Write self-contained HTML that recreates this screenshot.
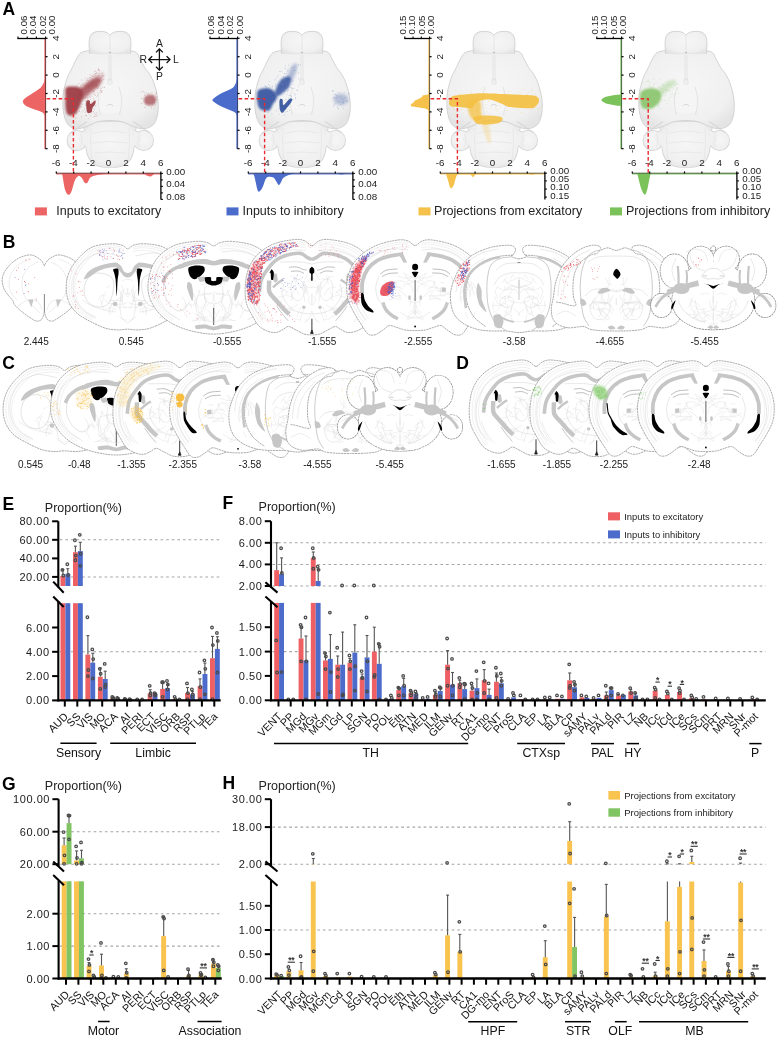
<!DOCTYPE html>
<html><head><meta charset="utf-8"><title>Figure</title>
<style>html,body{margin:0;padding:0;background:#fff;}svg{display:block;}</style>
</head><body>
<svg width="778" height="1038" viewBox="0 0 778 1038" font-family="'Liberation Sans', Arial, Helvetica, sans-serif">
<defs><filter id="blur0p5" x="-20%" y="-20%" width="140%" height="140%"><feGaussianBlur stdDeviation="0.5"/></filter><filter id="blur0p6" x="-20%" y="-20%" width="140%" height="140%"><feGaussianBlur stdDeviation="0.6"/></filter><filter id="blur0p7" x="-20%" y="-20%" width="140%" height="140%"><feGaussianBlur stdDeviation="0.7"/></filter><filter id="blur0p8" x="-20%" y="-20%" width="140%" height="140%"><feGaussianBlur stdDeviation="0.8"/></filter><filter id="blur1p0" x="-20%" y="-20%" width="140%" height="140%"><feGaussianBlur stdDeviation="1.0"/></filter><filter id="blur1p2" x="-20%" y="-20%" width="140%" height="140%"><feGaussianBlur stdDeviation="1.2"/></filter><filter id="blur1p3" x="-20%" y="-20%" width="140%" height="140%"><feGaussianBlur stdDeviation="1.3"/></filter><filter id="blur1p5" x="-20%" y="-20%" width="140%" height="140%"><feGaussianBlur stdDeviation="1.5"/></filter><filter id="blur1p6" x="-20%" y="-20%" width="140%" height="140%"><feGaussianBlur stdDeviation="1.6"/></filter><filter id="blur2p0" x="-20%" y="-20%" width="140%" height="140%"><feGaussianBlur stdDeviation="2.0"/></filter></defs>
<defs><radialGradient id="bg0" cx="0.5" cy="0.45" r="0.62"><stop offset="0" stop-color="#f6f6f6"/><stop offset="0.75" stop-color="#f0f0f0"/><stop offset="1" stop-color="#e4e4e4"/></radialGradient></defs>
<g transform="translate(0 0)">
<g fill="none" stroke="#d3d3d3" stroke-width="1.6"><ellipse cx="77" cy="140.5" rx="9.6" ry="9.8"/><ellipse cx="143.6" cy="140.5" rx="9.6" ry="9.8"/><ellipse cx="110" cy="138.5" rx="31" ry="13"/><path d="M88 123 C80.2 124.8 85.8 129.7 85.5 134 C85.2 138.3 85.8 144.8 86.5 149 C87.2 153.2 88.1 156.7 90 159.5 C91.9 162.3 94.7 164.6 98 165.8 C101.3 167.1 106 167 110 167 C114 167 118.7 167.1 122 165.8 C125.3 164.6 128.1 162.3 130 159.5 C131.9 156.7 132.8 153.2 133.5 149 C134.2 144.8 134.8 138.3 134.5 134 C134.2 129.7 139.8 124.8 132 123 C124.2 121.2 95.8 121.2 88 123Z"/></g>
<g fill="url(#bg0)" stroke="none"><ellipse cx="77" cy="140.5" rx="9.6" ry="9.8"/><ellipse cx="143.6" cy="140.5" rx="9.6" ry="9.8"/><ellipse cx="110" cy="138.5" rx="31" ry="13"/><path d="M88 123 C80.2 124.8 85.8 129.7 85.5 134 C85.2 138.3 85.8 144.8 86.5 149 C87.2 153.2 88.1 156.7 90 159.5 C91.9 162.3 94.7 164.6 98 165.8 C101.3 167.1 106 167 110 167 C114 167 118.7 167.1 122 165.8 C125.3 164.6 128.1 162.3 130 159.5 C131.9 156.7 132.8 153.2 133.5 149 C134.2 144.8 134.8 138.3 134.5 134 C134.2 129.7 139.8 124.8 132 123 C124.2 121.2 95.8 121.2 88 123Z"/></g>
<path d="M80 134 Q84 140 80 147 M140 134 Q136 140 140 147 M93 133 Q110 129 127 133 M92 143 Q110 140 128 143 M94 153 Q110 151 126 153 M91 128 Q89.5 145 92 160 M129 128 Q130.5 145 128 160" fill="none" stroke="#e4e4e4" stroke-width="0.7"/>
<path d="M84 51.5 C78.5 52.9 78.9 55.4 77 58 C75.1 60.6 73.8 64.6 72.4 67.4 C71 70.2 69.6 72.6 68.5 75 C67.4 77.4 66.8 78.8 66 81.6 C65.2 84.4 64 88.9 63.5 92 C63 95.1 62.8 97 62.8 100 C62.8 103 62.9 106.9 63.2 109.9 C63.5 112.9 64.1 115.7 64.8 118 C65.5 120.3 66.4 122.4 67.6 124 C68.8 125.6 70.3 127 72 127.8 C73.7 128.6 75.5 129 78 128.8 C80.5 128.6 83.8 127.6 87 126.5 C90.2 125.4 93.2 123 97 122 C100.8 121 105.7 120.5 110 120.5 C114.3 120.5 119.2 121 123 122 C126.8 123 129.8 125.4 133 126.5 C136.2 127.6 139.3 128.6 142 128.8 C144.7 129 147 128.3 149 127.5 C151 126.7 152.7 125.6 154 124 C155.3 122.4 156.1 120.3 156.8 118 C157.5 115.7 158 112.9 158.2 109.9 C158.4 106.9 158.3 103 158 100 C157.7 97 157.2 94.8 156.5 92 C155.8 89.2 155.2 86 154 83 C152.8 80 151.1 76.6 149.5 74 C147.9 71.4 146.1 69.9 144.5 67.4 C142.9 64.9 141.8 61.6 140 59 C138.2 56.4 139 53.1 134 51.5 C129 49.9 118.3 49.5 110 49.5 C101.7 49.5 89.5 50.1 84 51.5Z" fill="url(#bg0)" stroke="#d0d0d0" stroke-width="0.9"/>
<path d="M87 121.5 Q79 127 70.5 133 M133 121.5 Q141 127 149.5 132.5" fill="none" stroke="#c9c9c9" stroke-width="0.7"/>
<path d="M98 110 Q97 95 104 90 Q110 86 116 90 Q123 95 122 110 Q110 117 98 110Z" fill="#f5f5f5" stroke="none"/>
<path d="M101 87 Q96 100 100.5 115 M119 87 Q124 100 119.5 115" fill="none" stroke="#dedede" stroke-width="0.8"/>
<path d="M107 106 Q110 102.5 113 106" fill="none" stroke="#bdbdbd" stroke-width="0.6"/>
<path d="M109 55 L109 82 M111 55 L111 82 M108 79 h4 v5 h-4z" fill="none" stroke="#dadada" stroke-width="0.6"/>
<path d="M89.6 54 C89.2 48 88.8 43 89.4 39 C90.2 33.5 94 31.3 99.6 31.3 C105 31.3 108.2 32.6 110 35.2 C111.8 32.6 115 31.3 120.4 31.3 C126 31.3 129.8 33.5 130.6 39 C131.2 43 130.8 48 130.4 54Z" fill="url(#bg0)" stroke="none"/>
<path d="M89.6 54 C89.2 48 88.8 43 89.4 39 C90.2 33.5 94 31.3 99.6 31.3 C105 31.3 108.2 32.6 110 35.2 C111.8 32.6 115 31.3 120.4 31.3 C126 31.3 129.8 33.5 130.6 39 C131.2 43 130.8 48 130.4 54" fill="none" stroke="#d0d0d0" stroke-width="0.9"/>
<path d="M90 52 Q100 55.5 110 53 Q120 55.5 130 52" fill="none" stroke="#e3e3e3" stroke-width="0.8"/>
<path d="M110 36 V50" stroke="#dedede" stroke-width="0.7"/>
<circle cx="110" cy="52.5" r="0.9" fill="#b8b8b8"/>
</g>
<g transform="translate(0 0)">
<path d="M65.8 88 C66.7 86.4 69.1 86.7 71 86.5 C72.9 86.3 75.2 86.3 77 86.8 C78.8 87.3 80.9 88.1 82 89.5 C83.1 90.9 83.7 92.8 83.5 95 C83.3 97.2 81.9 100.5 81 103 C80.1 105.5 79.1 108.1 78 110 C76.9 111.9 76.2 113.7 74.5 114.5 C72.8 115.3 69.5 115.9 68 114.8 C66.5 113.7 66 111.1 65.6 108 C65.2 104.9 65.4 99.3 65.4 96 C65.4 92.7 64.9 89.6 65.8 88Z" fill="#a0434a" opacity="0.97" filter="url(#blur0p8)"/>
<path d="M76 97 C75.3 95.3 78.2 91.3 80 89 C81.8 86.7 84.7 84.8 87 83 C89.3 81.2 91.8 79.5 94 78.5 C96.2 77.5 98.7 76.6 100 77 C101.3 77.4 102.3 79.3 102 81 C101.7 82.7 99.8 85 98 87 C96.2 89 93.3 91 91 93 C88.7 95 86.5 98.3 84 99 C81.5 99.7 76.7 98.7 76 97Z" fill="#a0434a" opacity="0.62" filter="url(#blur1p6)"/>
<path d="M80 92 C80.3 90.3 83.8 87 86 85 C88.2 83 90.8 81 93 80 C95.2 79 98.2 78.2 99 79 C99.8 79.8 99.3 83.2 98 85 C96.7 86.8 93.3 88.3 91 90 C88.7 91.7 85.8 94.7 84 95 C82.2 95.3 79.7 93.7 80 92Z" fill="#a0434a" opacity="0.45" filter="url(#blur1p2)"/>
<path d="M84 86 C84.3 84.3 89.3 80.2 92 78 C94.7 75.8 98 73.3 100 73 C102 72.7 104.3 74.5 104 76 C103.7 77.5 100.3 80 98 82 C95.7 84 92.3 87.3 90 88 C87.7 88.7 83.7 87.7 84 86Z" fill="#a0434a" opacity="0.3" filter="url(#blur2p0)"/>
<path d="M86.5 101 C87 99.9 88.8 100 89.5 100.5 C90.2 101 89.8 103.8 90.5 104 C91.2 104.2 92.7 102.1 93.5 101.5 C94.3 100.9 95.2 100.1 95.5 100.5 C95.8 100.9 95.7 102.8 95.2 104 C94.7 105.2 93.1 106.7 92.5 108 C91.9 109.3 92.4 111.2 91.6 112 C90.8 112.8 88.4 113.6 87.5 112.8 C86.6 112 86.5 109 86.3 107 C86.1 105 86 102.1 86.5 101Z" fill="#a0434a" opacity="0.95" filter="url(#blur0p5)"/>
<path d="M145 97 C146 95.8 148.3 94.6 150 94.5 C151.7 94.4 154 95.4 155 96.5 C156 97.6 156.3 99.6 156 101 C155.7 102.4 154.5 104.3 153 105 C151.5 105.7 148.5 105.6 147 105 C145.5 104.4 144.3 102.8 144 101.5 C143.7 100.2 144 98.2 145 97Z" fill="#a0434a" opacity="0.7" filter="url(#blur1p2)"/>
<path d="M78.6 95.2h0.8v0.8h-0.8zM83.3 98.2h0.8v0.8h-0.8zM70.5 109.9h0.8v0.8h-0.8zM100.1 91.8h0.8v0.8h-0.8zM93.0 75.5h0.8v0.8h-0.8zM92.9 111.4h0.8v0.8h-0.8zM88.8 105.1h0.8v0.8h-0.8zM94.2 71.2h0.8v0.8h-0.8zM101.2 91.6h0.8v0.8h-0.8zM95.9 111.9h0.8v0.8h-0.8zM95.7 114.1h0.8v0.8h-0.8zM84.2 108.0h0.8v0.8h-0.8zM86.0 114.8h0.8v0.8h-0.8zM101.6 72.9h0.8v0.8h-0.8zM92.6 83.1h0.8v0.8h-0.8zM88.3 87.3h0.8v0.8h-0.8zM82.6 97.3h0.8v0.8h-0.8zM91.0 113.2h0.8v0.8h-0.8zM94.6 114.4h0.8v0.8h-0.8zM94.2 76.2h0.8v0.8h-0.8zM95.7 78.6h0.8v0.8h-0.8zM73.2 108.0h0.8v0.8h-0.8zM80.6 106.4h0.8v0.8h-0.8zM95.9 84.5h0.8v0.8h-0.8zM88.2 117.9h0.8v0.8h-0.8zM77.1 88.4h0.8v0.8h-0.8zM92.0 75.8h0.8v0.8h-0.8zM71.5 111.4h0.8v0.8h-0.8zM81.3 115.9h0.8v0.8h-0.8zM102.3 86.9h0.8v0.8h-0.8zM86.6 94.0h0.8v0.8h-0.8zM93.2 97.8h0.8v0.8h-0.8zM90.1 99.0h0.8v0.8h-0.8zM85.5 104.0h0.8v0.8h-0.8zM78.6 83.1h0.8v0.8h-0.8zM84.9 97.0h0.8v0.8h-0.8zM70.7 98.8h0.8v0.8h-0.8zM92.6 91.3h0.8v0.8h-0.8zM94.5 85.6h0.8v0.8h-0.8zM95.5 104.9h0.8v0.8h-0.8zM94.3 116.2h0.8v0.8h-0.8zM79.0 90.8h0.8v0.8h-0.8zM91.3 84.0h0.8v0.8h-0.8zM83.1 83.6h0.8v0.8h-0.8zM83.3 97.8h0.8v0.8h-0.8zM80.8 86.9h0.8v0.8h-0.8zM97.8 69.3h0.8v0.8h-0.8zM90.5 104.8h0.8v0.8h-0.8zM98.9 79.9h0.8v0.8h-0.8zM76.7 89.8h0.8v0.8h-0.8zM95.1 73.1h0.8v0.8h-0.8zM81.6 84.7h0.8v0.8h-0.8zM100.0 89.9h0.8v0.8h-0.8zM100.8 76.5h0.8v0.8h-0.8zM82.1 100.5h0.8v0.8h-0.8zM101.9 90.6h0.8v0.8h-0.8zM89.1 77.5h0.8v0.8h-0.8zM99.0 85.3h0.8v0.8h-0.8zM98.6 81.6h0.8v0.8h-0.8zM82.5 88.8h0.8v0.8h-0.8zM85.1 88.5h0.8v0.8h-0.8zM103.1 75.8h0.8v0.8h-0.8zM70.2 115.2h0.8v0.8h-0.8zM85.6 115.5h0.8v0.8h-0.8zM103.4 79.1h0.8v0.8h-0.8zM93.9 94.0h0.8v0.8h-0.8zM80.4 85.1h0.8v0.8h-0.8zM91.2 82.4h0.8v0.8h-0.8zM99.2 70.3h0.8v0.8h-0.8zM70.5 105.3h0.8v0.8h-0.8zM93.9 94.2h0.8v0.8h-0.8zM84.9 115.0h0.8v0.8h-0.8zM92.0 85.1h0.8v0.8h-0.8zM79.1 111.1h0.8v0.8h-0.8zM87.2 107.1h0.8v0.8h-0.8zM89.2 108.8h0.8v0.8h-0.8zM76.2 107.6h0.8v0.8h-0.8zM92.6 111.1h0.8v0.8h-0.8zM79.7 94.4h0.8v0.8h-0.8zM85.2 91.6h0.8v0.8h-0.8zM98.0 68.1h0.8v0.8h-0.8zM73.1 93.1h0.8v0.8h-0.8zM81.4 83.7h0.8v0.8h-0.8zM82.6 100.3h0.8v0.8h-0.8zM91.1 86.0h0.8v0.8h-0.8zM76.9 84.4h0.8v0.8h-0.8zM74.5 95.8h0.8v0.8h-0.8zM95.8 87.0h0.8v0.8h-0.8zM83.4 98.2h0.8v0.8h-0.8zM98.2 87.0h0.8v0.8h-0.8zM85.5 86.6h0.8v0.8h-0.8zM87.9 103.1h0.8v0.8h-0.8zM85.1 102.7h0.8v0.8h-0.8zM86.6 80.3h0.8v0.8h-0.8zM89.3 102.8h0.8v0.8h-0.8zM72.6 89.2h0.8v0.8h-0.8zM85.3 112.0h0.8v0.8h-0.8zM103.7 86.7h0.8v0.8h-0.8zM79.4 91.2h0.8v0.8h-0.8zM74.4 108.7h0.8v0.8h-0.8zM93.8 112.4h0.8v0.8h-0.8zM96.4 96.2h0.8v0.8h-0.8zM73.7 97.4h0.8v0.8h-0.8zM97.9 70.2h0.8v0.8h-0.8zM101.7 77.0h0.8v0.8h-0.8zM70.8 110.1h0.8v0.8h-0.8zM74.4 110.2h0.8v0.8h-0.8zM94.2 109.8h0.8v0.8h-0.8zM98.8 69.8h0.8v0.8h-0.8zM97.6 93.6h0.8v0.8h-0.8zM95.7 73.3h0.8v0.8h-0.8zM97.0 114.7h0.8v0.8h-0.8zM90.3 109.4h0.8v0.8h-0.8zM79.0 98.8h0.8v0.8h-0.8zM97.1 87.7h0.8v0.8h-0.8zM83.2 87.8h0.8v0.8h-0.8zM82.6 88.9h0.8v0.8h-0.8zM73.0 93.0h0.8v0.8h-0.8zM96.9 76.0h0.8v0.8h-0.8zM94.9 105.8h0.8v0.8h-0.8zM94.3 93.9h0.8v0.8h-0.8zM87.4 100.1h0.8v0.8h-0.8zM102.3 75.5h0.8v0.8h-0.8zM73.5 105.4h0.8v0.8h-0.8zM85.9 103.9h0.8v0.8h-0.8zM77.2 97.3h0.8v0.8h-0.8zM81.3 79.6h0.8v0.8h-0.8zM94.9 115.7h0.8v0.8h-0.8zM80.7 103.3h0.8v0.8h-0.8zM84.9 110.7h0.8v0.8h-0.8zM91.0 81.4h0.8v0.8h-0.8zM87.3 87.1h0.8v0.8h-0.8zM76.2 86.0h0.8v0.8h-0.8zM81.6 106.7h0.8v0.8h-0.8zM75.2 117.6h0.8v0.8h-0.8zM87.3 98.0h0.8v0.8h-0.8zM86.8 109.7h0.8v0.8h-0.8zM87.3 104.0h0.8v0.8h-0.8zM100.8 88.0h0.8v0.8h-0.8zM96.4 116.0h0.8v0.8h-0.8zM86.8 79.5h0.8v0.8h-0.8zM78.5 103.9h0.8v0.8h-0.8zM94.3 115.9h0.8v0.8h-0.8zM100.7 80.1h0.8v0.8h-0.8zM76.7 103.2h0.8v0.8h-0.8zM79.2 111.3h0.8v0.8h-0.8zM81.3 89.2h0.8v0.8h-0.8zM96.2 72.3h0.8v0.8h-0.8zM73.3 109.7h0.8v0.8h-0.8zM80.5 85.8h0.8v0.8h-0.8zM90.9 101.8h0.8v0.8h-0.8zM85.7 92.3h0.8v0.8h-0.8zM77.6 97.3h0.8v0.8h-0.8zM89.6 74.0h0.8v0.8h-0.8zM79.9 101.3h0.8v0.8h-0.8zM74.1 112.4h0.8v0.8h-0.8zM102.7 72.8h0.8v0.8h-0.8zM103.9 86.7h0.8v0.8h-0.8zM80.6 101.8h0.8v0.8h-0.8zM93.5 108.3h0.8v0.8h-0.8zM79.6 105.7h0.8v0.8h-0.8zM87.8 85.6h0.8v0.8h-0.8zM90.4 77.1h0.8v0.8h-0.8zM93.2 99.5h0.8v0.8h-0.8zM76.4 112.5h0.8v0.8h-0.8zM93.6 74.2h0.8v0.8h-0.8zM103.5 75.1h0.8v0.8h-0.8zM81.9 104.0h0.8v0.8h-0.8zM91.5 95.7h0.8v0.8h-0.8zM93.3 90.9h0.8v0.8h-0.8zM72.5 103.8h0.8v0.8h-0.8zM97.2 95.2h0.8v0.8h-0.8zM96.6 86.0h0.8v0.8h-0.8zM79.6 87.2h0.8v0.8h-0.8zM88.2 80.4h0.8v0.8h-0.8zM97.7 85.7h0.8v0.8h-0.8zM82.0 88.2h0.8v0.8h-0.8zM89.5 106.6h0.8v0.8h-0.8zM82.7 110.3h0.8v0.8h-0.8zM85.0 105.2h0.8v0.8h-0.8zM91.3 75.3h0.8v0.8h-0.8zM84.3 77.7h0.8v0.8h-0.8zM89.0 96.4h0.8v0.8h-0.8zM98.1 69.5h0.8v0.8h-0.8zM104.2 87.2h0.8v0.8h-0.8zM89.9 97.2h0.8v0.8h-0.8zM92.8 116.8h0.8v0.8h-0.8zM94.7 83.0h0.8v0.8h-0.8zM101.0 92.2h0.8v0.8h-0.8zM91.6 104.3h0.8v0.8h-0.8zM70.1 106.5h0.8v0.8h-0.8zM93.8 92.6h0.8v0.8h-0.8zM88.9 91.0h0.8v0.8h-0.8zM77.0 94.5h0.8v0.8h-0.8zM71.3 93.0h0.8v0.8h-0.8zM93.3 90.2h0.8v0.8h-0.8zM90.4 116.0h0.8v0.8h-0.8zM102.1 74.8h0.8v0.8h-0.8zM89.4 114.5h0.8v0.8h-0.8zM81.6 111.5h0.8v0.8h-0.8zM95.0 74.7h0.8v0.8h-0.8zM96.6 85.2h0.8v0.8h-0.8zM101.0 89.9h0.8v0.8h-0.8zM97.2 92.3h0.8v0.8h-0.8zM75.8 92.9h0.8v0.8h-0.8zM95.2 94.9h0.8v0.8h-0.8zM85.2 100.5h0.8v0.8h-0.8zM81.0 91.2h0.8v0.8h-0.8zM97.3 88.1h0.8v0.8h-0.8zM76.5 113.0h0.8v0.8h-0.8zM95.9 86.3h0.8v0.8h-0.8zM83.4 94.5h0.8v0.8h-0.8zM91.5 79.2h0.8v0.8h-0.8zM98.2 75.2h0.8v0.8h-0.8zM86.6 77.8h0.8v0.8h-0.8zM76.1 92.5h0.8v0.8h-0.8zM86.1 88.4h0.8v0.8h-0.8zM95.3 70.6h0.8v0.8h-0.8zM84.5 87.8h0.8v0.8h-0.8zM71.0 116.3h0.8v0.8h-0.8z" fill="#a0434a" opacity="0.35"/>
<path d="M143.7 91.9h0.8v0.8h-0.8zM148.1 93.3h0.8v0.8h-0.8zM150.6 96.9h0.8v0.8h-0.8zM142.1 91.0h0.8v0.8h-0.8zM152.4 95.5h0.8v0.8h-0.8zM153.4 99.3h0.8v0.8h-0.8zM155.9 96.0h0.8v0.8h-0.8zM144.2 95.3h0.8v0.8h-0.8zM153.8 102.6h0.8v0.8h-0.8zM145.9 91.9h0.8v0.8h-0.8zM140.5 91.8h0.8v0.8h-0.8zM142.9 90.7h0.8v0.8h-0.8zM140.9 103.1h0.8v0.8h-0.8zM155.3 94.0h0.8v0.8h-0.8zM156.6 99.5h0.8v0.8h-0.8zM153.7 108.3h0.8v0.8h-0.8zM145.2 102.1h0.8v0.8h-0.8zM156.1 91.8h0.8v0.8h-0.8zM145.0 107.0h0.8v0.8h-0.8zM141.9 97.8h0.8v0.8h-0.8zM145.7 103.6h0.8v0.8h-0.8zM155.8 93.5h0.8v0.8h-0.8zM152.6 104.7h0.8v0.8h-0.8zM154.2 101.1h0.8v0.8h-0.8zM155.7 97.3h0.8v0.8h-0.8zM147.1 94.6h0.8v0.8h-0.8zM153.3 99.6h0.8v0.8h-0.8zM144.6 93.4h0.8v0.8h-0.8zM152.3 102.1h0.8v0.8h-0.8zM152.1 97.7h0.8v0.8h-0.8zM148.3 93.1h0.8v0.8h-0.8zM147.9 105.2h0.8v0.8h-0.8zM151.5 91.9h0.8v0.8h-0.8zM144.0 106.9h0.8v0.8h-0.8zM150.9 107.6h0.8v0.8h-0.8zM154.8 99.0h0.8v0.8h-0.8zM155.2 104.7h0.8v0.8h-0.8zM145.7 97.4h0.8v0.8h-0.8zM141.2 98.0h0.8v0.8h-0.8zM156.2 92.1h0.8v0.8h-0.8z" fill="#a0434a" opacity="0.35"/>
</g>
<g transform="translate(0 0)">
<path d="M45.4 76 C45 80 44 84 40.4 88.1 C37 90.5 34 92.5 30 95 C27 96.8 24 98.5 22.8 100.8 C22.6 103 24 104.8 26.5 106.2 C30 108 35 109.5 39.9 111.2 C42.5 112.2 44.5 113.5 45 116 L45 121 L45.4 121Z" fill="#ec6464"/>
<path d="M62 173.4 C63 177 63.6 184 65 189.5 C66 193 67.5 195 69 194.8 C71 194.3 72 190 73.4 185 C74.5 180.5 75.6 177.5 78.3 175.9 C80.5 175.6 82 178 83.4 180.7 C84.5 183 85.5 183.6 86.6 183.3 C88.5 182.5 89 179 90.2 177.6 C92 176.2 94 175.6 97.4 175 C101 174.4 104 174 110 173.6 L143 173.6 C145.5 174.5 147 176.4 149.8 176.6 C152 176.5 153 174.5 154.5 173.4Z" fill="#ec6464"/>
<line x1="44.8" y1="38.5" x2="44.8" y2="149" stroke="#ec6464" stroke-width="0.9"/>
<line x1="45.6" y1="38.5" x2="45.6" y2="149" stroke="#5a1e20" stroke-width="0.85"/>
<line x1="45.4" y1="38.3" x2="47.6" y2="38.3" stroke="#000" stroke-width="1.2"/>
<text transform="translate(58.9 38.3) rotate(-90)" text-anchor="middle" font-size="9.8" fill="#222">4</text>
<line x1="45.4" y1="56.7" x2="47.6" y2="56.7" stroke="#000" stroke-width="1.2"/>
<text transform="translate(58.9 56.7) rotate(-90)" text-anchor="middle" font-size="9.8" fill="#222">2</text>
<line x1="45.4" y1="75.1" x2="47.6" y2="75.1" stroke="#000" stroke-width="1.2"/>
<text transform="translate(58.9 75.1) rotate(-90)" text-anchor="middle" font-size="9.8" fill="#222">0</text>
<line x1="45.4" y1="93.5" x2="47.6" y2="93.5" stroke="#000" stroke-width="1.2"/>
<text transform="translate(58.9 93.5) rotate(-90)" text-anchor="middle" font-size="9.8" fill="#222">-2</text>
<line x1="45.4" y1="111.9" x2="47.6" y2="111.9" stroke="#000" stroke-width="1.2"/>
<text transform="translate(58.9 111.9) rotate(-90)" text-anchor="middle" font-size="9.8" fill="#222">-4</text>
<line x1="45.4" y1="130.3" x2="47.6" y2="130.3" stroke="#000" stroke-width="1.2"/>
<text transform="translate(58.9 130.3) rotate(-90)" text-anchor="middle" font-size="9.8" fill="#222">-6</text>
<line x1="45.4" y1="148.7" x2="47.6" y2="148.7" stroke="#000" stroke-width="1.2"/>
<text transform="translate(58.9 148.7) rotate(-90)" text-anchor="middle" font-size="9.8" fill="#222">-8</text>
<line x1="17.4" y1="38.5" x2="46" y2="38.5" stroke="#000" stroke-width="1.3"/>
<line x1="18" y1="36.5" x2="18" y2="38.5" stroke="#000" stroke-width="1.1"/>
<text transform="translate(26.8 34.4) rotate(-90)" font-size="9.7" fill="#222">0.06</text>
<line x1="27.2" y1="36.5" x2="27.2" y2="38.5" stroke="#000" stroke-width="1.1"/>
<text transform="translate(36.2 34.4) rotate(-90)" font-size="9.7" fill="#222">0.04</text>
<line x1="36.4" y1="36.5" x2="36.4" y2="38.5" stroke="#000" stroke-width="1.1"/>
<text transform="translate(45.6 34.4) rotate(-90)" font-size="9.7" fill="#222">0.02</text>
<line x1="45.6" y1="36.5" x2="45.6" y2="38.5" stroke="#000" stroke-width="1.1"/>
<text transform="translate(54.9 34.4) rotate(-90)" font-size="9.7" fill="#222">0.00</text>
<line x1="56.2" y1="174.0" x2="161" y2="174.0" stroke="#ec6464" stroke-width="0.9"/>
<line x1="56.2" y1="173.2" x2="161" y2="173.2" stroke="#5a1e20" stroke-width="0.85"/>
<line x1="56.3" y1="171.4" x2="56.3" y2="173.4" stroke="#000" stroke-width="1.2"/>
<text x="56" y="165.7" text-anchor="middle" font-size="9.8" fill="#222">-6</text>
<line x1="73.7" y1="171.4" x2="73.7" y2="173.4" stroke="#000" stroke-width="1.2"/>
<text x="73.4" y="165.7" text-anchor="middle" font-size="9.8" fill="#222">-4</text>
<line x1="91.1" y1="171.4" x2="91.1" y2="173.4" stroke="#000" stroke-width="1.2"/>
<text x="90.8" y="165.7" text-anchor="middle" font-size="9.8" fill="#222">-2</text>
<line x1="108.5" y1="171.4" x2="108.5" y2="173.4" stroke="#000" stroke-width="1.2"/>
<text x="108.5" y="165.7" text-anchor="middle" font-size="9.8" fill="#222">0</text>
<line x1="125.9" y1="171.4" x2="125.9" y2="173.4" stroke="#000" stroke-width="1.2"/>
<text x="125.9" y="165.7" text-anchor="middle" font-size="9.8" fill="#222">2</text>
<line x1="143.3" y1="171.4" x2="143.3" y2="173.4" stroke="#000" stroke-width="1.2"/>
<text x="143.3" y="165.7" text-anchor="middle" font-size="9.8" fill="#222">4</text>
<line x1="160.8" y1="171.4" x2="160.8" y2="173.4" stroke="#000" stroke-width="1.2"/>
<text x="160.8" y="165.7" text-anchor="middle" font-size="9.8" fill="#222">6</text>
<line x1="160.9" y1="173" x2="160.9" y2="199.4" stroke="#000" stroke-width="1.3"/>
<line x1="160.9" y1="173.4" x2="162.9" y2="173.4" stroke="#000" stroke-width="1.1"/>
<line x1="160.9" y1="179.9" x2="162.9" y2="179.9" stroke="#000" stroke-width="1.1"/>
<line x1="160.9" y1="186.4" x2="162.9" y2="186.4" stroke="#000" stroke-width="1.1"/>
<line x1="160.9" y1="192.9" x2="162.9" y2="192.9" stroke="#000" stroke-width="1.1"/>
<line x1="160.9" y1="199.4" x2="162.9" y2="199.4" stroke="#000" stroke-width="1.1"/>
<text x="166.2" y="174.6" font-size="9.8" fill="#222">0.00</text>
<text x="166.2" y="186.9" font-size="9.8" fill="#222">0.04</text>
<text x="166.2" y="199.5" font-size="9.8" fill="#222">0.08</text>
<path d="M46.6 98.7 H73.4 V173" fill="none" stroke="#ea2a2f" stroke-width="1.4" stroke-dasharray="3.6 2.4"/>
</g>
<rect x="34.9" y="207.4" width="12" height="8" fill="#ec6464"/>
<text x="56.3" y="214.8" font-size="12.5" fill="#222" textLength="104.9" lengthAdjust="spacingAndGlyphs">Inputs to excitatory</text>
<defs><radialGradient id="bg1" cx="0.5" cy="0.45" r="0.62"><stop offset="0" stop-color="#f6f6f6"/><stop offset="0.75" stop-color="#f0f0f0"/><stop offset="1" stop-color="#e4e4e4"/></radialGradient></defs>
<g transform="translate(192 0)">
<g fill="none" stroke="#d3d3d3" stroke-width="1.6"><ellipse cx="77" cy="140.5" rx="9.6" ry="9.8"/><ellipse cx="143.6" cy="140.5" rx="9.6" ry="9.8"/><ellipse cx="110" cy="138.5" rx="31" ry="13"/><path d="M88 123 C80.2 124.8 85.8 129.7 85.5 134 C85.2 138.3 85.8 144.8 86.5 149 C87.2 153.2 88.1 156.7 90 159.5 C91.9 162.3 94.7 164.6 98 165.8 C101.3 167.1 106 167 110 167 C114 167 118.7 167.1 122 165.8 C125.3 164.6 128.1 162.3 130 159.5 C131.9 156.7 132.8 153.2 133.5 149 C134.2 144.8 134.8 138.3 134.5 134 C134.2 129.7 139.8 124.8 132 123 C124.2 121.2 95.8 121.2 88 123Z"/></g>
<g fill="url(#bg1)" stroke="none"><ellipse cx="77" cy="140.5" rx="9.6" ry="9.8"/><ellipse cx="143.6" cy="140.5" rx="9.6" ry="9.8"/><ellipse cx="110" cy="138.5" rx="31" ry="13"/><path d="M88 123 C80.2 124.8 85.8 129.7 85.5 134 C85.2 138.3 85.8 144.8 86.5 149 C87.2 153.2 88.1 156.7 90 159.5 C91.9 162.3 94.7 164.6 98 165.8 C101.3 167.1 106 167 110 167 C114 167 118.7 167.1 122 165.8 C125.3 164.6 128.1 162.3 130 159.5 C131.9 156.7 132.8 153.2 133.5 149 C134.2 144.8 134.8 138.3 134.5 134 C134.2 129.7 139.8 124.8 132 123 C124.2 121.2 95.8 121.2 88 123Z"/></g>
<path d="M80 134 Q84 140 80 147 M140 134 Q136 140 140 147 M93 133 Q110 129 127 133 M92 143 Q110 140 128 143 M94 153 Q110 151 126 153 M91 128 Q89.5 145 92 160 M129 128 Q130.5 145 128 160" fill="none" stroke="#e4e4e4" stroke-width="0.7"/>
<path d="M84 51.5 C78.5 52.9 78.9 55.4 77 58 C75.1 60.6 73.8 64.6 72.4 67.4 C71 70.2 69.6 72.6 68.5 75 C67.4 77.4 66.8 78.8 66 81.6 C65.2 84.4 64 88.9 63.5 92 C63 95.1 62.8 97 62.8 100 C62.8 103 62.9 106.9 63.2 109.9 C63.5 112.9 64.1 115.7 64.8 118 C65.5 120.3 66.4 122.4 67.6 124 C68.8 125.6 70.3 127 72 127.8 C73.7 128.6 75.5 129 78 128.8 C80.5 128.6 83.8 127.6 87 126.5 C90.2 125.4 93.2 123 97 122 C100.8 121 105.7 120.5 110 120.5 C114.3 120.5 119.2 121 123 122 C126.8 123 129.8 125.4 133 126.5 C136.2 127.6 139.3 128.6 142 128.8 C144.7 129 147 128.3 149 127.5 C151 126.7 152.7 125.6 154 124 C155.3 122.4 156.1 120.3 156.8 118 C157.5 115.7 158 112.9 158.2 109.9 C158.4 106.9 158.3 103 158 100 C157.7 97 157.2 94.8 156.5 92 C155.8 89.2 155.2 86 154 83 C152.8 80 151.1 76.6 149.5 74 C147.9 71.4 146.1 69.9 144.5 67.4 C142.9 64.9 141.8 61.6 140 59 C138.2 56.4 139 53.1 134 51.5 C129 49.9 118.3 49.5 110 49.5 C101.7 49.5 89.5 50.1 84 51.5Z" fill="url(#bg1)" stroke="#d0d0d0" stroke-width="0.9"/>
<path d="M87 121.5 Q79 127 70.5 133 M133 121.5 Q141 127 149.5 132.5" fill="none" stroke="#c9c9c9" stroke-width="0.7"/>
<path d="M98 110 Q97 95 104 90 Q110 86 116 90 Q123 95 122 110 Q110 117 98 110Z" fill="#f5f5f5" stroke="none"/>
<path d="M101 87 Q96 100 100.5 115 M119 87 Q124 100 119.5 115" fill="none" stroke="#dedede" stroke-width="0.8"/>
<path d="M107 106 Q110 102.5 113 106" fill="none" stroke="#bdbdbd" stroke-width="0.6"/>
<path d="M109 55 L109 82 M111 55 L111 82 M108 79 h4 v5 h-4z" fill="none" stroke="#dadada" stroke-width="0.6"/>
<path d="M89.6 54 C89.2 48 88.8 43 89.4 39 C90.2 33.5 94 31.3 99.6 31.3 C105 31.3 108.2 32.6 110 35.2 C111.8 32.6 115 31.3 120.4 31.3 C126 31.3 129.8 33.5 130.6 39 C131.2 43 130.8 48 130.4 54Z" fill="url(#bg1)" stroke="none"/>
<path d="M89.6 54 C89.2 48 88.8 43 89.4 39 C90.2 33.5 94 31.3 99.6 31.3 C105 31.3 108.2 32.6 110 35.2 C111.8 32.6 115 31.3 120.4 31.3 C126 31.3 129.8 33.5 130.6 39 C131.2 43 130.8 48 130.4 54" fill="none" stroke="#d0d0d0" stroke-width="0.9"/>
<path d="M90 52 Q100 55.5 110 53 Q120 55.5 130 52" fill="none" stroke="#e3e3e3" stroke-width="0.8"/>
<path d="M110 36 V50" stroke="#dedede" stroke-width="0.7"/>
<circle cx="110" cy="52.5" r="0.9" fill="#b8b8b8"/>
</g>
<g transform="translate(192 0)">
<path d="M65.7 91 C66.7 89.4 69.1 88.9 71 88.5 C72.9 88.1 75.3 87.8 77.3 88.4 C79.3 89 81.7 90.5 83 92 C84.3 93.5 85.3 95.4 85 97.4 C84.7 99.4 82.3 101.8 81 104 C79.7 106.2 79.1 109.3 77.3 110.3 C75.5 111.3 71.8 110.7 70 110 C68.2 109.3 67.2 108.4 66.4 106.4 C65.6 104.4 65.1 100.6 65 98 C64.9 95.4 64.7 92.6 65.7 91Z" fill="#34539f" opacity="0.92" filter="url(#blur1p0)"/>
<path d="M83 93 C83 91 84.7 86.5 86 84 C87.3 81.5 89.2 79.2 91 78 C92.8 76.8 95.7 76.2 97 76.5 C98.3 76.8 99 78.2 99 80 C99 81.8 98.2 85 97 87 C95.8 89 93.8 90.5 92 92 C90.2 93.5 87.5 95.8 86 96 C84.5 96.2 83 95 83 93Z" fill="#34539f" opacity="0.85" filter="url(#blur1p2)"/>
<path d="M95 78 C95.2 75.3 98.3 68.3 100 66 C101.7 63.7 104.3 63 105 64 C105.7 65 105 69 104 72 C103 75 100.5 81 99 82 C97.5 83 94.8 80.7 95 78Z" fill="#34539f" opacity="0.35" filter="url(#blur1p5)"/>
<path d="M87.6 100 C88 98.2 89.8 98.7 90.5 99.5 C91.2 100.3 90.3 105.1 91.5 105 C92.7 104.9 96 99.9 97.5 99 C99 98.1 100.3 98.7 100.4 99.5 C100.5 100.3 99.2 102.2 98 104 C96.8 105.8 94.2 108.5 93 110 C91.8 111.5 91.3 112.8 90.5 112.8 C89.7 112.8 88.5 112.1 88 110 C87.5 107.9 87.2 101.8 87.6 100Z" fill="#34539f" opacity="0.92" filter="url(#blur0p6)"/>
<path d="M142 97 C142.8 95.4 145.8 93.8 148 93.6 C150.2 93.4 153.7 94.6 155 96 C156.3 97.4 156.5 100.5 155.7 102 C154.9 103.5 152.1 104.8 150 105 C147.9 105.2 144.3 104.3 143 103 C141.7 101.7 141.2 98.6 142 97Z" fill="#34539f" opacity="0.3" filter="url(#blur1p5)"/>
<path d="M91.7 85.2h0.8v0.8h-0.8zM92.0 73.1h0.8v0.8h-0.8zM94.8 70.7h0.8v0.8h-0.8zM89.8 79.7h0.8v0.8h-0.8zM79.5 113.5h0.8v0.8h-0.8zM107.9 64.4h0.8v0.8h-0.8zM102.7 94.6h0.8v0.8h-0.8zM84.5 77.3h0.8v0.8h-0.8zM95.6 86.7h0.8v0.8h-0.8zM96.1 97.7h0.8v0.8h-0.8zM75.1 103.5h0.8v0.8h-0.8zM105.8 78.4h0.8v0.8h-0.8zM83.9 110.5h0.8v0.8h-0.8zM81.9 91.6h0.8v0.8h-0.8zM92.2 107.6h0.8v0.8h-0.8zM88.9 106.2h0.8v0.8h-0.8zM95.0 90.8h0.8v0.8h-0.8zM102.5 70.1h0.8v0.8h-0.8zM91.6 82.2h0.8v0.8h-0.8zM92.8 68.1h0.8v0.8h-0.8zM99.5 67.2h0.8v0.8h-0.8zM76.3 105.6h0.8v0.8h-0.8zM106.0 85.4h0.8v0.8h-0.8zM85.7 75.3h0.8v0.8h-0.8zM80.4 95.3h0.8v0.8h-0.8zM87.3 70.9h0.8v0.8h-0.8zM94.7 106.3h0.8v0.8h-0.8zM99.5 87.9h0.8v0.8h-0.8zM83.2 85.5h0.8v0.8h-0.8zM70.2 100.5h0.8v0.8h-0.8zM82.6 79.2h0.8v0.8h-0.8zM73.0 86.2h0.8v0.8h-0.8zM92.1 83.1h0.8v0.8h-0.8zM103.0 98.4h0.8v0.8h-0.8zM79.2 90.4h0.8v0.8h-0.8zM104.6 90.1h0.8v0.8h-0.8zM92.9 65.4h0.8v0.8h-0.8zM88.6 86.9h0.8v0.8h-0.8zM85.2 84.7h0.8v0.8h-0.8zM92.2 91.1h0.8v0.8h-0.8zM88.6 71.0h0.8v0.8h-0.8zM86.8 114.3h0.8v0.8h-0.8zM70.1 90.9h0.8v0.8h-0.8zM74.1 86.5h0.8v0.8h-0.8zM87.4 85.6h0.8v0.8h-0.8zM89.0 86.1h0.8v0.8h-0.8zM96.5 84.9h0.8v0.8h-0.8zM94.7 111.1h0.8v0.8h-0.8zM93.5 99.1h0.8v0.8h-0.8zM94.4 93.8h0.8v0.8h-0.8zM101.5 87.9h0.8v0.8h-0.8zM86.5 108.4h0.8v0.8h-0.8zM97.3 110.0h0.8v0.8h-0.8zM71.8 111.3h0.8v0.8h-0.8zM95.5 69.6h0.8v0.8h-0.8zM92.6 111.7h0.8v0.8h-0.8zM77.3 80.9h0.8v0.8h-0.8zM87.6 102.2h0.8v0.8h-0.8zM96.4 90.2h0.8v0.8h-0.8zM86.1 97.9h0.8v0.8h-0.8zM91.1 76.4h0.8v0.8h-0.8zM83.8 95.9h0.8v0.8h-0.8zM93.8 73.3h0.8v0.8h-0.8zM93.2 109.2h0.8v0.8h-0.8zM103.1 97.2h0.8v0.8h-0.8zM72.7 84.9h0.8v0.8h-0.8zM79.7 86.7h0.8v0.8h-0.8zM98.9 96.0h0.8v0.8h-0.8zM80.7 99.5h0.8v0.8h-0.8zM89.2 89.4h0.8v0.8h-0.8zM80.0 85.8h0.8v0.8h-0.8zM83.0 101.2h0.8v0.8h-0.8zM88.3 86.1h0.8v0.8h-0.8zM88.1 87.9h0.8v0.8h-0.8zM96.2 100.9h0.8v0.8h-0.8zM100.4 83.9h0.8v0.8h-0.8zM72.5 107.8h0.8v0.8h-0.8zM82.5 79.4h0.8v0.8h-0.8zM98.1 95.0h0.8v0.8h-0.8zM78.4 102.2h0.8v0.8h-0.8zM106.1 72.4h0.8v0.8h-0.8zM91.7 85.7h0.8v0.8h-0.8zM102.2 93.0h0.8v0.8h-0.8zM89.9 105.7h0.8v0.8h-0.8zM96.3 64.7h0.8v0.8h-0.8zM91.5 108.4h0.8v0.8h-0.8zM85.1 94.5h0.8v0.8h-0.8zM93.0 108.7h0.8v0.8h-0.8zM105.0 89.6h0.8v0.8h-0.8zM83.3 83.5h0.8v0.8h-0.8zM92.0 80.8h0.8v0.8h-0.8zM75.5 108.7h0.8v0.8h-0.8zM96.8 94.9h0.8v0.8h-0.8zM76.7 106.5h0.8v0.8h-0.8zM101.2 80.5h0.8v0.8h-0.8zM91.2 86.8h0.8v0.8h-0.8zM77.4 85.4h0.8v0.8h-0.8zM75.8 112.3h0.8v0.8h-0.8zM77.1 96.2h0.8v0.8h-0.8zM91.7 114.6h0.8v0.8h-0.8zM100.2 81.5h0.8v0.8h-0.8zM106.1 64.7h0.8v0.8h-0.8zM76.7 96.4h0.8v0.8h-0.8zM106.0 64.3h0.8v0.8h-0.8zM92.7 85.2h0.8v0.8h-0.8zM76.2 83.9h0.8v0.8h-0.8zM98.6 87.3h0.8v0.8h-0.8zM76.6 109.5h0.8v0.8h-0.8zM92.1 84.7h0.8v0.8h-0.8zM89.5 110.1h0.8v0.8h-0.8z" fill="#34539f" opacity="0.35"/>
<path d="M146.7 91.9h0.8v0.8h-0.8zM156.3 92.4h0.8v0.8h-0.8zM141.8 104.4h0.8v0.8h-0.8zM145.3 95.8h0.8v0.8h-0.8zM151.0 107.8h0.8v0.8h-0.8zM145.9 108.1h0.8v0.8h-0.8zM150.5 102.2h0.8v0.8h-0.8zM142.7 103.5h0.8v0.8h-0.8zM151.8 91.9h0.8v0.8h-0.8zM150.8 99.5h0.8v0.8h-0.8zM149.8 98.0h0.8v0.8h-0.8zM143.7 97.1h0.8v0.8h-0.8zM156.5 93.8h0.8v0.8h-0.8zM154.7 100.6h0.8v0.8h-0.8zM141.3 106.2h0.8v0.8h-0.8zM145.8 108.4h0.8v0.8h-0.8zM152.4 97.2h0.8v0.8h-0.8zM142.9 94.1h0.8v0.8h-0.8zM144.9 106.4h0.8v0.8h-0.8zM144.2 94.9h0.8v0.8h-0.8zM150.4 101.7h0.8v0.8h-0.8zM147.1 101.0h0.8v0.8h-0.8zM140.5 90.1h0.8v0.8h-0.8zM140.5 91.1h0.8v0.8h-0.8zM142.1 97.7h0.8v0.8h-0.8zM151.2 102.5h0.8v0.8h-0.8zM155.3 101.0h0.8v0.8h-0.8zM140.9 97.5h0.8v0.8h-0.8zM147.8 96.7h0.8v0.8h-0.8zM148.3 104.2h0.8v0.8h-0.8z" fill="#34539f" opacity="0.35"/>
</g>
<g transform="translate(192 0)">
<path d="M45.4 76 C45 80 44 84 41.5 87.3 C38 89.8 34.5 91.2 30.3 92.8 C26 95 22.5 97.5 20.2 100 C21 101.6 23 103 26.5 105 C31 107.3 36 109.5 40.7 111.2 C43 112.2 44.5 113.3 45 116 L45 121 L45.4 121Z" fill="#4c6ccb"/>
<path d="M61.4 173.4 C62.5 176 63.2 180 64.3 185 C65 189 65.8 191.5 66.8 191.8 C68.5 191.5 70.5 188.5 72 183.6 C73 180 73.8 178 75.5 177 C77.5 176.5 80 176.6 81.5 177.6 C83.5 179.5 85.5 184 86.8 185.3 C88.3 184.5 89.2 181.5 90.4 179 C91.8 177 93.5 176 97.4 174.7 C100 174 103 173.7 108 173.6 L145 173.6 C147 174.5 150 175 154 173.5Z" fill="#4c6ccb"/>
<line x1="44.8" y1="38.5" x2="44.8" y2="149" stroke="#4c6ccb" stroke-width="0.9"/>
<line x1="45.6" y1="38.5" x2="45.6" y2="149" stroke="#1c2656" stroke-width="0.85"/>
<line x1="45.4" y1="38.3" x2="47.6" y2="38.3" stroke="#000" stroke-width="1.2"/>
<text transform="translate(58.9 38.3) rotate(-90)" text-anchor="middle" font-size="9.8" fill="#222">4</text>
<line x1="45.4" y1="56.7" x2="47.6" y2="56.7" stroke="#000" stroke-width="1.2"/>
<text transform="translate(58.9 56.7) rotate(-90)" text-anchor="middle" font-size="9.8" fill="#222">2</text>
<line x1="45.4" y1="75.1" x2="47.6" y2="75.1" stroke="#000" stroke-width="1.2"/>
<text transform="translate(58.9 75.1) rotate(-90)" text-anchor="middle" font-size="9.8" fill="#222">0</text>
<line x1="45.4" y1="93.5" x2="47.6" y2="93.5" stroke="#000" stroke-width="1.2"/>
<text transform="translate(58.9 93.5) rotate(-90)" text-anchor="middle" font-size="9.8" fill="#222">-2</text>
<line x1="45.4" y1="111.9" x2="47.6" y2="111.9" stroke="#000" stroke-width="1.2"/>
<text transform="translate(58.9 111.9) rotate(-90)" text-anchor="middle" font-size="9.8" fill="#222">-4</text>
<line x1="45.4" y1="130.3" x2="47.6" y2="130.3" stroke="#000" stroke-width="1.2"/>
<text transform="translate(58.9 130.3) rotate(-90)" text-anchor="middle" font-size="9.8" fill="#222">-6</text>
<line x1="45.4" y1="148.7" x2="47.6" y2="148.7" stroke="#000" stroke-width="1.2"/>
<text transform="translate(58.9 148.7) rotate(-90)" text-anchor="middle" font-size="9.8" fill="#222">-8</text>
<line x1="17.4" y1="38.5" x2="46" y2="38.5" stroke="#000" stroke-width="1.3"/>
<line x1="18" y1="36.5" x2="18" y2="38.5" stroke="#000" stroke-width="1.1"/>
<text transform="translate(22.1 34.4) rotate(-90)" font-size="9.7" fill="#222">0.06</text>
<line x1="27.2" y1="36.5" x2="27.2" y2="38.5" stroke="#000" stroke-width="1.1"/>
<text transform="translate(31.6 34.4) rotate(-90)" font-size="9.7" fill="#222">0.04</text>
<line x1="36.4" y1="36.5" x2="36.4" y2="38.5" stroke="#000" stroke-width="1.1"/>
<text transform="translate(41.4 34.4) rotate(-90)" font-size="9.7" fill="#222">0.02</text>
<line x1="45.6" y1="36.5" x2="45.6" y2="38.5" stroke="#000" stroke-width="1.1"/>
<text transform="translate(50.7 34.4) rotate(-90)" font-size="9.7" fill="#222">0.00</text>
<line x1="56.2" y1="174.0" x2="161" y2="174.0" stroke="#4c6ccb" stroke-width="0.9"/>
<line x1="56.2" y1="173.2" x2="161" y2="173.2" stroke="#1c2656" stroke-width="0.85"/>
<line x1="56.3" y1="171.4" x2="56.3" y2="173.4" stroke="#000" stroke-width="1.2"/>
<text x="56" y="165.7" text-anchor="middle" font-size="9.8" fill="#222">-6</text>
<line x1="73.7" y1="171.4" x2="73.7" y2="173.4" stroke="#000" stroke-width="1.2"/>
<text x="73.4" y="165.7" text-anchor="middle" font-size="9.8" fill="#222">-4</text>
<line x1="91.1" y1="171.4" x2="91.1" y2="173.4" stroke="#000" stroke-width="1.2"/>
<text x="90.8" y="165.7" text-anchor="middle" font-size="9.8" fill="#222">-2</text>
<line x1="108.5" y1="171.4" x2="108.5" y2="173.4" stroke="#000" stroke-width="1.2"/>
<text x="108.5" y="165.7" text-anchor="middle" font-size="9.8" fill="#222">0</text>
<line x1="125.9" y1="171.4" x2="125.9" y2="173.4" stroke="#000" stroke-width="1.2"/>
<text x="125.9" y="165.7" text-anchor="middle" font-size="9.8" fill="#222">2</text>
<line x1="143.3" y1="171.4" x2="143.3" y2="173.4" stroke="#000" stroke-width="1.2"/>
<text x="143.3" y="165.7" text-anchor="middle" font-size="9.8" fill="#222">4</text>
<line x1="160.8" y1="171.4" x2="160.8" y2="173.4" stroke="#000" stroke-width="1.2"/>
<text x="160.8" y="165.7" text-anchor="middle" font-size="9.8" fill="#222">6</text>
<line x1="160.9" y1="173" x2="160.9" y2="199.4" stroke="#000" stroke-width="1.3"/>
<line x1="160.9" y1="173.4" x2="162.9" y2="173.4" stroke="#000" stroke-width="1.1"/>
<line x1="160.9" y1="179.9" x2="162.9" y2="179.9" stroke="#000" stroke-width="1.1"/>
<line x1="160.9" y1="186.4" x2="162.9" y2="186.4" stroke="#000" stroke-width="1.1"/>
<line x1="160.9" y1="192.9" x2="162.9" y2="192.9" stroke="#000" stroke-width="1.1"/>
<line x1="160.9" y1="199.4" x2="162.9" y2="199.4" stroke="#000" stroke-width="1.1"/>
<text x="166.2" y="174.6" font-size="9.8" fill="#222">0.00</text>
<text x="166.2" y="186.9" font-size="9.8" fill="#222">0.04</text>
<text x="166.2" y="199.5" font-size="9.8" fill="#222">0.08</text>
<path d="M46.6 98.7 H72.6 V173" fill="none" stroke="#ea2a2f" stroke-width="1.4" stroke-dasharray="3.6 2.4"/>
</g>
<rect x="226.5" y="207.4" width="12" height="8" fill="#4c6ccb"/>
<text x="242.5" y="214.8" font-size="12.5" fill="#222" textLength="101.2" lengthAdjust="spacingAndGlyphs">Inputs to inhibitory</text>
<defs><radialGradient id="bg2" cx="0.5" cy="0.45" r="0.62"><stop offset="0" stop-color="#f6f6f6"/><stop offset="0.75" stop-color="#f0f0f0"/><stop offset="1" stop-color="#e4e4e4"/></radialGradient></defs>
<g transform="translate(384 0)">
<g fill="none" stroke="#d3d3d3" stroke-width="1.6"><ellipse cx="77" cy="140.5" rx="9.6" ry="9.8"/><ellipse cx="143.6" cy="140.5" rx="9.6" ry="9.8"/><ellipse cx="110" cy="138.5" rx="31" ry="13"/><path d="M88 123 C80.2 124.8 85.8 129.7 85.5 134 C85.2 138.3 85.8 144.8 86.5 149 C87.2 153.2 88.1 156.7 90 159.5 C91.9 162.3 94.7 164.6 98 165.8 C101.3 167.1 106 167 110 167 C114 167 118.7 167.1 122 165.8 C125.3 164.6 128.1 162.3 130 159.5 C131.9 156.7 132.8 153.2 133.5 149 C134.2 144.8 134.8 138.3 134.5 134 C134.2 129.7 139.8 124.8 132 123 C124.2 121.2 95.8 121.2 88 123Z"/></g>
<g fill="url(#bg2)" stroke="none"><ellipse cx="77" cy="140.5" rx="9.6" ry="9.8"/><ellipse cx="143.6" cy="140.5" rx="9.6" ry="9.8"/><ellipse cx="110" cy="138.5" rx="31" ry="13"/><path d="M88 123 C80.2 124.8 85.8 129.7 85.5 134 C85.2 138.3 85.8 144.8 86.5 149 C87.2 153.2 88.1 156.7 90 159.5 C91.9 162.3 94.7 164.6 98 165.8 C101.3 167.1 106 167 110 167 C114 167 118.7 167.1 122 165.8 C125.3 164.6 128.1 162.3 130 159.5 C131.9 156.7 132.8 153.2 133.5 149 C134.2 144.8 134.8 138.3 134.5 134 C134.2 129.7 139.8 124.8 132 123 C124.2 121.2 95.8 121.2 88 123Z"/></g>
<path d="M80 134 Q84 140 80 147 M140 134 Q136 140 140 147 M93 133 Q110 129 127 133 M92 143 Q110 140 128 143 M94 153 Q110 151 126 153 M91 128 Q89.5 145 92 160 M129 128 Q130.5 145 128 160" fill="none" stroke="#e4e4e4" stroke-width="0.7"/>
<path d="M84 51.5 C78.5 52.9 78.9 55.4 77 58 C75.1 60.6 73.8 64.6 72.4 67.4 C71 70.2 69.6 72.6 68.5 75 C67.4 77.4 66.8 78.8 66 81.6 C65.2 84.4 64 88.9 63.5 92 C63 95.1 62.8 97 62.8 100 C62.8 103 62.9 106.9 63.2 109.9 C63.5 112.9 64.1 115.7 64.8 118 C65.5 120.3 66.4 122.4 67.6 124 C68.8 125.6 70.3 127 72 127.8 C73.7 128.6 75.5 129 78 128.8 C80.5 128.6 83.8 127.6 87 126.5 C90.2 125.4 93.2 123 97 122 C100.8 121 105.7 120.5 110 120.5 C114.3 120.5 119.2 121 123 122 C126.8 123 129.8 125.4 133 126.5 C136.2 127.6 139.3 128.6 142 128.8 C144.7 129 147 128.3 149 127.5 C151 126.7 152.7 125.6 154 124 C155.3 122.4 156.1 120.3 156.8 118 C157.5 115.7 158 112.9 158.2 109.9 C158.4 106.9 158.3 103 158 100 C157.7 97 157.2 94.8 156.5 92 C155.8 89.2 155.2 86 154 83 C152.8 80 151.1 76.6 149.5 74 C147.9 71.4 146.1 69.9 144.5 67.4 C142.9 64.9 141.8 61.6 140 59 C138.2 56.4 139 53.1 134 51.5 C129 49.9 118.3 49.5 110 49.5 C101.7 49.5 89.5 50.1 84 51.5Z" fill="url(#bg2)" stroke="#d0d0d0" stroke-width="0.9"/>
<path d="M87 121.5 Q79 127 70.5 133 M133 121.5 Q141 127 149.5 132.5" fill="none" stroke="#c9c9c9" stroke-width="0.7"/>
<path d="M98 110 Q97 95 104 90 Q110 86 116 90 Q123 95 122 110 Q110 117 98 110Z" fill="#f5f5f5" stroke="none"/>
<path d="M101 87 Q96 100 100.5 115 M119 87 Q124 100 119.5 115" fill="none" stroke="#dedede" stroke-width="0.8"/>
<path d="M107 106 Q110 102.5 113 106" fill="none" stroke="#bdbdbd" stroke-width="0.6"/>
<path d="M109 55 L109 82 M111 55 L111 82 M108 79 h4 v5 h-4z" fill="none" stroke="#dadada" stroke-width="0.6"/>
<path d="M89.6 54 C89.2 48 88.8 43 89.4 39 C90.2 33.5 94 31.3 99.6 31.3 C105 31.3 108.2 32.6 110 35.2 C111.8 32.6 115 31.3 120.4 31.3 C126 31.3 129.8 33.5 130.6 39 C131.2 43 130.8 48 130.4 54Z" fill="url(#bg2)" stroke="none"/>
<path d="M89.6 54 C89.2 48 88.8 43 89.4 39 C90.2 33.5 94 31.3 99.6 31.3 C105 31.3 108.2 32.6 110 35.2 C111.8 32.6 115 31.3 120.4 31.3 C126 31.3 129.8 33.5 130.6 39 C131.2 43 130.8 48 130.4 54" fill="none" stroke="#d0d0d0" stroke-width="0.9"/>
<path d="M90 52 Q100 55.5 110 53 Q120 55.5 130 52" fill="none" stroke="#e3e3e3" stroke-width="0.8"/>
<path d="M110 36 V50" stroke="#dedede" stroke-width="0.7"/>
<circle cx="110" cy="52.5" r="0.9" fill="#b8b8b8"/>
</g>
<g transform="translate(384 0)">
<path d="M65.2 100.5 C65.6 98.8 66.2 97.2 68.7 96.2 C71.2 95.2 76 95 80 94.5 C84 94 88.5 93.6 92.8 93.4 C97.1 93.2 101.5 93.4 106 93.5 C110.5 93.6 114.4 93.9 119.6 94.1 C124.8 94.3 131.6 94.4 137 94.8 C142.4 95.2 149.2 95.1 152.2 96.2 C155.2 97.3 155 99.6 155 101.2 C155 102.8 153.2 104.8 152 106 C150.8 107.2 150.3 107.9 148 108.2 C145.7 108.5 141.1 108.1 138 108 C134.9 107.9 131.8 107.7 129.5 107.5 C127.2 107.3 126.2 107.5 123.9 106.8 C121.7 106 119.1 104.2 116 103 C112.9 101.8 108.7 99.9 105.5 99.5 C102.3 99.1 99.3 99.9 97 100.5 C94.7 101.1 92.9 102 91.4 103.3 C89.9 104.5 89.1 107.2 88 108 C86.9 108.8 86.6 108.1 85 108 C83.4 107.9 81.7 107.8 78.6 107.5 C75.5 107.2 68.8 107.3 66.6 106.1 C64.4 104.9 64.8 102.2 65.2 100.5Z" fill="#f5c040" opacity="0.9" filter="url(#blur0p7)"/>
<path d="M84 104 C85 101.3 89.8 100.2 92 100 C94.2 99.8 96.2 101 97 103 C97.8 105 96.8 109.5 97 112 C97.2 114.5 98.8 116.5 98 118 C97.2 119.5 94 121.3 92 121 C90 120.7 87.3 118.8 86 116 C84.7 113.2 83 106.7 84 104Z" fill="#f5c040" opacity="0.75" filter="url(#blur0p8)"/>
<path d="M90 117 C91.6 116.1 96.3 115.7 100 115.5 C103.7 115.3 108.9 115.6 112 116 C115.1 116.4 117.8 116.9 118.5 118 C119.2 119.1 118.2 121.4 116 122.5 C113.8 123.6 108.7 124.2 105 124.5 C101.3 124.8 96.4 124.6 94 124 C91.6 123.4 91.2 122.2 90.5 121 C89.8 119.8 88.4 117.9 90 117Z" fill="#f5c040" opacity="0.85" filter="url(#blur0p7)"/>
<path d="M98 123 C98.2 120 102.5 120 104 123 C105.5 126 107.2 138 107 141 C106.8 144 104.5 144 103 141 C101.5 138 97.8 126 98 123Z" fill="#f5c040" opacity="0.25" filter="url(#blur1p2)"/>
<path d="M111.5 109.0h0.8v0.8h-0.8zM151.4 95.5h0.8v0.8h-0.8zM133.7 106.3h0.8v0.8h-0.8zM124.2 90.9h0.8v0.8h-0.8zM66.5 98.0h0.8v0.8h-0.8zM131.9 94.6h0.8v0.8h-0.8zM109.6 96.3h0.8v0.8h-0.8zM69.7 109.1h0.8v0.8h-0.8zM143.7 91.9h0.8v0.8h-0.8zM128.2 102.5h0.8v0.8h-0.8zM150.9 93.5h0.8v0.8h-0.8zM113.1 110.9h0.8v0.8h-0.8zM122.1 96.0h0.8v0.8h-0.8zM71.4 112.4h0.8v0.8h-0.8zM76.9 109.1h0.8v0.8h-0.8zM138.0 111.9h0.8v0.8h-0.8zM65.6 97.7h0.8v0.8h-0.8zM68.7 107.6h0.8v0.8h-0.8zM96.3 112.9h0.8v0.8h-0.8zM98.1 108.1h0.8v0.8h-0.8zM143.0 94.2h0.8v0.8h-0.8zM111.9 97.4h0.8v0.8h-0.8zM88.3 108.4h0.8v0.8h-0.8zM81.5 103.7h0.8v0.8h-0.8zM114.6 102.4h0.8v0.8h-0.8zM75.8 105.1h0.8v0.8h-0.8zM147.4 96.3h0.8v0.8h-0.8zM94.2 111.6h0.8v0.8h-0.8zM116.6 95.1h0.8v0.8h-0.8zM64.9 107.6h0.8v0.8h-0.8zM95.7 100.1h0.8v0.8h-0.8zM88.8 104.5h0.8v0.8h-0.8zM130.3 96.1h0.8v0.8h-0.8zM70.8 113.7h0.8v0.8h-0.8zM146.8 88.5h0.8v0.8h-0.8zM115.3 105.8h0.8v0.8h-0.8zM100.7 107.0h0.8v0.8h-0.8zM151.3 103.3h0.8v0.8h-0.8zM99.6 93.1h0.8v0.8h-0.8zM86.9 91.9h0.8v0.8h-0.8zM74.0 93.5h0.8v0.8h-0.8zM140.6 102.0h0.8v0.8h-0.8zM137.2 111.9h0.8v0.8h-0.8zM137.8 89.3h0.8v0.8h-0.8zM148.3 90.4h0.8v0.8h-0.8zM134.2 109.8h0.8v0.8h-0.8zM123.8 98.5h0.8v0.8h-0.8zM70.8 90.2h0.8v0.8h-0.8zM121.9 94.3h0.8v0.8h-0.8zM112.4 94.9h0.8v0.8h-0.8zM78.9 95.7h0.8v0.8h-0.8zM130.0 100.7h0.8v0.8h-0.8zM99.7 100.6h0.8v0.8h-0.8zM114.4 101.4h0.8v0.8h-0.8zM132.4 94.0h0.8v0.8h-0.8zM93.0 92.9h0.8v0.8h-0.8zM97.1 88.7h0.8v0.8h-0.8zM131.7 102.8h0.8v0.8h-0.8zM102.5 111.2h0.8v0.8h-0.8zM93.9 103.0h0.8v0.8h-0.8zM148.6 102.5h0.8v0.8h-0.8zM119.8 97.6h0.8v0.8h-0.8zM154.8 107.6h0.8v0.8h-0.8zM91.6 97.2h0.8v0.8h-0.8zM117.8 101.5h0.8v0.8h-0.8zM111.6 93.0h0.8v0.8h-0.8zM116.4 106.3h0.8v0.8h-0.8zM133.6 99.7h0.8v0.8h-0.8zM104.5 101.1h0.8v0.8h-0.8zM112.8 100.3h0.8v0.8h-0.8zM65.1 94.8h0.8v0.8h-0.8zM153.9 109.5h0.8v0.8h-0.8zM106.5 107.6h0.8v0.8h-0.8zM83.2 94.9h0.8v0.8h-0.8zM111.1 106.2h0.8v0.8h-0.8zM66.5 100.3h0.8v0.8h-0.8zM146.5 103.9h0.8v0.8h-0.8zM154.4 90.6h0.8v0.8h-0.8zM146.7 109.8h0.8v0.8h-0.8zM66.4 102.0h0.8v0.8h-0.8zM133.1 93.8h0.8v0.8h-0.8zM123.1 110.1h0.8v0.8h-0.8zM136.2 99.1h0.8v0.8h-0.8zM69.3 102.0h0.8v0.8h-0.8zM81.1 102.0h0.8v0.8h-0.8zM88.5 97.0h0.8v0.8h-0.8zM113.5 109.3h0.8v0.8h-0.8zM152.8 98.5h0.8v0.8h-0.8zM64.7 107.5h0.8v0.8h-0.8zM94.9 107.7h0.8v0.8h-0.8zM139.6 88.9h0.8v0.8h-0.8zM130.5 95.4h0.8v0.8h-0.8zM93.3 96.7h0.8v0.8h-0.8zM113.0 94.3h0.8v0.8h-0.8zM109.0 95.4h0.8v0.8h-0.8zM75.3 94.5h0.8v0.8h-0.8zM126.0 96.1h0.8v0.8h-0.8zM82.2 97.5h0.8v0.8h-0.8zM135.6 91.9h0.8v0.8h-0.8zM90.7 99.3h0.8v0.8h-0.8zM112.1 98.1h0.8v0.8h-0.8zM111.6 107.8h0.8v0.8h-0.8zM78.0 102.5h0.8v0.8h-0.8zM79.0 101.9h0.8v0.8h-0.8zM92.9 108.9h0.8v0.8h-0.8zM101.1 104.0h0.8v0.8h-0.8zM79.3 106.5h0.8v0.8h-0.8zM134.8 99.1h0.8v0.8h-0.8zM93.3 107.7h0.8v0.8h-0.8zM132.3 108.8h0.8v0.8h-0.8zM90.3 94.3h0.8v0.8h-0.8zM86.8 93.0h0.8v0.8h-0.8zM64.6 91.2h0.8v0.8h-0.8zM108.8 99.2h0.8v0.8h-0.8zM145.0 97.8h0.8v0.8h-0.8zM79.5 112.2h0.8v0.8h-0.8zM70.6 96.8h0.8v0.8h-0.8zM133.5 96.4h0.8v0.8h-0.8zM151.7 107.3h0.8v0.8h-0.8zM92.1 110.4h0.8v0.8h-0.8z" fill="#f5c040" opacity="0.4"/>
</g>
<g transform="translate(384 0)">
<path d="M45.4 94.3 L38.5 95.4 L38.2 96.8 L35.7 98.5 L31 100.4 L29.8 102.3 L27 104.2 L26.8 106.3 L35 107.4 L41.4 108.4 L44.4 110 L45 113 L44.6 116 L44.6 132 L45.4 132Z" fill="#f6c14b"/>
<path d="M61.8 173.4 C62.6 175 63.3 178 64.5 182 C65.5 186 66 188.3 67 188.3 C68.5 188 69.5 186 70.5 183 C71.2 180 72 176.5 73.5 174.3 L86.2 174.2 C87.5 175 88.3 177 89.1 177 C90 177 90.6 175 91.3 174.2 L145 174 C147 175 149 175 152 173.6Z" fill="#f6c14b"/>
<line x1="44.8" y1="38.5" x2="44.8" y2="149" stroke="#f6c14b" stroke-width="0.9"/>
<line x1="45.6" y1="38.5" x2="45.6" y2="149" stroke="#4a4020" stroke-width="0.85"/>
<line x1="45.4" y1="38.3" x2="47.6" y2="38.3" stroke="#000" stroke-width="1.2"/>
<text transform="translate(58.9 38.3) rotate(-90)" text-anchor="middle" font-size="9.8" fill="#222">4</text>
<line x1="45.4" y1="56.7" x2="47.6" y2="56.7" stroke="#000" stroke-width="1.2"/>
<text transform="translate(58.9 56.7) rotate(-90)" text-anchor="middle" font-size="9.8" fill="#222">2</text>
<line x1="45.4" y1="75.1" x2="47.6" y2="75.1" stroke="#000" stroke-width="1.2"/>
<text transform="translate(58.9 75.1) rotate(-90)" text-anchor="middle" font-size="9.8" fill="#222">0</text>
<line x1="45.4" y1="93.5" x2="47.6" y2="93.5" stroke="#000" stroke-width="1.2"/>
<text transform="translate(58.9 93.5) rotate(-90)" text-anchor="middle" font-size="9.8" fill="#222">-2</text>
<line x1="45.4" y1="111.9" x2="47.6" y2="111.9" stroke="#000" stroke-width="1.2"/>
<text transform="translate(58.9 111.9) rotate(-90)" text-anchor="middle" font-size="9.8" fill="#222">-4</text>
<line x1="45.4" y1="130.3" x2="47.6" y2="130.3" stroke="#000" stroke-width="1.2"/>
<text transform="translate(58.9 130.3) rotate(-90)" text-anchor="middle" font-size="9.8" fill="#222">-6</text>
<line x1="45.4" y1="148.7" x2="47.6" y2="148.7" stroke="#000" stroke-width="1.2"/>
<text transform="translate(58.9 148.7) rotate(-90)" text-anchor="middle" font-size="9.8" fill="#222">-8</text>
<line x1="20.2" y1="38.5" x2="46" y2="38.5" stroke="#000" stroke-width="1.3"/>
<line x1="20.8" y1="36.5" x2="20.8" y2="38.5" stroke="#000" stroke-width="1.1"/>
<text transform="translate(21.8 34.4) rotate(-90)" font-size="9.7" fill="#222">0.15</text>
<line x1="29" y1="36.5" x2="29" y2="38.5" stroke="#000" stroke-width="1.1"/>
<text transform="translate(30.8 34.4) rotate(-90)" font-size="9.7" fill="#222">0.10</text>
<line x1="37.3" y1="36.5" x2="37.3" y2="38.5" stroke="#000" stroke-width="1.1"/>
<text transform="translate(40.5 34.4) rotate(-90)" font-size="9.7" fill="#222">0.05</text>
<line x1="45.6" y1="36.5" x2="45.6" y2="38.5" stroke="#000" stroke-width="1.1"/>
<text transform="translate(50.2 34.4) rotate(-90)" font-size="9.7" fill="#222">0.00</text>
<line x1="56.2" y1="174.0" x2="161" y2="174.0" stroke="#f6c14b" stroke-width="0.9"/>
<line x1="56.2" y1="173.2" x2="161" y2="173.2" stroke="#4a4020" stroke-width="0.85"/>
<line x1="56.3" y1="171.4" x2="56.3" y2="173.4" stroke="#000" stroke-width="1.2"/>
<text x="56" y="165.7" text-anchor="middle" font-size="9.8" fill="#222">-6</text>
<line x1="73.7" y1="171.4" x2="73.7" y2="173.4" stroke="#000" stroke-width="1.2"/>
<text x="73.4" y="165.7" text-anchor="middle" font-size="9.8" fill="#222">-4</text>
<line x1="91.1" y1="171.4" x2="91.1" y2="173.4" stroke="#000" stroke-width="1.2"/>
<text x="90.8" y="165.7" text-anchor="middle" font-size="9.8" fill="#222">-2</text>
<line x1="108.5" y1="171.4" x2="108.5" y2="173.4" stroke="#000" stroke-width="1.2"/>
<text x="108.5" y="165.7" text-anchor="middle" font-size="9.8" fill="#222">0</text>
<line x1="125.9" y1="171.4" x2="125.9" y2="173.4" stroke="#000" stroke-width="1.2"/>
<text x="125.9" y="165.7" text-anchor="middle" font-size="9.8" fill="#222">2</text>
<line x1="143.3" y1="171.4" x2="143.3" y2="173.4" stroke="#000" stroke-width="1.2"/>
<text x="143.3" y="165.7" text-anchor="middle" font-size="9.8" fill="#222">4</text>
<line x1="160.8" y1="171.4" x2="160.8" y2="173.4" stroke="#000" stroke-width="1.2"/>
<text x="160.8" y="165.7" text-anchor="middle" font-size="9.8" fill="#222">6</text>
<line x1="160.9" y1="173" x2="160.9" y2="199.4" stroke="#000" stroke-width="1.3"/>
<line x1="160.9" y1="173.2" x2="162.9" y2="173.2" stroke="#000" stroke-width="1.1"/>
<line x1="160.9" y1="180.9" x2="162.9" y2="180.9" stroke="#000" stroke-width="1.1"/>
<line x1="160.9" y1="189.1" x2="162.9" y2="189.1" stroke="#000" stroke-width="1.1"/>
<line x1="160.9" y1="197.1" x2="162.9" y2="197.1" stroke="#000" stroke-width="1.1"/>
<text x="166.2" y="173.8" font-size="9.8" fill="#222">0.00</text>
<text x="166.2" y="181.9" font-size="9.8" fill="#222">0.05</text>
<text x="166.2" y="190.2" font-size="9.8" fill="#222">0.10</text>
<text x="166.2" y="198.6" font-size="9.8" fill="#222">0.15</text>
<path d="M46.6 98.7 H73.4 V173" fill="none" stroke="#ea2a2f" stroke-width="1.4" stroke-dasharray="3.6 2.4"/>
</g>
<rect x="418.5" y="207.4" width="12" height="8" fill="#f6c14b"/>
<text x="434" y="214.8" font-size="12.5" fill="#222" textLength="148.2" lengthAdjust="spacingAndGlyphs">Projections from excitatory</text>
<defs><radialGradient id="bg3" cx="0.5" cy="0.45" r="0.62"><stop offset="0" stop-color="#f6f6f6"/><stop offset="0.75" stop-color="#f0f0f0"/><stop offset="1" stop-color="#e4e4e4"/></radialGradient></defs>
<g transform="translate(576 0)">
<g fill="none" stroke="#d3d3d3" stroke-width="1.6"><ellipse cx="77" cy="140.5" rx="9.6" ry="9.8"/><ellipse cx="143.6" cy="140.5" rx="9.6" ry="9.8"/><ellipse cx="110" cy="138.5" rx="31" ry="13"/><path d="M88 123 C80.2 124.8 85.8 129.7 85.5 134 C85.2 138.3 85.8 144.8 86.5 149 C87.2 153.2 88.1 156.7 90 159.5 C91.9 162.3 94.7 164.6 98 165.8 C101.3 167.1 106 167 110 167 C114 167 118.7 167.1 122 165.8 C125.3 164.6 128.1 162.3 130 159.5 C131.9 156.7 132.8 153.2 133.5 149 C134.2 144.8 134.8 138.3 134.5 134 C134.2 129.7 139.8 124.8 132 123 C124.2 121.2 95.8 121.2 88 123Z"/></g>
<g fill="url(#bg3)" stroke="none"><ellipse cx="77" cy="140.5" rx="9.6" ry="9.8"/><ellipse cx="143.6" cy="140.5" rx="9.6" ry="9.8"/><ellipse cx="110" cy="138.5" rx="31" ry="13"/><path d="M88 123 C80.2 124.8 85.8 129.7 85.5 134 C85.2 138.3 85.8 144.8 86.5 149 C87.2 153.2 88.1 156.7 90 159.5 C91.9 162.3 94.7 164.6 98 165.8 C101.3 167.1 106 167 110 167 C114 167 118.7 167.1 122 165.8 C125.3 164.6 128.1 162.3 130 159.5 C131.9 156.7 132.8 153.2 133.5 149 C134.2 144.8 134.8 138.3 134.5 134 C134.2 129.7 139.8 124.8 132 123 C124.2 121.2 95.8 121.2 88 123Z"/></g>
<path d="M80 134 Q84 140 80 147 M140 134 Q136 140 140 147 M93 133 Q110 129 127 133 M92 143 Q110 140 128 143 M94 153 Q110 151 126 153 M91 128 Q89.5 145 92 160 M129 128 Q130.5 145 128 160" fill="none" stroke="#e4e4e4" stroke-width="0.7"/>
<path d="M84 51.5 C78.5 52.9 78.9 55.4 77 58 C75.1 60.6 73.8 64.6 72.4 67.4 C71 70.2 69.6 72.6 68.5 75 C67.4 77.4 66.8 78.8 66 81.6 C65.2 84.4 64 88.9 63.5 92 C63 95.1 62.8 97 62.8 100 C62.8 103 62.9 106.9 63.2 109.9 C63.5 112.9 64.1 115.7 64.8 118 C65.5 120.3 66.4 122.4 67.6 124 C68.8 125.6 70.3 127 72 127.8 C73.7 128.6 75.5 129 78 128.8 C80.5 128.6 83.8 127.6 87 126.5 C90.2 125.4 93.2 123 97 122 C100.8 121 105.7 120.5 110 120.5 C114.3 120.5 119.2 121 123 122 C126.8 123 129.8 125.4 133 126.5 C136.2 127.6 139.3 128.6 142 128.8 C144.7 129 147 128.3 149 127.5 C151 126.7 152.7 125.6 154 124 C155.3 122.4 156.1 120.3 156.8 118 C157.5 115.7 158 112.9 158.2 109.9 C158.4 106.9 158.3 103 158 100 C157.7 97 157.2 94.8 156.5 92 C155.8 89.2 155.2 86 154 83 C152.8 80 151.1 76.6 149.5 74 C147.9 71.4 146.1 69.9 144.5 67.4 C142.9 64.9 141.8 61.6 140 59 C138.2 56.4 139 53.1 134 51.5 C129 49.9 118.3 49.5 110 49.5 C101.7 49.5 89.5 50.1 84 51.5Z" fill="url(#bg3)" stroke="#d0d0d0" stroke-width="0.9"/>
<path d="M87 121.5 Q79 127 70.5 133 M133 121.5 Q141 127 149.5 132.5" fill="none" stroke="#c9c9c9" stroke-width="0.7"/>
<path d="M98 110 Q97 95 104 90 Q110 86 116 90 Q123 95 122 110 Q110 117 98 110Z" fill="#f5f5f5" stroke="none"/>
<path d="M101 87 Q96 100 100.5 115 M119 87 Q124 100 119.5 115" fill="none" stroke="#dedede" stroke-width="0.8"/>
<path d="M107 106 Q110 102.5 113 106" fill="none" stroke="#bdbdbd" stroke-width="0.6"/>
<path d="M109 55 L109 82 M111 55 L111 82 M108 79 h4 v5 h-4z" fill="none" stroke="#dadada" stroke-width="0.6"/>
<path d="M89.6 54 C89.2 48 88.8 43 89.4 39 C90.2 33.5 94 31.3 99.6 31.3 C105 31.3 108.2 32.6 110 35.2 C111.8 32.6 115 31.3 120.4 31.3 C126 31.3 129.8 33.5 130.6 39 C131.2 43 130.8 48 130.4 54Z" fill="url(#bg3)" stroke="none"/>
<path d="M89.6 54 C89.2 48 88.8 43 89.4 39 C90.2 33.5 94 31.3 99.6 31.3 C105 31.3 108.2 32.6 110 35.2 C111.8 32.6 115 31.3 120.4 31.3 C126 31.3 129.8 33.5 130.6 39 C131.2 43 130.8 48 130.4 54" fill="none" stroke="#d0d0d0" stroke-width="0.9"/>
<path d="M90 52 Q100 55.5 110 53 Q120 55.5 130 52" fill="none" stroke="#e3e3e3" stroke-width="0.8"/>
<path d="M110 36 V50" stroke="#dedede" stroke-width="0.7"/>
<circle cx="110" cy="52.5" r="0.9" fill="#b8b8b8"/>
</g>
<g transform="translate(576 0)">
<path d="M64.5 93 C65.4 90.7 67.8 89.7 70 89 C72.2 88.3 75.7 88.1 78 88.6 C80.3 89.1 82.8 90.4 84 92 C85.2 93.6 85.3 96 85 98 C84.7 100 83.7 102.2 82 104 C80.3 105.8 77.3 107.8 75 108.5 C72.7 109.2 69.8 109.4 68 108.5 C66.2 107.6 65.1 105.6 64.5 103 C63.9 100.4 63.6 95.3 64.5 93Z" fill="#7cc05b" opacity="0.8" filter="url(#blur1p0)"/>
<path d="M80 92 C80.5 90 85.2 86 88 84 C90.8 82 95 80.2 97 80 C99 79.8 100.8 81.3 100 83 C99.2 84.7 94.5 87.8 92 90 C89.5 92.2 87 95.7 85 96 C83 96.3 79.5 94 80 92Z" fill="#7cc05b" opacity="0.3" filter="url(#blur1p5)"/>
<path d="M71.8 98.8h0.8v0.8h-0.8zM67.7 101.8h0.8v0.8h-0.8zM70.1 100.0h0.8v0.8h-0.8zM81.7 105.4h0.8v0.8h-0.8zM84.7 108.6h0.8v0.8h-0.8zM93.6 91.1h0.8v0.8h-0.8zM76.2 108.4h0.8v0.8h-0.8zM67.4 101.9h0.8v0.8h-0.8zM97.7 81.4h0.8v0.8h-0.8zM77.1 86.4h0.8v0.8h-0.8zM85.7 88.5h0.8v0.8h-0.8zM76.6 106.4h0.8v0.8h-0.8zM90.6 103.2h0.8v0.8h-0.8zM98.4 85.1h0.8v0.8h-0.8zM67.7 92.8h0.8v0.8h-0.8zM70.2 80.9h0.8v0.8h-0.8zM83.2 98.8h0.8v0.8h-0.8zM94.6 94.1h0.8v0.8h-0.8zM73.7 97.5h0.8v0.8h-0.8zM74.4 97.9h0.8v0.8h-0.8zM89.9 89.3h0.8v0.8h-0.8zM95.8 89.7h0.8v0.8h-0.8zM82.8 104.3h0.8v0.8h-0.8zM74.0 82.3h0.8v0.8h-0.8zM87.0 90.8h0.8v0.8h-0.8zM99.0 84.5h0.8v0.8h-0.8zM82.0 86.6h0.8v0.8h-0.8zM81.9 102.0h0.8v0.8h-0.8zM85.6 95.6h0.8v0.8h-0.8zM80.4 89.5h0.8v0.8h-0.8zM72.8 86.3h0.8v0.8h-0.8zM75.8 87.4h0.8v0.8h-0.8zM74.5 94.5h0.8v0.8h-0.8zM91.7 90.3h0.8v0.8h-0.8zM74.7 89.0h0.8v0.8h-0.8zM94.4 86.8h0.8v0.8h-0.8zM92.9 89.5h0.8v0.8h-0.8zM64.8 91.7h0.8v0.8h-0.8zM66.7 102.7h0.8v0.8h-0.8zM97.8 94.0h0.8v0.8h-0.8zM100.0 83.2h0.8v0.8h-0.8zM81.8 82.0h0.8v0.8h-0.8zM65.9 104.0h0.8v0.8h-0.8zM66.1 107.8h0.8v0.8h-0.8zM86.3 99.8h0.8v0.8h-0.8zM66.0 106.8h0.8v0.8h-0.8zM95.8 79.5h0.8v0.8h-0.8zM71.3 80.8h0.8v0.8h-0.8zM84.2 78.7h0.8v0.8h-0.8zM95.9 92.9h0.8v0.8h-0.8zM92.2 84.7h0.8v0.8h-0.8zM90.2 91.4h0.8v0.8h-0.8zM89.9 90.0h0.8v0.8h-0.8zM97.3 87.6h0.8v0.8h-0.8zM71.6 81.2h0.8v0.8h-0.8zM75.3 105.6h0.8v0.8h-0.8zM73.3 97.1h0.8v0.8h-0.8zM74.0 86.4h0.8v0.8h-0.8zM93.9 96.7h0.8v0.8h-0.8zM101.8 84.1h0.8v0.8h-0.8zM86.6 92.2h0.8v0.8h-0.8zM77.6 101.8h0.8v0.8h-0.8zM91.6 81.3h0.8v0.8h-0.8zM65.9 81.9h0.8v0.8h-0.8zM73.1 84.0h0.8v0.8h-0.8zM76.3 99.1h0.8v0.8h-0.8zM93.9 84.1h0.8v0.8h-0.8zM77.2 84.1h0.8v0.8h-0.8zM101.6 84.2h0.8v0.8h-0.8zM89.3 95.3h0.8v0.8h-0.8zM101.3 88.4h0.8v0.8h-0.8zM73.1 103.8h0.8v0.8h-0.8zM102.1 93.3h0.8v0.8h-0.8zM77.3 78.9h0.8v0.8h-0.8zM81.8 107.5h0.8v0.8h-0.8zM78.3 91.3h0.8v0.8h-0.8zM86.6 84.1h0.8v0.8h-0.8zM68.3 93.6h0.8v0.8h-0.8zM76.1 102.7h0.8v0.8h-0.8zM97.3 95.8h0.8v0.8h-0.8zM78.4 82.7h0.8v0.8h-0.8zM92.1 99.3h0.8v0.8h-0.8zM72.5 80.8h0.8v0.8h-0.8zM68.6 104.2h0.8v0.8h-0.8zM99.4 93.6h0.8v0.8h-0.8zM88.4 100.1h0.8v0.8h-0.8zM70.3 93.7h0.8v0.8h-0.8zM81.9 105.6h0.8v0.8h-0.8zM70.6 104.8h0.8v0.8h-0.8zM69.7 96.8h0.8v0.8h-0.8z" fill="#7cc05b" opacity="0.35"/>
</g>
<g transform="translate(576 0)">
<path d="M45.4 94.5 C40 94.8 34 95.5 30 96.8 C27.5 97.8 25.4 99 25.4 100.1 C25.4 101.2 27.5 102.4 30 103.4 C34 104.6 40 105.5 45.4 106Z" fill="#7bc25b"/>
<path d="M61.2 173.4 C62 176 63 181 64.5 186.5 C66 191 67.5 194.5 69 194.7 C70.5 194 71.5 189 72.6 183 C73.6 178 74.2 175 74.6 173.4Z" fill="#7bc25b"/>
<line x1="44.8" y1="38.5" x2="44.8" y2="149" stroke="#7bc25b" stroke-width="0.9"/>
<line x1="45.6" y1="38.5" x2="45.6" y2="149" stroke="#2c4a20" stroke-width="0.85"/>
<line x1="45.4" y1="38.3" x2="47.6" y2="38.3" stroke="#000" stroke-width="1.2"/>
<text transform="translate(58.9 38.3) rotate(-90)" text-anchor="middle" font-size="9.8" fill="#222">4</text>
<line x1="45.4" y1="56.7" x2="47.6" y2="56.7" stroke="#000" stroke-width="1.2"/>
<text transform="translate(58.9 56.7) rotate(-90)" text-anchor="middle" font-size="9.8" fill="#222">2</text>
<line x1="45.4" y1="75.1" x2="47.6" y2="75.1" stroke="#000" stroke-width="1.2"/>
<text transform="translate(58.9 75.1) rotate(-90)" text-anchor="middle" font-size="9.8" fill="#222">0</text>
<line x1="45.4" y1="93.5" x2="47.6" y2="93.5" stroke="#000" stroke-width="1.2"/>
<text transform="translate(58.9 93.5) rotate(-90)" text-anchor="middle" font-size="9.8" fill="#222">-2</text>
<line x1="45.4" y1="111.9" x2="47.6" y2="111.9" stroke="#000" stroke-width="1.2"/>
<text transform="translate(58.9 111.9) rotate(-90)" text-anchor="middle" font-size="9.8" fill="#222">-4</text>
<line x1="45.4" y1="130.3" x2="47.6" y2="130.3" stroke="#000" stroke-width="1.2"/>
<text transform="translate(58.9 130.3) rotate(-90)" text-anchor="middle" font-size="9.8" fill="#222">-6</text>
<line x1="45.4" y1="148.7" x2="47.6" y2="148.7" stroke="#000" stroke-width="1.2"/>
<text transform="translate(58.9 148.7) rotate(-90)" text-anchor="middle" font-size="9.8" fill="#222">-8</text>
<line x1="20.2" y1="38.5" x2="46" y2="38.5" stroke="#000" stroke-width="1.3"/>
<line x1="20.8" y1="36.5" x2="20.8" y2="38.5" stroke="#000" stroke-width="1.1"/>
<text transform="translate(21.6 34.4) rotate(-90)" font-size="9.7" fill="#222">0.15</text>
<line x1="29" y1="36.5" x2="29" y2="38.5" stroke="#000" stroke-width="1.1"/>
<text transform="translate(31.1 34.4) rotate(-90)" font-size="9.7" fill="#222">0.10</text>
<line x1="37.3" y1="36.5" x2="37.3" y2="38.5" stroke="#000" stroke-width="1.1"/>
<text transform="translate(40.9 34.4) rotate(-90)" font-size="9.7" fill="#222">0.05</text>
<line x1="45.6" y1="36.5" x2="45.6" y2="38.5" stroke="#000" stroke-width="1.1"/>
<text transform="translate(50.2 34.4) rotate(-90)" font-size="9.7" fill="#222">0.00</text>
<line x1="56.2" y1="174.0" x2="161" y2="174.0" stroke="#7bc25b" stroke-width="0.9"/>
<line x1="56.2" y1="173.2" x2="161" y2="173.2" stroke="#2c4a20" stroke-width="0.85"/>
<line x1="56.3" y1="171.4" x2="56.3" y2="173.4" stroke="#000" stroke-width="1.2"/>
<text x="56" y="165.7" text-anchor="middle" font-size="9.8" fill="#222">-6</text>
<line x1="73.7" y1="171.4" x2="73.7" y2="173.4" stroke="#000" stroke-width="1.2"/>
<text x="73.4" y="165.7" text-anchor="middle" font-size="9.8" fill="#222">-4</text>
<line x1="91.1" y1="171.4" x2="91.1" y2="173.4" stroke="#000" stroke-width="1.2"/>
<text x="90.8" y="165.7" text-anchor="middle" font-size="9.8" fill="#222">-2</text>
<line x1="108.5" y1="171.4" x2="108.5" y2="173.4" stroke="#000" stroke-width="1.2"/>
<text x="108.5" y="165.7" text-anchor="middle" font-size="9.8" fill="#222">0</text>
<line x1="125.9" y1="171.4" x2="125.9" y2="173.4" stroke="#000" stroke-width="1.2"/>
<text x="125.9" y="165.7" text-anchor="middle" font-size="9.8" fill="#222">2</text>
<line x1="143.3" y1="171.4" x2="143.3" y2="173.4" stroke="#000" stroke-width="1.2"/>
<text x="143.3" y="165.7" text-anchor="middle" font-size="9.8" fill="#222">4</text>
<line x1="160.8" y1="171.4" x2="160.8" y2="173.4" stroke="#000" stroke-width="1.2"/>
<text x="160.8" y="165.7" text-anchor="middle" font-size="9.8" fill="#222">6</text>
<line x1="160.9" y1="173" x2="160.9" y2="199.4" stroke="#000" stroke-width="1.3"/>
<line x1="160.9" y1="173.2" x2="162.9" y2="173.2" stroke="#000" stroke-width="1.1"/>
<line x1="160.9" y1="180.9" x2="162.9" y2="180.9" stroke="#000" stroke-width="1.1"/>
<line x1="160.9" y1="189.1" x2="162.9" y2="189.1" stroke="#000" stroke-width="1.1"/>
<line x1="160.9" y1="197.1" x2="162.9" y2="197.1" stroke="#000" stroke-width="1.1"/>
<text x="166.2" y="173.8" font-size="9.8" fill="#222">0.00</text>
<text x="166.2" y="181.9" font-size="9.8" fill="#222">0.05</text>
<text x="166.2" y="190.2" font-size="9.8" fill="#222">0.10</text>
<text x="166.2" y="198.6" font-size="9.8" fill="#222">0.15</text>
<path d="M46.6 98.7 H72.2 V173" fill="none" stroke="#ea2a2f" stroke-width="1.4" stroke-dasharray="3.6 2.4"/>
</g>
<rect x="610" y="207.4" width="12" height="8" fill="#7bc25b"/>
<text x="626" y="214.8" font-size="12.5" fill="#222" textLength="144.3" lengthAdjust="spacingAndGlyphs">Projections from inhibitory</text>
<g stroke="#111" stroke-width="1.3" fill="none">
<path d="M148.8 59.6 H170 M159.4 49 V70.2"/>
<path d="M152.2 56.2 L148.8 59.6 L152.2 63"/>
<path d="M166.6 56.2 L170 59.6 L166.6 63"/>
<path d="M156 52.4 L159.4 49 L162.8 52.4"/>
<path d="M156 66.8 L159.4 70.2 L162.8 66.8"/>
</g>
<text x="159.4" y="47" font-size="10.4" text-anchor="middle" fill="#222">A</text>
<text x="143.3" y="63.4" font-size="10.4" text-anchor="middle" fill="#222">R</text>
<text x="176" y="63.4" font-size="10.4" text-anchor="middle" fill="#222">L</text>
<text x="159.4" y="80.2" font-size="10.4" text-anchor="middle" fill="#222">P</text>
<defs><g id="t2555n"><path d="M415.1 245.5 C412.7 245.5 410.9 241.9 408 241 C405.1 240.1 403.1 239.3 398 240 C392.9 240.7 383.5 242.5 377.4 245 C371.3 247.5 365.5 251.1 361.2 254.8 C356.9 258.5 353.7 262.6 351.3 267.4 C348.9 272.2 347.4 278.2 346.9 283.6 C346.4 289 346.9 295 348.2 300 C349.5 305 352.4 309.5 354.5 313.5 C356.6 317.5 358.8 320.6 361 324 C363.2 327.4 365.5 332 367.8 333.8 C370.1 335.6 372.5 335.4 375 334.8 C377.5 334.2 380.6 331.6 383 330 C385.4 328.4 387.1 325.9 389.4 325.5 C391.7 325.1 394.4 326.8 397 327.5 C399.6 328.2 402 329.5 405 330 C408 330.5 411.7 330.6 415.1 330.6 C418.5 330.6 422.2 330.5 425.2 330 C428.2 329.5 430.6 328.2 433.2 327.5 C435.8 326.8 438.5 325.1 440.8 325.5 C443.1 325.9 444.8 328.4 447.2 330 C449.6 331.6 452.7 334.2 455.2 334.8 C457.7 335.4 460.1 335.6 462.4 333.8 C464.7 332 467 327.4 469.2 324 C471.4 320.6 473.6 317.5 475.7 313.5 C477.8 309.5 480.7 305 482 300 C483.3 295 483.8 289 483.3 283.6 C482.8 278.2 481.3 272.2 478.9 267.4 C476.5 262.6 473.4 258.5 469 254.8 C464.7 251.1 458.9 247.5 452.8 245 C446.7 242.5 437.3 240.7 432.2 240 C427.1 239.3 425.1 240.1 422.2 241 C419.4 241.9 417.5 245.5 415.1 245.5Z" fill="#fff" stroke="#8a8a8a" stroke-width="0.7" stroke-dasharray="2.2 0.6"/>
<path d="M408.3 243.2 C406.7 243 403.6 241.6 398.8 242.2 C393.9 242.9 385 244.7 379.1 247 C373.2 249.4 367.8 252.8 363.6 256.4 C359.5 259.9 356.4 263.8 354.2 268.4 C351.9 273 350.5 278.7 350 283.9 C349.5 289.1 350 294.8 351.2 299.6 C352.4 304.3 355.2 308.6 357.2 312.4 C359.3 316.3 362.4 320.8 363.4 322.5" fill="none" stroke="#e0e0e0" stroke-width="0.5"/><path d="M421.9 243.2 C423.5 243 426.6 241.6 431.4 242.2 C436.3 242.9 445.2 244.7 451.1 247 C457 249.4 462.4 252.8 466.6 256.4 C470.7 259.9 473.8 263.8 476 268.4 C478.3 273 479.7 278.7 480.2 283.9 C480.7 289.1 480.2 294.8 479 299.6 C477.8 304.3 475 308.6 473 312.4 C470.9 316.3 467.8 320.8 466.8 322.5" fill="none" stroke="#e0e0e0" stroke-width="0.5"/><path d="M408.6 245.2 C407.1 245 404.1 243.6 399.5 244.2 C394.8 244.9 386.2 246.6 380.6 248.8 C375 251.1 369.8 254.4 365.8 257.8 C361.8 261.2 358.9 264.9 356.7 269.3 C354.5 273.7 353.2 279.2 352.7 284.1 C352.2 289.1 352.7 294.6 353.9 299.1 C355 303.7 357.7 307.8 359.7 311.5 C361.6 315.2 364.6 319.5 365.6 321.1" fill="none" stroke="#e0e0e0" stroke-width="0.5"/><path d="M421.6 245.2 C423.1 245 426.1 243.6 430.7 244.2 C435.4 244.9 444 246.6 449.6 248.8 C455.2 251.1 460.4 254.4 464.4 257.8 C468.4 261.2 471.3 264.9 473.5 269.3 C475.7 273.7 477 279.2 477.5 284.1 C478 289.1 477.5 294.6 476.3 299.1 C475.2 303.7 472.5 307.8 470.5 311.5 C468.6 315.2 465.6 319.5 464.6 321.1" fill="none" stroke="#e0e0e0" stroke-width="0.5"/><path d="M409 247.9 C407.6 247.7 404.8 246.4 400.4 247 C396 247.6 388 249.2 382.7 251.3 C377.4 253.4 372.5 256.5 368.7 259.7 C365 262.9 362.3 266.4 360.2 270.6 C358.2 274.7 356.9 279.8 356.4 284.5 C356 289.2 356.5 294.3 357.6 298.6 C358.7 302.9 361.1 306.8 363 310.2 C364.8 313.6 367.6 317.7 368.6 319.2" fill="none" stroke="#e0e0e0" stroke-width="0.5"/><path d="M421.2 247.9 C422.6 247.7 425.4 246.4 429.8 247 C434.2 247.6 442.2 249.2 447.5 251.3 C452.8 253.4 457.7 256.5 461.5 259.7 C465.2 262.9 467.9 266.4 470 270.6 C472 274.7 473.3 279.8 473.8 284.5 C474.2 289.2 473.7 294.3 472.6 298.6 C471.5 302.9 469.1 306.8 467.2 310.2 C465.4 313.6 462.6 317.7 461.6 319.2" fill="none" stroke="#e0e0e0" stroke-width="0.5"/>
<path d="M414.0 304.3 L413.4 309.0 L408.7 312.8 M416.2 304.3 L416.8 309.0 L421.5 312.8 M404.7 274.4 L408.4 280.0 L413.1 281.3 M425.5 274.4 L421.8 280.0 L417.1 281.3 M407.0 320.4 L413.9 316.3 L415.1 312.5 M423.2 320.4 L416.3 316.3 L415.1 312.5 M390.6 282.8 L385.7 282.9 M439.6 282.8 L444.5 282.9 M396.4 281.6 L392.8 289.3 L385.4 293.3 M433.8 281.6 L437.4 289.3 L444.8 293.3 M390.7 295.1 L384.5 295.0 L379.9 292.0 M439.5 295.1 L445.7 295.0 L450.3 292.0 M407.2 297.5 L403.7 293.4 L398.3 290.0 M423.0 297.5 L426.5 293.4 L431.9 290.0 M398.3 295.8 L393.5 297.3 L389.0 300.2 M431.9 295.8 L436.7 297.3 L441.2 300.2 M414.7 281.3 L406.7 284.2 L403.8 287.4 M415.5 281.3 L423.5 284.2 L426.4 287.4 M412.3 275.7 L415.1 280.2 L415.1 280.7 M417.9 275.7 L415.1 280.2 L415.1 280.7 M403.4 272.7 L410.0 276.7 L414.0 277.4 M426.8 272.7 L420.2 276.7 L416.2 277.4 M406.6 283.2 L411.9 286.4 L413.0 292.2 M423.6 283.2 L418.3 286.4 L417.2 292.2 M413.3 298.2 L415.1 301.6 L415.1 304.0 M416.9 298.2 L415.1 301.6 L415.1 304.0 M400.4 299.6 L395.9 298.3 L389.5 299.4 M429.8 299.6 L434.3 298.3 L440.7 299.4 M401.8 295.9 L393.9 295.7 L385.0 295.9 M428.4 295.9 L436.3 295.7 L445.2 295.9 M413.9 312.6 L415.1 311.3 L415.1 314.4 M416.3 312.6 L415.1 311.3 L415.1 314.4 M408.3 296.0 L410.8 300.6 L410.0 305.7 M421.9 296.0 L419.4 300.6 L420.2 305.7 M409.7 300.6 L415.1 303.4 L415.1 308.9 M420.5 300.6 L415.1 303.4 L415.1 308.9 M406.5 319.6 L411.7 312.7 L415.1 310.0 M423.7 319.6 L418.5 312.7 L415.1 310.0 M384.9 290.9 L392.8 287.7 L401.6 286.9 M445.3 290.9 L437.4 287.7 L428.6 286.9 M400.7 299.9 L398.8 293.4 L392.7 287.2 M429.5 299.9 L431.4 293.4 L437.5 287.2 M378.6 296.5 L385.5 291.7 L393.5 290.9 M451.6 296.5 L444.7 291.7 L436.7 290.9 M394.8 282.6 L399.3 280.4 L404.8 281.8 M435.4 282.6 L430.9 280.4 L425.4 281.8 M411.2 278.3 L408.0 280.9 L402.7 285.4 M419.0 278.3 L422.2 280.9 L427.5 285.4 M395.5 280.8 L396.8 286.4 L402.7 289.5 M434.7 280.8 L433.4 286.4 L427.5 289.5 M397.0 275.8 L403.4 278.0 L411.3 277.8 M433.2 275.8 L426.8 278.0 L418.9 277.8 M412.4 314.0 L415.1 310.5 L415.1 309.0 M417.8 314.0 L415.1 310.5 L415.1 309.0 M390.1 294.7 L389.3 286.8 M440.1 294.7 L440.9 286.8" fill="none" stroke="#e1e1e1" stroke-width="0.5"/>
<path d="M408 250 C405.5 249.8 398.2 248.5 393 249 C387.8 249.5 381.8 250.7 377 253 C372.2 255.3 367.4 259 364 263 C360.6 267 358.1 272 356.5 277 C354.9 282 354.2 287.8 354.5 293 C354.8 298.2 356.1 303.5 358 308 C359.9 312.5 364.7 318 366 320" fill="none" stroke="#d9d9d9" stroke-width="0.6"/><path d="M422.2 250 C424.7 249.8 432 248.5 437.2 249 C442.4 249.5 448.4 250.7 453.2 253 C458 255.3 462.8 259 466.2 263 C469.6 267 472.1 272 473.7 277 C475.3 282 476 287.8 475.7 293 C475.5 298.2 474.1 303.5 472.2 308 C470.3 312.5 465.5 318 464.2 320" fill="none" stroke="#d9d9d9" stroke-width="0.6"/>
<path d="M362.2 293 C362.2 291.1 361.6 285.3 362.5 281.3 C363.4 277.3 365.4 272.3 367.8 268.9 C370.2 265.5 373.7 262.8 377.1 260.7 C380.5 258.6 384.8 257.4 388.4 256.4 C392 255.4 396.3 254.9 398.7 254.5 C401.1 254.1 402.3 254.1 403 254" fill="none" stroke="#c6c6c6" stroke-width="3.8"/><path d="M468 293 C468 291.1 468.6 285.3 467.7 281.3 C466.8 277.3 464.8 272.3 462.4 268.9 C460 265.5 456.5 262.8 453.1 260.7 C449.7 258.6 445.4 257.4 441.8 256.4 C438.2 255.4 433.9 254.9 431.5 254.5 C429.1 254.1 427.9 254.1 427.2 254" fill="none" stroke="#c6c6c6" stroke-width="3.8"/>
<polygon points="398,253 402.8,252.8 407,262.8 403.5,262.5" fill="#c6c6c6"/><polygon points="432.2,253 427.4,252.8 423.2,262.8 426.7,262.5" fill="#c6c6c6"/>
<path d="M382.8 302.5 C383.3 303.7 384.4 307.4 385.8 309.5 C387.2 311.6 389.5 313.6 391.5 315.2 C393.5 316.8 396.9 318.2 398 318.8" fill="none" stroke="#c6c6c6" stroke-width="3.4"/><path d="M447.4 302.5 C446.9 303.7 445.9 307.4 444.4 309.5 C443 311.6 440.7 313.6 438.7 315.2 C436.7 316.8 433.3 318.2 432.2 318.8" fill="none" stroke="#c6c6c6" stroke-width="3.4"/>
<polygon points="384.2,287.8 388.4,287.2 388.6,291.6 384.4,292" fill="#c6c6c6"/><polygon points="446,287.8 441.8,287.2 441.6,291.6 445.8,292" fill="#c6c6c6"/>
<path d="M380.2 274 C381.3 273.3 384.1 270.8 387 270 C389.9 269.2 395.8 269.2 397.6 269" fill="none" stroke="#bdbdbd" stroke-width="1.0"/><path d="M450 274 C448.9 273.3 446.1 270.8 443.2 270 C440.3 269.2 434.4 269.2 432.6 269" fill="none" stroke="#bdbdbd" stroke-width="1.0"/>
<path d="M382 276.5 C383.2 276 386.3 274.1 389 273.5 C391.7 272.9 396.5 273.1 398 273" fill="none" stroke="#bdbdbd" stroke-width="1.0"/><path d="M448.2 276.5 C447 276 443.9 274.1 441.2 273.5 C438.5 272.9 433.7 273.1 432.2 273" fill="none" stroke="#bdbdbd" stroke-width="1.0"/>
<path d="M379 276 C378.5 277.8 376 283.2 375.8 287 C375.6 290.8 376.5 295.8 378 299 C379.5 302.2 383.8 304.8 385 306" fill="none" stroke="#d9d9d9" stroke-width="0.6"/><path d="M451.2 276 C451.7 277.8 454.2 283.2 454.4 287 C454.6 290.8 453.7 295.8 452.2 299 C450.7 302.2 446.4 304.8 445.2 306" fill="none" stroke="#d9d9d9" stroke-width="0.6"/>
<path d="M469.1 293.6 C469.3 294.9 469.2 301.3 468.6 303.5 C468 305.7 465.9 308.6 464.4 309.8 C462.9 311 458.2 312.5 457.2 312.6 C456.2 312.7 456.6 311.5 457.2 310.6 C457.8 309.7 460.9 307.5 462 306 C463.1 304.5 465 301.2 465.6 299.5 C466.2 297.8 466.3 294.4 466.8 293.6 C467.3 292.8 468.9 292.3 469.1 293.6Z" fill="#000000" stroke="none" stroke-width="0"/>
<ellipse cx="415.1" cy="267" rx="3" ry="3.2" fill="#000"/>
<path d="M411.9 272 C412.3 271.6 417.9 271.6 418.3 272 C418.7 272.4 416.5 275.7 416.2 276.2 C415.9 276.7 415.3 277.4 415.1 277.4 C414.9 277.4 414.3 276.7 414 276.2 C413.7 275.7 411.5 272.4 411.9 272Z" fill="#000000" stroke="none" stroke-width="0"/>
<line x1="415.1" y1="280.2" x2="415.1" y2="300.8" stroke="#333" stroke-width="0.8"/>
<ellipse cx="409.5" cy="297.7" rx="1.3" ry="2.4" fill="#c6c6c6"/><ellipse cx="420.7" cy="297.7" rx="1.3" ry="2.4" fill="#c6c6c6"/>
<circle cx="415.1" cy="326.5" r="0.9" fill="#000"/>
<path d="M400 312 C401.3 312.8 405.5 316 408 317 C410.5 318 413.9 317.8 415.1 318" fill="none" stroke="#d9d9d9" stroke-width="0.5"/><path d="M430.2 312 C428.9 312.8 424.7 316 422.2 317 C419.7 318 416.3 317.8 415.1 318" fill="none" stroke="#d9d9d9" stroke-width="0.5"/></g></defs>
<g>
<g id="t_245"><path d="M44.3 265.4 C43.8 264.6 42.7 261.8 41.1 260.3 C39.5 258.8 35.9 256.5 33.9 255.7 C31.9 254.9 30.1 254.7 27.8 255.1 C25.5 255.5 21.1 256.8 18.5 258.2 C15.9 259.6 12.5 262.2 10.3 264.4 C8.1 266.6 5.3 270.1 4.1 272.6 C2.9 275.1 2.1 278.3 2.1 280.8 C2.1 283.3 3.2 286.9 4.1 289.1 C5 291.3 6.9 293.5 8.2 295.2 C9.5 296.9 11.7 298.8 12.6 300.2 C13.5 301.6 13.2 302.9 14.4 304.5 C15.6 306.1 18.4 308.9 20.6 310.7 C22.8 312.5 26.5 315.3 28.8 316.8 C31.1 318.3 34.2 320.5 36 321 C37.8 321.5 40 320.7 41.1 319.9 C42.2 319.1 42.9 317 43.4 315.8 C43.9 314.6 44.1 312.3 44.3 311.7 C44.5 311.1 44.3 311.1 44.5 311.7 C44.7 312.3 44.9 314.6 45.4 315.8 C45.9 317 46.6 319.1 47.7 319.9 C48.8 320.7 51 321.5 52.8 321 C54.6 320.5 57.7 318.3 60 316.8 C62.3 315.3 66 312.5 68.2 310.7 C70.4 308.9 73.2 306.1 74.4 304.5 C75.6 302.9 75.3 301.6 76.2 300.2 C77.1 298.8 79.3 296.9 80.6 295.2 C81.9 293.5 83.8 291.3 84.7 289.1 C85.6 286.9 86.7 283.3 86.7 280.8 C86.7 278.3 85.9 275.1 84.7 272.6 C83.5 270.1 80.7 266.6 78.5 264.4 C76.3 262.2 72.9 259.6 70.3 258.2 C67.7 256.8 63.3 255.5 61 255.1 C58.7 254.7 56.9 254.9 54.9 255.7 C52.9 256.5 49.3 258.8 47.7 260.3 C46.1 261.8 45 264.6 44.5 265.4 C44 266.2 44.8 266.2 44.3 265.4Z" fill="#fff" stroke="#8a8a8a" stroke-width="0.7" stroke-dasharray="2.2 0.6"/>
<path d="M30 259 C28 260 21.3 262.2 18 265 C14.7 267.8 11.3 271.8 10 276 C8.7 280.2 8.8 286 10 290 C11.2 294 15.8 298.3 17 300" fill="none" stroke="#d9d9d9" stroke-width="0.5"/><path d="M58.8 259 C60.8 260 67.5 262.2 70.8 265 C74.1 267.8 77.5 271.8 78.8 276 C80.1 280.2 80 286 78.8 290 C77.6 294 73 298.3 71.8 300" fill="none" stroke="#d9d9d9" stroke-width="0.5"/>
<path d="M38 262 C36.3 263 30.7 265 28 268 C25.3 271 22.7 275.5 22 280 C21.3 284.5 22.3 290.8 24 295 C25.7 299.2 29.3 302 32 305 C34.7 308 38.7 311.7 40 313" fill="none" stroke="#d9d9d9" stroke-width="0.5"/><path d="M50.8 262 C52.5 263 58.1 265 60.8 268 C63.5 271 66.1 275.5 66.8 280 C67.5 284.5 66.5 290.8 64.8 295 C63.1 299.2 59.5 302 56.8 305 C54.1 308 50.1 311.7 48.8 313" fill="none" stroke="#d9d9d9" stroke-width="0.5"/>
<path d="M18 306 C19.7 305 24.7 300.7 28 300 C31.3 299.3 35.7 300.3 38 302 C40.3 303.7 41.3 308.7 42 310" fill="none" stroke="#d9d9d9" stroke-width="0.5"/><path d="M70.8 306 C69.1 305 64.1 300.7 60.8 300 C57.5 299.3 53.1 300.3 50.8 302 C48.5 303.7 47.5 308.7 46.8 310" fill="none" stroke="#d9d9d9" stroke-width="0.5"/>
<polygon points="28.3,299.4 33.6,299.4 31.2,307.6" fill="#c6c6c6"/>
<polygon points="56,299.4 61.2,299.4 57.6,307.6" fill="#c6c6c6"/>
<line x1="44.4" y1="294" x2="44.4" y2="311.7" stroke="#666" stroke-width="0.8"/></g>
<g id="t_0545"><path d="M127.7 248.9 C125.8 248.9 124.9 246 122 245.2 C119.1 244.3 115.5 243.5 110.5 243.8 C105.5 244.1 97.3 244.8 92 247.2 C86.7 249.6 82.5 254 78.7 258 C75 262 71.6 266.6 69.5 271.4 C67.4 276.1 66.3 281.5 66.2 286.5 C66.1 291.5 66.9 297.1 68.7 301.5 C70.5 305.9 73.4 309.9 77 313.2 C80.6 316.5 85.7 319 90.4 321.5 C95.1 324 101 326.8 105.4 328.2 C109.9 329.6 113.4 329.7 117.1 329.9 C120.8 330.1 124.2 329.2 127.7 329.2 C131.2 329.2 134.6 330.1 138.3 329.9 C142 329.7 145.6 329.6 150 328.2 C154.4 326.8 160.3 324 165 321.5 C169.7 319 174.8 316.5 178.4 313.2 C182 309.9 184.9 305.9 186.7 301.5 C188.5 297.1 189.3 291.5 189.2 286.5 C189.1 281.5 188 276.1 185.9 271.4 C183.8 266.6 180.4 262 176.7 258 C172.9 254 168.7 249.6 163.4 247.2 C158.1 244.8 149.9 244.1 144.9 243.8 C139.9 243.5 136.3 244.3 133.4 245.2 C130.5 246 129.6 248.9 127.7 248.9Z" fill="#fff" stroke="#8a8a8a" stroke-width="0.7" stroke-dasharray="2.2 0.6"/>
<path d="M122.3 247.2 C120.4 247 116 245.6 111.3 245.9 C106.5 246.2 98.7 246.9 93.6 249.1 C88.5 251.4 84.5 255.6 80.9 259.4 C77.3 263.3 74.1 267.7 72.1 272.2 C70.1 276.8 69.1 281.9 69 286.7 C68.8 291.4 69.6 296.7 71.4 301 C73.1 305.2 75.8 309 79.3 312.2 C82.7 315.3 89.9 318.8 92.1 320.1" fill="none" stroke="#e0e0e0" stroke-width="0.5"/><path d="M133.1 247.2 C135 247 139.4 245.6 144.1 245.9 C148.9 246.2 156.7 246.9 161.8 249.1 C166.9 251.4 170.9 255.6 174.5 259.4 C178.1 263.3 181.3 267.7 183.3 272.2 C185.3 276.8 186.3 281.9 186.4 286.7 C186.6 291.4 185.8 296.7 184 301 C182.3 305.2 179.6 309 176.1 312.2 C172.7 315.3 165.5 318.8 163.3 320.1" fill="none" stroke="#e0e0e0" stroke-width="0.5"/><path d="M122.5 249 C120.7 248.8 116.5 247.4 112 247.7 C107.4 248 99.9 248.7 95 250.8 C90.2 253 86.3 257 82.9 260.7 C79.4 264.4 76.4 268.6 74.4 273 C72.5 277.3 71.5 282.2 71.4 286.8 C71.3 291.4 72.1 296.5 73.7 300.5 C75.4 304.6 78 308.2 81.3 311.2 C84.6 314.3 91.5 317.6 93.6 318.8" fill="none" stroke="#e0e0e0" stroke-width="0.5"/><path d="M132.9 249 C134.7 248.8 138.9 247.4 143.4 247.7 C148 248 155.5 248.7 160.4 250.8 C165.2 253 169.1 257 172.5 260.7 C176 264.4 179 268.6 181 273 C182.9 277.3 183.9 282.2 184 286.8 C184.1 291.4 183.3 296.5 181.7 300.5 C180 304.6 177.4 308.2 174.1 311.2 C170.8 314.3 163.9 317.6 161.8 318.8" fill="none" stroke="#e0e0e0" stroke-width="0.5"/><path d="M122.8 251.5 C121.1 251.3 117.2 250 112.9 250.3 C108.6 250.6 101.6 251.2 97 253.2 C92.4 255.2 88.8 259 85.6 262.5 C82.3 265.9 79.4 269.9 77.6 274 C75.9 278.1 74.9 282.7 74.8 287 C74.7 291.3 75.4 296.1 77 299.9 C78.5 303.7 81 307.1 84.1 310 C87.2 312.8 93.7 315.9 95.6 317.1" fill="none" stroke="#e0e0e0" stroke-width="0.5"/><path d="M132.6 251.5 C134.3 251.3 138.2 250 142.5 250.3 C146.8 250.6 153.8 251.2 158.4 253.2 C163 255.2 166.6 259 169.8 262.5 C173.1 265.9 176 269.9 177.8 274 C179.5 278.1 180.5 282.7 180.6 287 C180.7 291.3 180 296.1 178.4 299.9 C176.9 303.7 174.4 307.1 171.3 310 C168.2 312.8 161.7 315.9 159.8 317.1" fill="none" stroke="#e0e0e0" stroke-width="0.5"/>
<path d="M109.4 315.1 L109.8 309.9 L111.9 304.0 M146.0 315.1 L145.6 309.9 L143.5 304.0 M125.5 293.5 L127.7 293.9 L127.7 288.1 M129.9 293.5 L127.7 293.9 L127.7 288.1 M123.0 300.7 L114.3 300.3 L109.3 300.7 M132.4 300.7 L141.1 300.3 L146.1 300.7 M113.8 301.9 L109.6 306.8 L108.6 311.9 M141.6 301.9 L145.8 306.8 L146.8 311.9 M112.1 303.0 L120.0 304.9 L126.9 302.6 M143.3 303.0 L135.4 304.9 L128.5 302.6 M99.9 299.0 L102.2 304.2 M155.5 299.0 L153.2 304.2 M103.6 309.4 L101.7 304.2 L104.0 296.1 M151.8 309.4 L153.7 304.2 L151.4 296.1 M104.7 299.4 L108.5 303.0 L114.5 304.0 M150.7 299.4 L146.9 303.0 L140.9 304.0 M121.6 300.8 L120.4 292.0 L116.5 287.5 M133.8 300.8 L135.0 292.0 L138.9 287.5 M98.0 299.7 L102.7 294.9 L106.4 291.3 M157.4 299.7 L152.7 294.9 L149.0 291.3 M105.9 295.1 L100.6 296.0 M149.5 295.1 L154.8 296.0 M122.0 280.5 L127.7 279.3 L127.7 279.0 M133.4 280.5 L127.7 279.3 L127.7 279.0 M121.3 302.3 L122.8 295.6 L124.0 289.2 M134.1 302.3 L132.6 295.6 L131.4 289.2 M116.7 310.1 L110.3 307.1 L104.5 309.6 M138.7 310.1 L145.1 307.1 L150.9 309.6 M126.1 309.2 L122.1 301.9 L122.6 293.9 M129.3 309.2 L133.3 301.9 L132.8 293.9 M126.8 320.2 L122.5 319.2 L119.3 316.7 M128.6 320.2 L132.9 319.2 L136.1 316.7 M127.7 307.3 L122.0 307.2 L117.2 306.9 M127.7 307.3 L133.4 307.2 L138.2 306.9 M120.0 310.0 L116.6 304.7 L110.4 303.7 M135.4 310.0 L138.8 304.7 L145.0 303.7 M113.0 309.3 L111.5 313.6 M142.4 309.3 L143.9 313.6 M106.3 287.7 L109.9 285.8 M149.1 287.7 L145.5 285.8 M121.3 284.9 L123.9 291.7 L127.7 297.0 M134.1 284.9 L131.5 291.7 L127.7 297.0 M122.8 296.1 L115.4 301.0 L109.9 300.7 M132.6 296.1 L140.0 301.0 L145.5 300.7" fill="none" stroke="#e1e1e1" stroke-width="0.5"/>
<path d="M120 256 C116.7 255.5 105.8 252.3 100 253 C94.2 253.7 89 256.8 85 260 C81 263.2 78 267.5 76 272 C74 276.5 73 282.2 73 287 C73 291.8 74.2 297 76 301 C77.8 305 80.7 308.2 84 311 C87.3 313.8 94 316.8 96 318" fill="none" stroke="#d9d9d9" stroke-width="0.6"/><path d="M135.4 256 C138.7 255.5 149.6 252.3 155.4 253 C161.2 253.7 166.4 256.8 170.4 260 C174.4 263.2 177.4 267.5 179.4 272 C181.4 276.5 182.4 282.2 182.4 287 C182.4 291.8 181.2 297 179.4 301 C177.6 305 174.7 308.2 171.4 311 C168.1 313.8 161.4 316.8 159.4 318" fill="none" stroke="#d9d9d9" stroke-width="0.6"/>
<path d="M82 300 C83.7 301 88.3 304.3 92 306 C95.7 307.7 100 309 104 310 C108 311 114 311.7 116 312" fill="none" stroke="#d9d9d9" stroke-width="0.5"/><path d="M173.4 300 C171.7 301 167.1 304.3 163.4 306 C159.7 307.7 155.4 309 151.4 310 C147.4 311 141.4 311.7 139.4 312" fill="none" stroke="#d9d9d9" stroke-width="0.5"/>
<path d="M98 273 C94 273 90.3 275.2 88 278 C85.7 280.8 84 286 84 290 C84 294 85.7 299.2 88 302 C90.3 304.8 94.7 306.7 98 307 C101.3 307.3 105.5 306.5 108 304 C110.5 301.5 112.3 296.3 113 292 C113.7 287.7 114.5 281.2 112 278 C109.5 274.8 102 273 98 273Z" fill="none" stroke="#cfcfcf" stroke-width="0.6"/><path d="M157.4 273 C161.4 273 165.1 275.2 167.4 278 C169.7 280.8 171.4 286 171.4 290 C171.4 294 169.7 299.2 167.4 302 C165.1 304.8 160.7 306.7 157.4 307 C154.1 307.3 149.9 306.5 147.4 304 C144.9 301.5 143.1 296.3 142.4 292 C141.7 287.7 140.9 281.2 143.4 278 C145.9 274.8 153.4 273 157.4 273Z" fill="none" stroke="#cfcfcf" stroke-width="0.6"/>
<path d="M84 279 C83.8 278.3 86.4 273.6 88 272 C89.6 270.4 93.6 268.1 96 267 C98.4 265.9 103.3 264.6 106 264 C108.7 263.4 114 262.2 116 262.5 C118 262.8 119.9 264.8 121 266 C122.1 267.2 123.1 270.6 124 271.5 C124.9 272.4 126.7 273 127.7 273 C128.7 273 130.5 272.4 131.4 271.5 C132.3 270.6 133.3 267.2 134.4 266 C135.5 264.8 137.4 262.8 139.4 262.5 C141.4 262.2 146.7 263.4 149.4 264 C152.1 264.6 157 265.9 159.4 267 C161.8 268.1 165.8 270.4 167.4 272 C169 273.6 171.6 278.3 171.4 279 C171.2 279.7 167.8 278 166 277 C164.2 276 160.4 272.7 158 271.5 C155.6 270.3 150.5 268.5 148 268 C145.5 267.5 140.7 267 139 267.5 C137.3 268 136.1 270.8 135 272 C133.9 273.2 132 275.8 131 276.5 C130 277.2 128.6 277.5 127.7 277.5 C126.8 277.5 125.4 277.2 124.4 276.5 C123.4 275.8 121.5 273.2 120.4 272 C119.3 270.8 118.1 268 116.4 267.5 C114.7 267 109.9 267.5 107.4 268 C104.9 268.5 99.8 270.3 97.4 271.5 C95 272.7 91.2 276 89.4 277 C87.6 278 84.2 279.7 84 279Z" fill="#c6c6c6" stroke="none" stroke-width="0"/>
<path d="M113.2 269.5 C113.7 268.9 117.3 268.3 118 268.8 C118.7 269.3 118.7 271.5 118.6 273 C118.5 274.5 117.8 277.7 117.6 280 C117.4 282.3 117.2 287.9 117.1 290 C117 292.1 116.7 296.3 116.6 296 C116.5 295.7 116.2 290.3 116.1 288 C116 285.7 115.8 281 115.5 279 C115.2 277 114.5 274.3 114.2 273 C113.9 271.7 112.7 270.1 113.2 269.5Z" fill="#000000" stroke="none" stroke-width="0"/><path d="M142.2 269.5 C141.7 268.9 138.1 268.3 137.4 268.8 C136.7 269.3 136.7 271.5 136.8 273 C136.9 274.5 137.6 277.7 137.8 280 C138 282.3 138.2 287.9 138.3 290 C138.4 292.1 138.7 296.3 138.8 296 C138.9 295.7 139.2 290.3 139.3 288 C139.4 285.7 139.6 281 139.9 279 C140.2 277 140.9 274.3 141.2 273 C141.5 271.7 142.7 270.1 142.2 269.5Z" fill="#000000" stroke="none" stroke-width="0"/>
<circle cx="115.1" cy="304" r="2.3" fill="#c6c6c6"/><circle cx="140.3" cy="304" r="2.3" fill="#c6c6c6"/>
<path d="M122 290 C121.7 292.5 120 300.3 120 305 C120 309.7 120.7 315 122 318 C123.3 321 126.8 322.2 127.7 323" fill="none" stroke="#d9d9d9" stroke-width="0.5"/><path d="M133.4 290 C133.7 292.5 135.4 300.3 135.4 305 C135.4 309.7 134.7 315 133.4 318 C132.1 321 128.7 322.2 127.7 323" fill="none" stroke="#d9d9d9" stroke-width="0.5"/></g>
<g id="t_0555"><path d="M213.7 245.9 C211.5 245.9 210.1 243.2 207 242.5 C203.9 241.8 200.6 241 195.4 241.4 C190.2 241.8 181.3 242.9 175.6 245 C169.9 247.1 165.1 250.4 161.2 254 C157.3 257.6 154.4 261.8 152.2 266.6 C150 271.4 148.6 277.7 148.2 282.8 C147.8 287.9 147.9 292.4 149.5 297.2 C151.1 302 154.2 307.4 157.6 311.6 C161 315.8 165.4 319.4 170.2 322.4 C175 325.4 181 327.8 186.4 329.6 C191.8 331.4 198.1 332.4 202.6 333.2 C207.1 333.9 210 334.1 213.7 334.1 C217.4 334.1 220.2 333.9 224.8 333.2 C229.3 332.4 235.6 331.4 241 329.6 C246.4 327.8 252.4 325.4 257.2 322.4 C262 319.4 266.3 315.8 269.8 311.6 C273.2 307.4 276.3 302 277.9 297.2 C279.5 292.4 279.6 287.9 279.2 282.8 C278.8 277.7 277.4 271.4 275.2 266.6 C273 261.8 270.1 257.6 266.2 254 C262.3 250.4 257.5 247.1 251.8 245 C246.1 242.9 237.2 241.8 232 241.4 C226.8 241 223.4 241.8 220.4 242.5 C217.3 243.2 215.9 245.9 213.7 245.9Z" fill="#fff" stroke="#8a8a8a" stroke-width="0.7" stroke-dasharray="2.2 0.6"/>
<path d="M207.3 244.7 C205.5 244.6 201.2 243.3 196.2 243.7 C191.2 244.1 182.8 245.1 177.3 247.1 C171.9 249.1 167.3 252.3 163.6 255.7 C159.8 259.1 157 263.2 155 267.7 C152.9 272.3 151.6 278.3 151.1 283.2 C150.7 288.1 150.9 292.4 152.4 297 C153.9 301.6 156.8 306.7 160.1 310.7 C163.4 314.7 170.2 319.3 172.2 321" fill="none" stroke="#e0e0e0" stroke-width="0.5"/><path d="M220.1 244.7 C221.9 244.6 226.2 243.3 231.2 243.7 C236.2 244.1 244.6 245.1 250.1 247.1 C255.5 249.1 260.1 252.3 263.8 255.7 C267.6 259.1 270.4 263.2 272.4 267.7 C274.5 272.3 275.8 278.3 276.3 283.2 C276.7 288.1 276.5 292.4 275 297 C273.5 301.6 270.6 306.7 267.3 310.7 C264 314.7 257.2 319.3 255.2 321" fill="none" stroke="#e0e0e0" stroke-width="0.5"/><path d="M207.6 246.7 C205.8 246.5 201.7 245.3 197 245.7 C192.2 246.1 184.1 247.1 178.8 249 C173.6 250.9 169.2 253.9 165.7 257.2 C162.1 260.5 159.4 264.4 157.4 268.8 C155.4 273.2 154.2 278.9 153.8 283.6 C153.4 288.2 153.5 292.4 155 296.8 C156.4 301.1 159.2 306.1 162.4 309.9 C165.5 313.8 172 318.2 173.9 319.8" fill="none" stroke="#e0e0e0" stroke-width="0.5"/><path d="M219.8 246.7 C221.6 246.5 225.7 245.3 230.4 245.7 C235.2 246.1 243.3 247.1 248.6 249 C253.8 250.9 258.2 253.9 261.7 257.2 C265.3 260.5 268 264.4 270 268.8 C272 273.2 273.2 278.9 273.6 283.6 C274 288.2 273.9 292.4 272.4 296.8 C271 301.1 268.2 306.1 265 309.9 C261.9 313.8 255.4 318.2 253.5 319.8" fill="none" stroke="#e0e0e0" stroke-width="0.5"/><path d="M207.9 249.4 C206.3 249.3 202.5 248.1 198 248.5 C193.5 248.8 185.8 249.8 180.9 251.6 C176 253.4 171.9 256.2 168.5 259.3 C165.2 262.4 162.7 266 160.8 270.2 C158.9 274.3 157.8 279.7 157.4 284.1 C157 288.5 157.1 292.3 158.5 296.5 C159.8 300.6 162.5 305.2 165.5 308.9 C168.4 312.5 174.5 316.6 176.3 318.1" fill="none" stroke="#e0e0e0" stroke-width="0.5"/><path d="M219.5 249.4 C221.1 249.3 224.9 248.1 229.4 248.5 C233.9 248.8 241.6 249.8 246.5 251.6 C251.4 253.4 255.5 256.2 258.9 259.3 C262.2 262.4 264.7 266 266.6 270.2 C268.5 274.3 269.6 279.7 270 284.1 C270.4 288.5 270.3 292.3 268.9 296.5 C267.6 300.6 264.9 305.2 261.9 308.9 C259 312.5 252.9 316.6 251.1 318.1" fill="none" stroke="#e0e0e0" stroke-width="0.5"/>
<path d="M181.9 296.6 L184.4 300.2 L186.7 307.6 M245.5 296.6 L243.0 300.2 L240.7 307.6 M204.2 320.4 L197.4 320.1 L191.3 320.9 M223.2 320.4 L230.0 320.1 L236.1 320.9 M213.0 307.5 L213.7 306.5 L213.7 309.6 M214.4 307.5 L213.7 306.5 L213.7 309.6 M188.6 300.1 L190.2 303.9 L191.9 308.2 M238.8 300.1 L237.2 303.9 L235.5 308.2 M185.8 302.8 L184.9 311.3 M241.6 302.8 L242.5 311.3 M211.3 281.7 L202.4 282.5 M216.1 281.7 L225.0 282.5 M208.7 287.1 L205.0 281.8 M218.7 287.1 L222.4 281.8 M194.3 320.9 L199.8 317.8 L208.4 316.9 M233.1 320.9 L227.6 317.8 L219.0 316.9 M197.7 303.9 L198.7 311.4 L203.2 318.7 M229.7 303.9 L228.7 311.4 L224.2 318.7 M197.6 295.9 L204.9 294.0 L211.5 294.1 M229.8 295.9 L222.5 294.0 L215.9 294.1 M197.5 296.0 L194.3 301.7 L196.0 308.6 M229.9 296.0 L233.1 301.7 L231.4 308.6 M201.3 284.5 L206.2 283.8 L210.5 284.4 M226.1 284.5 L221.2 283.8 L216.9 284.4 M211.4 314.3 L213.7 311.2 L213.7 303.5 M216.0 314.3 L213.7 311.2 L213.7 303.5 M204.6 310.6 L206.0 306.4 L208.8 303.4 M222.8 310.6 L221.4 306.4 L218.6 303.4 M196.7 304.6 L195.8 299.9 L193.1 293.0 M230.7 304.6 L231.6 299.9 L234.3 293.0 M181.1 309.4 L184.4 312.0 L187.5 318.3 M246.3 309.4 L243.0 312.0 L239.9 318.3 M198.7 312.1 L203.6 316.0 L205.0 323.6 M228.7 312.1 L223.8 316.0 L222.4 323.6 M203.5 291.6 L205.1 297.6 L205.6 302.2 M223.9 291.6 L222.3 297.6 L221.8 302.2 M194.6 313.7 L202.5 317.7 L209.1 320.0 M232.8 313.7 L224.9 317.7 L218.3 320.0 M188.5 305.0 L192.7 305.2 L196.5 302.2 M238.9 305.0 L234.7 305.2 L230.9 302.2 M197.7 290.2 L203.8 296.3 L207.8 299.6 M229.7 290.2 L223.6 296.3 L219.6 299.6 M213.6 321.5 L210.4 314.1 L207.6 309.6 M213.8 321.5 L217.0 314.1 L219.8 309.6 M211.4 302.7 L213.7 300.0 L213.7 293.8 M216.0 302.7 L213.7 300.0 L213.7 293.8 M202.0 309.0 L202.4 314.1 L204.9 319.8 M225.4 309.0 L225.0 314.1 L222.5 319.8 M203.8 294.4 L212.5 292.9 L213.7 291.9 M223.6 294.4 L214.9 292.9 L213.7 291.9 M207.0 300.4 L203.9 306.2 L200.1 308.5 M220.4 300.4 L223.5 306.2 L227.3 308.5 M197.4 315.9 L201.9 310.5 L205.9 302.5 M230.0 315.9 L225.5 310.5 L221.5 302.5" fill="none" stroke="#e1e1e1" stroke-width="0.5"/>
<path d="M206 252 C203.3 251.8 195.7 250.3 190 251 C184.3 251.7 177 253.5 172 256 C167 258.5 162.8 261.7 160 266 C157.2 270.3 155.5 276.7 155 282 C154.5 287.3 155.2 293.2 157 298 C158.8 302.8 162.2 307.3 166 311 C169.8 314.7 177.7 318.5 180 320" fill="none" stroke="#d9d9d9" stroke-width="0.6"/><path d="M221.4 252 C224.1 251.8 231.7 250.3 237.4 251 C243.1 251.7 250.4 253.5 255.4 256 C260.4 258.5 264.6 261.7 267.4 266 C270.2 270.3 271.9 276.7 272.4 282 C272.9 287.3 272.2 293.2 270.4 298 C268.6 302.8 265.2 307.3 261.4 311 C257.6 314.7 249.7 318.5 247.4 320" fill="none" stroke="#d9d9d9" stroke-width="0.6"/>
<path d="M176 268 C174.3 269.7 168 274 166 278 C164 282 163.3 287.5 164 292 C164.7 296.5 167.3 301.8 170 305 C172.7 308.2 176.8 311.3 180 311 C183.2 310.7 187.5 304.3 189 303" fill="none" stroke="#cfcfcf" stroke-width="0.6"/><path d="M251.4 268 C253.1 269.7 259.4 274 261.4 278 C263.4 282 264.1 287.5 263.4 292 C262.7 296.5 260.1 301.8 257.4 305 C254.7 308.2 250.6 311.3 247.4 311 C244.2 310.7 239.9 304.3 238.4 303" fill="none" stroke="#cfcfcf" stroke-width="0.6"/>
<path d="M176 268 C176.3 267.2 181.3 263.6 184 262.5 C186.7 261.4 193.1 260 196 259.5 C198.9 259 203.6 258.8 206 259 C208.4 259.2 211.6 261 213.7 261 C215.8 261 219 259.2 221.4 259 C223.8 258.8 228.5 259 231.4 259.5 C234.3 260 240.7 261.4 243.4 262.5 C246.1 263.6 251.1 267.2 251.4 268 C251.7 268.8 248.1 268.9 246 268.5 C243.9 268.1 238.9 265.6 236 265 C233.1 264.4 227 263.9 224 264 C221 264.1 216.4 265.5 213.7 265.5 C211 265.5 206.4 264.1 203.4 264 C200.4 263.9 194.3 264.4 191.4 265 C188.5 265.6 183.5 268.1 181.4 268.5 C179.3 268.9 175.7 268.8 176 268Z" fill="#c6c6c6" stroke="none" stroke-width="0"/>
<path d="M162.5 282 C163.2 280.8 164.8 277.1 166.5 275 C168.2 272.9 170.6 271.1 173 269.5 C175.4 267.9 179.7 266.2 181 265.5" fill="none" stroke="#c6c6c6" stroke-width="3.4"/><path d="M264.9 282 C264.2 280.8 262.6 277.1 260.9 275 C259.1 272.9 256.8 271.1 254.4 269.5 C252 267.9 247.7 266.2 246.4 265.5" fill="none" stroke="#c6c6c6" stroke-width="3.4"/>
<path d="M188.5 268 C189.4 266.4 193.8 265.8 196 265.6 C198.2 265.4 202.2 265.7 203.5 266.5 C204.8 267.3 205 269.6 204.6 271 C204.2 272.4 202 274.8 200.5 276 C199 277.2 196.1 279.3 194.5 279.3 C192.9 279.3 190.9 277.7 190 276 C189.1 274.3 187.6 269.6 188.5 268Z" fill="#000000" stroke="none" stroke-width="0"/><path d="M238.9 268 C238 266.4 233.6 265.8 231.4 265.6 C229.1 265.4 225.2 265.7 223.9 266.5 C222.6 267.3 222.3 269.6 222.8 271 C223.2 272.4 225.4 274.8 226.9 276 C228.4 277.2 231.3 279.3 232.9 279.3 C234.5 279.3 236.5 277.7 237.4 276 C238.3 274.3 239.8 269.6 238.9 268Z" fill="#000000" stroke="none" stroke-width="0"/>
<path d="M204.5 277.5 C205 276.8 210 276.8 210.8 277.2 C211.6 277.6 210.9 280.1 211.2 280.6 C211.5 281.1 213.1 281.2 213.7 281.2 C214.3 281.2 215.9 281.1 216.2 280.6 C216.5 280.1 215.8 277.6 216.6 277.2 C217.4 276.8 222.3 276.8 222.8 277.5 C223.3 278.2 222.1 282.3 221 283.2 C219.9 284.1 215.4 285.6 213.7 285.6 C212 285.6 207.5 284.1 206.4 283.2 C205.3 282.3 204 278.2 204.5 277.5Z" fill="#000000" stroke="none" stroke-width="0"/>
<polygon points="197,277 204,276.5 205,281 200,282" fill="#c6c6c6"/><polygon points="230.4,277 223.4,276.5 222.4,281 227.4,282" fill="#c6c6c6"/>
<path d="M188 282 C188.6 281.6 190.8 282.4 191.5 284 C192.2 285.6 193.1 291.7 193.2 294 C193.3 296.3 193 300.7 192.5 301 C192 301.3 190.5 297.9 189.8 296 C189.1 294.1 187.2 288.9 187 287 C186.8 285.1 187.4 282.4 188 282Z" fill="#c6c6c6" stroke="none" stroke-width="0"/><path d="M239.4 282 C238.8 281.6 236.6 282.4 235.9 284 C235.2 285.6 234.3 291.7 234.2 294 C234.1 296.3 234.4 300.7 234.9 301 C235.4 301.3 236.9 297.9 237.6 296 C238.3 294.1 240.2 288.9 240.4 287 C240.6 285.1 240 282.4 239.4 282Z" fill="#c6c6c6" stroke="none" stroke-width="0"/>
<path d="M195.4 325.5 C196.3 325.1 203.2 324.4 205 324.5 C206.8 324.6 212 326.5 213.7 326.5 C215.4 326.5 220.6 324.6 222.4 324.5 C224.2 324.4 231.1 325.1 232 325.5 C232.9 325.9 232 328.7 231 329 C230 329.3 224.1 328.4 222.4 328.5 C220.7 328.6 215.4 330.4 213.7 330.4 C212 330.4 206.7 328.6 205 328.5 C203.3 328.4 197.4 329.3 196.4 329 C195.4 328.7 194.5 325.9 195.4 325.5Z" fill="#c6c6c6" stroke="none" stroke-width="0"/>
<line x1="213.7" y1="308" x2="213.7" y2="325" stroke="#444" stroke-width="0.9"/>
<path d="M200 290 C199.3 292.5 196 300.3 196 305 C196 309.7 197.1 315.2 200 318 C202.9 320.8 211.4 321.3 213.7 322" fill="none" stroke="#d9d9d9" stroke-width="0.5"/><path d="M227.4 290 C228.1 292.5 231.4 300.3 231.4 305 C231.4 309.7 230.3 315.2 227.4 318 C224.4 320.8 216 321.3 213.7 322" fill="none" stroke="#d9d9d9" stroke-width="0.5"/>
<path d="M205 286 C205 288.3 203.6 297 205 300 C206.4 303 212.2 303.3 213.7 304" fill="none" stroke="#d9d9d9" stroke-width="0.5"/><path d="M222.4 286 C222.4 288.3 223.8 297 222.4 300 C220.9 303 215.1 303.3 213.7 304" fill="none" stroke="#d9d9d9" stroke-width="0.5"/></g>
<g id="t_1555"><path d="M311.9 245.8 C309.6 245.8 307.8 242.1 305 241 C302.2 239.9 300.4 239 295.2 239.5 C290 240 279.9 241.4 273.6 244 C267.3 246.6 261.6 250.6 257.4 254.8 C253.2 259 250.4 263.8 248.4 269.2 C246.4 274.6 245.5 281.5 245.2 287.2 C244.9 292.9 245.3 298.6 246.5 303.4 C247.7 308.2 250.4 312.2 252.5 316 C254.6 319.8 256.4 323.4 259 326 C261.6 328.6 265.2 330.2 268 331.3 C270.8 332.4 273.5 332.8 276 332.5 C278.5 332.2 280.9 330.5 283 329.5 C285.1 328.5 286.3 326.4 288.5 326.5 C290.7 326.6 293.4 328.8 296 330 C298.6 331.2 301.4 333.2 304 334 C306.6 334.8 309.3 334.9 311.9 334.9 C314.5 334.9 317.1 334.8 319.8 334 C322.4 333.2 325.2 331.2 327.8 330 C330.4 328.8 333.1 326.6 335.3 326.5 C337.5 326.4 338.7 328.5 340.8 329.5 C342.9 330.5 345.3 332.2 347.8 332.5 C350.3 332.8 353 332.4 355.8 331.3 C358.6 330.2 362.2 328.6 364.8 326 C367.4 323.4 369.2 319.8 371.3 316 C373.4 312.2 376.1 308.2 377.3 303.4 C378.5 298.6 378.9 292.9 378.6 287.2 C378.3 281.5 377.4 274.6 375.4 269.2 C373.4 263.8 370.6 259 366.4 254.8 C362.2 250.6 356.5 246.6 350.2 244 C343.9 241.4 333.8 240 328.6 239.5 C323.4 239 321.6 239.9 318.8 241 C316 242.1 314.2 245.8 311.9 245.8Z" fill="#fff" stroke="#8a8a8a" stroke-width="0.7" stroke-dasharray="2.2 0.6"/>
<path d="M305.3 243.3 C303.8 243.1 300.9 241.4 296 241.9 C291 242.3 281.3 243.7 275.3 246.2 C269.3 248.6 263.9 252.5 259.9 256.5 C255.8 260.5 253.2 265.1 251.3 270.2 C249.3 275.4 248.5 282 248.2 287.4 C247.9 292.9 248.3 298.3 249.4 302.9 C250.6 307.5 253.2 311.3 255.2 314.9 C257.2 318.5 260.3 322.9 261.4 324.5" fill="none" stroke="#e0e0e0" stroke-width="0.5"/><path d="M318.5 243.3 C320 243.1 322.9 241.4 327.8 241.9 C332.8 242.3 342.5 243.7 348.5 246.2 C354.5 248.6 359.9 252.5 363.9 256.5 C368 260.5 370.6 265.1 372.5 270.2 C374.5 275.4 375.3 282 375.6 287.4 C375.9 292.9 375.5 298.3 374.4 302.9 C373.2 307.5 370.6 311.3 368.6 314.9 C366.6 318.5 363.5 322.9 362.4 324.5" fill="none" stroke="#e0e0e0" stroke-width="0.5"/><path d="M305.6 245.3 C304.1 245.1 301.4 243.5 296.6 244 C291.8 244.4 282.6 245.7 276.9 248.1 C271.1 250.4 265.9 254.1 262 258 C258.2 261.8 255.7 266.2 253.8 271.1 C251.9 276.1 251.2 282.4 250.9 287.6 C250.6 292.8 250.9 298 252.1 302.4 C253.2 306.8 255.6 310.5 257.5 314 C259.5 317.4 262.5 321.6 263.5 323.1" fill="none" stroke="#e0e0e0" stroke-width="0.5"/><path d="M318.2 245.3 C319.7 245.1 322.4 243.5 327.2 244 C332 244.4 341.2 245.7 346.9 248.1 C352.7 250.4 357.9 254.1 361.8 258 C365.6 261.8 368.1 266.2 370 271.1 C371.9 276.1 372.6 282.4 372.9 287.6 C373.2 292.8 372.9 298 371.7 302.4 C370.6 306.8 368.2 310.5 366.3 314 C364.3 317.4 361.3 321.6 360.3 323.1" fill="none" stroke="#e0e0e0" stroke-width="0.5"/><path d="M306 248.1 C304.6 247.9 302 246.4 297.5 246.8 C293 247.3 284.4 248.5 279 250.7 C273.5 252.9 268.6 256.4 265 260 C261.4 263.6 259 267.7 257.3 272.4 C255.5 277 254.8 283 254.5 287.9 C254.3 292.8 254.6 297.7 255.7 301.8 C256.7 305.9 259 309.4 260.8 312.6 C262.6 315.9 265.5 319.8 266.4 321.2" fill="none" stroke="#e0e0e0" stroke-width="0.5"/><path d="M317.8 248.1 C319.2 247.9 321.8 246.4 326.3 246.8 C330.8 247.3 339.4 248.5 344.8 250.7 C350.3 252.9 355.2 256.4 358.8 260 C362.4 263.6 364.8 267.7 366.5 272.4 C368.3 277 369 283 369.3 287.9 C369.5 292.8 369.2 297.7 368.1 301.8 C367.1 305.9 364.8 309.4 363 312.6 C361.2 315.9 358.3 319.8 357.4 321.2" fill="none" stroke="#e0e0e0" stroke-width="0.5"/>
<path d="M309.9 318.6 L304.1 322.5 M313.9 318.6 L319.7 322.5 M302.3 285.8 L303.7 294.7 L305.3 302.7 M321.5 285.8 L320.1 294.7 L318.5 302.7 M302.9 289.7 L297.7 283.2 L294.9 276.0 M320.9 289.7 L326.1 283.2 L328.9 276.0 M295.5 283.6 L297.1 275.4 M328.3 283.6 L326.7 275.4 M304.4 280.3 L307.9 272.7 M319.4 280.3 L315.9 272.7 M288.7 294.0 L284.9 290.0 L279.8 287.0 M335.1 294.0 L338.9 290.0 L344.0 287.0 M288.2 287.1 L295.5 288.4 L299.6 295.6 M335.6 287.1 L328.3 288.4 L324.2 295.6 M305.0 288.0 L311.9 286.8 L311.9 288.4 M318.8 288.0 L311.9 286.8 L311.9 288.4 M290.1 275.9 L297.5 279.0 L302.3 279.1 M333.7 275.9 L326.3 279.0 L321.5 279.1 M307.8 282.2 L311.9 276.2 M316.0 282.2 L311.9 276.2 M287.2 308.1 L292.2 308.2 L298.1 304.3 M336.6 308.1 L331.6 308.2 L325.7 304.3 M294.3 311.2 L287.4 309.1 L281.5 305.7 M329.5 311.2 L336.4 309.1 L342.3 305.7 M288.0 290.7 L283.3 296.7 L277.8 297.0 M335.8 290.7 L340.5 296.7 L346.0 297.0 M285.5 295.3 L291.4 296.6 L295.1 298.2 M338.3 295.3 L332.4 296.6 L328.7 298.2 M305.9 292.9 L303.2 287.2 L302.8 281.5 M317.9 292.9 L320.6 287.2 L321.0 281.5 M311.5 293.8 L311.9 300.8 L311.9 305.5 M312.3 293.8 L311.9 300.8 L311.9 305.5 M294.9 289.3 L292.3 294.2 L291.5 301.1 M328.9 289.3 L331.5 294.2 L332.3 301.1 M289.2 315.2 L294.9 319.0 L300.4 319.5 M334.6 315.2 L328.9 319.0 L323.4 319.5 M306.1 285.1 L306.3 291.3 L307.9 295.5 M317.7 285.1 L317.5 291.3 L315.9 295.5 M296.9 317.3 L299.0 311.4 L300.8 307.2 M326.9 317.3 L324.8 311.4 L323.0 307.2 M300.1 321.4 L300.9 316.6 L304.1 309.2 M323.7 321.4 L322.9 316.6 L319.7 309.2 M304.6 282.6 L305.8 287.9 L308.4 292.6 M319.2 282.6 L318.0 287.9 L315.4 292.6 M291.7 307.0 L288.5 315.0 M332.1 307.0 L335.3 315.0 M306.5 321.8 L310.5 315.7 L311.9 310.5 M317.3 321.8 L313.3 315.7 L311.9 310.5 M310.6 305.2 L308.2 300.4 L309.3 296.3 M313.2 305.2 L315.6 300.4 L314.5 296.3 M280.9 300.0 L282.0 305.4 L284.3 311.6 M342.9 300.0 L341.8 305.4 L339.5 311.6 M285.8 289.8 L280.8 291.6 M338.0 289.8 L343.0 291.6" fill="none" stroke="#e1e1e1" stroke-width="0.5"/>
<path d="M305 250.5 C302.5 250.4 295.2 249.2 290 250 C284.8 250.8 278.7 252.7 274 255 C269.3 257.3 265.3 260.2 262 264 C258.7 267.8 255.7 273.2 254 278 C252.3 282.8 251.8 288 252 293 C252.2 298 253.2 303.7 255 308 C256.8 312.3 261.7 317.2 263 319" fill="none" stroke="#d9d9d9" stroke-width="0.6"/><path d="M318.8 250.5 C321.3 250.4 328.6 249.2 333.8 250 C339 250.8 345.1 252.7 349.8 255 C354.5 257.3 358.5 260.2 361.8 264 C365.1 267.8 368.1 273.2 369.8 278 C371.5 282.8 372 288 371.8 293 C371.6 298 370.6 303.7 368.8 308 C367 312.3 362.1 317.2 360.8 319" fill="none" stroke="#d9d9d9" stroke-width="0.6"/>
<path d="M257 300 C257.8 302 259.8 308.3 262 312 C264.2 315.7 268.7 320.3 270 322" fill="none" stroke="#d9d9d9" stroke-width="0.5"/><path d="M366.8 300 C366 302 364 308.3 361.8 312 C359.6 315.7 355.1 320.3 353.8 322" fill="none" stroke="#d9d9d9" stroke-width="0.5"/>
<path d="M259.4 292 C259.7 290.2 260.1 284.1 261 281 C261.9 277.9 262.3 276.7 264.6 273.4 C266.9 270.1 271 264.2 274.8 261.1 C278.6 258 282.9 256.3 287.2 255 C291.5 253.7 297.2 253 300.5 253.4 C303.8 253.8 304.8 256.2 306.7 257.2 C308.6 258.2 311 259.2 311.9 259.6" fill="none" stroke="#c6c6c6" stroke-width="3.6"/><path d="M364.4 292 C364.1 290.2 363.7 284.1 362.8 281 C361.9 277.9 361.5 276.7 359.2 273.4 C356.9 270.1 352.8 264.2 349 261.1 C345.2 258 340.9 256.3 336.6 255 C332.3 253.7 326.5 253 323.3 253.4 C320 253.8 319 256.2 317.1 257.2 C315.2 258.2 312.8 259.2 311.9 259.6" fill="none" stroke="#c6c6c6" stroke-width="3.6"/>
<path d="M269.2 280.5 C269.2 282 268.4 289.2 269.4 292 C270.4 294.8 274.9 298.9 276.9 301.2 C278.9 303.5 282.5 307.7 284.1 309.4 C285.7 311.1 288.5 313.5 289.2 314.1" fill="none" stroke="#c6c6c6" stroke-width="4.4"/><path d="M354.6 280.5 C354.6 282 355.4 289.2 354.4 292 C353.4 294.8 348.9 298.9 346.9 301.2 C344.9 303.5 341.3 307.7 339.7 309.4 C338.1 311.1 335.3 313.5 334.6 314.1" fill="none" stroke="#c6c6c6" stroke-width="4.4"/>
<path d="M272.9 287.4 C273.8 286.7 276.3 284.3 278 283 C279.7 281.7 282.2 280.2 283.1 279.6" fill="none" stroke="#c6c6c6" stroke-width="2.4"/><path d="M350.9 287.4 C350 286.7 347.5 284.3 345.8 283 C344.1 281.7 341.5 280.2 340.7 279.6" fill="none" stroke="#c6c6c6" stroke-width="2.4"/>
<path d="M276.9 306.4 C277.8 307.6 280.1 311.1 282 313.5 C283.9 315.9 287.2 319.6 288.2 320.8" fill="none" stroke="#c6c6c6" stroke-width="1.0"/><path d="M346.9 306.4 C346 307.6 343.7 311.1 341.8 313.5 C339.9 315.9 336.6 319.6 335.6 320.8" fill="none" stroke="#c6c6c6" stroke-width="1.0"/>
<polygon points="272.8,273.4 276.8,273.8 277.9,280.5 275.5,282.7 273.5,281" fill="#c6c6c6"/><polygon points="351,273.4 347,273.8 345.9,280.5 348.3,282.7 350.3,281" fill="#c6c6c6"/>
<path d="M289 267.4 C290.3 267.3 294.7 266.6 297 267 C299.3 267.4 301.4 269 303 269.5 C304.6 270 306.1 269.9 306.7 270" fill="none" stroke="#bfbfbf" stroke-width="1.0"/><path d="M334.8 267.4 C333.5 267.3 329.1 266.6 326.8 267 C324.5 267.4 322.4 269 320.8 269.5 C319.2 270 317.7 269.9 317.1 270" fill="none" stroke="#bfbfbf" stroke-width="1.0"/>
<path d="M291 271.5 C292.2 271.4 295.8 270.7 298 271 C300.2 271.3 303 273 304 273.4" fill="none" stroke="#bfbfbf" stroke-width="1.0"/><path d="M332.8 271.5 C331.6 271.4 328 270.7 325.8 271 C323.6 271.3 320.8 273 319.8 273.4" fill="none" stroke="#bfbfbf" stroke-width="1.0"/>
<path d="M280 262 C283.3 262 294.7 261.7 300 262 C305.3 262.3 309.9 263.7 311.9 264" fill="none" stroke="#d9d9d9" stroke-width="0.6"/><path d="M343.8 262 C340.5 262 329.1 261.7 323.8 262 C318.5 262.3 313.9 263.7 311.9 264" fill="none" stroke="#d9d9d9" stroke-width="0.6"/>
<path d="M284 284 C283.7 285.7 281.3 290.5 282 294 C282.7 297.5 285.3 302 288 305 C290.7 308 294 310.5 298 312 C302 313.5 309.6 313.7 311.9 314" fill="none" stroke="#d9d9d9" stroke-width="0.6"/><path d="M339.8 284 C340.1 285.7 342.5 290.5 341.8 294 C341.1 297.5 338.5 302 335.8 305 C333.1 308 329.8 310.5 325.8 312 C321.8 313.5 314.2 313.7 311.9 314" fill="none" stroke="#d9d9d9" stroke-width="0.6"/>
<path d="M292 282 C293.3 279.2 297.8 278.7 300 280 C302.2 281.3 305 286.7 305 290 C305 293.3 302.2 298.8 300 300 C297.8 301.2 293.3 300 292 297 C290.7 294 290.7 284.8 292 282Z" fill="none" stroke="#d9d9d9" stroke-width="0.5"/><path d="M331.8 282 C330.5 279.2 326 278.7 323.8 280 C321.6 281.3 318.8 286.7 318.8 290 C318.8 293.3 321.6 298.8 323.8 300 C326 301.2 330.5 300 331.8 297 C333.1 294 333.1 284.8 331.8 282Z" fill="none" stroke="#d9d9d9" stroke-width="0.5"/>
<path d="M271.7 269.2 C272.1 269.2 273.7 271.5 273.8 272.5 C273.9 273.5 273.5 278.9 273.2 279.6 C272.9 280.3 271.5 280.3 271.2 279.6 C270.9 278.9 270.8 273.7 270.6 273 C270.4 272.3 269.5 273.2 269.6 272.8 C269.7 272.4 271.3 269.2 271.7 269.2Z" fill="#000000" stroke="none" stroke-width="0"/><path d="M352.1 269.2 C351.7 269.2 350.1 271.5 350 272.5 C349.8 273.5 350.3 278.9 350.6 279.6 C350.9 280.3 352.3 280.3 352.6 279.6 C352.9 278.9 353 273.7 353.2 273 C353.4 272.3 354.3 273.2 354.2 272.8 C354.1 272.4 352.5 269.2 352.1 269.2Z" fill="#000000" stroke="none" stroke-width="0"/>
<path d="M311.9 266.8 C312.3 266.8 313.9 268.4 314.1 269 C314.3 269.6 314.4 272 314.3 272.5 C314.2 273 312.9 273.2 312.7 274 C312.5 274.8 312.8 279.9 312.6 280.5 C312.5 281.1 311.3 281.1 311.2 280.5 C311.1 279.9 311.3 274.8 311.1 274 C310.9 273.2 309.6 273 309.5 272.5 C309.4 272 309.5 269.6 309.7 269 C309.9 268.4 311.5 266.8 311.9 266.8Z" fill="#000000" stroke="none" stroke-width="0"/>
<circle cx="303.8" cy="307.2" r="1.7" fill="#c6c6c6"/><circle cx="320" cy="307.2" r="1.7" fill="#c6c6c6"/>
<path d="M311.9 318.7 V331 M310.6 333.4 L311.9 330 L313.2 333.4Z" stroke="#222" stroke-width="0.9" fill="#222"/></g>
<g id="t_2555"><path d="M415.1 245.5 C412.7 245.5 410.9 241.9 408 241 C405.1 240.1 403.1 239.3 398 240 C392.9 240.7 383.5 242.5 377.4 245 C371.3 247.5 365.5 251.1 361.2 254.8 C356.9 258.5 353.7 262.6 351.3 267.4 C348.9 272.2 347.4 278.2 346.9 283.6 C346.4 289 346.9 295 348.2 300 C349.5 305 352.4 309.5 354.5 313.5 C356.6 317.5 358.8 320.6 361 324 C363.2 327.4 365.5 332 367.8 333.8 C370.1 335.6 372.5 335.4 375 334.8 C377.5 334.2 380.6 331.6 383 330 C385.4 328.4 387.1 325.9 389.4 325.5 C391.7 325.1 394.4 326.8 397 327.5 C399.6 328.2 402 329.5 405 330 C408 330.5 411.7 330.6 415.1 330.6 C418.5 330.6 422.2 330.5 425.2 330 C428.2 329.5 430.6 328.2 433.2 327.5 C435.8 326.8 438.5 325.1 440.8 325.5 C443.1 325.9 444.8 328.4 447.2 330 C449.6 331.6 452.7 334.2 455.2 334.8 C457.7 335.4 460.1 335.6 462.4 333.8 C464.7 332 467 327.4 469.2 324 C471.4 320.6 473.6 317.5 475.7 313.5 C477.8 309.5 480.7 305 482 300 C483.3 295 483.8 289 483.3 283.6 C482.8 278.2 481.3 272.2 478.9 267.4 C476.5 262.6 473.4 258.5 469 254.8 C464.7 251.1 458.9 247.5 452.8 245 C446.7 242.5 437.3 240.7 432.2 240 C427.1 239.3 425.1 240.1 422.2 241 C419.4 241.9 417.5 245.5 415.1 245.5Z" fill="#fff" stroke="#8a8a8a" stroke-width="0.7" stroke-dasharray="2.2 0.6"/>
<path d="M408.3 243.2 C406.7 243 403.6 241.6 398.8 242.2 C393.9 242.9 385 244.7 379.1 247 C373.2 249.4 367.8 252.8 363.6 256.4 C359.5 259.9 356.4 263.8 354.2 268.4 C351.9 273 350.5 278.7 350 283.9 C349.5 289.1 350 294.8 351.2 299.6 C352.4 304.3 355.2 308.6 357.2 312.4 C359.3 316.3 362.4 320.8 363.4 322.5" fill="none" stroke="#e0e0e0" stroke-width="0.5"/><path d="M421.9 243.2 C423.5 243 426.6 241.6 431.4 242.2 C436.3 242.9 445.2 244.7 451.1 247 C457 249.4 462.4 252.8 466.6 256.4 C470.7 259.9 473.8 263.8 476 268.4 C478.3 273 479.7 278.7 480.2 283.9 C480.7 289.1 480.2 294.8 479 299.6 C477.8 304.3 475 308.6 473 312.4 C470.9 316.3 467.8 320.8 466.8 322.5" fill="none" stroke="#e0e0e0" stroke-width="0.5"/><path d="M408.6 245.2 C407.1 245 404.1 243.6 399.5 244.2 C394.8 244.9 386.2 246.6 380.6 248.8 C375 251.1 369.8 254.4 365.8 257.8 C361.8 261.2 358.9 264.9 356.7 269.3 C354.5 273.7 353.2 279.2 352.7 284.1 C352.2 289.1 352.7 294.6 353.9 299.1 C355 303.7 357.7 307.8 359.7 311.5 C361.6 315.2 364.6 319.5 365.6 321.1" fill="none" stroke="#e0e0e0" stroke-width="0.5"/><path d="M421.6 245.2 C423.1 245 426.1 243.6 430.7 244.2 C435.4 244.9 444 246.6 449.6 248.8 C455.2 251.1 460.4 254.4 464.4 257.8 C468.4 261.2 471.3 264.9 473.5 269.3 C475.7 273.7 477 279.2 477.5 284.1 C478 289.1 477.5 294.6 476.3 299.1 C475.2 303.7 472.5 307.8 470.5 311.5 C468.6 315.2 465.6 319.5 464.6 321.1" fill="none" stroke="#e0e0e0" stroke-width="0.5"/><path d="M409 247.9 C407.6 247.7 404.8 246.4 400.4 247 C396 247.6 388 249.2 382.7 251.3 C377.4 253.4 372.5 256.5 368.7 259.7 C365 262.9 362.3 266.4 360.2 270.6 C358.2 274.7 356.9 279.8 356.4 284.5 C356 289.2 356.5 294.3 357.6 298.6 C358.7 302.9 361.1 306.8 363 310.2 C364.8 313.6 367.6 317.7 368.6 319.2" fill="none" stroke="#e0e0e0" stroke-width="0.5"/><path d="M421.2 247.9 C422.6 247.7 425.4 246.4 429.8 247 C434.2 247.6 442.2 249.2 447.5 251.3 C452.8 253.4 457.7 256.5 461.5 259.7 C465.2 262.9 467.9 266.4 470 270.6 C472 274.7 473.3 279.8 473.8 284.5 C474.2 289.2 473.7 294.3 472.6 298.6 C471.5 302.9 469.1 306.8 467.2 310.2 C465.4 313.6 462.6 317.7 461.6 319.2" fill="none" stroke="#e0e0e0" stroke-width="0.5"/>
<path d="M414.0 304.3 L413.4 309.0 L408.7 312.8 M416.2 304.3 L416.8 309.0 L421.5 312.8 M404.7 274.4 L408.4 280.0 L413.1 281.3 M425.5 274.4 L421.8 280.0 L417.1 281.3 M407.0 320.4 L413.9 316.3 L415.1 312.5 M423.2 320.4 L416.3 316.3 L415.1 312.5 M390.6 282.8 L385.7 282.9 M439.6 282.8 L444.5 282.9 M396.4 281.6 L392.8 289.3 L385.4 293.3 M433.8 281.6 L437.4 289.3 L444.8 293.3 M390.7 295.1 L384.5 295.0 L379.9 292.0 M439.5 295.1 L445.7 295.0 L450.3 292.0 M407.2 297.5 L403.7 293.4 L398.3 290.0 M423.0 297.5 L426.5 293.4 L431.9 290.0 M398.3 295.8 L393.5 297.3 L389.0 300.2 M431.9 295.8 L436.7 297.3 L441.2 300.2 M414.7 281.3 L406.7 284.2 L403.8 287.4 M415.5 281.3 L423.5 284.2 L426.4 287.4 M412.3 275.7 L415.1 280.2 L415.1 280.7 M417.9 275.7 L415.1 280.2 L415.1 280.7 M403.4 272.7 L410.0 276.7 L414.0 277.4 M426.8 272.7 L420.2 276.7 L416.2 277.4 M406.6 283.2 L411.9 286.4 L413.0 292.2 M423.6 283.2 L418.3 286.4 L417.2 292.2 M413.3 298.2 L415.1 301.6 L415.1 304.0 M416.9 298.2 L415.1 301.6 L415.1 304.0 M400.4 299.6 L395.9 298.3 L389.5 299.4 M429.8 299.6 L434.3 298.3 L440.7 299.4 M401.8 295.9 L393.9 295.7 L385.0 295.9 M428.4 295.9 L436.3 295.7 L445.2 295.9 M413.9 312.6 L415.1 311.3 L415.1 314.4 M416.3 312.6 L415.1 311.3 L415.1 314.4 M408.3 296.0 L410.8 300.6 L410.0 305.7 M421.9 296.0 L419.4 300.6 L420.2 305.7 M409.7 300.6 L415.1 303.4 L415.1 308.9 M420.5 300.6 L415.1 303.4 L415.1 308.9 M406.5 319.6 L411.7 312.7 L415.1 310.0 M423.7 319.6 L418.5 312.7 L415.1 310.0 M384.9 290.9 L392.8 287.7 L401.6 286.9 M445.3 290.9 L437.4 287.7 L428.6 286.9 M400.7 299.9 L398.8 293.4 L392.7 287.2 M429.5 299.9 L431.4 293.4 L437.5 287.2 M378.6 296.5 L385.5 291.7 L393.5 290.9 M451.6 296.5 L444.7 291.7 L436.7 290.9 M394.8 282.6 L399.3 280.4 L404.8 281.8 M435.4 282.6 L430.9 280.4 L425.4 281.8 M411.2 278.3 L408.0 280.9 L402.7 285.4 M419.0 278.3 L422.2 280.9 L427.5 285.4 M395.5 280.8 L396.8 286.4 L402.7 289.5 M434.7 280.8 L433.4 286.4 L427.5 289.5 M397.0 275.8 L403.4 278.0 L411.3 277.8 M433.2 275.8 L426.8 278.0 L418.9 277.8 M412.4 314.0 L415.1 310.5 L415.1 309.0 M417.8 314.0 L415.1 310.5 L415.1 309.0 M390.1 294.7 L389.3 286.8 M440.1 294.7 L440.9 286.8" fill="none" stroke="#e1e1e1" stroke-width="0.5"/>
<path d="M408 250 C405.5 249.8 398.2 248.5 393 249 C387.8 249.5 381.8 250.7 377 253 C372.2 255.3 367.4 259 364 263 C360.6 267 358.1 272 356.5 277 C354.9 282 354.2 287.8 354.5 293 C354.8 298.2 356.1 303.5 358 308 C359.9 312.5 364.7 318 366 320" fill="none" stroke="#d9d9d9" stroke-width="0.6"/><path d="M422.2 250 C424.7 249.8 432 248.5 437.2 249 C442.4 249.5 448.4 250.7 453.2 253 C458 255.3 462.8 259 466.2 263 C469.6 267 472.1 272 473.7 277 C475.3 282 476 287.8 475.7 293 C475.5 298.2 474.1 303.5 472.2 308 C470.3 312.5 465.5 318 464.2 320" fill="none" stroke="#d9d9d9" stroke-width="0.6"/>
<path d="M362.2 293 C362.2 291.1 361.6 285.3 362.5 281.3 C363.4 277.3 365.4 272.3 367.8 268.9 C370.2 265.5 373.7 262.8 377.1 260.7 C380.5 258.6 384.8 257.4 388.4 256.4 C392 255.4 396.3 254.9 398.7 254.5 C401.1 254.1 402.3 254.1 403 254" fill="none" stroke="#c6c6c6" stroke-width="3.8"/><path d="M468 293 C468 291.1 468.6 285.3 467.7 281.3 C466.8 277.3 464.8 272.3 462.4 268.9 C460 265.5 456.5 262.8 453.1 260.7 C449.7 258.6 445.4 257.4 441.8 256.4 C438.2 255.4 433.9 254.9 431.5 254.5 C429.1 254.1 427.9 254.1 427.2 254" fill="none" stroke="#c6c6c6" stroke-width="3.8"/>
<polygon points="398,253 402.8,252.8 407,262.8 403.5,262.5" fill="#c6c6c6"/><polygon points="432.2,253 427.4,252.8 423.2,262.8 426.7,262.5" fill="#c6c6c6"/>
<path d="M382.8 302.5 C383.3 303.7 384.4 307.4 385.8 309.5 C387.2 311.6 389.5 313.6 391.5 315.2 C393.5 316.8 396.9 318.2 398 318.8" fill="none" stroke="#c6c6c6" stroke-width="3.4"/><path d="M447.4 302.5 C446.9 303.7 445.9 307.4 444.4 309.5 C443 311.6 440.7 313.6 438.7 315.2 C436.7 316.8 433.3 318.2 432.2 318.8" fill="none" stroke="#c6c6c6" stroke-width="3.4"/>
<polygon points="384.2,287.8 388.4,287.2 388.6,291.6 384.4,292" fill="#c6c6c6"/><polygon points="446,287.8 441.8,287.2 441.6,291.6 445.8,292" fill="#c6c6c6"/>
<path d="M380.2 274 C381.3 273.3 384.1 270.8 387 270 C389.9 269.2 395.8 269.2 397.6 269" fill="none" stroke="#bdbdbd" stroke-width="1.0"/><path d="M450 274 C448.9 273.3 446.1 270.8 443.2 270 C440.3 269.2 434.4 269.2 432.6 269" fill="none" stroke="#bdbdbd" stroke-width="1.0"/>
<path d="M382 276.5 C383.2 276 386.3 274.1 389 273.5 C391.7 272.9 396.5 273.1 398 273" fill="none" stroke="#bdbdbd" stroke-width="1.0"/><path d="M448.2 276.5 C447 276 443.9 274.1 441.2 273.5 C438.5 272.9 433.7 273.1 432.2 273" fill="none" stroke="#bdbdbd" stroke-width="1.0"/>
<path d="M379 276 C378.5 277.8 376 283.2 375.8 287 C375.6 290.8 376.5 295.8 378 299 C379.5 302.2 383.8 304.8 385 306" fill="none" stroke="#d9d9d9" stroke-width="0.6"/><path d="M451.2 276 C451.7 277.8 454.2 283.2 454.4 287 C454.6 290.8 453.7 295.8 452.2 299 C450.7 302.2 446.4 304.8 445.2 306" fill="none" stroke="#d9d9d9" stroke-width="0.6"/>
<path d="M361.1 293.6 C360.9 294.9 361 301.3 361.6 303.5 C362.2 305.7 364.3 308.6 365.8 309.8 C367.3 311 372 312.5 373 312.6 C374 312.7 373.6 311.5 373 310.6 C372.4 309.7 369.3 307.5 368.2 306 C367.1 304.5 365.2 301.2 364.6 299.5 C364 297.8 363.9 294.4 363.4 293.6 C362.9 292.8 361.3 292.3 361.1 293.6Z" fill="#000000" stroke="none" stroke-width="0"/><path d="M469.1 293.6 C469.3 294.9 469.2 301.3 468.6 303.5 C468 305.7 465.9 308.6 464.4 309.8 C462.9 311 458.2 312.5 457.2 312.6 C456.2 312.7 456.6 311.5 457.2 310.6 C457.8 309.7 460.9 307.5 462 306 C463.1 304.5 465 301.2 465.6 299.5 C466.2 297.8 466.3 294.4 466.8 293.6 C467.3 292.8 468.9 292.3 469.1 293.6Z" fill="#000000" stroke="none" stroke-width="0"/>
<ellipse cx="415.1" cy="267" rx="3" ry="3.2" fill="#000"/>
<path d="M411.9 272 C412.3 271.6 417.9 271.6 418.3 272 C418.7 272.4 416.5 275.7 416.2 276.2 C415.9 276.7 415.3 277.4 415.1 277.4 C414.9 277.4 414.3 276.7 414 276.2 C413.7 275.7 411.5 272.4 411.9 272Z" fill="#000000" stroke="none" stroke-width="0"/>
<line x1="415.1" y1="280.2" x2="415.1" y2="300.8" stroke="#333" stroke-width="0.8"/>
<ellipse cx="409.5" cy="297.7" rx="1.3" ry="2.4" fill="#c6c6c6"/><ellipse cx="420.7" cy="297.7" rx="1.3" ry="2.4" fill="#c6c6c6"/>
<circle cx="415.1" cy="326.5" r="0.9" fill="#000"/>
<path d="M400 312 C401.3 312.8 405.5 316 408 317 C410.5 318 413.9 317.8 415.1 318" fill="none" stroke="#d9d9d9" stroke-width="0.5"/><path d="M430.2 312 C428.9 312.8 424.7 316 422.2 317 C419.7 318 416.3 317.8 415.1 318" fill="none" stroke="#d9d9d9" stroke-width="0.5"/></g>
<g id="t_358"><path d="M519 258.9 C516.6 258.9 511.8 257 511 256.3 C510.2 255.6 512.8 255.6 513.5 254.5 C514.2 253.4 516 250.4 515.5 249 C515 247.6 513.6 245.6 510 245.3 C506.4 245 496.9 245.8 491.4 247.2 C485.8 248.6 477.6 251.9 473 254.7 C468.4 257.5 463.9 262.2 461 266 C458.1 269.8 455.6 275.9 454 280 C452.4 284.1 450.9 288.9 450.5 293 C450.1 297.1 450.7 303.4 451.5 307 C452.3 310.6 454 314.4 456 317 C458 319.6 461.7 322.6 465 324.5 C468.3 326.4 473.9 328.5 478 329.5 C482.1 330.5 487.8 330.8 492 331 C496.2 331.2 501.9 330.8 506 331 C510.1 331.2 515.1 332.6 519 332.6 C522.9 332.6 528 331.2 532 331 C536 330.8 541.8 331.2 546 331 C550.2 330.8 556 330.5 560 329.5 C564 328.5 569.7 326.4 573 324.5 C576.3 322.6 580 319.6 582 317 C584 314.4 585.7 310.6 586.5 307 C587.3 303.4 587.9 297.1 587.5 293 C587.1 288.9 585.6 284.1 584 280 C582.4 275.9 579.9 269.8 577 266 C574.1 262.2 569.6 257.5 565 254.7 C560.4 251.9 552.1 248.6 546.6 247.2 C541.1 245.8 531.6 245 528 245.3 C524.4 245.6 523 247.6 522.5 249 C522 250.4 523.8 253.4 524.5 254.5 C525.2 255.6 527.8 255.6 527 256.3 C526.2 257 521.4 258.9 519 258.9Z" fill="#fff" stroke="#8a8a8a" stroke-width="0.7" stroke-dasharray="2.2 0.6"/>
<path d="M501.7 283.2 L507.4 276.6 M536.3 283.2 L530.6 276.6 M505.4 302.7 L499.7 306.6 L496.9 310.8 M532.6 302.7 L538.3 306.6 L541.1 310.8 M497.8 287.7 L505.3 290.5 L512.0 288.2 M540.2 287.7 L532.7 290.5 L526.0 288.2 M508.5 289.2 L515.2 289.7 L518.4 293.5 M529.5 289.2 L522.8 289.7 L519.6 293.5 M513.6 309.2 L518.2 312.3 L519.0 315.5 M524.4 309.2 L519.8 312.3 L519.0 315.5 M510.8 313.3 L511.5 306.9 L514.3 301.2 M527.2 313.3 L526.5 306.9 L523.7 301.2 M493.1 309.7 L498.7 315.1 L499.9 319.0 M544.9 309.7 L539.3 315.1 L538.1 319.0 M504.8 315.9 L508.5 313.8 L512.7 306.1 M533.2 315.9 L529.5 313.8 L525.3 306.1 M494.6 296.2 L497.3 303.4 L505.0 306.5 M543.4 296.2 L540.7 303.4 L533.0 306.5 M511.0 297.2 L504.2 298.9 L499.2 296.1 M527.0 297.2 L533.8 298.9 L538.8 296.1 M504.0 295.6 L505.6 300.2 L505.6 305.0 M534.0 295.6 L532.4 300.2 L532.4 305.0 M507.7 299.8 L516.1 303.0 L519.0 302.3 M530.3 299.8 L521.9 303.0 L519.0 302.3 M497.9 285.8 L495.0 291.2 L497.9 299.3 M540.1 285.8 L543.0 291.2 L540.1 299.3 M493.4 301.0 L492.9 308.7 M544.6 301.0 L545.1 308.7 M504.5 311.5 L511.5 315.9 L512.1 322.1 M533.5 311.5 L526.5 315.9 L525.9 322.1 M504.0 302.0 L500.8 305.5 L491.9 305.4 M534.0 302.0 L537.2 305.5 L546.1 305.4 M505.2 285.8 L504.5 290.2 L498.8 295.7 M532.8 285.8 L533.5 290.2 L539.2 295.7 M503.0 319.0 L506.3 312.3 L507.9 304.6 M535.0 319.0 L531.7 312.3 L530.1 304.6 M514.8 285.8 L507.2 283.8 L504.5 279.0 M523.2 285.8 L530.8 283.8 L533.5 279.0 M506.4 282.8 L512.7 280.3 L519.0 277.1 M531.6 282.8 L525.3 280.3 L519.0 277.1 M509.8 279.4 L512.9 274.6 M528.2 279.4 L525.1 274.6 M503.9 320.8 L511.3 321.1 L519.0 321.7 M534.1 320.8 L526.7 321.1 L519.0 321.7 M507.8 297.9 L512.0 290.3 L517.8 285.7 M530.2 297.9 L526.0 290.3 L520.2 285.7 M517.6 288.5 L519.0 282.4 L519.0 277.8 M520.4 288.5 L519.0 282.4 L519.0 277.8 M515.5 277.9 L512.6 275.0 M522.5 277.9 L525.4 275.0" fill="none" stroke="#e1e1e1" stroke-width="0.5"/>
<path d="M467.6 282.5 L464.7 287.0 L461.0 293.3 M472.4 282.5 L475.3 287.0 L479.0 293.3 M469.6 287.8 L470.0 283.6 M470.4 287.8 L470.0 283.6 M462.0 296.1 L460.7 302.7 M478.0 296.1 L479.3 302.7 M467.7 287.4 L470.0 291.1 L469.6 296.6 M472.3 287.4 L470.0 291.1 L470.4 296.6 M466.2 295.3 L467.3 289.6 L469.0 281.2 M473.8 295.3 L472.7 289.6 L471.0 281.2 M465.0 311.9 L467.7 318.3 M475.0 311.9 L472.3 318.3" fill="none" stroke="#e1e1e1" stroke-width="0.5"/>
<path d="M513 255 C510.5 255.3 503.2 255.4 498 256.6 C492.8 257.9 486.6 259.6 482 262.5 C477.4 265.4 473.2 269.6 470.5 274 C467.8 278.4 466.5 284 466 289 C465.5 294 466.2 299.3 467.5 304 C468.8 308.7 470.9 313.2 474 317 C477.1 320.8 484 325.3 486 327" fill="none" stroke="#8a8a8a" stroke-width="0.7" stroke-dasharray="2.2 0.6"/><path d="M525 255 C527.5 255.3 534.8 255.4 540 256.6 C545.2 257.9 551.4 259.6 556 262.5 C560.6 265.4 564.8 269.6 567.5 274 C570.2 278.4 571.5 284 572 289 C572.5 294 571.8 299.3 570.5 304 C569.2 308.7 567.1 313.2 564 317 C560.9 320.8 554 325.3 552 327" fill="none" stroke="#8a8a8a" stroke-width="0.7" stroke-dasharray="2.2 0.6"/>
<path d="M511 257 C509.2 257.2 503.3 257.2 500 258.5 C496.7 259.8 493.1 261.8 491 265 C488.9 268.2 488.2 273.2 487.5 278 C486.8 282.8 486.8 288.8 487 294 C487.2 299.2 487.7 304.3 489 309 C490.3 313.7 492.2 318.4 495 322 C497.8 325.6 504.2 329.1 506 330.5" fill="none" stroke="#a8a8a8" stroke-width="0.6"/><path d="M527 257 C528.8 257.2 534.7 257.2 538 258.5 C541.3 259.8 544.9 261.8 547 265 C549.1 268.2 549.8 273.2 550.5 278 C551.2 282.8 551.2 288.8 551 294 C550.8 299.2 550.3 304.3 549 309 C547.7 313.7 545.8 318.4 543 322 C540.2 325.6 533.8 329.1 532 330.5" fill="none" stroke="#a8a8a8" stroke-width="0.6"/>
<path d="M466 308 C465.8 306 464.7 299.8 464.5 296 C464.3 292.2 464.2 288.7 465 285 C465.8 281.3 467.2 277.3 469.5 274 C471.8 270.7 475.6 267.4 479 265 C482.4 262.6 486.5 260.8 490 259.5 C493.5 258.2 498.3 257.4 500 257" fill="none" stroke="#c6c6c6" stroke-width="2.6"/><path d="M572 308 C572.2 306 573.3 299.8 573.5 296 C573.7 292.2 573.8 288.7 573 285 C572.2 281.3 570.8 277.3 568.5 274 C566.2 270.7 562.4 267.4 559 265 C555.6 262.6 551.5 260.8 548 259.5 C544.5 258.2 539.7 257.4 538 257" fill="none" stroke="#c6c6c6" stroke-width="2.6"/>
<path d="M478 283 C477.3 283.4 476.3 290.1 476.5 293 C476.7 295.9 478.2 302.5 479.5 305 C480.8 307.5 486.2 312.7 486.5 312 C486.8 311.3 482.7 302.9 482 300 C481.3 297.1 482 292.3 481.5 290 C481 287.7 478.7 282.6 478 283Z" fill="#c6c6c6" stroke="none" stroke-width="0"/><path d="M560 283 C560.7 283.4 561.7 290.1 561.5 293 C561.3 295.9 559.8 302.5 558.5 305 C557.2 307.5 551.8 312.7 551.5 312 C551.2 311.3 555.3 302.9 556 300 C556.7 297.1 556 292.3 556.5 290 C557 287.7 559.3 282.6 560 283Z" fill="#c6c6c6" stroke="none" stroke-width="0"/>
<path d="M456 292 C456.5 289.3 457 281 459 276 C461 271 464.2 265.8 468 262 C471.8 258.2 477 255.2 482 253 C487 250.8 495.3 249.7 498 249" fill="none" stroke="#d9d9d9" stroke-width="0.6"/><path d="M582 292 C581.5 289.3 581 281 579 276 C577 271 573.8 265.8 570 262 C566.2 258.2 561 255.2 556 253 C551 250.8 542.7 249.7 540 249" fill="none" stroke="#d9d9d9" stroke-width="0.6"/>
<path d="M460 300 C460.3 297.3 460.3 289.3 462 284 C463.7 278.7 466.2 272.3 470 268 C473.8 263.7 482.5 259.7 485 258" fill="none" stroke="#d9d9d9" stroke-width="0.5"/><path d="M578 300 C577.7 297.3 577.7 289.3 576 284 C574.3 278.7 571.8 272.3 568 268 C564.2 263.7 555.5 259.7 553 258" fill="none" stroke="#d9d9d9" stroke-width="0.5"/>
<path d="M496 270 C497.5 269 501.2 265.2 505 264 C508.8 262.8 516.7 263.2 519 263" fill="none" stroke="#d9d9d9" stroke-width="0.6"/><path d="M542 270 C540.5 269 536.8 265.2 533 264 C529.2 262.8 521.3 263.2 519 263" fill="none" stroke="#d9d9d9" stroke-width="0.6"/>
<path d="M494 285 C495 283.7 497.3 279 500 277 C502.7 275 506.8 273.7 510 273 C513.2 272.3 517.5 273 519 273" fill="none" stroke="#d9d9d9" stroke-width="0.6"/><path d="M544 285 C543 283.7 540.7 279 538 277 C535.3 275 531.2 273.7 528 273 C524.8 272.3 520.5 273 519 273" fill="none" stroke="#d9d9d9" stroke-width="0.6"/>
<path d="M505 290 C506.2 289.3 509.7 286.3 512 286 C514.3 285.7 517.8 287.7 519 288" fill="none" stroke="#d9d9d9" stroke-width="0.6"/><path d="M533 290 C531.8 289.3 528.3 286.3 526 286 C523.7 285.7 520.2 287.7 519 288" fill="none" stroke="#d9d9d9" stroke-width="0.6"/>
<path d="M500 300 C500.8 298.3 504.7 296 507 296 C509.3 296 513.5 298.2 514 300 C514.5 301.8 512 306 510 307 C508 308 503.7 307.2 502 306 C500.3 304.8 499.2 301.7 500 300Z" fill="none" stroke="#d9d9d9" stroke-width="0.5"/><path d="M538 300 C537.2 298.3 533.3 296 531 296 C528.7 296 524.5 298.2 524 300 C523.5 301.8 526 306 528 307 C530 308 534.3 307.2 536 306 C537.7 304.8 538.8 301.7 538 300Z" fill="none" stroke="#d9d9d9" stroke-width="0.5"/>
<path d="M493.5 316 C494.2 314.4 498.7 313.8 500 314.5 C501.3 315.2 503.4 319.2 503.5 321 C503.6 322.8 502.1 327.3 501 328 C499.9 328.7 496 328.1 495 326.5 C494 324.9 492.8 317.6 493.5 316Z" fill="#c6c6c6" stroke="none" stroke-width="0"/><path d="M544.5 316 C543.8 314.4 539.3 313.8 538 314.5 C536.7 315.2 534.6 319.2 534.5 321 C534.4 322.8 535.9 327.3 537 328 C538.1 328.7 542 328.1 543 326.5 C544 324.9 545.2 317.6 544.5 316Z" fill="#c6c6c6" stroke="none" stroke-width="0"/>
<path d="M498 316 C499.5 316.7 504.3 319 507 320 C509.7 321 512.8 321.7 514 322" fill="none" stroke="#c6c6c6" stroke-width="1.8"/><path d="M540 316 C538.5 316.7 533.7 319 531 320 C528.3 321 525.2 321.7 524 322" fill="none" stroke="#c6c6c6" stroke-width="1.8"/>
<line x1="519" y1="280" x2="519" y2="300" stroke="#bbb" stroke-width="0.8"/>
<line x1="517.5" y1="262.5" x2="520.5" y2="262.5" stroke="#777" stroke-width="0.8"/></g>
<g id="t_4655"><path d="M616.3 250.5 C613.8 250.5 610.2 248 608 247.8 C605.8 247.7 602.8 249.7 601.5 249.5 C600.2 249.3 600.8 246.9 599.5 246.3 C598.2 245.7 595.3 245 593 245.2 C590.7 245.4 586.7 246.4 584 247.5 C581.3 248.6 577.5 250.8 575 252.7 C572.5 254.6 569.2 257.5 567 260 C564.8 262.5 562.3 265.8 560.6 269.2 C558.9 272.6 556.6 278.8 555.5 283 C554.4 287.2 554 293.2 553.4 297 C552.8 300.8 551.4 304.9 551.3 308 C551.2 311.1 551.5 315.5 552.5 318 C553.5 320.5 555.7 323 558 324.5 C560.3 326 565.1 327.4 568 327.8 C570.9 328.2 575.1 327.2 577.5 327 C579.9 326.8 582 326.1 584 326.5 C586 326.9 588.1 328.9 591 329.5 C593.9 330.1 599.2 330.6 603 330.8 C606.8 331 612.3 331 616.3 331 C620.3 331 625.8 331 629.6 330.8 C633.4 330.6 638.7 330.1 641.6 329.5 C644.4 328.9 646.6 326.9 648.6 326.5 C650.6 326.1 652.7 326.8 655.1 327 C657.5 327.2 661.7 328.2 664.6 327.8 C667.5 327.4 672.3 326 674.6 324.5 C676.9 323 679.1 320.5 680.1 318 C681.1 315.5 681.4 311.1 681.3 308 C681.2 304.9 679.8 300.8 679.2 297 C678.6 293.2 678.2 287.2 677.1 283 C676 278.8 673.7 272.6 672 269.2 C670.3 265.8 667.8 262.5 665.6 260 C663.4 257.5 660.1 254.6 657.6 252.7 C655 250.8 651.3 248.6 648.6 247.5 C645.9 246.4 641.9 245.4 639.6 245.2 C637.3 245 634.4 245.7 633.1 246.3 C631.8 246.9 632.4 249.3 631.1 249.5 C629.8 249.7 626.8 247.7 624.6 247.8 C622.4 248 618.8 250.5 616.3 250.5Z" fill="#fff" stroke="#8a8a8a" stroke-width="0.7" stroke-dasharray="2.2 0.6"/>
<path d="M611.1 307.0 L608.8 303.3 L603.1 302.1 M621.5 307.0 L623.8 303.3 L629.5 302.1 M610.5 297.8 L608.7 301.7 L603.6 305.0 M622.1 297.8 L623.9 301.7 L629.0 305.0 M606.2 306.6 L601.0 299.6 L602.4 293.7 M626.4 306.6 L631.6 299.6 L630.2 293.7 M589.7 305.0 L591.7 309.2 M642.9 305.0 L640.9 309.2 M606.7 316.0 L603.3 311.2 L599.0 310.5 M625.9 316.0 L629.3 311.2 L633.6 310.5 M609.5 318.6 L604.2 320.3 M623.1 318.6 L628.4 320.3 M609.4 277.1 L609.3 284.0 L605.9 291.6 M623.2 277.1 L623.3 284.0 L626.7 291.6 M604.2 312.8 L609.7 317.7 M628.4 312.8 L622.9 317.7 M606.5 318.0 L600.5 314.6 L598.5 306.6 M626.1 318.0 L632.1 314.6 L634.1 306.6 M592.2 301.4 L598.2 306.0 L601.2 314.4 M640.4 301.4 L634.4 306.0 L631.4 314.4 M612.3 313.8 L610.0 310.3 L605.4 308.9 M620.3 313.8 L622.6 310.3 L627.2 308.9 M591.8 306.2 L596.1 309.3 L604.3 308.1 M640.8 306.2 L636.5 309.3 L628.3 308.1 M595.2 304.0 L603.3 303.4 L608.5 302.2 M637.4 304.0 L629.3 303.4 L624.1 302.2 M598.5 317.0 L601.6 313.4 L602.9 308.4 M634.1 317.0 L631.0 313.4 L629.7 308.4 M593.4 299.9 L593.6 303.9 L593.3 309.7 M639.2 299.9 L639.0 303.9 L639.3 309.7 M589.5 306.2 L595.0 299.9 L598.1 294.8 M643.1 306.2 L637.6 299.9 L634.5 294.8 M597.3 310.5 L601.6 310.0 L606.0 308.0 M635.3 310.5 L631.0 310.0 L626.6 308.0 M615.9 298.1 L616.3 301.0 L616.3 305.1 M616.7 298.1 L616.3 301.0 L616.3 305.1 M607.6 291.4 L608.9 297.0 L607.1 301.3 M625.0 291.4 L623.7 297.0 L625.5 301.3 M595.8 297.2 L592.8 300.5 L591.0 305.9 M636.8 297.2 L639.8 300.5 L641.6 305.9 M610.6 288.8 L616.3 290.5 L616.3 291.8 M622.0 288.8 L616.3 290.5 L616.3 291.8 M594.8 301.2 L602.9 303.0 L608.2 302.9 M637.8 301.2 L629.7 303.0 L624.4 302.9 M605.6 277.7 L608.2 283.7 L612.1 285.0 M627.0 277.7 L624.4 283.7 L620.5 285.0 M613.5 311.0 L609.6 303.1 L613.2 295.2 M619.1 311.0 L623.0 303.1 L619.4 295.2 M598.9 293.6 L602.3 297.4 L604.8 301.8 M633.7 293.6 L630.3 297.4 L627.8 301.8" fill="none" stroke="#e1e1e1" stroke-width="0.5"/>
<path d="M600 250 C599.5 250.6 598.5 252.7 597 253.5 C595.5 254.3 593.7 253.6 591 255 C588.3 256.4 583.7 259.2 581 262 C578.3 264.8 576.3 268.2 575 272 C573.7 275.8 573.2 280.8 573 285 C572.8 289.2 573 293.7 573.5 297 C574 300.3 576.4 303.6 576 305 C575.6 306.4 573.3 305.8 571 305.5 C568.7 305.2 564.5 303.6 562 303 C559.5 302.4 557 302.2 556 302" fill="none" stroke="#8a8a8a" stroke-width="0.7" stroke-dasharray="2.2 0.6"/><path d="M632.6 250 C633.1 250.6 634.1 252.7 635.6 253.5 C637.1 254.3 638.9 253.6 641.6 255 C644.3 256.4 648.9 259.2 651.6 262 C654.3 264.8 656.3 268.2 657.6 272 C658.9 275.8 659.3 280.8 659.6 285 C659.8 289.2 659.6 293.7 659.1 297 C658.6 300.3 656.2 303.6 656.6 305 C657 306.4 659.3 305.8 661.6 305.5 C663.9 305.2 668.1 303.6 670.6 303 C673.1 302.4 675.6 302.2 676.6 302" fill="none" stroke="#8a8a8a" stroke-width="0.7" stroke-dasharray="2.2 0.6"/>
<path d="M602 250 C601 250.2 598.3 250 596 251 C593.7 252 590.2 253.2 588 256 C585.8 258.8 583.8 263.3 582.5 268 C581.2 272.7 580.5 278.7 580.3 284 C580 289.3 580.5 294.7 581 300 C581.5 305.3 582.2 311.7 583.5 316 C584.8 320.3 588.1 324.3 589 326" fill="none" stroke="#aaaaaa" stroke-width="0.6"/><path d="M630.6 250 C631.6 250.2 634.3 250 636.6 251 C638.9 252 642.3 253.2 644.6 256 C646.8 258.8 648.8 263.3 650.1 268 C651.4 272.7 652 278.7 652.3 284 C652.5 289.3 652.1 294.7 651.6 300 C651.1 305.3 650.4 311.7 649.1 316 C647.8 320.3 644.5 324.3 643.6 326" fill="none" stroke="#aaaaaa" stroke-width="0.6"/>
<path d="M558 296 C558.3 293.3 558.5 285 560 280 C561.5 275 564 270 567 266 C570 262 574.2 258.7 578 256 C581.8 253.3 588 251 590 250" fill="none" stroke="#d9d9d9" stroke-width="0.6"/><path d="M674.6 296 C674.3 293.3 674.1 285 672.6 280 C671.1 275 668.6 270 665.6 266 C662.6 262 658.4 258.7 654.6 256 C650.8 253.3 644.6 251 642.6 250" fill="none" stroke="#d9d9d9" stroke-width="0.6"/>
<path d="M563 296 C563.3 293.8 563.7 287.3 565 283 C566.3 278.7 568.3 274 571 270 C573.7 266 579.3 260.8 581 259" fill="none" stroke="#d9d9d9" stroke-width="0.5"/><path d="M669.6 296 C669.3 293.8 668.9 287.3 667.6 283 C666.3 278.7 664.3 274 661.6 270 C658.9 266 653.3 260.8 651.6 259" fill="none" stroke="#d9d9d9" stroke-width="0.5"/>
<path d="M556 315 C557.7 314.3 562.7 310.8 566 311 C569.3 311.2 574.3 315.2 576 316" fill="none" stroke="#d9d9d9" stroke-width="0.5"/><path d="M676.6 315 C674.9 314.3 669.9 310.8 666.6 311 C663.3 311.2 658.3 315.2 656.6 316" fill="none" stroke="#d9d9d9" stroke-width="0.5"/>
<path d="M588 262 C589.7 261.2 593.3 258 598 257 C602.7 256 613.2 256.2 616.3 256" fill="none" stroke="#d9d9d9" stroke-width="0.6"/><path d="M644.6 262 C642.9 261.2 639.3 258 634.6 257 C629.9 256 619.3 256.2 616.3 256" fill="none" stroke="#d9d9d9" stroke-width="0.6"/>
<path d="M585 296 C586.2 295 588.8 291.2 592 290 C595.2 288.8 600 288.7 604 289 C608 289.3 614.2 291.5 616.3 292" fill="none" stroke="#d9d9d9" stroke-width="0.6"/><path d="M647.6 296 C646.4 295 643.8 291.2 640.6 290 C637.4 288.8 632.6 288.7 628.6 289 C624.5 289.3 618.3 291.5 616.3 292" fill="none" stroke="#d9d9d9" stroke-width="0.6"/>
<path d="M590 305 C591 302.3 596.7 301.8 600 302 C603.3 302.2 609.2 303.3 610 306 C610.8 308.7 607.7 316 605 318 C602.3 320 596.5 320.2 594 318 C591.5 315.8 589 307.7 590 305Z" fill="none" stroke="#d9d9d9" stroke-width="0.5"/><path d="M642.6 305 C641.6 302.3 635.9 301.8 632.6 302 C629.3 302.2 623.4 303.3 622.6 306 C621.8 308.7 624.9 316 627.6 318 C630.3 320 636.1 320.2 638.6 318 C641.1 315.8 643.6 307.7 642.6 305Z" fill="none" stroke="#d9d9d9" stroke-width="0.5"/>
<path d="M597.6 292.5 C597.7 291.8 600.7 288.8 602 288.2 C603.3 287.6 605.9 287.5 607 287.8 C608.1 288.1 610.6 290.2 610.5 290.8 C610.4 291.4 607.3 291.8 606 292.2 C604.7 292.6 602.1 293.8 601 293.8 C599.9 293.8 597.5 293.2 597.6 292.5Z" fill="#c6c6c6" stroke="none" stroke-width="0"/><path d="M635 292.5 C634.9 291.8 631.9 288.8 630.6 288.2 C629.3 287.6 626.7 287.5 625.6 287.8 C624.5 288.1 622 290.2 622.1 290.8 C622.2 291.4 625.3 291.8 626.6 292.2 C627.9 292.6 630.5 293.8 631.6 293.8 C632.7 293.8 635.1 293.2 635 292.5Z" fill="#c6c6c6" stroke="none" stroke-width="0"/>
<path d="M580.4 298.5 C580.9 298 583.7 299.3 584.5 300 C585.3 300.7 586.5 303.2 586.3 304 C586.1 304.8 583.8 306 583 306 C582.2 306 580.8 305 580.5 304 C580.2 303 579.9 299 580.4 298.5Z" fill="#c6c6c6" stroke="none" stroke-width="0"/><path d="M652.2 298.5 C651.7 298 648.9 299.3 648.1 300 C647.3 300.7 646.1 303.2 646.3 304 C646.5 304.8 648.8 306 649.6 306 C650.4 306 651.8 305 652.1 304 C652.4 303 652.7 299 652.2 298.5Z" fill="#c6c6c6" stroke="none" stroke-width="0"/>
<path d="M616.6 268.8 C617.4 268.9 619.3 271.2 619.8 272 C620.3 272.8 620.6 274.1 620.4 275 C620.2 275.9 618.5 278 618 278.5 C617.5 279 617.2 278.9 616.6 278.4 C616 277.9 613.8 275.9 613.4 275 C613 274.1 613.5 272.3 613.9 271.5 C614.3 270.7 615.8 268.7 616.6 268.8Z" fill="#000000" stroke="none" stroke-width="0"/>
<path d="M608 327 C608.3 326.5 611 325.3 612 325.5 C613 325.7 615.8 328 615.5 328.5 C615.2 329 611 329.7 610 329.5 C609 329.3 607.7 327.5 608 327Z" fill="#c6c6c6" stroke="none" stroke-width="0"/><path d="M624.6 327 C624.3 326.5 621.6 325.3 620.6 325.5 C619.6 325.7 616.8 328 617.1 328.5 C617.4 329 621.6 329.7 622.6 329.5 C623.6 329.3 624.9 327.5 624.6 327Z" fill="#c6c6c6" stroke="none" stroke-width="0"/></g>
<g id="t_5455"><g fill="none" stroke="#8a8a8a" stroke-width="1.4" stroke-dasharray="2.2 0.6"><ellipse cx="700.5" cy="259" rx="13" ry="12.5"/><ellipse cx="726.1" cy="259" rx="13" ry="12.5"/><ellipse cx="674.5" cy="271" rx="14" ry="16.8"/><ellipse cx="752.1" cy="271" rx="14" ry="16.8"/><ellipse cx="661.5" cy="305.5" rx="10.5" ry="11.8"/><ellipse cx="765.1" cy="305.5" rx="10.5" ry="11.8"/><path d="M713.3 262 C707.8 262 700 263.3 695 266 C690 268.7 683.4 275.5 680 280 C676.6 284.5 673.3 291.4 672.5 296 C671.7 300.6 672.9 307.2 674.5 311 C676.1 314.8 679.6 318.5 683 321 C686.4 323.5 692.5 326.5 697 327.8 C701.5 329.1 708.4 329.5 713.3 329.5 C718.2 329.5 725.1 329.1 729.6 327.8 C734.1 326.5 740.2 323.5 743.6 321 C747 318.5 750.5 314.8 752.1 311 C753.7 307.2 754.9 300.6 754.1 296 C753.3 291.4 750 284.5 746.6 280 C743.2 275.5 736.6 268.7 731.6 266 C726.6 263.3 718.8 262 713.3 262Z"/><circle cx="713.3" cy="248.5" r="2.2"/></g><g fill="#fff" stroke="none"><ellipse cx="700.5" cy="259" rx="13" ry="12.5"/><ellipse cx="726.1" cy="259" rx="13" ry="12.5"/><ellipse cx="674.5" cy="271" rx="14" ry="16.8"/><ellipse cx="752.1" cy="271" rx="14" ry="16.8"/><ellipse cx="661.5" cy="305.5" rx="10.5" ry="11.8"/><ellipse cx="765.1" cy="305.5" rx="10.5" ry="11.8"/><path d="M713.3 262 C707.8 262 700 263.3 695 266 C690 268.7 683.4 275.5 680 280 C676.6 284.5 673.3 291.4 672.5 296 C671.7 300.6 672.9 307.2 674.5 311 C676.1 314.8 679.6 318.5 683 321 C686.4 323.5 692.5 326.5 697 327.8 C701.5 329.1 708.4 329.5 713.3 329.5 C718.2 329.5 725.1 329.1 729.6 327.8 C734.1 326.5 740.2 323.5 743.6 321 C747 318.5 750.5 314.8 752.1 311 C753.7 307.2 754.9 300.6 754.1 296 C753.3 291.4 750 284.5 746.6 280 C743.2 275.5 736.6 268.7 731.6 266 C726.6 263.3 718.8 262 713.3 262Z"/><circle cx="713.3" cy="248.5" r="2.2"/></g>
<path d="M709.0 323.5 L713.3 323.9 M717.6 323.5 L713.3 323.9 M707.2 320.4 L701.2 322.0 L696.5 320.4 M719.4 320.4 L725.4 322.0 L730.1 320.4 M701.0 312.1 L706.4 311.9 L713.3 309.7 M725.6 312.1 L720.2 311.9 L713.3 309.7 M701.8 313.3 L706.0 314.0 L711.3 316.6 M724.8 313.3 L720.6 314.0 L715.3 316.6 M700.1 319.3 L694.6 314.6 L687.7 314.2 M726.5 319.3 L732.0 314.6 L738.9 314.2 M690.8 301.5 L693.7 296.9 M735.8 301.5 L732.9 296.9 M712.5 303.0 L713.3 296.2 M714.1 303.0 L713.3 296.2 M709.5 313.9 L704.1 317.5 M717.1 313.9 L722.5 317.5 M709.1 300.8 L710.3 304.7 L712.7 309.5 M717.5 300.8 L716.3 304.7 L713.9 309.5 M693.7 318.2 L696.8 314.5 L700.9 311.9 M732.9 318.2 L729.8 314.5 L725.7 311.9 M700.0 306.9 L696.2 302.9 L689.3 299.1 M726.6 306.9 L730.4 302.9 L737.3 299.1 M703.8 317.3 L705.1 323.2 M722.8 317.3 L721.5 323.2 M711.1 312.8 L713.3 315.2 L713.3 320.5 M715.5 312.8 L713.3 315.2 L713.3 320.5 M688.1 307.6 L690.4 304.0 L692.1 299.6 M738.5 307.6 L736.2 304.0 L734.5 299.6 M690.2 301.8 L692.4 310.4 L698.1 316.2 M736.4 301.8 L734.2 310.4 L728.5 316.2 M709.4 305.9 L713.3 310.7 L713.3 311.3 M717.2 305.9 L713.3 310.7 L713.3 311.3 M693.7 306.0 L699.8 309.5 L706.2 308.8 M732.9 306.0 L726.8 309.5 L720.4 308.8 M696.8 316.5 L692.6 318.3 M729.8 316.5 L734.0 318.3 M694.8 309.8 L694.0 314.9 L697.3 320.2 M731.8 309.8 L732.6 314.9 L729.3 320.2 M709.4 294.7 L705.7 292.9 L699.8 294.6 M717.2 294.7 L720.9 292.9 L726.8 294.6 M710.5 319.5 L704.7 315.2 L703.4 308.2 M716.1 319.5 L721.9 315.2 L723.2 308.2" fill="none" stroke="#e1e1e1" stroke-width="0.5"/>
<path d="M689.5 254 C689.9 255.3 690.8 259.7 692 262 C693.2 264.3 694.8 266.5 697 268 C699.2 269.5 703.7 270.5 705 271" fill="none" stroke="#d9d9d9" stroke-width="0.6"/><path d="M737.1 254 C736.7 255.3 735.8 259.7 734.6 262 C733.3 264.3 731.8 266.5 729.6 268 C727.4 269.5 722.9 270.5 721.6 271" fill="none" stroke="#d9d9d9" stroke-width="0.6"/>
<path d="M676 258 C675.3 260 672.2 266.2 672 270 C671.8 273.8 674.5 279.2 675 281" fill="none" stroke="#d9d9d9" stroke-width="0.6"/><path d="M750.6 258 C751.3 260 754.4 266.2 754.6 270 C754.8 273.8 752.1 279.2 751.6 281" fill="none" stroke="#d9d9d9" stroke-width="0.6"/>
<path d="M655 300 C656.2 299.3 659.8 296.5 662 296 C664.2 295.5 667 296.8 668 297" fill="none" stroke="#d9d9d9" stroke-width="0.6"/><path d="M771.6 300 C770.4 299.3 766.8 296.5 764.6 296 C762.4 295.5 759.6 296.8 758.6 297" fill="none" stroke="#d9d9d9" stroke-width="0.6"/>
<path d="M678 300 C678.8 301.7 680.5 307 683 310 C685.5 313 689.3 316 693 318 C696.7 320 703 321.3 705 322" fill="none" stroke="#d9d9d9" stroke-width="0.6"/><path d="M748.6 300 C747.8 301.7 746.1 307 743.6 310 C741.1 313 737.3 316 733.6 318 C729.9 320 723.6 321.3 721.6 322" fill="none" stroke="#d9d9d9" stroke-width="0.6"/>
<path d="M695 300 C695.5 302 696.5 308.3 698 312 C699.5 315.7 703 320.3 704 322" fill="none" stroke="#d9d9d9" stroke-width="0.5"/><path d="M731.6 300 C731.1 302 730.1 308.3 728.6 312 C727.1 315.7 723.6 320.3 722.6 322" fill="none" stroke="#d9d9d9" stroke-width="0.5"/>
<path d="M686 252 C687.3 251.5 691 249 694 249 C697 249 701.7 249.8 704 252 C706.3 254.2 707.3 260.3 708 262" fill="none" stroke="#d9d9d9" stroke-width="0.5"/><path d="M740.6 252 C739.3 251.5 735.6 249 732.6 249 C729.6 249 724.9 249.8 722.6 252 C720.3 254.2 719.3 260.3 718.6 262" fill="none" stroke="#d9d9d9" stroke-width="0.5"/>
<path d="M702 276 C702 274.4 706.1 270.8 708 269.5 C709.9 268.2 711.5 268.5 713.3 268.5 C715.1 268.5 716.7 268.2 718.6 269.5 C720.5 270.8 724.6 274.4 724.6 276 C724.6 277.6 720.5 278.6 718.6 279 C716.7 279.4 715.1 278.5 713.3 278.5 C711.5 278.5 709.9 279.4 708 279 C706.1 278.6 702 277.6 702 276Z" fill="none" stroke="#cfcfcf" stroke-width="0.6"/>
<path d="M702.8 275.9 h4.2 M719.6 275.9 h4.2" stroke="#c8c8c8" stroke-width="0.8"/>
<path d="M702.6 283.2 C702.6 283.2 706.9 284.2 708 284.8 C709.1 285.4 712.2 288.8 713.3 288.8 C714.4 288.8 717.5 285.4 718.6 284.8 C719.7 284.2 724 283.2 724 283.2 C724 283.1 719.7 284 718.6 284.3 C717.5 284.6 714.4 286 713.3 286 C712.2 286 709.1 284.6 708 284.3 C706.9 284 702.6 283.1 702.6 283.2Z" fill="#000000" stroke="none" stroke-width="0"/>
<path d="M667.5 292.5 C668.8 292 672.4 290.4 675 289.5 C677.6 288.6 680.3 287.8 683 287 C685.7 286.2 688.4 285.7 691 285 C693.6 284.3 697.2 283.3 698.5 283" fill="none" stroke="#c6c6c6" stroke-width="5.4"/><path d="M759.1 292.5 C757.8 292 754.2 290.4 751.6 289.5 C749 288.6 746.3 287.8 743.6 287 C740.9 286.2 738.2 285.7 735.6 285 C733 284.3 729.3 283.3 728.1 283" fill="none" stroke="#c6c6c6" stroke-width="5.4"/>
<ellipse cx="681.5" cy="288.5" rx="8" ry="5.5" fill="#c6c6c6"/><ellipse cx="745.1" cy="288.5" rx="8" ry="5.5" fill="#c6c6c6"/>
<path d="M678.5 287 C678.5 285.2 678.6 279.5 678.5 276 C678.4 272.5 677.9 267.7 677.8 266" fill="none" stroke="#c6c6c6" stroke-width="2.2"/><path d="M748.1 287 C748.1 285.2 748 279.5 748.1 276 C748.2 272.5 748.7 267.7 748.8 266" fill="none" stroke="#c6c6c6" stroke-width="2.2"/>
<path d="M686.5 285.5 C686.6 284.1 687 279.6 687 277 C687 274.4 686.5 271.2 686.4 270" fill="none" stroke="#c6c6c6" stroke-width="2.0"/><path d="M740.1 285.5 C740 284.1 739.6 279.6 739.6 277 C739.6 274.4 740.1 271.2 740.2 270" fill="none" stroke="#c6c6c6" stroke-width="2.0"/>
<path d="M669 292.5 C668 293.2 664.8 295.4 663 297 C661.2 298.6 659.8 300.3 658.5 302 C657.2 303.7 656 306.2 655.5 307" fill="none" stroke="#c6c6c6" stroke-width="2.8"/><path d="M757.6 292.5 C758.6 293.2 761.8 295.4 763.6 297 C765.3 298.6 766.8 300.3 768.1 302 C769.3 303.7 770.6 306.2 771.1 307" fill="none" stroke="#c6c6c6" stroke-width="2.8"/>
<path d="M675.6 300.2 C675.9 300.2 674.6 303.4 674.2 304.5 C673.8 305.6 673 308.3 672.6 308.8 C672.2 309.3 671.3 309.1 671.2 308.5 C671.1 307.9 671.4 305.6 672 304.5 C672.6 303.4 675.3 300.2 675.6 300.2Z" fill="#000000" stroke="none" stroke-width="0"/><path d="M751 300.2 C750.7 300.2 752 303.4 752.4 304.5 C752.8 305.6 753.6 308.3 754 308.8 C754.4 309.3 755.3 309.1 755.4 308.5 C755.5 307.9 755.2 305.6 754.6 304.5 C754 303.4 751.3 300.2 751 300.2Z" fill="#000000" stroke="none" stroke-width="0"/>
<path d="M707.5 327.6 C707.5 327.1 710 325.2 710.8 325.2 C711.6 325.2 713.3 327 713.3 327.5 C713.3 328 711.6 328.8 710.8 328.8 C710 328.8 707.5 328.1 707.5 327.6Z" fill="#c6c6c6" stroke="none" stroke-width="0"/><path d="M719.1 327.6 C719.1 327.1 716.6 325.2 715.8 325.2 C715 325.2 713.3 327 713.3 327.5 C713.3 328 715 328.8 715.8 328.8 C716.6 328.8 719.1 328.1 719.1 327.6Z" fill="#c6c6c6" stroke="none" stroke-width="0"/>
<line x1="713.3" y1="290" x2="713.3" y2="326" stroke="#e0e0e0" stroke-width="0.6"/></g>
<path d="M24.0 281.1h0.8v0.8h-0.8zM34.3 277.0h0.8v0.8h-0.8zM25.2 282.3h0.8v0.8h-0.8zM18.1 279.0h0.8v0.8h-0.8zM27.9 291.1h0.8v0.8h-0.8zM16.1 270.0h0.8v0.8h-0.8zM16.0 291.8h0.8v0.8h-0.8zM29.3 258.8h0.8v0.8h-0.8zM35.6 298.5h0.8v0.8h-0.8zM28.4 283.5h0.8v0.8h-0.8zM25.6 259.6h0.8v0.8h-0.8zM18.2 267.4h0.8v0.8h-0.8z" fill="#e8434f" opacity="0.8"/>
<path d="M14.7 276.9h0.8v0.8h-0.8zM23.7 293.2h0.8v0.8h-0.8zM25.4 284.5h0.8v0.8h-0.8zM25.0 285.5h0.8v0.8h-0.8zM24.1 269.0h0.8v0.8h-0.8zM35.9 299.8h0.8v0.8h-0.8z" fill="#4a5cc4" opacity="0.8"/>
<path d="M120.5 256.2h0.8v0.8h-0.8zM105.8 250.0h0.8v0.8h-0.8zM118.5 252.2h0.8v0.8h-0.8zM120.7 252.0h0.8v0.8h-0.8zM122.5 253.1h0.8v0.8h-0.8zM99.0 255.2h0.8v0.8h-0.8zM118.8 250.5h0.8v0.8h-0.8zM99.4 251.3h0.8v0.8h-0.8zM100.3 250.2h0.8v0.8h-0.8zM119.3 249.3h0.8v0.8h-0.8zM112.7 252.8h0.8v0.8h-0.8zM102.3 256.5h0.8v0.8h-0.8zM100.7 255.4h0.8v0.8h-0.8zM100.3 252.5h0.8v0.8h-0.8zM103.0 250.5h0.8v0.8h-0.8zM105.5 258.5h0.8v0.8h-0.8zM102.9 252.1h0.8v0.8h-0.8zM120.9 255.3h0.8v0.8h-0.8zM103.0 250.4h0.8v0.8h-0.8zM118.6 251.3h0.8v0.8h-0.8zM99.5 254.6h0.8v0.8h-0.8zM103.8 254.8h0.8v0.8h-0.8zM107.4 252.9h0.8v0.8h-0.8zM123.9 253.3h0.8v0.8h-0.8zM113.1 258.3h0.8v0.8h-0.8zM102.1 249.0h0.8v0.8h-0.8zM122.4 257.6h0.8v0.8h-0.8zM104.0 249.5h0.8v0.8h-0.8zM102.5 259.4h0.8v0.8h-0.8zM121.7 254.8h0.8v0.8h-0.8z" fill="#4a5cc4" opacity="0.7"/>
<path d="M108.8 248.3h0.8v0.8h-0.8zM103.7 256.2h0.8v0.8h-0.8zM104.2 257.7h0.8v0.8h-0.8zM113.7 250.8h0.8v0.8h-0.8zM101.9 256.4h0.8v0.8h-0.8zM98.9 250.0h0.8v0.8h-0.8zM112.7 258.1h0.8v0.8h-0.8zM114.2 250.6h0.8v0.8h-0.8zM122.7 249.7h0.8v0.8h-0.8zM97.5 250.5h0.8v0.8h-0.8zM109.5 247.8h0.8v0.8h-0.8zM101.9 251.8h0.8v0.8h-0.8zM113.0 248.7h0.8v0.8h-0.8zM107.1 258.6h0.8v0.8h-0.8zM116.4 254.6h0.8v0.8h-0.8zM110.5 256.5h0.8v0.8h-0.8zM99.1 254.1h0.8v0.8h-0.8zM117.6 258.7h0.8v0.8h-0.8zM117.6 256.1h0.8v0.8h-0.8zM119.2 258.9h0.8v0.8h-0.8zM106.9 255.9h0.8v0.8h-0.8zM122.2 258.3h0.8v0.8h-0.8z" fill="#e8434f" opacity="0.7"/>
<path d="M74.7 301.5h0.8v0.8h-0.8zM81.8 290.6h0.8v0.8h-0.8zM78.0 281.1h0.8v0.8h-0.8zM77.3 292.4h0.8v0.8h-0.8zM79.7 281.4h0.8v0.8h-0.8zM79.8 291.0h0.8v0.8h-0.8zM75.0 303.9h0.8v0.8h-0.8zM75.7 273.5h0.8v0.8h-0.8zM79.2 286.9h0.8v0.8h-0.8zM77.8 308.0h0.8v0.8h-0.8zM72.8 295.9h0.8v0.8h-0.8zM71.2 270.5h0.8v0.8h-0.8zM82.5 295.0h0.8v0.8h-0.8zM75.1 306.6h0.8v0.8h-0.8zM73.2 295.3h0.8v0.8h-0.8z" fill="#e8434f" opacity="0.7"/>
<path d="M182.0 250.9h0.9v0.9h-0.9zM202.4 250.2h0.9v0.9h-0.9zM193.5 249.1h0.9v0.9h-0.9zM180.1 251.9h0.9v0.9h-0.9zM184.3 246.7h0.9v0.9h-0.9zM189.5 248.4h0.9v0.9h-0.9zM182.4 250.6h0.9v0.9h-0.9zM194.8 251.9h0.9v0.9h-0.9zM185.5 257.4h0.9v0.9h-0.9zM205.5 251.2h0.9v0.9h-0.9zM202.2 244.7h0.9v0.9h-0.9zM197.3 253.1h0.9v0.9h-0.9zM185.3 256.7h0.9v0.9h-0.9zM200.9 247.8h0.9v0.9h-0.9zM194.9 251.1h0.9v0.9h-0.9zM194.9 254.5h0.9v0.9h-0.9zM196.5 247.2h0.9v0.9h-0.9zM190.3 246.9h0.9v0.9h-0.9zM176.3 251.6h0.9v0.9h-0.9zM197.4 246.9h0.9v0.9h-0.9zM184.2 249.5h0.9v0.9h-0.9zM196.9 252.3h0.9v0.9h-0.9zM194.4 256.1h0.9v0.9h-0.9zM187.8 256.7h0.9v0.9h-0.9zM203.2 245.4h0.9v0.9h-0.9zM179.9 251.3h0.9v0.9h-0.9zM187.3 253.1h0.9v0.9h-0.9zM204.3 251.4h0.9v0.9h-0.9zM195.5 247.3h0.9v0.9h-0.9zM195.2 255.5h0.9v0.9h-0.9zM182.4 258.4h0.9v0.9h-0.9zM192.1 256.7h0.9v0.9h-0.9zM201.7 249.6h0.9v0.9h-0.9zM178.5 251.1h0.9v0.9h-0.9zM192.5 256.3h0.9v0.9h-0.9zM200.3 245.0h0.9v0.9h-0.9zM200.0 246.8h0.9v0.9h-0.9zM186.1 256.6h0.9v0.9h-0.9zM191.5 255.6h0.9v0.9h-0.9zM204.4 251.9h0.9v0.9h-0.9zM182.6 252.4h0.9v0.9h-0.9zM184.7 255.7h0.9v0.9h-0.9zM195.2 252.4h0.9v0.9h-0.9zM201.3 253.0h0.9v0.9h-0.9zM185.4 250.1h0.9v0.9h-0.9zM182.2 257.6h0.9v0.9h-0.9zM193.2 247.2h0.9v0.9h-0.9zM192.1 252.1h0.9v0.9h-0.9zM205.1 252.3h0.9v0.9h-0.9zM188.0 256.8h0.9v0.9h-0.9zM192.9 251.9h0.9v0.9h-0.9zM196.7 245.1h0.9v0.9h-0.9zM192.2 250.6h0.9v0.9h-0.9zM184.1 251.6h0.9v0.9h-0.9zM179.8 250.9h0.9v0.9h-0.9zM190.3 249.1h0.9v0.9h-0.9zM181.7 253.9h0.9v0.9h-0.9zM203.8 246.1h0.9v0.9h-0.9zM196.6 249.2h0.9v0.9h-0.9zM186.7 253.9h0.9v0.9h-0.9zM179.1 255.7h0.9v0.9h-0.9zM179.7 252.2h0.9v0.9h-0.9zM183.5 247.2h0.9v0.9h-0.9zM191.9 251.0h0.9v0.9h-0.9zM187.3 250.6h0.9v0.9h-0.9zM191.9 246.6h0.9v0.9h-0.9zM182.1 254.1h0.9v0.9h-0.9zM195.2 252.5h0.9v0.9h-0.9zM201.7 247.7h0.9v0.9h-0.9zM203.1 249.1h0.9v0.9h-0.9zM202.6 246.1h0.9v0.9h-0.9zM183.2 255.6h0.9v0.9h-0.9zM201.0 250.7h0.9v0.9h-0.9zM199.7 246.0h0.9v0.9h-0.9zM188.1 255.0h0.9v0.9h-0.9zM191.2 256.1h0.9v0.9h-0.9zM191.1 255.0h0.9v0.9h-0.9zM192.6 252.2h0.9v0.9h-0.9zM193.1 246.3h0.9v0.9h-0.9zM203.8 245.5h0.9v0.9h-0.9zM177.9 259.2h0.9v0.9h-0.9zM189.9 256.2h0.9v0.9h-0.9zM185.8 251.5h0.9v0.9h-0.9zM191.5 250.9h0.9v0.9h-0.9zM181.4 251.3h0.9v0.9h-0.9zM198.2 250.5h0.9v0.9h-0.9zM194.9 250.5h0.9v0.9h-0.9zM194.0 252.1h0.9v0.9h-0.9zM183.7 258.6h0.9v0.9h-0.9zM200.4 250.5h0.9v0.9h-0.9z" fill="#4a5cc4" opacity="0.85"/>
<path d="M199.0 250.5h0.9v0.9h-0.9zM197.7 245.1h0.9v0.9h-0.9zM186.3 251.5h0.9v0.9h-0.9zM195.2 254.0h0.9v0.9h-0.9zM196.0 249.4h0.9v0.9h-0.9zM195.8 253.1h0.9v0.9h-0.9zM192.0 250.2h0.9v0.9h-0.9zM194.5 255.8h0.9v0.9h-0.9zM183.7 250.4h0.9v0.9h-0.9zM183.5 258.5h0.9v0.9h-0.9zM192.5 252.1h0.9v0.9h-0.9zM200.3 245.2h0.9v0.9h-0.9zM193.9 256.1h0.9v0.9h-0.9zM180.8 251.5h0.9v0.9h-0.9zM181.1 251.9h0.9v0.9h-0.9zM204.4 250.7h0.9v0.9h-0.9zM191.8 253.6h0.9v0.9h-0.9zM187.0 248.6h0.9v0.9h-0.9zM195.7 253.0h0.9v0.9h-0.9zM184.5 255.5h0.9v0.9h-0.9zM180.7 256.1h0.9v0.9h-0.9zM198.5 244.8h0.9v0.9h-0.9zM178.2 258.5h0.9v0.9h-0.9zM188.9 251.6h0.9v0.9h-0.9zM197.7 251.5h0.9v0.9h-0.9zM194.1 245.8h0.9v0.9h-0.9zM194.7 251.3h0.9v0.9h-0.9zM191.8 246.0h0.9v0.9h-0.9zM189.3 254.7h0.9v0.9h-0.9zM189.7 248.2h0.9v0.9h-0.9zM193.5 250.7h0.9v0.9h-0.9zM199.3 252.5h0.9v0.9h-0.9zM198.0 247.8h0.9v0.9h-0.9zM179.4 258.3h0.9v0.9h-0.9zM199.5 254.0h0.9v0.9h-0.9zM186.8 248.3h0.9v0.9h-0.9zM196.6 253.0h0.9v0.9h-0.9zM193.8 254.1h0.9v0.9h-0.9zM198.6 247.0h0.9v0.9h-0.9zM184.1 250.8h0.9v0.9h-0.9zM194.7 245.6h0.9v0.9h-0.9zM178.6 254.8h0.9v0.9h-0.9zM192.5 254.1h0.9v0.9h-0.9zM187.2 251.7h0.9v0.9h-0.9zM182.3 249.5h0.9v0.9h-0.9zM200.3 254.0h0.9v0.9h-0.9zM199.1 247.4h0.9v0.9h-0.9zM188.7 248.1h0.9v0.9h-0.9zM200.3 249.9h0.9v0.9h-0.9zM185.8 252.8h0.9v0.9h-0.9zM188.8 249.9h0.9v0.9h-0.9zM178.9 258.0h0.9v0.9h-0.9zM192.9 251.8h0.9v0.9h-0.9zM196.6 248.8h0.9v0.9h-0.9zM199.3 245.2h0.9v0.9h-0.9zM182.4 254.6h0.9v0.9h-0.9zM186.7 255.6h0.9v0.9h-0.9zM197.3 253.1h0.9v0.9h-0.9zM203.4 251.0h0.9v0.9h-0.9zM200.1 248.9h0.9v0.9h-0.9zM185.5 250.4h0.9v0.9h-0.9zM183.4 249.8h0.9v0.9h-0.9zM187.0 249.8h0.9v0.9h-0.9zM187.9 250.2h0.9v0.9h-0.9zM181.8 253.0h0.9v0.9h-0.9zM199.9 252.6h0.9v0.9h-0.9zM201.1 253.0h0.9v0.9h-0.9zM181.3 256.1h0.9v0.9h-0.9zM202.4 248.5h0.9v0.9h-0.9zM176.7 252.3h0.9v0.9h-0.9zM192.3 253.1h0.9v0.9h-0.9zM200.1 245.0h0.9v0.9h-0.9zM192.4 256.6h0.9v0.9h-0.9zM178.5 254.1h0.9v0.9h-0.9zM180.3 255.9h0.9v0.9h-0.9zM195.5 247.9h0.9v0.9h-0.9zM182.6 256.2h0.9v0.9h-0.9zM191.6 256.2h0.9v0.9h-0.9zM187.8 249.4h0.9v0.9h-0.9zM190.8 252.6h0.9v0.9h-0.9z" fill="#e8434f" opacity="0.85"/>
<path d="M161.3 289.8h0.8v0.8h-0.8zM164.6 281.5h0.8v0.8h-0.8zM163.0 288.7h0.8v0.8h-0.8zM163.5 292.6h0.8v0.8h-0.8zM163.2 294.9h0.8v0.8h-0.8zM165.3 287.9h0.8v0.8h-0.8zM157.9 289.9h0.8v0.8h-0.8zM162.6 281.8h0.8v0.8h-0.8zM156.1 274.1h0.8v0.8h-0.8zM155.4 274.7h0.8v0.8h-0.8zM152.5 281.9h0.8v0.8h-0.8zM154.0 297.2h0.8v0.8h-0.8zM150.0 278.6h0.8v0.8h-0.8zM151.0 288.1h0.8v0.8h-0.8zM162.2 275.0h0.8v0.8h-0.8zM150.1 282.8h0.8v0.8h-0.8zM158.9 295.5h0.8v0.8h-0.8zM152.1 276.1h0.8v0.8h-0.8zM153.0 290.1h0.8v0.8h-0.8zM159.1 276.3h0.8v0.8h-0.8zM152.1 277.9h0.8v0.8h-0.8zM151.9 291.2h0.8v0.8h-0.8zM154.3 285.4h0.8v0.8h-0.8zM162.9 283.4h0.8v0.8h-0.8zM153.4 294.8h0.8v0.8h-0.8zM164.5 279.6h0.8v0.8h-0.8zM158.3 296.8h0.8v0.8h-0.8zM157.2 276.2h0.8v0.8h-0.8zM162.6 280.8h0.8v0.8h-0.8zM158.0 284.4h0.8v0.8h-0.8zM153.7 297.7h0.8v0.8h-0.8zM160.2 276.7h0.8v0.8h-0.8zM155.3 292.3h0.8v0.8h-0.8zM161.1 287.0h0.8v0.8h-0.8zM151.7 274.4h0.8v0.8h-0.8z" fill="#e8434f" opacity="0.75"/>
<path d="M154.5 277.3h0.8v0.8h-0.8zM163.8 284.5h0.8v0.8h-0.8zM153.5 285.0h0.8v0.8h-0.8zM151.6 291.6h0.8v0.8h-0.8zM163.4 293.0h0.8v0.8h-0.8zM150.4 277.6h0.8v0.8h-0.8zM161.2 272.7h0.8v0.8h-0.8zM157.2 283.1h0.8v0.8h-0.8zM165.2 286.4h0.8v0.8h-0.8zM163.6 278.5h0.8v0.8h-0.8zM162.4 281.7h0.8v0.8h-0.8zM163.0 275.8h0.8v0.8h-0.8zM158.2 284.7h0.8v0.8h-0.8zM151.7 293.3h0.8v0.8h-0.8zM154.3 278.7h0.8v0.8h-0.8zM150.3 278.6h0.8v0.8h-0.8zM156.9 290.0h0.8v0.8h-0.8zM155.1 289.2h0.8v0.8h-0.8z" fill="#4a5cc4" opacity="0.75"/>
<path d="M164.2 277.6h0.8v0.8h-0.8zM171.9 273.6h0.8v0.8h-0.8zM170.3 264.0h0.8v0.8h-0.8zM165.6 256.6h0.8v0.8h-0.8zM167.2 278.2h0.8v0.8h-0.8zM163.6 265.9h0.8v0.8h-0.8zM166.3 258.7h0.8v0.8h-0.8zM164.3 276.4h0.8v0.8h-0.8zM166.3 303.7h0.8v0.8h-0.8zM165.7 299.9h0.8v0.8h-0.8zM163.3 267.1h0.8v0.8h-0.8zM169.6 290.2h0.8v0.8h-0.8zM161.3 262.6h0.8v0.8h-0.8zM168.0 282.8h0.8v0.8h-0.8zM165.7 277.0h0.8v0.8h-0.8zM172.8 253.8h0.8v0.8h-0.8zM189.0 313.0h0.8v0.8h-0.8zM165.0 281.3h0.8v0.8h-0.8zM172.3 277.7h0.8v0.8h-0.8zM169.4 254.8h0.8v0.8h-0.8zM196.5 317.7h0.8v0.8h-0.8zM186.6 310.7h0.8v0.8h-0.8zM176.9 306.4h0.8v0.8h-0.8zM168.9 302.3h0.8v0.8h-0.8zM165.0 287.6h0.8v0.8h-0.8zM169.8 270.9h0.8v0.8h-0.8zM173.0 254.4h0.8v0.8h-0.8zM172.3 284.9h0.8v0.8h-0.8zM197.4 318.4h0.8v0.8h-0.8zM168.1 294.3h0.8v0.8h-0.8zM162.0 257.4h0.8v0.8h-0.8zM168.9 271.5h0.8v0.8h-0.8zM167.2 266.5h0.8v0.8h-0.8zM169.2 271.1h0.8v0.8h-0.8zM171.1 294.8h0.8v0.8h-0.8zM170.0 306.2h0.8v0.8h-0.8zM163.5 270.0h0.8v0.8h-0.8zM171.2 288.4h0.8v0.8h-0.8zM180.2 309.2h0.8v0.8h-0.8zM177.6 304.1h0.8v0.8h-0.8z" fill="#e8434f" opacity="0.6"/>
<path d="M249 296 C247.5 293.3 247.7 286.7 248 282 C248.3 277.3 249.3 271.7 251 268 C252.7 264.3 256 261 258 260 C260 259 262.7 260 263 262 C263.3 264 260.8 268.2 260 272 C259.2 275.8 258.5 280.7 258 285 C257.5 289.3 258.5 296.2 257 298 C255.5 299.8 250.5 298.7 249 296Z" fill="#e8434f" opacity="0.3" filter="url(#blur1p5)"/>
<path d="M250.7 279.5h1v1h-1zM250.4 284.0h1v1h-1zM257.9 290.7h1v1h-1zM257.5 298.6h1v1h-1zM254.7 277.1h1v1h-1zM251.3 294.9h1v1h-1zM257.4 282.2h1v1h-1zM261.8 266.9h1v1h-1zM248.9 270.6h1v1h-1zM258.4 281.3h1v1h-1zM251.3 284.4h1v1h-1zM247.8 296.0h1v1h-1zM249.2 289.5h1v1h-1zM253.3 265.8h1v1h-1zM255.8 293.1h1v1h-1zM255.1 292.2h1v1h-1zM263.8 262.1h1v1h-1zM253.9 269.9h1v1h-1zM250.6 267.7h1v1h-1zM257.0 267.1h1v1h-1zM255.2 301.6h1v1h-1zM253.3 271.9h1v1h-1zM259.0 257.9h1v1h-1zM252.9 289.7h1v1h-1zM253.9 297.2h1v1h-1zM253.6 294.1h1v1h-1zM250.3 272.4h1v1h-1zM249.7 282.5h1v1h-1zM250.3 278.4h1v1h-1zM252.2 277.4h1v1h-1zM259.8 273.1h1v1h-1zM253.9 301.2h1v1h-1zM260.3 268.4h1v1h-1zM253.2 262.7h1v1h-1zM252.4 274.2h1v1h-1zM247.7 299.1h1v1h-1zM252.5 293.5h1v1h-1zM253.9 266.9h1v1h-1zM252.2 276.2h1v1h-1zM256.9 261.8h1v1h-1zM260.1 268.0h1v1h-1zM251.6 290.6h1v1h-1zM254.1 274.3h1v1h-1zM251.8 272.2h1v1h-1zM246.5 286.5h1v1h-1zM257.3 295.4h1v1h-1zM250.3 289.5h1v1h-1zM258.7 259.5h1v1h-1zM254.6 274.6h1v1h-1zM252.6 279.9h1v1h-1zM254.0 278.8h1v1h-1zM249.3 288.3h1v1h-1zM252.8 276.1h1v1h-1zM249.0 284.1h1v1h-1zM253.8 273.2h1v1h-1zM247.1 279.8h1v1h-1zM257.7 278.4h1v1h-1zM252.5 267.7h1v1h-1zM251.2 288.4h1v1h-1zM249.7 278.5h1v1h-1zM253.3 283.8h1v1h-1zM258.5 286.0h1v1h-1zM254.2 275.8h1v1h-1zM251.5 296.5h1v1h-1zM264.2 256.9h1v1h-1zM248.7 280.4h1v1h-1zM252.2 273.0h1v1h-1zM259.6 266.7h1v1h-1zM253.9 267.0h1v1h-1zM255.9 287.5h1v1h-1zM257.0 286.2h1v1h-1zM257.2 296.6h1v1h-1zM252.9 299.3h1v1h-1zM252.3 290.8h1v1h-1zM259.9 289.3h1v1h-1zM249.2 286.1h1v1h-1zM255.8 283.2h1v1h-1zM253.4 269.3h1v1h-1zM250.7 267.5h1v1h-1zM252.5 263.9h1v1h-1zM256.3 261.3h1v1h-1zM248.0 290.2h1v1h-1zM248.3 277.6h1v1h-1zM249.3 298.3h1v1h-1zM263.4 257.7h1v1h-1zM251.1 280.4h1v1h-1zM260.3 267.6h1v1h-1zM260.3 271.3h1v1h-1zM252.7 293.0h1v1h-1zM257.3 276.0h1v1h-1zM248.5 273.8h1v1h-1zM259.4 266.6h1v1h-1zM259.8 276.0h1v1h-1zM258.6 274.8h1v1h-1zM247.0 290.7h1v1h-1zM251.7 291.6h1v1h-1zM256.9 279.2h1v1h-1zM253.5 270.5h1v1h-1zM251.7 274.6h1v1h-1zM258.4 293.3h1v1h-1zM259.9 282.3h1v1h-1zM262.0 262.3h1v1h-1zM255.8 261.0h1v1h-1zM257.3 262.2h1v1h-1zM258.5 268.7h1v1h-1zM250.6 279.1h1v1h-1zM253.3 268.0h1v1h-1zM250.0 298.4h1v1h-1zM255.7 275.7h1v1h-1zM247.2 282.5h1v1h-1zM259.1 286.2h1v1h-1zM251.5 301.9h1v1h-1zM254.9 296.7h1v1h-1zM260.5 263.8h1v1h-1zM253.2 292.7h1v1h-1zM252.2 280.7h1v1h-1zM256.5 295.5h1v1h-1zM254.0 295.2h1v1h-1zM260.1 267.5h1v1h-1zM257.5 266.4h1v1h-1zM253.8 273.5h1v1h-1zM259.1 295.5h1v1h-1zM253.3 286.9h1v1h-1zM253.1 269.0h1v1h-1zM260.8 265.6h1v1h-1zM259.6 263.9h1v1h-1zM253.0 276.5h1v1h-1zM254.1 271.1h1v1h-1zM256.7 302.6h1v1h-1zM250.1 299.0h1v1h-1zM252.4 292.7h1v1h-1zM254.6 303.1h1v1h-1zM250.4 275.4h1v1h-1zM260.1 263.9h1v1h-1zM251.5 288.9h1v1h-1zM249.7 272.9h1v1h-1zM258.7 273.9h1v1h-1zM258.9 265.6h1v1h-1zM258.3 299.4h1v1h-1zM256.1 283.4h1v1h-1zM248.3 296.9h1v1h-1zM259.8 277.7h1v1h-1zM259.3 276.0h1v1h-1zM253.7 266.5h1v1h-1zM258.0 283.6h1v1h-1zM258.5 277.3h1v1h-1zM257.9 284.7h1v1h-1zM260.8 270.6h1v1h-1zM254.0 298.4h1v1h-1zM255.8 266.7h1v1h-1zM265.9 258.2h1v1h-1zM251.0 295.4h1v1h-1zM255.1 281.8h1v1h-1zM251.6 287.2h1v1h-1zM247.5 282.7h1v1h-1zM250.8 295.0h1v1h-1zM257.0 300.3h1v1h-1zM261.9 262.6h1v1h-1zM253.8 297.5h1v1h-1zM258.3 300.1h1v1h-1zM250.1 286.5h1v1h-1zM249.9 288.4h1v1h-1zM252.8 270.8h1v1h-1zM258.6 268.9h1v1h-1zM258.1 289.7h1v1h-1zM259.9 278.3h1v1h-1zM253.2 264.8h1v1h-1zM260.7 273.0h1v1h-1zM252.2 275.4h1v1h-1zM248.9 286.6h1v1h-1zM254.5 296.0h1v1h-1zM254.2 277.8h1v1h-1zM256.1 302.1h1v1h-1zM252.9 290.2h1v1h-1zM250.7 284.0h1v1h-1zM251.7 298.6h1v1h-1zM251.7 297.7h1v1h-1zM259.5 277.7h1v1h-1zM254.4 269.1h1v1h-1zM254.8 302.7h1v1h-1zM251.9 289.7h1v1h-1zM259.4 267.2h1v1h-1zM254.2 261.6h1v1h-1zM254.4 272.1h1v1h-1zM257.8 282.3h1v1h-1zM248.0 299.8h1v1h-1zM253.5 291.2h1v1h-1zM259.4 272.2h1v1h-1zM246.5 286.6h1v1h-1zM255.4 273.1h1v1h-1zM255.3 270.8h1v1h-1zM259.4 285.3h1v1h-1zM247.3 278.1h1v1h-1zM254.0 287.8h1v1h-1zM250.2 273.5h1v1h-1zM248.9 274.7h1v1h-1zM260.8 259.2h1v1h-1zM249.3 287.4h1v1h-1zM258.5 292.1h1v1h-1zM251.1 295.6h1v1h-1zM248.4 278.4h1v1h-1zM256.7 281.7h1v1h-1zM248.2 294.5h1v1h-1zM252.0 280.4h1v1h-1zM248.5 283.4h1v1h-1zM256.2 269.7h1v1h-1zM261.5 267.3h1v1h-1zM250.4 277.6h1v1h-1zM257.2 278.0h1v1h-1zM263.0 260.2h1v1h-1zM263.0 262.7h1v1h-1zM254.1 285.6h1v1h-1zM249.1 295.9h1v1h-1zM249.1 281.6h1v1h-1zM258.9 297.4h1v1h-1zM252.6 279.4h1v1h-1zM259.1 299.3h1v1h-1zM256.0 300.2h1v1h-1zM253.9 270.0h1v1h-1zM260.8 267.9h1v1h-1zM253.4 276.5h1v1h-1zM255.5 272.9h1v1h-1zM254.6 277.5h1v1h-1zM247.2 281.4h1v1h-1zM257.0 275.0h1v1h-1zM253.4 270.7h1v1h-1zM255.7 266.5h1v1h-1zM253.3 284.9h1v1h-1zM253.4 270.1h1v1h-1zM258.2 284.5h1v1h-1zM252.3 279.9h1v1h-1zM256.3 292.7h1v1h-1zM251.0 268.5h1v1h-1zM251.7 289.0h1v1h-1zM252.3 296.0h1v1h-1zM247.1 293.2h1v1h-1zM247.0 286.2h1v1h-1zM257.0 301.4h1v1h-1zM260.7 275.9h1v1h-1zM264.3 258.7h1v1h-1zM261.0 273.9h1v1h-1zM255.0 276.8h1v1h-1zM260.7 258.6h1v1h-1zM248.3 296.7h1v1h-1zM259.3 282.4h1v1h-1zM252.2 302.7h1v1h-1zM257.2 301.1h1v1h-1zM250.2 275.7h1v1h-1zM256.7 297.0h1v1h-1zM248.5 298.7h1v1h-1zM254.6 273.9h1v1h-1zM255.9 289.5h1v1h-1zM253.8 293.9h1v1h-1zM248.1 292.1h1v1h-1zM249.3 284.3h1v1h-1zM250.0 272.3h1v1h-1zM249.3 272.5h1v1h-1zM257.8 281.0h1v1h-1zM253.8 283.7h1v1h-1zM257.7 279.0h1v1h-1zM259.9 266.7h1v1h-1zM251.2 291.5h1v1h-1zM257.5 267.9h1v1h-1zM247.3 296.2h1v1h-1zM253.6 290.8h1v1h-1zM254.7 285.9h1v1h-1zM255.7 266.6h1v1h-1zM261.1 260.1h1v1h-1zM252.1 297.4h1v1h-1zM246.7 289.9h1v1h-1zM257.4 282.6h1v1h-1zM262.1 259.9h1v1h-1zM261.7 265.9h1v1h-1zM250.0 281.7h1v1h-1zM258.2 261.0h1v1h-1zM259.8 273.2h1v1h-1zM251.8 297.9h1v1h-1zM260.5 268.2h1v1h-1zM256.7 267.7h1v1h-1zM251.9 267.6h1v1h-1zM248.6 279.2h1v1h-1zM251.5 269.3h1v1h-1zM251.6 280.5h1v1h-1zM263.5 263.0h1v1h-1zM258.2 282.2h1v1h-1zM261.5 268.0h1v1h-1zM253.3 294.4h1v1h-1zM250.7 277.6h1v1h-1zM253.4 291.5h1v1h-1zM257.3 272.4h1v1h-1zM259.1 258.6h1v1h-1zM264.0 260.1h1v1h-1zM257.3 261.0h1v1h-1zM263.4 258.1h1v1h-1zM259.3 258.4h1v1h-1zM246.6 283.5h1v1h-1zM256.5 264.2h1v1h-1zM256.5 272.7h1v1h-1zM256.0 264.9h1v1h-1zM260.1 275.9h1v1h-1zM255.7 282.9h1v1h-1zM252.7 290.1h1v1h-1zM257.8 289.3h1v1h-1zM258.3 285.7h1v1h-1zM264.7 259.3h1v1h-1zM256.4 303.0h1v1h-1zM256.4 284.0h1v1h-1zM252.7 272.3h1v1h-1zM251.2 284.3h1v1h-1zM256.5 271.8h1v1h-1zM259.5 277.7h1v1h-1zM250.7 299.1h1v1h-1zM251.1 278.9h1v1h-1zM250.8 287.7h1v1h-1zM251.2 281.1h1v1h-1zM251.1 298.9h1v1h-1zM252.0 271.5h1v1h-1zM247.6 293.2h1v1h-1zM253.4 272.8h1v1h-1zM253.7 261.8h1v1h-1zM252.8 294.5h1v1h-1zM253.6 269.4h1v1h-1zM257.9 292.1h1v1h-1zM255.5 295.9h1v1h-1zM264.3 262.2h1v1h-1zM250.1 298.9h1v1h-1zM252.8 301.5h1v1h-1zM248.8 290.7h1v1h-1zM248.7 288.9h1v1h-1zM251.5 301.9h1v1h-1zM248.5 281.3h1v1h-1zM256.8 283.4h1v1h-1zM264.9 259.1h1v1h-1zM252.2 293.0h1v1h-1zM249.2 271.5h1v1h-1zM257.4 269.7h1v1h-1zM255.2 285.2h1v1h-1zM249.5 291.8h1v1h-1zM250.4 295.0h1v1h-1zM256.0 287.6h1v1h-1zM255.3 264.1h1v1h-1zM258.4 273.5h1v1h-1zM255.5 286.2h1v1h-1zM252.3 272.8h1v1h-1zM254.3 282.0h1v1h-1zM255.2 271.6h1v1h-1zM263.6 263.1h1v1h-1zM256.2 304.2h1v1h-1zM260.5 266.8h1v1h-1zM257.7 262.9h1v1h-1zM247.9 289.4h1v1h-1zM252.9 283.0h1v1h-1zM255.9 301.1h1v1h-1zM256.3 273.9h1v1h-1zM251.4 283.7h1v1h-1zM258.6 278.1h1v1h-1zM247.8 279.9h1v1h-1zM255.6 287.1h1v1h-1zM262.0 266.7h1v1h-1zM251.1 300.1h1v1h-1zM256.1 276.3h1v1h-1zM257.1 302.3h1v1h-1zM255.8 279.1h1v1h-1zM251.8 297.1h1v1h-1zM256.1 272.1h1v1h-1zM259.7 294.9h1v1h-1zM262.0 263.8h1v1h-1zM250.9 301.0h1v1h-1zM252.9 294.6h1v1h-1zM258.2 300.6h1v1h-1zM247.3 288.4h1v1h-1zM249.7 289.7h1v1h-1zM258.5 261.3h1v1h-1zM260.5 257.9h1v1h-1zM257.4 302.2h1v1h-1zM258.8 279.6h1v1h-1zM253.7 272.7h1v1h-1zM261.9 266.4h1v1h-1zM259.1 293.8h1v1h-1zM259.9 280.8h1v1h-1z" fill="#e8434f" opacity="0.85"/>
<path d="M252.3 268.6h1v1h-1zM249.7 287.4h1v1h-1zM252.6 301.4h1v1h-1zM252.7 269.0h1v1h-1zM256.5 279.4h1v1h-1zM256.7 278.7h1v1h-1zM260.9 267.5h1v1h-1zM250.0 284.0h1v1h-1zM250.8 271.4h1v1h-1zM253.1 281.3h1v1h-1zM254.3 275.3h1v1h-1zM250.7 278.7h1v1h-1zM254.7 289.3h1v1h-1zM256.6 264.5h1v1h-1zM261.3 257.8h1v1h-1zM249.0 282.6h1v1h-1zM251.5 291.0h1v1h-1zM260.5 271.0h1v1h-1zM260.1 277.8h1v1h-1zM255.5 302.7h1v1h-1zM263.8 257.8h1v1h-1zM259.9 276.9h1v1h-1zM248.6 276.3h1v1h-1zM257.5 292.2h1v1h-1zM254.1 287.5h1v1h-1zM259.6 285.8h1v1h-1zM246.9 290.5h1v1h-1zM255.4 260.3h1v1h-1zM255.7 284.4h1v1h-1zM250.4 298.3h1v1h-1zM256.2 275.5h1v1h-1zM254.0 299.4h1v1h-1zM251.1 294.6h1v1h-1zM260.2 277.4h1v1h-1zM253.3 276.8h1v1h-1zM255.1 270.8h1v1h-1zM258.5 275.6h1v1h-1zM252.1 293.6h1v1h-1zM255.1 278.7h1v1h-1zM253.5 299.9h1v1h-1zM254.0 288.6h1v1h-1zM260.8 269.8h1v1h-1zM259.1 288.4h1v1h-1zM254.7 287.7h1v1h-1zM250.5 293.5h1v1h-1zM252.8 290.6h1v1h-1zM261.3 268.0h1v1h-1zM258.3 266.0h1v1h-1zM249.9 300.6h1v1h-1zM247.2 284.1h1v1h-1zM253.8 284.5h1v1h-1zM251.0 290.3h1v1h-1zM257.2 282.2h1v1h-1zM251.5 283.4h1v1h-1zM256.6 279.8h1v1h-1zM249.3 286.3h1v1h-1zM251.8 295.3h1v1h-1zM254.4 262.3h1v1h-1zM258.1 278.0h1v1h-1zM253.1 292.9h1v1h-1z" fill="#4a5cc4" opacity="0.8"/>
<path d="M268.9 248.8h0.9v0.9h-0.9zM273.0 255.0h0.9v0.9h-0.9zM268.6 251.5h0.9v0.9h-0.9zM266.5 255.9h0.9v0.9h-0.9zM286.0 248.4h0.9v0.9h-0.9zM293.1 246.0h0.9v0.9h-0.9zM277.0 247.9h0.9v0.9h-0.9zM297.5 246.1h0.9v0.9h-0.9zM266.9 254.2h0.9v0.9h-0.9zM271.6 250.5h0.9v0.9h-0.9zM286.3 245.9h0.9v0.9h-0.9zM267.1 249.0h0.9v0.9h-0.9zM267.2 256.2h0.9v0.9h-0.9zM260.5 258.7h0.9v0.9h-0.9zM279.7 253.5h0.9v0.9h-0.9zM270.9 251.1h0.9v0.9h-0.9zM269.6 253.0h0.9v0.9h-0.9zM272.2 248.9h0.9v0.9h-0.9zM270.4 253.6h0.9v0.9h-0.9zM278.5 247.9h0.9v0.9h-0.9zM274.5 249.5h0.9v0.9h-0.9zM278.2 251.1h0.9v0.9h-0.9zM279.2 252.4h0.9v0.9h-0.9zM273.9 252.8h0.9v0.9h-0.9zM278.6 247.9h0.9v0.9h-0.9zM283.6 243.8h0.9v0.9h-0.9zM264.9 251.0h0.9v0.9h-0.9zM266.7 250.7h0.9v0.9h-0.9zM279.7 248.4h0.9v0.9h-0.9zM284.3 245.9h0.9v0.9h-0.9zM260.9 257.1h0.9v0.9h-0.9zM280.4 243.6h0.9v0.9h-0.9zM283.5 246.9h0.9v0.9h-0.9zM288.3 242.7h0.9v0.9h-0.9zM259.4 257.9h0.9v0.9h-0.9zM291.1 245.3h0.9v0.9h-0.9zM280.5 249.3h0.9v0.9h-0.9zM290.9 246.7h0.9v0.9h-0.9zM286.6 245.3h0.9v0.9h-0.9zM283.1 249.4h0.9v0.9h-0.9zM273.4 252.4h0.9v0.9h-0.9zM265.2 251.8h0.9v0.9h-0.9zM280.6 246.4h0.9v0.9h-0.9zM265.6 256.4h0.9v0.9h-0.9zM261.1 259.2h0.9v0.9h-0.9zM260.1 258.4h0.9v0.9h-0.9zM294.7 242.3h0.9v0.9h-0.9zM266.0 254.6h0.9v0.9h-0.9zM279.4 249.2h0.9v0.9h-0.9zM264.0 253.1h0.9v0.9h-0.9zM278.3 249.5h0.9v0.9h-0.9zM282.6 245.5h0.9v0.9h-0.9zM273.7 252.6h0.9v0.9h-0.9zM295.6 244.2h0.9v0.9h-0.9zM273.3 256.0h0.9v0.9h-0.9zM272.9 256.0h0.9v0.9h-0.9zM294.3 242.3h0.9v0.9h-0.9zM272.5 253.9h0.9v0.9h-0.9zM280.6 244.2h0.9v0.9h-0.9zM289.2 242.8h0.9v0.9h-0.9zM283.2 247.2h0.9v0.9h-0.9zM270.9 253.9h0.9v0.9h-0.9zM265.7 250.7h0.9v0.9h-0.9zM268.5 249.0h0.9v0.9h-0.9zM285.8 245.4h0.9v0.9h-0.9zM292.0 245.6h0.9v0.9h-0.9zM280.3 248.5h0.9v0.9h-0.9zM286.6 246.3h0.9v0.9h-0.9zM274.8 248.0h0.9v0.9h-0.9zM273.9 247.9h0.9v0.9h-0.9zM285.4 244.6h0.9v0.9h-0.9zM266.1 254.1h0.9v0.9h-0.9zM279.3 244.1h0.9v0.9h-0.9zM269.5 257.4h0.9v0.9h-0.9zM283.3 251.1h0.9v0.9h-0.9zM268.5 253.8h0.9v0.9h-0.9zM278.4 252.0h0.9v0.9h-0.9zM269.6 250.8h0.9v0.9h-0.9zM277.4 249.7h0.9v0.9h-0.9zM277.2 248.8h0.9v0.9h-0.9zM285.1 244.6h0.9v0.9h-0.9zM275.8 247.5h0.9v0.9h-0.9zM260.6 255.3h0.9v0.9h-0.9zM266.6 250.6h0.9v0.9h-0.9zM263.8 257.5h0.9v0.9h-0.9zM284.1 251.1h0.9v0.9h-0.9zM282.1 251.1h0.9v0.9h-0.9zM266.3 254.7h0.9v0.9h-0.9zM270.8 256.3h0.9v0.9h-0.9zM263.6 252.7h0.9v0.9h-0.9zM268.0 252.8h0.9v0.9h-0.9zM271.5 250.1h0.9v0.9h-0.9zM283.8 249.0h0.9v0.9h-0.9zM263.1 255.9h0.9v0.9h-0.9zM274.3 254.8h0.9v0.9h-0.9zM273.0 249.9h0.9v0.9h-0.9zM272.6 254.8h0.9v0.9h-0.9zM272.1 248.7h0.9v0.9h-0.9zM273.4 254.7h0.9v0.9h-0.9zM262.0 257.9h0.9v0.9h-0.9zM263.7 254.6h0.9v0.9h-0.9zM293.7 243.2h0.9v0.9h-0.9zM268.2 257.1h0.9v0.9h-0.9zM267.0 259.5h0.9v0.9h-0.9zM272.1 251.2h0.9v0.9h-0.9zM275.0 247.2h0.9v0.9h-0.9zM281.9 248.0h0.9v0.9h-0.9zM263.0 258.1h0.9v0.9h-0.9zM284.8 244.7h0.9v0.9h-0.9zM279.2 250.0h0.9v0.9h-0.9zM275.6 251.0h0.9v0.9h-0.9zM280.6 247.2h0.9v0.9h-0.9zM289.1 248.3h0.9v0.9h-0.9zM261.7 259.6h0.9v0.9h-0.9zM284.7 250.0h0.9v0.9h-0.9zM278.8 245.7h0.9v0.9h-0.9zM276.5 246.8h0.9v0.9h-0.9zM285.0 243.7h0.9v0.9h-0.9zM279.3 253.4h0.9v0.9h-0.9zM264.4 258.4h0.9v0.9h-0.9zM297.1 245.2h0.9v0.9h-0.9zM295.5 245.8h0.9v0.9h-0.9zM267.3 260.0h0.9v0.9h-0.9zM267.6 254.8h0.9v0.9h-0.9zM275.5 250.9h0.9v0.9h-0.9zM276.7 249.1h0.9v0.9h-0.9zM286.5 248.2h0.9v0.9h-0.9zM280.7 244.5h0.9v0.9h-0.9zM272.7 247.9h0.9v0.9h-0.9zM263.5 253.6h0.9v0.9h-0.9zM267.2 256.3h0.9v0.9h-0.9zM289.6 243.2h0.9v0.9h-0.9zM270.1 250.8h0.9v0.9h-0.9zM272.2 251.2h0.9v0.9h-0.9zM289.7 246.9h0.9v0.9h-0.9zM295.5 245.0h0.9v0.9h-0.9zM290.2 244.0h0.9v0.9h-0.9zM270.1 250.6h0.9v0.9h-0.9zM266.2 259.9h0.9v0.9h-0.9zM269.7 250.1h0.9v0.9h-0.9zM290.8 243.0h0.9v0.9h-0.9zM267.8 256.5h0.9v0.9h-0.9zM274.5 252.7h0.9v0.9h-0.9zM274.0 253.1h0.9v0.9h-0.9zM285.0 248.4h0.9v0.9h-0.9zM277.7 249.2h0.9v0.9h-0.9zM269.9 247.6h0.9v0.9h-0.9zM275.7 252.3h0.9v0.9h-0.9zM277.7 248.5h0.9v0.9h-0.9zM285.0 251.0h0.9v0.9h-0.9zM279.3 253.4h0.9v0.9h-0.9zM292.3 242.6h0.9v0.9h-0.9zM264.6 253.0h0.9v0.9h-0.9zM263.8 257.0h0.9v0.9h-0.9zM289.1 247.1h0.9v0.9h-0.9zM261.2 256.0h0.9v0.9h-0.9zM287.3 242.7h0.9v0.9h-0.9zM268.9 255.3h0.9v0.9h-0.9zM274.4 251.2h0.9v0.9h-0.9zM275.4 253.7h0.9v0.9h-0.9z" fill="#e8434f" opacity="0.8"/>
<path d="M276.4 254.7h0.9v0.9h-0.9zM282.3 248.7h0.9v0.9h-0.9zM266.4 256.5h0.9v0.9h-0.9zM291.6 242.4h0.9v0.9h-0.9zM278.4 247.1h0.9v0.9h-0.9zM271.0 254.6h0.9v0.9h-0.9zM291.5 242.4h0.9v0.9h-0.9zM260.5 256.5h0.9v0.9h-0.9zM285.7 249.0h0.9v0.9h-0.9zM266.2 250.7h0.9v0.9h-0.9zM273.9 246.5h0.9v0.9h-0.9zM274.6 255.8h0.9v0.9h-0.9zM282.5 248.8h0.9v0.9h-0.9zM273.8 247.1h0.9v0.9h-0.9zM285.6 243.5h0.9v0.9h-0.9zM270.2 249.6h0.9v0.9h-0.9zM263.0 253.8h0.9v0.9h-0.9zM265.8 252.4h0.9v0.9h-0.9zM269.7 251.5h0.9v0.9h-0.9zM279.0 247.0h0.9v0.9h-0.9zM272.0 247.3h0.9v0.9h-0.9zM264.3 253.1h0.9v0.9h-0.9zM278.4 247.0h0.9v0.9h-0.9zM260.8 255.2h0.9v0.9h-0.9zM270.1 253.9h0.9v0.9h-0.9zM270.8 255.1h0.9v0.9h-0.9zM268.1 258.4h0.9v0.9h-0.9zM295.9 244.1h0.9v0.9h-0.9zM285.1 243.9h0.9v0.9h-0.9zM271.2 257.3h0.9v0.9h-0.9zM281.2 250.0h0.9v0.9h-0.9zM279.0 247.2h0.9v0.9h-0.9zM269.5 259.7h0.9v0.9h-0.9zM272.0 257.3h0.9v0.9h-0.9zM277.7 250.1h0.9v0.9h-0.9zM270.5 258.5h0.9v0.9h-0.9zM293.0 242.5h0.9v0.9h-0.9zM286.1 246.3h0.9v0.9h-0.9zM287.1 246.5h0.9v0.9h-0.9zM275.3 254.1h0.9v0.9h-0.9zM284.3 243.5h0.9v0.9h-0.9zM268.5 258.4h0.9v0.9h-0.9zM267.8 249.6h0.9v0.9h-0.9zM280.2 252.5h0.9v0.9h-0.9zM285.8 246.1h0.9v0.9h-0.9zM266.0 251.4h0.9v0.9h-0.9zM269.3 252.8h0.9v0.9h-0.9zM261.6 255.7h0.9v0.9h-0.9zM264.8 256.4h0.9v0.9h-0.9zM295.7 245.8h0.9v0.9h-0.9zM261.3 258.0h0.9v0.9h-0.9zM282.2 251.3h0.9v0.9h-0.9zM262.6 254.7h0.9v0.9h-0.9zM263.8 251.6h0.9v0.9h-0.9zM290.2 245.9h0.9v0.9h-0.9zM268.9 254.1h0.9v0.9h-0.9zM260.5 255.4h0.9v0.9h-0.9zM263.8 253.2h0.9v0.9h-0.9zM280.4 249.9h0.9v0.9h-0.9zM295.2 245.7h0.9v0.9h-0.9zM259.1 258.1h0.9v0.9h-0.9zM292.8 244.7h0.9v0.9h-0.9zM267.9 254.1h0.9v0.9h-0.9zM269.2 253.9h0.9v0.9h-0.9zM269.6 257.1h0.9v0.9h-0.9zM268.3 259.3h0.9v0.9h-0.9zM281.3 246.8h0.9v0.9h-0.9zM283.9 247.9h0.9v0.9h-0.9zM282.4 246.5h0.9v0.9h-0.9zM262.0 257.4h0.9v0.9h-0.9zM263.7 257.0h0.9v0.9h-0.9zM268.9 248.9h0.9v0.9h-0.9zM271.0 249.3h0.9v0.9h-0.9zM280.8 246.6h0.9v0.9h-0.9zM286.8 246.1h0.9v0.9h-0.9zM279.9 252.1h0.9v0.9h-0.9zM280.1 246.3h0.9v0.9h-0.9zM269.7 253.3h0.9v0.9h-0.9zM278.7 250.8h0.9v0.9h-0.9zM265.1 257.7h0.9v0.9h-0.9zM278.9 245.0h0.9v0.9h-0.9zM283.0 251.3h0.9v0.9h-0.9zM282.5 247.6h0.9v0.9h-0.9zM266.6 256.5h0.9v0.9h-0.9zM288.7 247.4h0.9v0.9h-0.9zM272.9 250.4h0.9v0.9h-0.9zM265.4 261.1h0.9v0.9h-0.9zM261.6 255.3h0.9v0.9h-0.9zM286.1 250.3h0.9v0.9h-0.9zM264.7 252.0h0.9v0.9h-0.9zM293.5 245.1h0.9v0.9h-0.9zM286.5 245.0h0.9v0.9h-0.9zM261.6 259.1h0.9v0.9h-0.9zM283.5 250.9h0.9v0.9h-0.9zM276.9 252.8h0.9v0.9h-0.9zM282.0 247.1h0.9v0.9h-0.9zM277.5 247.4h0.9v0.9h-0.9zM275.5 250.1h0.9v0.9h-0.9zM282.1 247.0h0.9v0.9h-0.9zM282.8 251.2h0.9v0.9h-0.9zM279.9 248.4h0.9v0.9h-0.9zM268.2 256.1h0.9v0.9h-0.9zM275.5 255.5h0.9v0.9h-0.9zM268.2 259.1h0.9v0.9h-0.9zM268.6 259.3h0.9v0.9h-0.9zM275.5 249.7h0.9v0.9h-0.9zM281.1 252.2h0.9v0.9h-0.9zM279.9 253.0h0.9v0.9h-0.9zM290.7 247.1h0.9v0.9h-0.9zM270.6 251.6h0.9v0.9h-0.9zM267.6 249.1h0.9v0.9h-0.9zM266.0 251.6h0.9v0.9h-0.9zM290.2 247.1h0.9v0.9h-0.9zM281.5 243.4h0.9v0.9h-0.9zM267.1 255.6h0.9v0.9h-0.9z" fill="#4a5cc4" opacity="0.8"/>
<path d="M248.9 292.5h1v1h-1zM248.5 275.3h1v1h-1zM246.4 286.3h1v1h-1zM249.8 283.4h1v1h-1zM248.2 286.1h1v1h-1zM249.5 295.1h1v1h-1zM249.9 277.4h1v1h-1zM249.9 273.1h1v1h-1zM246.6 285.2h1v1h-1zM246.9 286.8h1v1h-1zM249.8 284.8h1v1h-1zM249.3 297.7h1v1h-1zM249.4 279.5h1v1h-1zM248.6 280.7h1v1h-1zM248.0 293.2h1v1h-1zM248.6 274.4h1v1h-1zM249.7 277.6h1v1h-1zM248.0 277.4h1v1h-1zM249.0 282.9h1v1h-1zM249.4 282.8h1v1h-1zM249.9 286.5h1v1h-1zM246.5 284.8h1v1h-1zM247.3 278.9h1v1h-1zM249.7 274.7h1v1h-1zM249.1 273.5h1v1h-1zM249.3 271.4h1v1h-1zM249.8 272.0h1v1h-1zM249.8 277.0h1v1h-1zM248.5 294.0h1v1h-1zM249.0 285.8h1v1h-1zM246.9 285.7h1v1h-1zM249.0 283.8h1v1h-1zM249.2 286.9h1v1h-1zM249.2 282.3h1v1h-1zM249.5 286.6h1v1h-1zM249.3 277.4h1v1h-1zM249.1 286.5h1v1h-1zM249.0 282.9h1v1h-1zM247.2 279.1h1v1h-1zM249.5 296.6h1v1h-1zM247.6 279.4h1v1h-1zM248.2 282.9h1v1h-1zM249.2 292.7h1v1h-1zM248.2 283.4h1v1h-1zM249.3 279.4h1v1h-1zM250.1 282.5h1v1h-1zM248.8 285.6h1v1h-1zM247.4 284.3h1v1h-1zM250.8 274.1h1v1h-1zM250.0 278.4h1v1h-1z" fill="#4a5cc4" opacity="0.9"/>
<path d="M280.5 288.1h0.8v0.8h-0.8zM281.7 278.8h0.8v0.8h-0.8zM303.5 284.8h0.8v0.8h-0.8zM300.6 287.3h0.8v0.8h-0.8zM284.5 282.1h0.8v0.8h-0.8zM282.4 280.1h0.8v0.8h-0.8zM292.4 287.1h0.8v0.8h-0.8zM287.2 284.7h0.8v0.8h-0.8zM283.5 278.1h0.8v0.8h-0.8zM281.5 283.3h0.8v0.8h-0.8zM294.7 285.4h0.8v0.8h-0.8zM290.5 289.0h0.8v0.8h-0.8zM298.1 283.1h0.8v0.8h-0.8zM301.8 276.9h0.8v0.8h-0.8zM287.3 282.8h0.8v0.8h-0.8zM295.0 289.3h0.8v0.8h-0.8zM297.0 274.7h0.8v0.8h-0.8zM303.6 281.5h0.8v0.8h-0.8zM285.1 286.2h0.8v0.8h-0.8zM295.7 287.7h0.8v0.8h-0.8zM293.8 278.1h0.8v0.8h-0.8zM291.8 281.5h0.8v0.8h-0.8zM288.8 283.3h0.8v0.8h-0.8zM283.7 278.0h0.8v0.8h-0.8zM293.1 285.8h0.8v0.8h-0.8z" fill="#4a5cc4" opacity="0.6"/>
<path d="M280.4 319.8h0.8v0.8h-0.8zM284.2 305.4h0.8v0.8h-0.8zM269.3 311.4h0.8v0.8h-0.8zM266.7 310.9h0.8v0.8h-0.8zM258.0 312.0h0.8v0.8h-0.8zM267.7 321.4h0.8v0.8h-0.8zM294.0 321.2h0.8v0.8h-0.8zM292.0 327.4h0.8v0.8h-0.8zM268.2 309.8h0.8v0.8h-0.8zM271.1 314.5h0.8v0.8h-0.8zM292.1 319.0h0.8v0.8h-0.8zM261.8 318.5h0.8v0.8h-0.8zM272.5 308.2h0.8v0.8h-0.8zM267.4 307.3h0.8v0.8h-0.8zM276.8 320.1h0.8v0.8h-0.8zM274.8 320.7h0.8v0.8h-0.8zM265.2 305.5h0.8v0.8h-0.8zM264.3 303.4h0.8v0.8h-0.8zM254.0 304.2h0.8v0.8h-0.8zM274.5 308.9h0.8v0.8h-0.8zM289.2 315.2h0.8v0.8h-0.8zM276.2 311.2h0.8v0.8h-0.8zM277.0 304.6h0.8v0.8h-0.8zM277.2 322.0h0.8v0.8h-0.8zM280.1 314.3h0.8v0.8h-0.8zM272.2 320.4h0.8v0.8h-0.8zM274.0 308.6h0.8v0.8h-0.8zM289.1 315.6h0.8v0.8h-0.8zM264.5 311.8h0.8v0.8h-0.8zM271.8 318.3h0.8v0.8h-0.8zM270.5 319.6h0.8v0.8h-0.8zM267.2 319.6h0.8v0.8h-0.8zM260.4 314.7h0.8v0.8h-0.8zM271.4 315.8h0.8v0.8h-0.8zM280.5 322.0h0.8v0.8h-0.8zM269.4 311.9h0.8v0.8h-0.8zM273.4 308.1h0.8v0.8h-0.8zM277.8 322.0h0.8v0.8h-0.8zM280.8 314.7h0.8v0.8h-0.8zM275.5 312.4h0.8v0.8h-0.8z" fill="#e8434f" opacity="0.6"/>
<path d="M308.1 245.6h0.8v0.8h-0.8zM335.8 251.3h0.8v0.8h-0.8zM337.4 253.7h0.8v0.8h-0.8zM320.7 245.0h0.8v0.8h-0.8zM312.0 245.4h0.8v0.8h-0.8zM307.5 242.7h0.8v0.8h-0.8zM329.0 254.0h0.8v0.8h-0.8zM319.0 250.2h0.8v0.8h-0.8zM321.0 255.4h0.8v0.8h-0.8zM333.3 247.5h0.8v0.8h-0.8zM333.7 252.8h0.8v0.8h-0.8zM328.0 253.5h0.8v0.8h-0.8zM338.4 253.3h0.8v0.8h-0.8zM310.3 243.5h0.8v0.8h-0.8zM337.7 257.2h0.8v0.8h-0.8zM331.6 245.7h0.8v0.8h-0.8zM325.5 243.5h0.8v0.8h-0.8zM333.3 253.7h0.8v0.8h-0.8zM337.4 255.7h0.8v0.8h-0.8zM320.8 250.0h0.8v0.8h-0.8zM328.7 256.2h0.8v0.8h-0.8zM325.1 255.0h0.8v0.8h-0.8zM330.0 249.9h0.8v0.8h-0.8zM309.7 246.9h0.8v0.8h-0.8zM324.8 247.8h0.8v0.8h-0.8z" fill="#e8434f" opacity="0.5"/>
<path d="M351 296 C350.2 292.7 350.1 286.3 350.5 282 C350.9 277.7 352.1 273.3 353.5 270 C354.9 266.7 356.9 264.2 359 262 C361.1 259.8 365.2 256.7 366 257 C366.8 257.3 365 261.2 364 264 C363 266.8 360.9 270.3 360 274 C359.1 277.7 358.8 282 358.5 286 C358.2 290 359.1 295.3 358.5 298 C357.9 300.7 356.2 302.3 355 302 C353.8 301.7 351.8 299.3 351 296Z" fill="#e8434f" opacity="0.55" filter="url(#blur1p2)"/>
<path d="M351.4 292.4h1v1h-1zM362.7 259.8h1v1h-1zM354.9 277.8h1v1h-1zM355.1 294.1h1v1h-1zM350.9 284.3h1v1h-1zM351.6 282.2h1v1h-1zM358.6 270.7h1v1h-1zM358.0 273.5h1v1h-1zM354.8 284.3h1v1h-1zM354.5 290.6h1v1h-1zM353.7 283.7h1v1h-1zM356.1 269.0h1v1h-1zM360.2 262.8h1v1h-1zM358.7 272.3h1v1h-1zM352.2 296.2h1v1h-1zM357.8 286.1h1v1h-1zM355.7 287.5h1v1h-1zM351.8 292.5h1v1h-1zM359.3 264.7h1v1h-1zM357.2 270.0h1v1h-1zM365.3 259.2h1v1h-1zM362.3 262.4h1v1h-1zM353.9 283.8h1v1h-1zM359.6 275.0h1v1h-1zM356.0 298.9h1v1h-1zM360.1 265.9h1v1h-1zM352.6 279.9h1v1h-1zM358.8 266.6h1v1h-1zM359.5 271.0h1v1h-1zM360.2 261.3h1v1h-1zM359.9 267.8h1v1h-1zM350.9 288.3h1v1h-1zM355.3 284.0h1v1h-1zM359.1 267.5h1v1h-1zM351.4 283.2h1v1h-1zM351.8 296.4h1v1h-1zM356.1 270.9h1v1h-1zM358.0 267.4h1v1h-1zM358.2 293.1h1v1h-1zM356.0 290.9h1v1h-1zM353.2 275.9h1v1h-1zM352.3 289.3h1v1h-1zM354.4 279.4h1v1h-1zM359.0 281.0h1v1h-1zM353.4 279.5h1v1h-1zM355.3 289.1h1v1h-1zM353.7 284.9h1v1h-1zM356.6 287.6h1v1h-1zM351.9 284.7h1v1h-1zM358.3 279.8h1v1h-1zM357.2 293.6h1v1h-1zM354.0 278.8h1v1h-1zM364.8 261.1h1v1h-1zM355.1 270.8h1v1h-1zM359.3 271.5h1v1h-1zM352.4 280.1h1v1h-1zM355.8 279.1h1v1h-1zM365.1 259.8h1v1h-1zM351.8 285.8h1v1h-1zM353.4 277.7h1v1h-1zM353.6 283.4h1v1h-1zM361.7 261.1h1v1h-1zM356.9 272.0h1v1h-1zM352.5 284.7h1v1h-1zM356.2 295.1h1v1h-1zM352.6 276.7h1v1h-1zM351.8 282.2h1v1h-1zM354.0 288.4h1v1h-1zM364.3 262.7h1v1h-1zM354.7 280.4h1v1h-1zM351.4 291.7h1v1h-1zM361.6 262.3h1v1h-1zM360.1 262.8h1v1h-1zM354.9 277.3h1v1h-1zM357.0 294.6h1v1h-1zM357.3 293.6h1v1h-1zM357.8 283.2h1v1h-1zM354.5 275.4h1v1h-1zM361.7 260.8h1v1h-1zM357.5 268.4h1v1h-1zM355.0 272.2h1v1h-1zM353.6 282.9h1v1h-1zM364.3 263.0h1v1h-1zM353.4 271.1h1v1h-1zM358.4 294.5h1v1h-1zM355.7 276.3h1v1h-1zM352.5 296.3h1v1h-1zM353.8 271.3h1v1h-1zM353.2 295.2h1v1h-1zM352.2 276.8h1v1h-1zM360.4 267.2h1v1h-1zM351.3 281.5h1v1h-1zM358.0 295.8h1v1h-1zM358.1 280.7h1v1h-1zM356.6 295.4h1v1h-1zM353.2 272.7h1v1h-1zM354.6 291.8h1v1h-1zM357.1 283.0h1v1h-1zM354.5 290.8h1v1h-1zM358.9 264.8h1v1h-1zM352.5 296.7h1v1h-1zM359.3 274.4h1v1h-1zM355.4 293.7h1v1h-1zM351.6 282.7h1v1h-1zM361.4 266.8h1v1h-1zM355.7 276.7h1v1h-1zM363.1 261.2h1v1h-1zM353.5 275.4h1v1h-1zM355.0 279.4h1v1h-1zM361.9 261.1h1v1h-1zM356.8 279.0h1v1h-1zM352.1 297.6h1v1h-1zM356.3 268.0h1v1h-1zM351.8 281.2h1v1h-1zM355.7 299.7h1v1h-1zM358.2 279.8h1v1h-1zM356.9 297.8h1v1h-1zM355.6 276.4h1v1h-1zM355.1 291.2h1v1h-1zM352.0 282.0h1v1h-1zM360.2 261.6h1v1h-1zM355.4 282.2h1v1h-1zM351.1 281.3h1v1h-1zM353.7 284.9h1v1h-1zM351.7 285.1h1v1h-1zM360.3 272.4h1v1h-1zM354.1 285.4h1v1h-1zM356.2 298.1h1v1h-1zM357.8 293.0h1v1h-1zM353.3 272.9h1v1h-1zM356.3 269.5h1v1h-1zM354.8 270.1h1v1h-1zM354.0 288.2h1v1h-1zM362.0 266.3h1v1h-1zM355.9 278.4h1v1h-1zM352.8 286.2h1v1h-1zM357.4 296.2h1v1h-1zM354.0 288.6h1v1h-1zM355.5 270.7h1v1h-1zM353.9 286.6h1v1h-1zM354.9 275.1h1v1h-1zM363.4 264.1h1v1h-1zM351.0 288.8h1v1h-1zM363.1 265.5h1v1h-1zM353.0 297.9h1v1h-1zM353.8 294.5h1v1h-1zM356.9 267.5h1v1h-1zM364.6 258.6h1v1h-1zM355.5 283.6h1v1h-1zM356.5 295.1h1v1h-1zM351.6 278.1h1v1h-1zM357.1 277.7h1v1h-1zM356.7 280.4h1v1h-1zM354.7 299.8h1v1h-1zM356.5 296.6h1v1h-1zM356.2 290.5h1v1h-1zM358.3 285.6h1v1h-1zM353.3 282.6h1v1h-1zM357.1 287.6h1v1h-1zM362.5 266.3h1v1h-1zM356.2 268.5h1v1h-1zM356.7 277.3h1v1h-1zM358.8 264.5h1v1h-1zM353.3 287.6h1v1h-1zM358.5 275.4h1v1h-1zM358.2 275.4h1v1h-1zM351.3 279.3h1v1h-1zM354.4 283.2h1v1h-1zM357.7 291.2h1v1h-1zM352.3 289.9h1v1h-1zM353.6 274.1h1v1h-1zM359.6 268.9h1v1h-1zM365.6 258.0h1v1h-1zM357.7 271.5h1v1h-1zM357.3 273.7h1v1h-1zM354.7 298.5h1v1h-1zM357.4 294.5h1v1h-1zM359.7 275.8h1v1h-1zM353.3 297.6h1v1h-1zM356.5 289.2h1v1h-1zM360.8 261.3h1v1h-1zM358.4 269.6h1v1h-1zM360.5 264.5h1v1h-1zM355.1 268.3h1v1h-1zM354.8 282.5h1v1h-1zM356.6 276.3h1v1h-1zM360.6 266.3h1v1h-1zM364.2 259.9h1v1h-1zM352.5 284.8h1v1h-1zM358.8 280.0h1v1h-1zM360.4 262.1h1v1h-1zM351.8 277.4h1v1h-1zM361.1 267.6h1v1h-1zM358.1 278.1h1v1h-1zM354.4 285.5h1v1h-1zM356.1 272.4h1v1h-1zM352.5 298.3h1v1h-1zM357.4 283.0h1v1h-1zM354.3 299.1h1v1h-1zM352.1 288.4h1v1h-1zM351.5 280.9h1v1h-1zM355.5 299.8h1v1h-1zM357.3 294.8h1v1h-1zM356.1 280.7h1v1h-1zM356.4 270.7h1v1h-1zM357.9 278.1h1v1h-1zM353.3 280.3h1v1h-1zM353.8 299.4h1v1h-1zM357.0 275.6h1v1h-1zM353.8 295.7h1v1h-1zM355.2 281.6h1v1h-1zM359.9 262.9h1v1h-1zM352.3 277.6h1v1h-1zM364.0 260.0h1v1h-1zM356.5 288.3h1v1h-1zM356.9 288.9h1v1h-1zM358.2 270.6h1v1h-1zM358.3 274.2h1v1h-1zM359.0 276.5h1v1h-1zM354.2 271.7h1v1h-1zM357.1 279.7h1v1h-1zM354.5 270.3h1v1h-1zM356.0 296.7h1v1h-1zM353.8 282.4h1v1h-1zM365.1 257.7h1v1h-1zM355.6 270.9h1v1h-1zM354.5 291.7h1v1h-1zM360.5 263.1h1v1h-1zM359.0 279.8h1v1h-1zM356.8 282.5h1v1h-1zM358.4 270.6h1v1h-1zM355.2 301.1h1v1h-1zM358.6 276.2h1v1h-1zM359.8 269.8h1v1h-1zM359.0 276.6h1v1h-1zM358.8 273.4h1v1h-1zM357.6 269.2h1v1h-1zM357.4 268.9h1v1h-1zM350.9 286.9h1v1h-1zM355.4 269.2h1v1h-1zM359.0 270.1h1v1h-1zM364.8 258.9h1v1h-1zM361.2 268.9h1v1h-1zM358.4 269.4h1v1h-1zM356.8 275.3h1v1h-1zM360.7 268.8h1v1h-1zM362.2 261.8h1v1h-1zM355.5 298.5h1v1h-1zM352.2 296.5h1v1h-1zM362.8 263.6h1v1h-1zM353.7 289.9h1v1h-1zM358.7 265.5h1v1h-1zM354.6 286.3h1v1h-1zM361.8 262.6h1v1h-1zM356.3 298.9h1v1h-1zM353.3 281.6h1v1h-1zM361.1 262.9h1v1h-1zM357.8 266.8h1v1h-1zM352.9 295.0h1v1h-1zM359.0 270.6h1v1h-1z" fill="#e8434f" opacity="0.9"/>
<path d="M357.6 299.6h0.9v0.9h-0.9zM350.1 296.7h0.9v0.9h-0.9zM357.1 264.9h0.9v0.9h-0.9zM361.2 266.7h0.9v0.9h-0.9zM358.5 301.3h0.9v0.9h-0.9zM354.2 274.6h0.9v0.9h-0.9zM356.8 290.8h0.9v0.9h-0.9zM367.4 253.9h0.9v0.9h-0.9zM358.4 291.9h0.9v0.9h-0.9zM350.8 280.0h0.9v0.9h-0.9zM359.8 297.0h0.9v0.9h-0.9zM356.9 271.3h0.9v0.9h-0.9zM358.7 300.0h0.9v0.9h-0.9zM351.4 297.5h0.9v0.9h-0.9zM358.2 301.5h0.9v0.9h-0.9zM364.1 263.8h0.9v0.9h-0.9zM349.3 277.2h0.9v0.9h-0.9zM357.1 296.7h0.9v0.9h-0.9zM352.3 302.6h0.9v0.9h-0.9zM356.3 271.6h0.9v0.9h-0.9zM365.6 257.9h0.9v0.9h-0.9zM348.6 287.4h0.9v0.9h-0.9zM354.3 299.9h0.9v0.9h-0.9zM352.4 287.9h0.9v0.9h-0.9zM355.0 268.4h0.9v0.9h-0.9zM353.2 271.9h0.9v0.9h-0.9zM356.1 262.7h0.9v0.9h-0.9zM361.8 258.8h0.9v0.9h-0.9zM355.9 267.4h0.9v0.9h-0.9zM352.6 286.2h0.9v0.9h-0.9zM356.4 303.2h0.9v0.9h-0.9zM356.0 279.6h0.9v0.9h-0.9zM352.4 290.0h0.9v0.9h-0.9zM350.7 301.1h0.9v0.9h-0.9zM362.7 256.0h0.9v0.9h-0.9zM356.1 269.4h0.9v0.9h-0.9zM357.3 274.0h0.9v0.9h-0.9zM353.7 276.0h0.9v0.9h-0.9zM357.2 278.0h0.9v0.9h-0.9zM352.3 292.1h0.9v0.9h-0.9zM349.6 276.1h0.9v0.9h-0.9zM348.7 296.5h0.9v0.9h-0.9zM348.8 279.8h0.9v0.9h-0.9zM352.3 267.9h0.9v0.9h-0.9zM353.7 285.0h0.9v0.9h-0.9zM360.3 294.3h0.9v0.9h-0.9zM352.4 278.8h0.9v0.9h-0.9zM355.6 286.0h0.9v0.9h-0.9zM365.3 260.6h0.9v0.9h-0.9zM354.1 293.9h0.9v0.9h-0.9zM351.6 274.1h0.9v0.9h-0.9zM350.6 283.2h0.9v0.9h-0.9zM352.2 271.2h0.9v0.9h-0.9zM364.0 259.9h0.9v0.9h-0.9zM355.3 268.6h0.9v0.9h-0.9zM354.9 281.4h0.9v0.9h-0.9zM362.6 258.7h0.9v0.9h-0.9zM351.6 285.6h0.9v0.9h-0.9zM355.0 287.8h0.9v0.9h-0.9zM349.4 298.2h0.9v0.9h-0.9zM357.0 285.9h0.9v0.9h-0.9zM353.4 296.8h0.9v0.9h-0.9zM362.8 261.8h0.9v0.9h-0.9zM351.1 292.6h0.9v0.9h-0.9zM348.3 288.7h0.9v0.9h-0.9zM354.7 302.1h0.9v0.9h-0.9zM371.0 252.2h0.9v0.9h-0.9zM356.2 262.9h0.9v0.9h-0.9zM353.1 278.7h0.9v0.9h-0.9zM353.2 288.7h0.9v0.9h-0.9zM356.9 301.5h0.9v0.9h-0.9zM359.5 260.9h0.9v0.9h-0.9zM359.9 291.9h0.9v0.9h-0.9zM351.9 271.1h0.9v0.9h-0.9zM354.8 293.6h0.9v0.9h-0.9zM352.4 280.1h0.9v0.9h-0.9zM358.7 260.4h0.9v0.9h-0.9zM354.4 278.2h0.9v0.9h-0.9zM365.7 257.3h0.9v0.9h-0.9zM352.2 277.2h0.9v0.9h-0.9zM361.4 261.1h0.9v0.9h-0.9zM364.2 256.3h0.9v0.9h-0.9zM361.4 266.3h0.9v0.9h-0.9zM354.9 264.1h0.9v0.9h-0.9zM361.0 257.6h0.9v0.9h-0.9zM353.1 294.1h0.9v0.9h-0.9zM356.6 304.2h0.9v0.9h-0.9zM351.9 274.2h0.9v0.9h-0.9zM356.0 269.1h0.9v0.9h-0.9zM355.5 269.4h0.9v0.9h-0.9zM355.9 289.2h0.9v0.9h-0.9zM356.9 264.0h0.9v0.9h-0.9zM348.6 294.4h0.9v0.9h-0.9zM355.5 266.2h0.9v0.9h-0.9zM350.6 287.9h0.9v0.9h-0.9zM357.5 294.7h0.9v0.9h-0.9zM349.1 285.4h0.9v0.9h-0.9zM351.5 296.4h0.9v0.9h-0.9zM348.7 283.9h0.9v0.9h-0.9zM351.9 271.3h0.9v0.9h-0.9zM356.8 266.2h0.9v0.9h-0.9zM366.0 260.4h0.9v0.9h-0.9zM359.8 278.8h0.9v0.9h-0.9zM355.9 294.2h0.9v0.9h-0.9zM353.4 295.2h0.9v0.9h-0.9zM353.9 287.8h0.9v0.9h-0.9zM349.3 289.3h0.9v0.9h-0.9zM357.1 289.5h0.9v0.9h-0.9zM351.9 286.3h0.9v0.9h-0.9zM354.8 275.4h0.9v0.9h-0.9zM352.7 294.2h0.9v0.9h-0.9zM366.0 256.0h0.9v0.9h-0.9zM353.4 290.0h0.9v0.9h-0.9zM360.7 271.6h0.9v0.9h-0.9zM358.4 297.0h0.9v0.9h-0.9zM358.2 281.9h0.9v0.9h-0.9zM357.9 272.2h0.9v0.9h-0.9zM352.3 285.6h0.9v0.9h-0.9zM356.3 294.4h0.9v0.9h-0.9zM348.8 292.9h0.9v0.9h-0.9z" fill="#e8434f" opacity="0.75"/>
<path d="M365.3 259.3h0.9v0.9h-0.9zM365.3 258.1h0.9v0.9h-0.9zM366.7 254.9h0.9v0.9h-0.9zM365.0 257.8h0.9v0.9h-0.9zM365.8 257.8h0.9v0.9h-0.9zM369.2 252.0h0.9v0.9h-0.9zM365.7 257.3h0.9v0.9h-0.9zM367.5 254.0h0.9v0.9h-0.9zM362.5 263.1h0.9v0.9h-0.9zM362.2 255.6h0.9v0.9h-0.9zM362.2 256.3h0.9v0.9h-0.9zM366.1 255.6h0.9v0.9h-0.9zM365.7 259.0h0.9v0.9h-0.9zM362.7 263.7h0.9v0.9h-0.9zM361.0 263.5h0.9v0.9h-0.9zM366.6 257.4h0.9v0.9h-0.9zM364.4 256.5h0.9v0.9h-0.9zM363.1 261.0h0.9v0.9h-0.9zM358.1 258.2h0.9v0.9h-0.9zM361.5 259.0h0.9v0.9h-0.9zM364.4 260.9h0.9v0.9h-0.9zM360.9 258.7h0.9v0.9h-0.9zM366.6 254.3h0.9v0.9h-0.9zM362.9 258.1h0.9v0.9h-0.9zM361.7 262.1h0.9v0.9h-0.9zM362.8 257.2h0.9v0.9h-0.9zM366.8 254.7h0.9v0.9h-0.9zM361.7 263.1h0.9v0.9h-0.9zM365.7 259.5h0.9v0.9h-0.9zM359.2 257.9h0.9v0.9h-0.9zM361.2 258.1h0.9v0.9h-0.9zM363.2 259.7h0.9v0.9h-0.9zM368.5 255.6h0.9v0.9h-0.9zM364.3 258.5h0.9v0.9h-0.9zM372.9 251.7h0.9v0.9h-0.9zM361.6 260.7h0.9v0.9h-0.9zM363.3 258.8h0.9v0.9h-0.9zM362.0 265.8h0.9v0.9h-0.9zM364.8 257.2h0.9v0.9h-0.9zM361.3 257.4h0.9v0.9h-0.9zM366.3 255.3h0.9v0.9h-0.9zM360.6 261.6h0.9v0.9h-0.9zM370.8 253.3h0.9v0.9h-0.9zM359.1 259.4h0.9v0.9h-0.9zM372.6 252.3h0.9v0.9h-0.9zM365.6 257.6h0.9v0.9h-0.9zM367.6 256.1h0.9v0.9h-0.9zM365.0 258.7h0.9v0.9h-0.9zM363.8 258.3h0.9v0.9h-0.9zM367.2 252.9h0.9v0.9h-0.9zM368.6 254.7h0.9v0.9h-0.9zM368.4 254.5h0.9v0.9h-0.9zM365.6 255.5h0.9v0.9h-0.9zM369.2 253.0h0.9v0.9h-0.9zM369.1 251.8h0.9v0.9h-0.9z" fill="#4a5cc4" opacity="0.85"/>
<path d="M348.9 279.4h0.9v0.9h-0.9zM350.6 283.2h0.9v0.9h-0.9zM352.3 270.8h0.9v0.9h-0.9zM349.0 285.9h0.9v0.9h-0.9zM349.2 281.5h0.9v0.9h-0.9zM349.1 286.6h0.9v0.9h-0.9zM349.0 278.9h0.9v0.9h-0.9zM352.3 271.8h0.9v0.9h-0.9zM350.5 284.6h0.9v0.9h-0.9zM349.5 275.0h0.9v0.9h-0.9zM350.5 270.9h0.9v0.9h-0.9zM349.9 277.7h0.9v0.9h-0.9zM351.6 282.5h0.9v0.9h-0.9zM351.0 287.7h0.9v0.9h-0.9zM350.8 290.8h0.9v0.9h-0.9zM350.8 272.3h0.9v0.9h-0.9zM350.1 284.1h0.9v0.9h-0.9zM351.9 283.3h0.9v0.9h-0.9zM350.2 292.1h0.9v0.9h-0.9zM351.5 286.8h0.9v0.9h-0.9zM350.8 276.4h0.9v0.9h-0.9zM349.4 277.7h0.9v0.9h-0.9zM352.9 270.8h0.9v0.9h-0.9zM351.4 292.4h0.9v0.9h-0.9zM351.2 291.4h0.9v0.9h-0.9zM351.0 270.9h0.9v0.9h-0.9zM348.8 281.5h0.9v0.9h-0.9zM352.1 276.0h0.9v0.9h-0.9zM352.0 275.2h0.9v0.9h-0.9zM349.7 293.7h0.9v0.9h-0.9zM352.2 282.0h0.9v0.9h-0.9zM350.1 290.9h0.9v0.9h-0.9zM349.7 277.2h0.9v0.9h-0.9zM348.9 288.3h0.9v0.9h-0.9zM351.6 276.7h0.9v0.9h-0.9z" fill="#4a5cc4" opacity="0.85"/>
<path d="M364.7 260.2h0.9v0.9h-0.9zM348.9 288.3h0.9v0.9h-0.9zM356.2 283.8h0.9v0.9h-0.9zM350.6 286.9h0.9v0.9h-0.9zM369.7 253.2h0.9v0.9h-0.9zM364.1 255.4h0.9v0.9h-0.9zM367.5 256.4h0.9v0.9h-0.9zM359.3 272.1h0.9v0.9h-0.9zM356.5 284.3h0.9v0.9h-0.9zM357.8 272.4h0.9v0.9h-0.9zM348.4 293.6h0.9v0.9h-0.9zM350.6 278.6h0.9v0.9h-0.9zM364.2 255.8h0.9v0.9h-0.9zM356.8 280.9h0.9v0.9h-0.9zM358.1 259.8h0.9v0.9h-0.9zM354.3 302.8h0.9v0.9h-0.9zM349.3 301.9h0.9v0.9h-0.9zM371.7 252.7h0.9v0.9h-0.9zM351.6 275.9h0.9v0.9h-0.9zM348.5 284.3h0.9v0.9h-0.9zM353.0 266.7h0.9v0.9h-0.9zM356.1 268.0h0.9v0.9h-0.9zM349.5 300.7h0.9v0.9h-0.9zM360.3 267.1h0.9v0.9h-0.9zM362.6 265.2h0.9v0.9h-0.9z" fill="#4a5cc4" opacity="0.7"/>
<path d="M380.2 291 C380.4 289.4 381.2 287 382.5 285.5 C383.8 284 386.1 282.6 388 282 C389.9 281.4 392.8 280.8 393.6 281.8 C394.4 282.8 393.6 286 393 288 C392.4 290 391.3 292.7 390 294 C388.7 295.3 386.5 295.8 385 296 C383.5 296.2 381.8 295.8 381 295 C380.2 294.2 379.9 292.6 380.2 291Z" fill="#e8434f" opacity="0.85" filter="url(#blur0p6)"/>
<path d="M391.1 284.7h0.9v0.9h-0.9zM392.9 287.1h0.9v0.9h-0.9zM390.8 289.7h0.9v0.9h-0.9zM388.9 283.9h0.9v0.9h-0.9zM390.1 290.9h0.9v0.9h-0.9zM392.5 287.2h0.9v0.9h-0.9zM391.6 284.7h0.9v0.9h-0.9zM393.0 286.1h0.9v0.9h-0.9zM391.3 290.4h0.9v0.9h-0.9zM391.0 291.0h0.9v0.9h-0.9zM389.0 291.3h0.9v0.9h-0.9zM389.4 287.9h0.9v0.9h-0.9zM388.1 286.5h0.9v0.9h-0.9zM393.6 281.9h0.9v0.9h-0.9zM388.4 288.3h0.9v0.9h-0.9zM391.9 290.1h0.9v0.9h-0.9zM392.1 290.5h0.9v0.9h-0.9zM391.5 283.4h0.9v0.9h-0.9zM391.1 285.0h0.9v0.9h-0.9zM394.3 287.3h0.9v0.9h-0.9zM392.7 289.3h0.9v0.9h-0.9zM389.2 292.8h0.9v0.9h-0.9zM393.4 288.8h0.9v0.9h-0.9zM390.5 288.1h0.9v0.9h-0.9zM389.4 292.2h0.9v0.9h-0.9zM389.5 287.0h0.9v0.9h-0.9zM391.6 285.4h0.9v0.9h-0.9zM391.6 282.2h0.9v0.9h-0.9zM393.5 282.8h0.9v0.9h-0.9zM388.4 288.6h0.9v0.9h-0.9zM387.5 290.8h0.9v0.9h-0.9zM392.9 284.1h0.9v0.9h-0.9zM390.3 282.6h0.9v0.9h-0.9zM392.0 290.2h0.9v0.9h-0.9zM387.4 289.2h0.9v0.9h-0.9zM393.6 283.7h0.9v0.9h-0.9zM393.8 284.9h0.9v0.9h-0.9zM392.7 283.9h0.9v0.9h-0.9zM393.4 286.9h0.9v0.9h-0.9zM387.6 291.7h0.9v0.9h-0.9zM389.5 283.1h0.9v0.9h-0.9zM390.5 287.7h0.9v0.9h-0.9zM391.4 282.5h0.9v0.9h-0.9zM390.2 290.5h0.9v0.9h-0.9zM392.6 284.3h0.9v0.9h-0.9zM388.6 287.9h0.9v0.9h-0.9zM388.7 289.4h0.9v0.9h-0.9zM389.2 286.0h0.9v0.9h-0.9zM389.9 287.3h0.9v0.9h-0.9zM387.6 292.1h0.9v0.9h-0.9zM387.6 291.9h0.9v0.9h-0.9zM388.8 284.4h0.9v0.9h-0.9zM394.2 286.0h0.9v0.9h-0.9zM389.5 290.8h0.9v0.9h-0.9zM388.7 291.0h0.9v0.9h-0.9zM387.3 291.3h0.9v0.9h-0.9zM391.3 282.8h0.9v0.9h-0.9zM392.1 288.8h0.9v0.9h-0.9zM390.6 291.1h0.9v0.9h-0.9zM388.4 286.2h0.9v0.9h-0.9zM389.0 286.8h0.9v0.9h-0.9zM390.9 287.3h0.9v0.9h-0.9zM387.6 286.1h0.9v0.9h-0.9zM394.0 286.2h0.9v0.9h-0.9zM390.9 293.0h0.9v0.9h-0.9zM389.3 286.0h0.9v0.9h-0.9zM388.1 292.5h0.9v0.9h-0.9zM391.2 288.9h0.9v0.9h-0.9zM391.5 292.7h0.9v0.9h-0.9zM390.9 288.4h0.9v0.9h-0.9z" fill="#4a5cc4" opacity="0.9"/>
<path d="M392.7 292.7h0.8v0.8h-0.8zM393.0 290.7h0.8v0.8h-0.8zM392.8 291.7h0.8v0.8h-0.8zM392.4 291.8h0.8v0.8h-0.8zM391.3 293.5h0.8v0.8h-0.8zM395.1 293.3h0.8v0.8h-0.8zM391.3 296.2h0.8v0.8h-0.8zM392.3 292.9h0.8v0.8h-0.8zM392.6 294.7h0.8v0.8h-0.8zM391.9 296.9h0.8v0.8h-0.8zM391.7 293.6h0.8v0.8h-0.8zM393.1 294.5h0.8v0.8h-0.8z" fill="#4a5cc4" opacity="0.7"/>
<path d="M393.9 249.1h0.8v0.8h-0.8zM402.3 246.3h0.8v0.8h-0.8zM390.2 251.8h0.8v0.8h-0.8zM406.2 246.3h0.8v0.8h-0.8zM387.4 249.1h0.8v0.8h-0.8zM384.4 249.7h0.8v0.8h-0.8zM392.1 247.6h0.8v0.8h-0.8zM379.1 250.1h0.8v0.8h-0.8zM404.6 248.0h0.8v0.8h-0.8zM383.9 253.8h0.8v0.8h-0.8zM380.5 250.3h0.8v0.8h-0.8zM401.8 249.6h0.8v0.8h-0.8zM385.3 250.8h0.8v0.8h-0.8zM386.8 251.7h0.8v0.8h-0.8zM402.1 244.6h0.8v0.8h-0.8zM384.4 251.7h0.8v0.8h-0.8zM393.8 247.2h0.8v0.8h-0.8zM377.3 247.5h0.8v0.8h-0.8zM402.1 251.9h0.8v0.8h-0.8zM382.7 255.5h0.8v0.8h-0.8z" fill="#e8434f" opacity="0.5"/>
<path d="M461.7 281.9h0.9v0.9h-0.9zM461.3 276.8h0.9v0.9h-0.9zM469.3 259.7h0.9v0.9h-0.9zM463.5 275.1h0.9v0.9h-0.9zM465.0 272.6h0.9v0.9h-0.9zM468.6 267.5h0.9v0.9h-0.9zM466.4 270.0h0.9v0.9h-0.9zM462.1 271.6h0.9v0.9h-0.9zM463.9 278.0h0.9v0.9h-0.9zM457.2 276.8h0.9v0.9h-0.9zM467.4 269.9h0.9v0.9h-0.9zM467.6 265.1h0.9v0.9h-0.9zM460.8 277.9h0.9v0.9h-0.9zM463.3 267.4h0.9v0.9h-0.9zM466.5 263.1h0.9v0.9h-0.9zM465.0 272.6h0.9v0.9h-0.9zM461.2 274.9h0.9v0.9h-0.9zM455.3 279.8h0.9v0.9h-0.9zM459.2 282.4h0.9v0.9h-0.9zM462.1 270.6h0.9v0.9h-0.9zM462.5 277.5h0.9v0.9h-0.9zM464.8 263.9h0.9v0.9h-0.9zM463.5 280.6h0.9v0.9h-0.9zM459.7 278.4h0.9v0.9h-0.9zM459.8 267.8h0.9v0.9h-0.9zM463.7 271.0h0.9v0.9h-0.9zM462.1 274.4h0.9v0.9h-0.9zM466.4 262.2h0.9v0.9h-0.9zM462.8 264.0h0.9v0.9h-0.9zM469.0 264.0h0.9v0.9h-0.9zM461.7 280.3h0.9v0.9h-0.9zM458.5 278.4h0.9v0.9h-0.9zM462.4 267.7h0.9v0.9h-0.9zM462.6 279.7h0.9v0.9h-0.9zM464.3 268.5h0.9v0.9h-0.9zM460.5 266.1h0.9v0.9h-0.9zM463.0 281.1h0.9v0.9h-0.9zM468.6 268.5h0.9v0.9h-0.9zM466.7 266.8h0.9v0.9h-0.9zM463.7 270.8h0.9v0.9h-0.9zM460.1 268.0h0.9v0.9h-0.9zM463.2 275.7h0.9v0.9h-0.9zM460.0 278.9h0.9v0.9h-0.9zM468.7 264.0h0.9v0.9h-0.9zM457.5 279.9h0.9v0.9h-0.9zM466.7 268.0h0.9v0.9h-0.9zM468.7 262.0h0.9v0.9h-0.9zM461.0 276.8h0.9v0.9h-0.9zM462.3 278.6h0.9v0.9h-0.9zM466.4 264.2h0.9v0.9h-0.9zM466.2 263.2h0.9v0.9h-0.9zM458.7 275.5h0.9v0.9h-0.9zM459.7 274.2h0.9v0.9h-0.9zM463.1 273.0h0.9v0.9h-0.9zM467.4 263.5h0.9v0.9h-0.9zM464.4 263.7h0.9v0.9h-0.9zM459.8 280.9h0.9v0.9h-0.9zM465.5 262.3h0.9v0.9h-0.9zM460.3 279.6h0.9v0.9h-0.9zM461.2 267.8h0.9v0.9h-0.9zM466.1 261.5h0.9v0.9h-0.9zM468.3 260.4h0.9v0.9h-0.9zM467.5 270.3h0.9v0.9h-0.9zM461.3 268.2h0.9v0.9h-0.9zM464.8 272.0h0.9v0.9h-0.9zM465.6 270.7h0.9v0.9h-0.9zM459.1 270.2h0.9v0.9h-0.9zM458.5 284.6h0.9v0.9h-0.9zM461.4 275.6h0.9v0.9h-0.9zM456.5 277.5h0.9v0.9h-0.9zM463.2 270.9h0.9v0.9h-0.9zM463.2 267.6h0.9v0.9h-0.9zM457.6 275.0h0.9v0.9h-0.9zM458.1 274.2h0.9v0.9h-0.9zM457.4 282.9h0.9v0.9h-0.9zM466.3 268.9h0.9v0.9h-0.9zM459.8 283.8h0.9v0.9h-0.9zM465.0 270.2h0.9v0.9h-0.9zM456.8 282.8h0.9v0.9h-0.9zM462.9 265.2h0.9v0.9h-0.9zM460.0 271.1h0.9v0.9h-0.9zM461.5 282.1h0.9v0.9h-0.9zM455.4 281.4h0.9v0.9h-0.9zM458.1 285.0h0.9v0.9h-0.9zM466.9 265.0h0.9v0.9h-0.9zM463.0 263.5h0.9v0.9h-0.9zM458.5 276.2h0.9v0.9h-0.9zM464.3 275.9h0.9v0.9h-0.9zM465.3 276.0h0.9v0.9h-0.9zM462.2 273.7h0.9v0.9h-0.9z" fill="#e8434f" opacity="0.9"/>
<path d="M465.5 272.9h0.9v0.9h-0.9zM466.4 268.4h0.9v0.9h-0.9zM461.1 272.3h0.9v0.9h-0.9zM462.9 268.7h0.9v0.9h-0.9zM465.1 272.1h0.9v0.9h-0.9zM464.6 269.9h0.9v0.9h-0.9zM463.4 275.9h0.9v0.9h-0.9zM468.1 261.3h0.9v0.9h-0.9zM462.2 271.0h0.9v0.9h-0.9zM462.6 267.8h0.9v0.9h-0.9zM465.3 264.9h0.9v0.9h-0.9zM464.9 271.5h0.9v0.9h-0.9zM462.8 274.8h0.9v0.9h-0.9zM465.4 270.1h0.9v0.9h-0.9zM461.5 278.0h0.9v0.9h-0.9zM462.7 274.7h0.9v0.9h-0.9zM465.8 272.0h0.9v0.9h-0.9zM461.8 272.1h0.9v0.9h-0.9zM461.5 273.3h0.9v0.9h-0.9zM460.6 276.4h0.9v0.9h-0.9zM466.0 270.7h0.9v0.9h-0.9zM464.5 274.5h0.9v0.9h-0.9zM464.0 270.8h0.9v0.9h-0.9zM467.1 264.5h0.9v0.9h-0.9zM461.8 274.9h0.9v0.9h-0.9zM463.1 277.0h0.9v0.9h-0.9zM465.5 265.7h0.9v0.9h-0.9zM464.6 272.1h0.9v0.9h-0.9zM463.9 267.9h0.9v0.9h-0.9zM465.8 269.2h0.9v0.9h-0.9zM466.5 271.0h0.9v0.9h-0.9zM466.7 263.1h0.9v0.9h-0.9zM461.7 279.0h0.9v0.9h-0.9zM464.3 264.8h0.9v0.9h-0.9zM460.1 274.8h0.9v0.9h-0.9zM467.1 268.7h0.9v0.9h-0.9zM463.2 275.6h0.9v0.9h-0.9zM467.5 262.1h0.9v0.9h-0.9zM460.9 271.3h0.9v0.9h-0.9zM462.6 273.6h0.9v0.9h-0.9zM465.4 271.7h0.9v0.9h-0.9zM463.4 273.4h0.9v0.9h-0.9zM463.6 269.5h0.9v0.9h-0.9zM462.7 268.5h0.9v0.9h-0.9zM468.4 260.1h0.9v0.9h-0.9z" fill="#4a5cc4" opacity="0.9"/>
<path d="M570.2 263.1h0.8v0.8h-0.8zM573.4 260.9h0.8v0.8h-0.8zM571.7 261.8h0.8v0.8h-0.8zM563.9 267.1h0.8v0.8h-0.8zM564.8 266.2h0.8v0.8h-0.8zM569.8 265.2h0.8v0.8h-0.8zM563.4 267.8h0.8v0.8h-0.8zM570.7 264.5h0.8v0.8h-0.8zM576.4 259.1h0.8v0.8h-0.8zM568.8 264.7h0.8v0.8h-0.8zM573.2 264.1h0.8v0.8h-0.8zM566.3 266.0h0.8v0.8h-0.8zM568.1 268.1h0.8v0.8h-0.8zM568.4 268.6h0.8v0.8h-0.8zM568.4 268.8h0.8v0.8h-0.8zM576.3 264.0h0.8v0.8h-0.8zM570.2 267.0h0.8v0.8h-0.8zM576.8 263.9h0.8v0.8h-0.8zM566.5 265.0h0.8v0.8h-0.8zM568.3 266.7h0.8v0.8h-0.8zM567.3 266.7h0.8v0.8h-0.8zM576.6 261.9h0.8v0.8h-0.8zM566.2 265.9h0.8v0.8h-0.8zM565.8 268.0h0.8v0.8h-0.8zM579.6 261.0h0.8v0.8h-0.8zM576.6 264.4h0.8v0.8h-0.8zM570.1 263.6h0.8v0.8h-0.8zM564.9 269.0h0.8v0.8h-0.8zM575.7 265.0h0.8v0.8h-0.8zM566.7 265.2h0.8v0.8h-0.8zM570.0 264.6h0.8v0.8h-0.8zM577.9 262.9h0.8v0.8h-0.8zM573.5 265.2h0.8v0.8h-0.8zM577.6 259.6h0.8v0.8h-0.8zM567.5 269.9h0.8v0.8h-0.8zM563.2 267.8h0.8v0.8h-0.8zM580.0 262.6h0.8v0.8h-0.8zM571.3 265.9h0.8v0.8h-0.8zM564.4 267.8h0.8v0.8h-0.8zM570.3 262.9h0.8v0.8h-0.8z" fill="#e8434f" opacity="0.85"/>
<path d="M565.1 281.0h0.8v0.8h-0.8zM563.6 275.9h0.8v0.8h-0.8zM561.2 271.3h0.8v0.8h-0.8zM565.1 297.2h0.8v0.8h-0.8zM567.9 276.5h0.8v0.8h-0.8zM561.6 270.8h0.8v0.8h-0.8zM560.8 294.3h0.8v0.8h-0.8zM562.8 279.8h0.8v0.8h-0.8zM561.6 290.4h0.8v0.8h-0.8zM561.5 298.5h0.8v0.8h-0.8zM560.2 297.7h0.8v0.8h-0.8zM563.3 282.2h0.8v0.8h-0.8zM564.0 275.6h0.8v0.8h-0.8zM567.3 284.6h0.8v0.8h-0.8zM564.4 295.9h0.8v0.8h-0.8z" fill="#e8434f" opacity="0.7"/>
<path d="M596.6 277.1h0.8v0.8h-0.8zM591.2 267.4h0.8v0.8h-0.8zM592.1 271.2h0.8v0.8h-0.8zM592.6 278.2h0.8v0.8h-0.8zM592.1 269.0h0.8v0.8h-0.8zM594.0 267.7h0.8v0.8h-0.8zM597.1 270.9h0.8v0.8h-0.8zM598.0 268.3h0.8v0.8h-0.8zM594.0 278.9h0.8v0.8h-0.8zM599.3 266.0h0.8v0.8h-0.8z" fill="#e8434f" opacity="0.6"/>
<path d="M698.0 264.6h0.8v0.8h-0.8zM695.1 264.5h0.8v0.8h-0.8zM695.7 264.0h0.8v0.8h-0.8zM696.4 265.4h0.8v0.8h-0.8zM700.9 259.2h0.8v0.8h-0.8zM693.1 261.8h0.8v0.8h-0.8zM698.1 258.3h0.8v0.8h-0.8zM701.2 259.6h0.8v0.8h-0.8zM697.8 257.5h0.8v0.8h-0.8zM699.6 260.9h0.8v0.8h-0.8z" fill="#e8434f" opacity="0.7"/>
</g>
<use href="#t_0545" transform="translate(-63.1 121.6)"/>
<use href="#t_0555" transform="translate(-97.4 120.9)"/>
<use href="#t_1555" transform="translate(-132.2 121.8)"/>
<use href="#t2555n" transform="translate(-177.1 122.3)"/>
<path d="M183.5 412.4 C183.4 413.5 183.5 418.8 184.2 421 C184.9 423.2 187.6 427.2 188.6 428.8 C189.6 430.4 191 432.1 192 432.7 C193 433.3 195.8 433.3 196.4 433.1 C197 432.9 196.9 432.3 196.2 431.4 C195.5 430.5 192.1 427.7 190.8 426.1 C189.5 424.5 187.3 421.5 186.5 419.7 C185.7 417.9 185.4 413.4 185 412.4 C184.6 411.4 183.6 411.3 183.5 412.4Z" fill="#000000" stroke="none" stroke-width="0"/>
<use href="#t_358" transform="translate(-221.5 119.5)"/>
<use href="#t_4655" transform="translate(-265.5 122.5)"/>
<use href="#t_5455" transform="translate(-313.3 121.4)"/>
<path d="M40.0 396.9h0.9v0.9h-0.9zM45.6 394.8h0.9v0.9h-0.9zM40.6 397.9h0.9v0.9h-0.9zM47.7 395.1h0.9v0.9h-0.9zM44.1 392.4h0.9v0.9h-0.9zM38.0 393.7h0.9v0.9h-0.9zM47.5 392.3h0.9v0.9h-0.9zM50.0 397.4h0.9v0.9h-0.9z" fill="#f5b935" opacity="0.6"/>
<path d="M87.0 372.0h0.9v0.9h-0.9zM66.8 368.3h0.9v0.9h-0.9zM88.8 368.8h0.9v0.9h-0.9zM69.7 374.6h0.9v0.9h-0.9zM76.9 371.2h0.9v0.9h-0.9zM74.2 370.3h0.9v0.9h-0.9zM86.8 367.1h0.9v0.9h-0.9zM84.7 366.7h0.9v0.9h-0.9zM79.9 373.5h0.9v0.9h-0.9zM68.9 370.2h0.9v0.9h-0.9zM85.8 366.6h0.9v0.9h-0.9zM75.8 368.7h0.9v0.9h-0.9zM76.8 369.0h0.9v0.9h-0.9zM77.9 370.4h0.9v0.9h-0.9zM79.2 373.7h0.9v0.9h-0.9zM71.3 371.9h0.9v0.9h-0.9zM79.4 372.1h0.9v0.9h-0.9zM74.3 371.8h0.9v0.9h-0.9zM84.6 368.9h0.9v0.9h-0.9zM82.4 372.8h0.9v0.9h-0.9zM89.1 371.7h0.9v0.9h-0.9zM87.2 370.4h0.9v0.9h-0.9zM75.0 367.2h0.9v0.9h-0.9zM87.0 366.1h0.9v0.9h-0.9zM84.6 370.3h0.9v0.9h-0.9zM86.1 364.7h0.9v0.9h-0.9zM72.2 367.8h0.9v0.9h-0.9zM76.1 366.2h0.9v0.9h-0.9zM67.7 368.4h0.9v0.9h-0.9zM83.9 370.2h0.9v0.9h-0.9z" fill="#f5b935" opacity="0.55"/>
<path d="M77 393 C78 390.2 81.7 390.2 84 390 C86.3 389.8 89.7 390.3 91 392 C92.3 393.7 92.8 397.5 92 400 C91.2 402.5 88.3 405.8 86 407 C83.7 408.2 79.5 409.3 78 407 C76.5 404.7 76 395.8 77 393Z" fill="#f5b935" opacity="0.15" filter="url(#blur1p5)"/>
<path d="M84.7 403.6h0.9v0.9h-0.9zM76.5 393.2h0.9v0.9h-0.9zM90.6 401.0h0.9v0.9h-0.9zM83.1 400.6h0.9v0.9h-0.9zM90.1 395.2h0.9v0.9h-0.9zM84.9 394.5h0.9v0.9h-0.9zM86.7 406.0h0.9v0.9h-0.9zM85.7 394.1h0.9v0.9h-0.9zM82.7 408.2h0.9v0.9h-0.9zM91.0 391.7h0.9v0.9h-0.9zM76.4 397.9h0.9v0.9h-0.9zM78.3 406.3h0.9v0.9h-0.9zM86.9 391.5h0.9v0.9h-0.9zM84.9 395.5h0.9v0.9h-0.9zM84.2 393.4h0.9v0.9h-0.9zM78.8 392.7h0.9v0.9h-0.9zM82.3 403.2h0.9v0.9h-0.9zM85.1 389.9h0.9v0.9h-0.9zM87.8 406.5h0.9v0.9h-0.9zM88.9 404.8h0.9v0.9h-0.9zM77.1 404.3h0.9v0.9h-0.9zM78.9 403.2h0.9v0.9h-0.9zM80.2 402.9h0.9v0.9h-0.9zM82.5 395.2h0.9v0.9h-0.9zM91.0 394.9h0.9v0.9h-0.9zM84.4 400.0h0.9v0.9h-0.9zM86.0 399.2h0.9v0.9h-0.9zM81.1 403.0h0.9v0.9h-0.9zM84.7 400.2h0.9v0.9h-0.9zM77.1 405.3h0.9v0.9h-0.9zM92.2 396.1h0.9v0.9h-0.9zM77.2 405.3h0.9v0.9h-0.9zM88.6 398.0h0.9v0.9h-0.9zM86.7 397.9h0.9v0.9h-0.9zM84.6 396.8h0.9v0.9h-0.9zM82.7 393.5h0.9v0.9h-0.9zM76.8 397.7h0.9v0.9h-0.9zM80.1 403.1h0.9v0.9h-0.9zM89.6 403.5h0.9v0.9h-0.9zM83.6 393.7h0.9v0.9h-0.9zM82.4 398.7h0.9v0.9h-0.9zM86.5 408.3h0.9v0.9h-0.9zM77.4 398.6h0.9v0.9h-0.9zM84.2 403.3h0.9v0.9h-0.9zM86.4 404.2h0.9v0.9h-0.9zM87.1 406.2h0.9v0.9h-0.9zM87.6 402.7h0.9v0.9h-0.9zM80.1 407.3h0.9v0.9h-0.9zM82.4 401.3h0.9v0.9h-0.9zM81.2 395.2h0.9v0.9h-0.9zM82.5 391.9h0.9v0.9h-0.9zM85.2 390.6h0.9v0.9h-0.9zM81.0 407.9h0.9v0.9h-0.9zM88.3 398.2h0.9v0.9h-0.9zM87.7 393.1h0.9v0.9h-0.9zM81.6 401.8h0.9v0.9h-0.9zM87.3 394.2h0.9v0.9h-0.9zM91.8 395.4h0.9v0.9h-0.9zM80.2 405.9h0.9v0.9h-0.9zM78.5 402.6h0.9v0.9h-0.9z" fill="#f5b935" opacity="0.7"/>
<path d="M52.0 409.6h0.9v0.9h-0.9zM52.8 406.1h0.9v0.9h-0.9zM54.4 409.9h0.9v0.9h-0.9zM52.8 402.8h0.9v0.9h-0.9zM53.8 404.4h0.9v0.9h-0.9zM51.9 415.4h0.9v0.9h-0.9zM59.3 411.3h0.9v0.9h-0.9zM57.0 403.8h0.9v0.9h-0.9zM50.9 404.9h0.9v0.9h-0.9zM54.5 414.3h0.9v0.9h-0.9zM53.7 402.2h0.9v0.9h-0.9zM57.9 413.2h0.9v0.9h-0.9zM55.3 400.8h0.9v0.9h-0.9zM51.9 406.4h0.9v0.9h-0.9zM55.5 403.6h0.9v0.9h-0.9zM58.0 413.5h0.9v0.9h-0.9zM59.3 414.1h0.9v0.9h-0.9zM57.5 412.1h0.9v0.9h-0.9zM58.2 409.7h0.9v0.9h-0.9zM56.2 407.5h0.9v0.9h-0.9z" fill="#f5b935" opacity="0.6"/>
<path d="M118 405 C116.7 402.5 117.8 394.5 119 390 C120.2 385.5 122.3 381.3 125 378 C127.7 374.7 130.8 372 135 370 C139.2 368 145.8 366.6 150 366 C154.2 365.4 160 365.5 160 366.5 C160 367.5 153.7 370.1 150 372 C146.3 373.9 141.3 375 138 378 C134.7 381 131.8 385.5 130 390 C128.2 394.5 129 402.5 127 405 C125 407.5 119.3 407.5 118 405Z" fill="#f7d88a" opacity="0.3" filter="url(#blur1p5)"/>
<path d="M128.7 379.7h0.9v0.9h-0.9zM130.0 393.4h0.9v0.9h-0.9zM157.8 365.6h0.9v0.9h-0.9zM119.2 387.6h0.9v0.9h-0.9zM147.9 371.5h0.9v0.9h-0.9zM117.7 386.8h0.9v0.9h-0.9zM145.5 370.7h0.9v0.9h-0.9zM123.6 404.5h0.9v0.9h-0.9zM147.9 372.9h0.9v0.9h-0.9zM153.3 362.6h0.9v0.9h-0.9zM146.4 370.1h0.9v0.9h-0.9zM119.9 382.3h0.9v0.9h-0.9zM124.4 389.0h0.9v0.9h-0.9zM117.2 395.3h0.9v0.9h-0.9zM136.2 380.9h0.9v0.9h-0.9zM139.0 375.3h0.9v0.9h-0.9zM125.3 373.4h0.9v0.9h-0.9zM133.6 374.5h0.9v0.9h-0.9zM145.8 369.3h0.9v0.9h-0.9zM126.3 372.3h0.9v0.9h-0.9zM126.2 396.3h0.9v0.9h-0.9zM133.3 371.7h0.9v0.9h-0.9zM146.8 363.1h0.9v0.9h-0.9zM133.2 379.3h0.9v0.9h-0.9zM126.5 401.5h0.9v0.9h-0.9zM116.9 394.2h0.9v0.9h-0.9zM137.4 373.1h0.9v0.9h-0.9zM120.1 386.5h0.9v0.9h-0.9zM123.8 402.0h0.9v0.9h-0.9zM131.4 378.4h0.9v0.9h-0.9zM141.1 367.8h0.9v0.9h-0.9zM125.5 397.0h0.9v0.9h-0.9zM141.3 366.2h0.9v0.9h-0.9zM127.4 392.0h0.9v0.9h-0.9zM117.6 386.9h0.9v0.9h-0.9zM143.2 371.1h0.9v0.9h-0.9zM159.5 366.0h0.9v0.9h-0.9zM123.7 379.0h0.9v0.9h-0.9zM120.3 378.2h0.9v0.9h-0.9zM123.0 377.4h0.9v0.9h-0.9zM121.3 395.1h0.9v0.9h-0.9zM136.8 373.6h0.9v0.9h-0.9zM125.3 386.7h0.9v0.9h-0.9zM130.3 378.5h0.9v0.9h-0.9zM136.0 372.0h0.9v0.9h-0.9zM147.4 373.5h0.9v0.9h-0.9zM133.6 376.0h0.9v0.9h-0.9zM123.9 381.8h0.9v0.9h-0.9zM129.9 368.5h0.9v0.9h-0.9zM134.2 368.8h0.9v0.9h-0.9zM118.3 393.8h0.9v0.9h-0.9zM121.2 387.5h0.9v0.9h-0.9zM129.9 384.3h0.9v0.9h-0.9zM121.4 379.4h0.9v0.9h-0.9zM122.3 379.3h0.9v0.9h-0.9zM123.8 379.3h0.9v0.9h-0.9zM145.2 370.4h0.9v0.9h-0.9zM151.8 366.9h0.9v0.9h-0.9zM127.9 372.8h0.9v0.9h-0.9zM131.1 377.2h0.9v0.9h-0.9zM120.0 397.7h0.9v0.9h-0.9zM123.8 389.4h0.9v0.9h-0.9zM121.7 402.2h0.9v0.9h-0.9zM150.0 363.6h0.9v0.9h-0.9zM130.6 369.1h0.9v0.9h-0.9zM124.8 376.9h0.9v0.9h-0.9zM123.5 382.6h0.9v0.9h-0.9zM130.7 375.1h0.9v0.9h-0.9zM121.5 388.7h0.9v0.9h-0.9zM125.5 374.0h0.9v0.9h-0.9zM132.1 376.6h0.9v0.9h-0.9zM128.4 395.6h0.9v0.9h-0.9zM158.5 366.7h0.9v0.9h-0.9zM141.1 374.4h0.9v0.9h-0.9zM128.1 405.3h0.9v0.9h-0.9zM121.4 376.7h0.9v0.9h-0.9zM127.1 383.5h0.9v0.9h-0.9zM133.7 371.8h0.9v0.9h-0.9zM118.8 380.1h0.9v0.9h-0.9zM133.6 379.1h0.9v0.9h-0.9zM127.0 371.3h0.9v0.9h-0.9zM126.6 400.5h0.9v0.9h-0.9zM124.1 391.8h0.9v0.9h-0.9zM123.9 381.8h0.9v0.9h-0.9zM124.8 391.3h0.9v0.9h-0.9zM125.6 387.7h0.9v0.9h-0.9zM131.8 367.8h0.9v0.9h-0.9zM138.4 366.2h0.9v0.9h-0.9zM140.6 374.5h0.9v0.9h-0.9zM132.8 386.9h0.9v0.9h-0.9zM118.5 401.7h0.9v0.9h-0.9zM138.2 375.6h0.9v0.9h-0.9zM131.5 373.4h0.9v0.9h-0.9zM122.6 389.3h0.9v0.9h-0.9zM151.4 369.3h0.9v0.9h-0.9zM126.7 375.8h0.9v0.9h-0.9zM150.3 364.6h0.9v0.9h-0.9zM120.4 391.1h0.9v0.9h-0.9zM132.2 380.7h0.9v0.9h-0.9zM117.2 389.0h0.9v0.9h-0.9z" fill="#f5b935" opacity="0.5"/>
<path d="M131 409 C132 407.3 135.1 405.5 137 406 C138.9 406.5 141.7 409.7 142.5 412 C143.3 414.3 143.1 418.3 142 420 C140.9 421.7 137.8 422.7 136 422 C134.2 421.3 131.8 418.2 131 416 C130.2 413.8 130 410.7 131 409Z" fill="#f5b935" opacity="0.25" filter="url(#blur1p2)"/>
<path d="M137.7 415.6h0.9v0.9h-0.9zM134.4 417.7h0.9v0.9h-0.9zM139.9 421.4h0.9v0.9h-0.9zM138.1 409.9h0.9v0.9h-0.9zM140.4 410.5h0.9v0.9h-0.9zM138.4 408.0h0.9v0.9h-0.9zM141.9 412.0h0.9v0.9h-0.9zM137.3 419.2h0.9v0.9h-0.9zM139.7 419.1h0.9v0.9h-0.9zM141.1 411.2h0.9v0.9h-0.9zM136.6 419.1h0.9v0.9h-0.9zM133.5 413.7h0.9v0.9h-0.9zM138.9 420.3h0.9v0.9h-0.9zM133.4 417.0h0.9v0.9h-0.9zM133.0 407.8h0.9v0.9h-0.9zM136.7 416.7h0.9v0.9h-0.9zM139.0 422.1h0.9v0.9h-0.9zM132.3 414.5h0.9v0.9h-0.9zM136.7 409.7h0.9v0.9h-0.9zM139.0 416.8h0.9v0.9h-0.9zM138.9 408.6h0.9v0.9h-0.9zM134.4 420.6h0.9v0.9h-0.9zM131.8 411.3h0.9v0.9h-0.9zM135.9 422.2h0.9v0.9h-0.9zM134.2 411.9h0.9v0.9h-0.9zM134.8 414.9h0.9v0.9h-0.9zM137.4 416.4h0.9v0.9h-0.9zM138.1 412.3h0.9v0.9h-0.9zM139.0 410.7h0.9v0.9h-0.9zM138.5 415.3h0.9v0.9h-0.9zM139.4 413.2h0.9v0.9h-0.9zM137.4 420.0h0.9v0.9h-0.9zM137.3 412.8h0.9v0.9h-0.9zM139.0 407.7h0.9v0.9h-0.9zM142.2 414.3h0.9v0.9h-0.9zM136.0 409.8h0.9v0.9h-0.9zM136.6 417.1h0.9v0.9h-0.9zM140.2 411.2h0.9v0.9h-0.9zM136.1 417.5h0.9v0.9h-0.9zM136.8 419.6h0.9v0.9h-0.9zM137.2 422.6h0.9v0.9h-0.9zM141.4 418.0h0.9v0.9h-0.9zM136.9 416.0h0.9v0.9h-0.9zM135.3 406.4h0.9v0.9h-0.9zM142.4 419.5h0.9v0.9h-0.9zM140.7 420.5h0.9v0.9h-0.9zM136.6 422.7h0.9v0.9h-0.9zM138.0 419.7h0.9v0.9h-0.9zM137.3 419.2h0.9v0.9h-0.9zM135.2 417.2h0.9v0.9h-0.9zM141.2 415.8h0.9v0.9h-0.9zM131.0 408.7h0.9v0.9h-0.9zM139.7 421.6h0.9v0.9h-0.9zM135.6 416.2h0.9v0.9h-0.9zM136.9 416.0h0.9v0.9h-0.9zM140.9 420.3h0.9v0.9h-0.9zM139.0 411.2h0.9v0.9h-0.9zM140.9 410.6h0.9v0.9h-0.9zM138.7 416.3h0.9v0.9h-0.9zM131.3 408.2h0.9v0.9h-0.9zM135.0 412.1h0.9v0.9h-0.9zM140.0 409.7h0.9v0.9h-0.9zM137.8 413.1h0.9v0.9h-0.9zM134.3 416.6h0.9v0.9h-0.9zM136.1 422.6h0.9v0.9h-0.9zM138.9 413.3h0.9v0.9h-0.9zM141.2 411.3h0.9v0.9h-0.9zM140.0 414.6h0.9v0.9h-0.9zM134.4 413.6h0.9v0.9h-0.9zM140.7 420.8h0.9v0.9h-0.9z" fill="#f5b935" opacity="0.75"/>
<circle cx="180.1" cy="397.6" r="4.1" fill="#f5b935" opacity="0.95"/><circle cx="179.6" cy="404.4" r="3.0" fill="#f5b935" opacity="0.9"/>
<path d="M176.0 397.1h0.7v0.7h-0.7zM175.9 394.1h0.7v0.7h-0.7zM173.9 398.1h0.7v0.7h-0.7zM176.1 402.1h0.7v0.7h-0.7zM174.6 403.4h0.7v0.7h-0.7zM172.4 398.2h0.7v0.7h-0.7zM170.7 396.9h0.7v0.7h-0.7zM171.4 402.2h0.7v0.7h-0.7zM174.2 398.2h0.7v0.7h-0.7zM170.8 398.3h0.7v0.7h-0.7zM173.9 394.0h0.7v0.7h-0.7zM176.8 397.1h0.7v0.7h-0.7zM173.0 396.0h0.7v0.7h-0.7zM172.6 395.9h0.7v0.7h-0.7zM176.0 393.0h0.7v0.7h-0.7zM172.6 400.4h0.7v0.7h-0.7zM173.4 396.5h0.7v0.7h-0.7zM173.4 392.9h0.7v0.7h-0.7zM172.2 398.1h0.7v0.7h-0.7zM175.4 398.0h0.7v0.7h-0.7zM172.9 401.2h0.7v0.7h-0.7zM171.9 399.7h0.7v0.7h-0.7zM171.4 400.6h0.7v0.7h-0.7zM173.8 401.2h0.7v0.7h-0.7zM176.1 403.1h0.7v0.7h-0.7z" fill="#f5b935" opacity="0.5"/>
<path d="M186.8 396.2h0.9v0.9h-0.9zM186.2 400.0h0.9v0.9h-0.9zM176.2 400.2h0.9v0.9h-0.9zM185.7 409.2h0.9v0.9h-0.9zM183.7 397.4h0.9v0.9h-0.9zM172.0 395.7h0.9v0.9h-0.9zM181.4 404.6h0.9v0.9h-0.9zM171.1 392.1h0.9v0.9h-0.9zM186.9 398.1h0.9v0.9h-0.9zM170.7 400.4h0.9v0.9h-0.9zM171.7 406.7h0.9v0.9h-0.9zM179.0 403.0h0.9v0.9h-0.9zM185.8 394.2h0.9v0.9h-0.9zM173.7 406.2h0.9v0.9h-0.9zM180.3 399.9h0.9v0.9h-0.9zM176.1 403.1h0.9v0.9h-0.9zM186.1 409.1h0.9v0.9h-0.9zM185.6 409.6h0.9v0.9h-0.9zM172.2 392.5h0.9v0.9h-0.9zM184.1 396.4h0.9v0.9h-0.9zM178.9 400.4h0.9v0.9h-0.9zM186.6 400.0h0.9v0.9h-0.9zM172.3 395.7h0.9v0.9h-0.9zM185.4 406.7h0.9v0.9h-0.9zM172.4 409.3h0.9v0.9h-0.9z" fill="#f5b935" opacity="0.7"/>
<path d="M204.5 411.9h1v1h-1zM205.3 412.4h1v1h-1zM205.0 409.1h1v1h-1zM205.2 412.4h1v1h-1zM204.6 412.3h1v1h-1z" fill="#f5b935" opacity="0.8"/>
<path d="M202.2 424.8h1v1h-1zM201.8 424.1h1v1h-1zM202.5 427.8h1v1h-1zM203.0 426.8h1v1h-1zM200.9 424.8h1v1h-1z" fill="#f5b935" opacity="0.8"/>
<path d="M267.5 418.6h0.9v0.9h-0.9zM264.1 424.4h0.9v0.9h-0.9zM264.8 421.9h0.9v0.9h-0.9zM269.9 417.5h0.9v0.9h-0.9zM265.6 418.0h0.9v0.9h-0.9zM267.3 425.8h0.9v0.9h-0.9zM264.9 416.9h0.9v0.9h-0.9zM269.4 417.3h0.9v0.9h-0.9zM268.0 422.7h0.9v0.9h-0.9zM264.0 414.3h0.9v0.9h-0.9zM268.6 425.0h0.9v0.9h-0.9zM268.2 419.6h0.9v0.9h-0.9zM264.6 420.3h0.9v0.9h-0.9zM264.7 417.9h0.9v0.9h-0.9z" fill="#f5b935" opacity="0.7"/>
<path d="M325.9 385.7h0.8v0.8h-0.8zM330.2 389.1h0.8v0.8h-0.8zM328.0 386.1h0.8v0.8h-0.8zM334.7 396.2h0.8v0.8h-0.8zM324.9 388.6h0.8v0.8h-0.8zM332.9 392.4h0.8v0.8h-0.8zM327.6 390.7h0.8v0.8h-0.8zM328.0 381.8h0.8v0.8h-0.8zM322.2 387.1h0.8v0.8h-0.8zM330.1 388.4h0.8v0.8h-0.8zM330.6 387.8h0.8v0.8h-0.8zM326.7 388.5h0.8v0.8h-0.8z" fill="#f5b935" opacity="0.5"/>
<path d="M352.7 380.6h0.8v0.8h-0.8zM348.7 387.1h0.8v0.8h-0.8zM350.0 382.7h0.8v0.8h-0.8zM348.7 397.7h0.8v0.8h-0.8zM341.6 397.4h0.8v0.8h-0.8zM355.5 387.0h0.8v0.8h-0.8zM341.3 387.9h0.8v0.8h-0.8zM352.0 393.6h0.8v0.8h-0.8zM341.8 390.1h0.8v0.8h-0.8zM342.4 380.0h0.8v0.8h-0.8z" fill="#f5b935" opacity="0.5"/>
<use href="#t_1555" transform="translate(224.1 120.6)"/>
<use href="#t_1555" transform="translate(284.8 121.7)"/>
<use href="#t2555n" transform="translate(242.3 121)"/>
<path d="M606.5 403.5 C606.5 404.7 607.3 411.7 607.8 413.5 C608.3 415.3 609.8 417.1 610.4 418.6 C611 420.1 611.9 424.4 612.8 426 C613.7 427.6 617 431.1 618.2 432.2 C619.4 433.3 621.7 434.9 622.8 435.2 C623.9 435.5 627.3 434.9 627.6 434.6 C627.9 434.3 625.9 433.2 625.1 432.6 C624.3 432 621.6 430.4 620.5 429.5 C619.4 428.6 616.8 426.1 615.8 424.8 C614.8 423.5 612.4 419.6 611.6 418.2 C610.8 416.8 609.2 414.3 608.7 412.6 C608.2 410.9 607.9 404.6 607.6 403.5 C607.3 402.4 606.5 402.3 606.5 403.5Z" fill="#000000" stroke="none" stroke-width="0"/>
<use href="#t_2555" transform="translate(290.8 121)"/>
<path d="M482.1 403.8h0.9v0.9h-0.9zM484.4 407.8h0.9v0.9h-0.9zM482.8 403.8h0.9v0.9h-0.9zM483.4 408.3h0.9v0.9h-0.9zM482.9 408.2h0.9v0.9h-0.9zM486.0 404.0h0.9v0.9h-0.9z" fill="#76c95a" opacity="0.6"/>
<path d="M537.4 390.4h0.9v0.9h-0.9zM534.0 389.0h0.9v0.9h-0.9zM534.1 387.6h0.9v0.9h-0.9zM537.8 391.6h0.9v0.9h-0.9zM535.6 387.4h0.9v0.9h-0.9zM540.7 392.8h0.9v0.9h-0.9zM534.2 394.6h0.9v0.9h-0.9zM539.3 387.3h0.9v0.9h-0.9zM538.4 387.6h0.9v0.9h-0.9zM532.4 389.0h0.9v0.9h-0.9zM535.3 389.8h0.9v0.9h-0.9zM538.5 395.0h0.9v0.9h-0.9zM535.1 387.1h0.9v0.9h-0.9zM538.2 391.5h0.9v0.9h-0.9zM538.7 386.1h0.9v0.9h-0.9zM533.9 396.1h0.9v0.9h-0.9zM538.0 393.3h0.9v0.9h-0.9zM533.0 389.8h0.9v0.9h-0.9zM541.1 392.8h0.9v0.9h-0.9zM536.5 394.6h0.9v0.9h-0.9zM536.4 394.5h0.9v0.9h-0.9zM537.6 386.4h0.9v0.9h-0.9zM535.4 393.6h0.9v0.9h-0.9zM540.5 390.7h0.9v0.9h-0.9zM537.0 394.5h0.9v0.9h-0.9zM534.8 389.5h0.9v0.9h-0.9zM538.1 392.6h0.9v0.9h-0.9zM533.4 393.7h0.9v0.9h-0.9zM539.7 388.1h0.9v0.9h-0.9zM535.8 388.4h0.9v0.9h-0.9zM534.1 387.3h0.9v0.9h-0.9zM540.2 388.6h0.9v0.9h-0.9zM533.8 390.5h0.9v0.9h-0.9zM538.9 391.3h0.9v0.9h-0.9zM540.6 389.8h0.9v0.9h-0.9zM537.2 393.6h0.9v0.9h-0.9zM536.6 393.6h0.9v0.9h-0.9zM536.7 386.6h0.9v0.9h-0.9zM538.9 392.0h0.9v0.9h-0.9zM533.7 395.2h0.9v0.9h-0.9zM533.2 390.1h0.9v0.9h-0.9zM533.4 389.6h0.9v0.9h-0.9zM535.1 390.1h0.9v0.9h-0.9zM539.1 391.5h0.9v0.9h-0.9zM534.4 394.3h0.9v0.9h-0.9z" fill="#76c95a" opacity="0.6"/>
<path d="M593 388 C593.6 386.7 595.8 385.8 597.5 385.5 C599.2 385.2 601.4 385.6 603 386.5 C604.6 387.4 606.3 389.3 607 391 C607.7 392.7 608 395.1 607.3 396.5 C606.6 397.9 604.5 399.4 603 399.7 C601.5 400 599.5 399.5 598 398.5 C596.5 397.5 594.8 395.2 594 393.5 C593.2 391.8 592.4 389.3 593 388Z" fill="#92d17c" opacity="0.8" filter="url(#blur0p8)"/>
<path d="M603.3 396.6h0.8v0.8h-0.8zM598.1 390.6h0.8v0.8h-0.8zM604.4 390.4h0.8v0.8h-0.8zM595.8 388.0h0.8v0.8h-0.8zM597.8 394.8h0.8v0.8h-0.8zM598.2 395.8h0.8v0.8h-0.8zM593.9 388.5h0.8v0.8h-0.8zM601.7 391.7h0.8v0.8h-0.8zM600.0 398.1h0.8v0.8h-0.8zM596.9 387.5h0.8v0.8h-0.8zM597.2 391.6h0.8v0.8h-0.8zM598.3 395.6h0.8v0.8h-0.8zM601.1 390.6h0.8v0.8h-0.8zM603.9 388.3h0.8v0.8h-0.8zM601.5 396.9h0.8v0.8h-0.8zM600.6 389.5h0.8v0.8h-0.8zM595.6 390.2h0.8v0.8h-0.8zM600.6 398.2h0.8v0.8h-0.8zM602.4 392.3h0.8v0.8h-0.8zM605.0 389.3h0.8v0.8h-0.8zM598.4 394.5h0.8v0.8h-0.8zM600.8 388.1h0.8v0.8h-0.8zM598.7 396.5h0.8v0.8h-0.8zM596.4 394.9h0.8v0.8h-0.8zM602.6 389.5h0.8v0.8h-0.8zM606.8 396.2h0.8v0.8h-0.8zM593.9 388.5h0.8v0.8h-0.8zM598.7 392.5h0.8v0.8h-0.8zM599.2 387.0h0.8v0.8h-0.8zM599.2 391.7h0.8v0.8h-0.8zM599.7 394.6h0.8v0.8h-0.8zM605.6 396.6h0.8v0.8h-0.8zM603.2 389.7h0.8v0.8h-0.8zM601.0 397.7h0.8v0.8h-0.8zM597.5 390.4h0.8v0.8h-0.8zM598.9 398.2h0.8v0.8h-0.8zM602.6 396.7h0.8v0.8h-0.8zM599.3 390.6h0.8v0.8h-0.8zM604.4 395.3h0.8v0.8h-0.8zM605.7 395.3h0.8v0.8h-0.8z" fill="#6cbd55" opacity="0.6"/>
<path d="M645.2 394.4h0.9v0.9h-0.9zM642.0 397.3h0.9v0.9h-0.9zM641.1 392.1h0.9v0.9h-0.9zM642.3 398.0h0.9v0.9h-0.9zM644.8 392.0h0.9v0.9h-0.9zM640.4 392.8h0.9v0.9h-0.9zM640.1 398.7h0.9v0.9h-0.9zM640.8 393.5h0.9v0.9h-0.9zM639.5 394.5h0.9v0.9h-0.9zM643.0 393.7h0.9v0.9h-0.9zM638.7 392.8h0.9v0.9h-0.9zM639.3 398.2h0.9v0.9h-0.9z" fill="#76c95a" opacity="0.5"/>
<text x="23.7" y="344.5" font-size="10" fill="#222">2.445</text>
<text x="118.8" y="344.5" font-size="10" fill="#222">0.545</text>
<text x="212.9" y="344.5" font-size="10" fill="#222">-0.555</text>
<text x="308" y="344.5" font-size="10" fill="#222">-1.555</text>
<text x="403.9" y="344.5" font-size="10" fill="#222">-2.555</text>
<text x="502.8" y="344.5" font-size="10" fill="#222">-3.58</text>
<text x="595.8" y="344.5" font-size="10" fill="#222">-4.655</text>
<text x="690.4" y="344.5" font-size="10" fill="#222">-5.455</text>
<text x="18.1" y="468.3" font-size="10" fill="#222">0.545</text>
<text x="67.9" y="468.3" font-size="10" fill="#222">-0.48</text>
<text x="117.3" y="468.3" font-size="10" fill="#222">-1.355</text>
<text x="168.6" y="468.3" font-size="10" fill="#222">-2.355</text>
<text x="238.6" y="468.3" font-size="10" fill="#222">-3.58</text>
<text x="303.2" y="468.3" font-size="10" fill="#222">-4.555</text>
<text x="375.5" y="468.3" font-size="10" fill="#222">-5.455</text>
<text x="487.2" y="468.3" font-size="10" fill="#222">-1.655</text>
<text x="542.8" y="468.3" font-size="10" fill="#222">-1.855</text>
<text x="599.8" y="468.3" font-size="10" fill="#222">-2.255</text>
<text x="687.8" y="468.3" font-size="10" fill="#222">-2.48</text>
<line x1="59.8" y1="576.9" x2="220.7" y2="576.9" stroke="#a3a3a3" stroke-width="1.05" stroke-dasharray="2.6 3.0"/>
<line x1="59.8" y1="539.8" x2="220.7" y2="539.8" stroke="#a3a3a3" stroke-width="1.05" stroke-dasharray="2.6 3.0"/>
<line x1="59.8" y1="651.8" x2="220.7" y2="651.8" stroke="#a3a3a3" stroke-width="1.05" stroke-dasharray="2.6 3.0"/>
<rect x="60.5" y="603.2" width="4.9" height="97.2" fill="#ee6064"/>
<rect x="60.5" y="576" width="4.9" height="10" fill="#ee6064"/>
<line x1="62.9" y1="576" x2="62.9" y2="569.5" stroke="#555555" stroke-width="1.1"/>
<line x1="61.4" y1="569.5" x2="64.4" y2="569.5" stroke="#555555" stroke-width="1.1"/>
<rect x="65.4" y="603.2" width="4.9" height="97.2" fill="#4d6bcb"/>
<rect x="65.4" y="573.8" width="4.9" height="12.2" fill="#4d6bcb"/>
<line x1="67.8" y1="573.8" x2="67.8" y2="568.7" stroke="#555555" stroke-width="1.1"/>
<line x1="66.3" y1="568.7" x2="69.3" y2="568.7" stroke="#555555" stroke-width="1.1"/>
<circle cx="62.4" cy="569.9" r="1.3" fill="none" stroke="#4a4a4a" stroke-width="1.25"/>
<circle cx="63.3" cy="575.5" r="1.3" fill="none" stroke="#4a4a4a" stroke-width="1.25"/>
<circle cx="67.3" cy="564.2" r="1.3" fill="none" stroke="#4a4a4a" stroke-width="1.25"/>
<circle cx="68.2" cy="575" r="1.3" fill="none" stroke="#4a4a4a" stroke-width="1.25"/>
<rect x="73" y="603.2" width="4.9" height="97.2" fill="#ee6064"/>
<rect x="73" y="552.2" width="4.9" height="33.8" fill="#ee6064"/>
<line x1="75.4" y1="552.2" x2="75.4" y2="546.2" stroke="#555555" stroke-width="1.1"/>
<line x1="73.9" y1="546.2" x2="76.9" y2="546.2" stroke="#555555" stroke-width="1.1"/>
<rect x="77.9" y="603.2" width="4.9" height="97.2" fill="#4d6bcb"/>
<rect x="77.9" y="551.1" width="4.9" height="34.9" fill="#4d6bcb"/>
<line x1="80.3" y1="551.1" x2="80.3" y2="542.3" stroke="#555555" stroke-width="1.1"/>
<line x1="78.8" y1="542.3" x2="81.8" y2="542.3" stroke="#555555" stroke-width="1.1"/>
<circle cx="74.9" cy="540.2" r="1.3" fill="none" stroke="#4a4a4a" stroke-width="1.25"/>
<circle cx="75.8" cy="555.6" r="1.3" fill="none" stroke="#4a4a4a" stroke-width="1.25"/>
<circle cx="75.4" cy="560.2" r="1.3" fill="none" stroke="#4a4a4a" stroke-width="1.25"/>
<circle cx="79.8" cy="534.8" r="1.3" fill="none" stroke="#4a4a4a" stroke-width="1.25"/>
<circle cx="80.7" cy="553.7" r="1.3" fill="none" stroke="#4a4a4a" stroke-width="1.25"/>
<circle cx="80.3" cy="565.8" r="1.3" fill="none" stroke="#4a4a4a" stroke-width="1.25"/>
<rect x="85.4" y="654.6" width="4.9" height="45.8" fill="#ee6064"/>
<line x1="87.9" y1="654.6" x2="87.9" y2="635.6" stroke="#555555" stroke-width="1.1"/>
<line x1="86.4" y1="635.6" x2="89.4" y2="635.6" stroke="#555555" stroke-width="1.1"/>
<rect x="90.3" y="662.7" width="4.9" height="37.7" fill="#4d6bcb"/>
<line x1="92.8" y1="662.7" x2="92.8" y2="653.3" stroke="#555555" stroke-width="1.1"/>
<line x1="91.3" y1="653.3" x2="94.3" y2="653.3" stroke="#555555" stroke-width="1.1"/>
<circle cx="87.4" cy="617.2" r="1.3" fill="none" stroke="#4a4a4a" stroke-width="1.25"/>
<circle cx="88.3" cy="670" r="1.3" fill="none" stroke="#4a4a4a" stroke-width="1.25"/>
<circle cx="87.9" cy="676.1" r="1.3" fill="none" stroke="#4a4a4a" stroke-width="1.25"/>
<circle cx="92.3" cy="649.4" r="1.3" fill="none" stroke="#4a4a4a" stroke-width="1.25"/>
<circle cx="93.2" cy="659.1" r="1.3" fill="none" stroke="#4a4a4a" stroke-width="1.25"/>
<circle cx="92.8" cy="678.5" r="1.3" fill="none" stroke="#4a4a4a" stroke-width="1.25"/>
<rect x="97.9" y="676.8" width="4.9" height="23.6" fill="#ee6064"/>
<line x1="100.3" y1="676.8" x2="100.3" y2="668" stroke="#555555" stroke-width="1.1"/>
<line x1="98.8" y1="668" x2="101.8" y2="668" stroke="#555555" stroke-width="1.1"/>
<rect x="102.8" y="679" width="4.9" height="21.4" fill="#4d6bcb"/>
<line x1="105.2" y1="679" x2="105.2" y2="671.2" stroke="#555555" stroke-width="1.1"/>
<line x1="103.7" y1="671.2" x2="106.7" y2="671.2" stroke="#555555" stroke-width="1.1"/>
<circle cx="99.8" cy="668.8" r="1.3" fill="none" stroke="#4a4a4a" stroke-width="1.25"/>
<circle cx="100.7" cy="673.7" r="1.3" fill="none" stroke="#4a4a4a" stroke-width="1.25"/>
<circle cx="100.3" cy="688.9" r="1.3" fill="none" stroke="#4a4a4a" stroke-width="1.25"/>
<circle cx="104.7" cy="663.9" r="1.3" fill="none" stroke="#4a4a4a" stroke-width="1.25"/>
<circle cx="105.6" cy="684.6" r="1.3" fill="none" stroke="#4a4a4a" stroke-width="1.25"/>
<circle cx="105.2" cy="687" r="1.3" fill="none" stroke="#4a4a4a" stroke-width="1.25"/>
<rect x="110.3" y="697.4" width="4.9" height="3" fill="#ee6064"/>
<rect x="115.2" y="698.6" width="4.9" height="1.8" fill="#4d6bcb"/>
<circle cx="112.3" cy="696.8" r="1.3" fill="none" stroke="#4a4a4a" stroke-width="1.25"/>
<circle cx="113.2" cy="698" r="1.3" fill="none" stroke="#4a4a4a" stroke-width="1.25"/>
<circle cx="112.8" cy="698.6" r="1.3" fill="none" stroke="#4a4a4a" stroke-width="1.25"/>
<circle cx="117.2" cy="698" r="1.3" fill="none" stroke="#4a4a4a" stroke-width="1.25"/>
<circle cx="118.1" cy="698.6" r="1.3" fill="none" stroke="#4a4a4a" stroke-width="1.25"/>
<circle cx="117.7" cy="699.2" r="1.3" fill="none" stroke="#4a4a4a" stroke-width="1.25"/>
<rect x="122.8" y="699.2" width="4.9" height="1.2" fill="#ee6064"/>
<rect x="127.7" y="699.7" width="4.9" height="0.7" fill="#4d6bcb"/>
<circle cx="124.7" cy="698.9" r="1.3" fill="none" stroke="#4a4a4a" stroke-width="1.25"/>
<circle cx="125.6" cy="699.4" r="1.3" fill="none" stroke="#4a4a4a" stroke-width="1.25"/>
<circle cx="129.6" cy="699.2" r="1.3" fill="none" stroke="#4a4a4a" stroke-width="1.25"/>
<circle cx="130.5" cy="699.8" r="1.3" fill="none" stroke="#4a4a4a" stroke-width="1.25"/>
<rect x="135.3" y="699.8" width="4.9" height="0.6" fill="#ee6064"/>
<rect x="140.2" y="699.8" width="4.9" height="0.6" fill="#4d6bcb"/>
<circle cx="137.2" cy="699.4" r="1.3" fill="none" stroke="#4a4a4a" stroke-width="1.25"/>
<circle cx="142.1" cy="699.5" r="1.3" fill="none" stroke="#4a4a4a" stroke-width="1.25"/>
<rect x="147.7" y="693.4" width="4.9" height="7" fill="#ee6064"/>
<line x1="150.2" y1="693.4" x2="150.2" y2="689.7" stroke="#555555" stroke-width="1.1"/>
<line x1="148.7" y1="689.7" x2="151.7" y2="689.7" stroke="#555555" stroke-width="1.1"/>
<rect x="152.6" y="694.3" width="4.9" height="6.1" fill="#4d6bcb"/>
<line x1="155.1" y1="694.3" x2="155.1" y2="693.1" stroke="#555555" stroke-width="1.1"/>
<line x1="153.6" y1="693.1" x2="156.6" y2="693.1" stroke="#555555" stroke-width="1.1"/>
<circle cx="149.7" cy="685.8" r="1.3" fill="none" stroke="#4a4a4a" stroke-width="1.25"/>
<circle cx="150.6" cy="693.1" r="1.3" fill="none" stroke="#4a4a4a" stroke-width="1.25"/>
<circle cx="150.2" cy="695.5" r="1.3" fill="none" stroke="#4a4a4a" stroke-width="1.25"/>
<circle cx="154.6" cy="693.1" r="1.3" fill="none" stroke="#4a4a4a" stroke-width="1.25"/>
<circle cx="155.5" cy="694.3" r="1.3" fill="none" stroke="#4a4a4a" stroke-width="1.25"/>
<circle cx="155.1" cy="695.5" r="1.3" fill="none" stroke="#4a4a4a" stroke-width="1.25"/>
<rect x="160.2" y="688.9" width="4.9" height="11.5" fill="#ee6064"/>
<line x1="162.6" y1="688.9" x2="162.6" y2="682.8" stroke="#555555" stroke-width="1.1"/>
<line x1="161.1" y1="682.8" x2="164.1" y2="682.8" stroke="#555555" stroke-width="1.1"/>
<rect x="165.1" y="688.2" width="4.9" height="12.1" fill="#4d6bcb"/>
<line x1="167.5" y1="688.2" x2="167.5" y2="684.6" stroke="#555555" stroke-width="1.1"/>
<line x1="166" y1="684.6" x2="169" y2="684.6" stroke="#555555" stroke-width="1.1"/>
<circle cx="162.1" cy="682.2" r="1.3" fill="none" stroke="#4a4a4a" stroke-width="1.25"/>
<circle cx="163" cy="682.2" r="1.3" fill="none" stroke="#4a4a4a" stroke-width="1.25"/>
<circle cx="162.6" cy="696.8" r="1.3" fill="none" stroke="#4a4a4a" stroke-width="1.25"/>
<circle cx="167" cy="681" r="1.3" fill="none" stroke="#4a4a4a" stroke-width="1.25"/>
<circle cx="167.9" cy="684.6" r="1.3" fill="none" stroke="#4a4a4a" stroke-width="1.25"/>
<circle cx="167.5" cy="689.5" r="1.3" fill="none" stroke="#4a4a4a" stroke-width="1.25"/>
<rect x="172.6" y="699.2" width="4.9" height="1.2" fill="#ee6064"/>
<rect x="177.5" y="699.8" width="4.9" height="0.6" fill="#4d6bcb"/>
<circle cx="174.6" cy="696.8" r="1.3" fill="none" stroke="#4a4a4a" stroke-width="1.25"/>
<circle cx="175.5" cy="699.2" r="1.3" fill="none" stroke="#4a4a4a" stroke-width="1.25"/>
<circle cx="179.5" cy="699.4" r="1.3" fill="none" stroke="#4a4a4a" stroke-width="1.25"/>
<rect x="185.1" y="693" width="4.9" height="7.4" fill="#ee6064"/>
<line x1="187.5" y1="693" x2="187.5" y2="687.5" stroke="#555555" stroke-width="1.1"/>
<line x1="186" y1="687.5" x2="189" y2="687.5" stroke="#555555" stroke-width="1.1"/>
<rect x="190" y="694.3" width="4.9" height="6.1" fill="#4d6bcb"/>
<line x1="192.4" y1="694.3" x2="192.4" y2="691.3" stroke="#555555" stroke-width="1.1"/>
<line x1="190.9" y1="691.3" x2="193.9" y2="691.3" stroke="#555555" stroke-width="1.1"/>
<circle cx="187" cy="683.4" r="1.3" fill="none" stroke="#4a4a4a" stroke-width="1.25"/>
<circle cx="187.9" cy="693.1" r="1.3" fill="none" stroke="#4a4a4a" stroke-width="1.25"/>
<circle cx="187.5" cy="699.2" r="1.3" fill="none" stroke="#4a4a4a" stroke-width="1.25"/>
<circle cx="191.9" cy="689.5" r="1.3" fill="none" stroke="#4a4a4a" stroke-width="1.25"/>
<circle cx="192.8" cy="694.3" r="1.3" fill="none" stroke="#4a4a4a" stroke-width="1.25"/>
<circle cx="192.4" cy="696.8" r="1.3" fill="none" stroke="#4a4a4a" stroke-width="1.25"/>
<rect x="197.6" y="686.2" width="4.9" height="14.2" fill="#ee6064"/>
<line x1="200" y1="686.2" x2="200" y2="678.9" stroke="#555555" stroke-width="1.1"/>
<line x1="198.5" y1="678.9" x2="201.5" y2="678.9" stroke="#555555" stroke-width="1.1"/>
<rect x="202.5" y="674" width="4.9" height="26.4" fill="#4d6bcb"/>
<line x1="204.9" y1="674" x2="204.9" y2="663.1" stroke="#555555" stroke-width="1.1"/>
<line x1="203.4" y1="663.1" x2="206.4" y2="663.1" stroke="#555555" stroke-width="1.1"/>
<circle cx="199.5" cy="672.5" r="1.3" fill="none" stroke="#4a4a4a" stroke-width="1.25"/>
<circle cx="200.4" cy="687" r="1.3" fill="none" stroke="#4a4a4a" stroke-width="1.25"/>
<circle cx="200" cy="699.2" r="1.3" fill="none" stroke="#4a4a4a" stroke-width="1.25"/>
<circle cx="204.4" cy="660.3" r="1.3" fill="none" stroke="#4a4a4a" stroke-width="1.25"/>
<circle cx="205.3" cy="668.8" r="1.3" fill="none" stroke="#4a4a4a" stroke-width="1.25"/>
<circle cx="204.9" cy="694.3" r="1.3" fill="none" stroke="#4a4a4a" stroke-width="1.25"/>
<rect x="210" y="658.2" width="4.9" height="42.2" fill="#ee6064"/>
<line x1="212.5" y1="658.2" x2="212.5" y2="636.4" stroke="#555555" stroke-width="1.1"/>
<line x1="211" y1="636.4" x2="214" y2="636.4" stroke="#555555" stroke-width="1.1"/>
<rect x="214.9" y="648.9" width="4.9" height="51.5" fill="#4d6bcb"/>
<line x1="217.4" y1="648.9" x2="217.4" y2="636.7" stroke="#555555" stroke-width="1.1"/>
<line x1="215.9" y1="636.7" x2="218.9" y2="636.7" stroke="#555555" stroke-width="1.1"/>
<circle cx="212" cy="627.5" r="1.3" fill="none" stroke="#4a4a4a" stroke-width="1.25"/>
<circle cx="212.9" cy="645.1" r="1.3" fill="none" stroke="#4a4a4a" stroke-width="1.25"/>
<circle cx="212.5" cy="699.2" r="1.3" fill="none" stroke="#4a4a4a" stroke-width="1.25"/>
<circle cx="216.9" cy="633" r="1.3" fill="none" stroke="#4a4a4a" stroke-width="1.25"/>
<circle cx="217.8" cy="640.9" r="1.3" fill="none" stroke="#4a4a4a" stroke-width="1.25"/>
<circle cx="217.4" cy="672.5" r="1.3" fill="none" stroke="#4a4a4a" stroke-width="1.25"/>
<line x1="58.3" y1="521.3" x2="58.3" y2="587.5" stroke="#000" stroke-width="2.1"/>
<line x1="58.3" y1="601.5" x2="58.3" y2="701.4" stroke="#000" stroke-width="2.1"/>
<line x1="53.2" y1="581.6" x2="63.7" y2="592.8" stroke="#000" stroke-width="2.1"/>
<line x1="53.2" y1="596.5" x2="63.7" y2="607" stroke="#000" stroke-width="2.1"/>
<line x1="52.1" y1="576.9" x2="58.3" y2="576.9" stroke="#000" stroke-width="2"/>
<text x="49.7" y="580.9" text-anchor="end" font-size="11" letter-spacing="0.55" fill="#1a1a1a">20.00</text>
<line x1="52.1" y1="558.4" x2="58.3" y2="558.4" stroke="#000" stroke-width="2"/>
<text x="49.7" y="562.4" text-anchor="end" font-size="11" letter-spacing="0.55" fill="#1a1a1a">40.00</text>
<line x1="52.1" y1="539.8" x2="58.3" y2="539.8" stroke="#000" stroke-width="2"/>
<text x="49.7" y="543.8" text-anchor="end" font-size="11" letter-spacing="0.55" fill="#1a1a1a">60.00</text>
<line x1="52.1" y1="521.3" x2="58.3" y2="521.3" stroke="#000" stroke-width="2"/>
<text x="49.7" y="525.3" text-anchor="end" font-size="11" letter-spacing="0.55" fill="#1a1a1a">80.00</text>
<line x1="52.1" y1="700.4" x2="58.3" y2="700.4" stroke="#000" stroke-width="2"/>
<text x="49.7" y="704.4" text-anchor="end" font-size="11" letter-spacing="0.55" fill="#1a1a1a">0.00</text>
<line x1="52.1" y1="676.1" x2="58.3" y2="676.1" stroke="#000" stroke-width="2"/>
<text x="49.7" y="680.1" text-anchor="end" font-size="11" letter-spacing="0.55" fill="#1a1a1a">2.00</text>
<line x1="52.1" y1="651.8" x2="58.3" y2="651.8" stroke="#000" stroke-width="2"/>
<text x="49.7" y="655.8" text-anchor="end" font-size="11" letter-spacing="0.55" fill="#1a1a1a">4.00</text>
<line x1="52.1" y1="627.5" x2="58.3" y2="627.5" stroke="#000" stroke-width="2"/>
<text x="49.7" y="631.5" text-anchor="end" font-size="11" letter-spacing="0.55" fill="#1a1a1a">6.00</text>
<line x1="57.3" y1="700.4" x2="220.7" y2="700.4" stroke="#000" stroke-width="2.3"/>
<line x1="64.8" y1="700.4" x2="64.8" y2="706.6" stroke="#000" stroke-width="2"/>
<text transform="translate(68.8 717.2) rotate(-45)" text-anchor="end" font-size="10.8" fill="#111">AUD</text>
<line x1="77.3" y1="700.4" x2="77.3" y2="706.6" stroke="#000" stroke-width="2"/>
<text transform="translate(81.3 717.2) rotate(-45)" text-anchor="end" font-size="10.8" fill="#111">SS</text>
<line x1="89.7" y1="700.4" x2="89.7" y2="706.6" stroke="#000" stroke-width="2"/>
<text transform="translate(93.7 717.2) rotate(-45)" text-anchor="end" font-size="10.8" fill="#111">VIS</text>
<line x1="102.2" y1="700.4" x2="102.2" y2="706.6" stroke="#000" stroke-width="2"/>
<text transform="translate(106.2 717.2) rotate(-45)" text-anchor="end" font-size="10.8" fill="#111">MO</text>
<line x1="114.6" y1="700.4" x2="114.6" y2="706.6" stroke="#000" stroke-width="2"/>
<text transform="translate(118.6 717.2) rotate(-45)" text-anchor="end" font-size="10.8" fill="#111">ACA</text>
<line x1="127.1" y1="700.4" x2="127.1" y2="706.6" stroke="#000" stroke-width="2"/>
<text transform="translate(131.1 717.2) rotate(-45)" text-anchor="end" font-size="10.8" fill="#111">AI</text>
<line x1="139.6" y1="700.4" x2="139.6" y2="706.6" stroke="#000" stroke-width="2"/>
<text transform="translate(143.6 717.2) rotate(-45)" text-anchor="end" font-size="10.8" fill="#111">PERI</text>
<line x1="152" y1="700.4" x2="152" y2="706.6" stroke="#000" stroke-width="2"/>
<text transform="translate(156 717.2) rotate(-45)" text-anchor="end" font-size="10.8" fill="#111">ECT</text>
<line x1="164.5" y1="700.4" x2="164.5" y2="706.6" stroke="#000" stroke-width="2"/>
<text transform="translate(168.5 717.2) rotate(-45)" text-anchor="end" font-size="10.8" fill="#111">VISC</text>
<line x1="176.9" y1="700.4" x2="176.9" y2="706.6" stroke="#000" stroke-width="2"/>
<text transform="translate(180.9 717.2) rotate(-45)" text-anchor="end" font-size="10.8" fill="#111">ORB</text>
<line x1="189.4" y1="700.4" x2="189.4" y2="706.6" stroke="#000" stroke-width="2"/>
<text transform="translate(193.4 717.2) rotate(-45)" text-anchor="end" font-size="10.8" fill="#111">RSP</text>
<line x1="201.9" y1="700.4" x2="201.9" y2="706.6" stroke="#000" stroke-width="2"/>
<text transform="translate(205.9 717.2) rotate(-45)" text-anchor="end" font-size="10.8" fill="#111">PTLp</text>
<line x1="214.3" y1="700.4" x2="214.3" y2="706.6" stroke="#000" stroke-width="2"/>
<text transform="translate(218.3 717.2) rotate(-45)" text-anchor="end" font-size="10.8" fill="#111">TEa</text>
<line x1="60.4" y1="743.3" x2="96.6" y2="743.3" stroke="#000" stroke-width="1.5"/>
<text x="78.5" y="756.5" text-anchor="middle" font-size="12.3" fill="#111">Sensory</text>
<line x1="110.2" y1="743.3" x2="196" y2="743.3" stroke="#000" stroke-width="1.5"/>
<text x="153.1" y="756.5" text-anchor="middle" font-size="12.3" fill="#111">Limbic</text>
<line x1="272.5" y1="586" x2="765.8" y2="586" stroke="#a3a3a3" stroke-width="1.05" stroke-dasharray="2.6 3.0"/>
<line x1="272.5" y1="564.4" x2="765.8" y2="564.4" stroke="#a3a3a3" stroke-width="1.05" stroke-dasharray="2.6 3.0"/>
<line x1="272.5" y1="542.8" x2="765.8" y2="542.8" stroke="#a3a3a3" stroke-width="1.05" stroke-dasharray="2.6 3.0"/>
<line x1="272.5" y1="651.6" x2="765.8" y2="651.6" stroke="#a3a3a3" stroke-width="1.05" stroke-dasharray="2.6 3.0"/>
<rect x="274.2" y="602.9" width="4.9" height="97.4" fill="#ee6064"/>
<rect x="274.2" y="570.2" width="4.9" height="15.8" fill="#ee6064"/>
<line x1="276.7" y1="570.2" x2="276.7" y2="542.8" stroke="#555555" stroke-width="1.1"/>
<line x1="275.2" y1="542.8" x2="278.2" y2="542.8" stroke="#555555" stroke-width="1.1"/>
<rect x="279.1" y="602.9" width="4.9" height="97.4" fill="#4d6bcb"/>
<rect x="279.1" y="574.1" width="4.9" height="11.9" fill="#4d6bcb"/>
<line x1="281.6" y1="574.1" x2="281.6" y2="557.9" stroke="#555555" stroke-width="1.1"/>
<line x1="280.1" y1="557.9" x2="283.1" y2="557.9" stroke="#555555" stroke-width="1.1"/>
<circle cx="276.2" cy="640.4" r="1.3" fill="none" stroke="#4a4a4a" stroke-width="1.25"/>
<circle cx="277.1" cy="672.5" r="1.3" fill="none" stroke="#4a4a4a" stroke-width="1.25"/>
<circle cx="281.1" cy="548.2" r="1.3" fill="none" stroke="#4a4a4a" stroke-width="1.25"/>
<circle cx="281.9" cy="573" r="1.3" fill="none" stroke="#4a4a4a" stroke-width="1.25"/>
<circle cx="281.6" cy="672.1" r="1.3" fill="none" stroke="#4a4a4a" stroke-width="1.25"/>
<rect x="286.4" y="699.8" width="4.9" height="0.5" fill="#ee6064"/>
<rect x="291.3" y="699.8" width="4.9" height="0.5" fill="#4d6bcb"/>
<circle cx="288.4" cy="699.3" r="1.3" fill="none" stroke="#4a4a4a" stroke-width="1.25"/>
<circle cx="293.3" cy="699.3" r="1.3" fill="none" stroke="#4a4a4a" stroke-width="1.25"/>
<rect x="298.6" y="638.5" width="4.9" height="61.8" fill="#ee6064"/>
<line x1="301.1" y1="638.5" x2="301.1" y2="627.7" stroke="#555555" stroke-width="1.1"/>
<line x1="299.6" y1="627.7" x2="302.6" y2="627.7" stroke="#555555" stroke-width="1.1"/>
<rect x="303.5" y="660.4" width="4.9" height="39.9" fill="#4d6bcb"/>
<line x1="306" y1="660.4" x2="306" y2="636" stroke="#555555" stroke-width="1.1"/>
<line x1="304.5" y1="636" x2="307.5" y2="636" stroke="#555555" stroke-width="1.1"/>
<circle cx="300.6" cy="624.8" r="1.3" fill="none" stroke="#4a4a4a" stroke-width="1.25"/>
<circle cx="301.5" cy="627.2" r="1.3" fill="none" stroke="#4a4a4a" stroke-width="1.25"/>
<circle cx="301.1" cy="661.3" r="1.3" fill="none" stroke="#4a4a4a" stroke-width="1.25"/>
<circle cx="305.5" cy="617.5" r="1.3" fill="none" stroke="#4a4a4a" stroke-width="1.25"/>
<circle cx="306.4" cy="661.3" r="1.3" fill="none" stroke="#4a4a4a" stroke-width="1.25"/>
<circle cx="306" cy="699.3" r="1.3" fill="none" stroke="#4a4a4a" stroke-width="1.25"/>
<rect x="310.8" y="602.9" width="4.9" height="97.4" fill="#ee6064"/>
<rect x="310.8" y="557.9" width="4.9" height="28.1" fill="#ee6064"/>
<line x1="313.3" y1="557.9" x2="313.3" y2="552" stroke="#555555" stroke-width="1.1"/>
<line x1="311.8" y1="552" x2="314.8" y2="552" stroke="#555555" stroke-width="1.1"/>
<rect x="315.7" y="602.9" width="4.9" height="97.4" fill="#4d6bcb"/>
<rect x="315.7" y="581" width="4.9" height="5" fill="#4d6bcb"/>
<line x1="318.2" y1="581" x2="318.2" y2="569.2" stroke="#555555" stroke-width="1.1"/>
<line x1="316.7" y1="569.2" x2="319.7" y2="569.2" stroke="#555555" stroke-width="1.1"/>
<circle cx="312.8" cy="548.2" r="1.3" fill="none" stroke="#4a4a4a" stroke-width="1.25"/>
<circle cx="313.7" cy="557.9" r="1.3" fill="none" stroke="#4a4a4a" stroke-width="1.25"/>
<circle cx="313.3" cy="568.7" r="1.3" fill="none" stroke="#4a4a4a" stroke-width="1.25"/>
<circle cx="317.7" cy="566.6" r="1.3" fill="none" stroke="#4a4a4a" stroke-width="1.25"/>
<circle cx="318.6" cy="569.8" r="1.3" fill="none" stroke="#4a4a4a" stroke-width="1.25"/>
<circle cx="318.2" cy="694" r="1.3" fill="none" stroke="#4a4a4a" stroke-width="1.25"/>
<rect x="323" y="660.4" width="4.9" height="39.9" fill="#ee6064"/>
<line x1="325.5" y1="660.4" x2="325.5" y2="653.1" stroke="#555555" stroke-width="1.1"/>
<line x1="324" y1="653.1" x2="327" y2="653.1" stroke="#555555" stroke-width="1.1"/>
<rect x="327.9" y="658.9" width="4.9" height="41.4" fill="#4d6bcb"/>
<line x1="330.4" y1="658.9" x2="330.4" y2="634.6" stroke="#555555" stroke-width="1.1"/>
<line x1="328.9" y1="634.6" x2="331.9" y2="634.6" stroke="#555555" stroke-width="1.1"/>
<circle cx="325" cy="653.1" r="1.3" fill="none" stroke="#4a4a4a" stroke-width="1.25"/>
<circle cx="325.9" cy="656.5" r="1.3" fill="none" stroke="#4a4a4a" stroke-width="1.25"/>
<circle cx="325.5" cy="669.1" r="1.3" fill="none" stroke="#4a4a4a" stroke-width="1.25"/>
<circle cx="329.9" cy="612.6" r="1.3" fill="none" stroke="#4a4a4a" stroke-width="1.25"/>
<circle cx="330.8" cy="672.1" r="1.3" fill="none" stroke="#4a4a4a" stroke-width="1.25"/>
<circle cx="330.4" cy="692" r="1.3" fill="none" stroke="#4a4a4a" stroke-width="1.25"/>
<rect x="335.3" y="664.7" width="4.9" height="35.6" fill="#ee6064"/>
<line x1="337.7" y1="664.7" x2="337.7" y2="656" stroke="#555555" stroke-width="1.1"/>
<line x1="336.2" y1="656" x2="339.2" y2="656" stroke="#555555" stroke-width="1.1"/>
<rect x="340.2" y="664.7" width="4.9" height="35.6" fill="#4d6bcb"/>
<line x1="342.6" y1="664.7" x2="342.6" y2="632.1" stroke="#555555" stroke-width="1.1"/>
<line x1="341.1" y1="632.1" x2="344.1" y2="632.1" stroke="#555555" stroke-width="1.1"/>
<circle cx="337.2" cy="647.7" r="1.3" fill="none" stroke="#4a4a4a" stroke-width="1.25"/>
<circle cx="338.1" cy="669.1" r="1.3" fill="none" stroke="#4a4a4a" stroke-width="1.25"/>
<circle cx="337.7" cy="676.9" r="1.3" fill="none" stroke="#4a4a4a" stroke-width="1.25"/>
<circle cx="342.1" cy="585.5" r="1.3" fill="none" stroke="#4a4a4a" stroke-width="1.25"/>
<circle cx="343" cy="694.5" r="1.3" fill="none" stroke="#4a4a4a" stroke-width="1.25"/>
<circle cx="342.6" cy="695.4" r="1.3" fill="none" stroke="#4a4a4a" stroke-width="1.25"/>
<rect x="347.5" y="662.8" width="4.9" height="37.5" fill="#ee6064"/>
<line x1="349.9" y1="662.8" x2="349.9" y2="658.4" stroke="#555555" stroke-width="1.1"/>
<line x1="348.4" y1="658.4" x2="351.4" y2="658.4" stroke="#555555" stroke-width="1.1"/>
<rect x="352.4" y="652.6" width="4.9" height="47.7" fill="#4d6bcb"/>
<line x1="354.8" y1="652.6" x2="354.8" y2="624.8" stroke="#555555" stroke-width="1.1"/>
<line x1="353.3" y1="624.8" x2="356.3" y2="624.8" stroke="#555555" stroke-width="1.1"/>
<circle cx="349.4" cy="655.5" r="1.3" fill="none" stroke="#4a4a4a" stroke-width="1.25"/>
<circle cx="350.3" cy="661.3" r="1.3" fill="none" stroke="#4a4a4a" stroke-width="1.25"/>
<circle cx="349.9" cy="669.1" r="1.3" fill="none" stroke="#4a4a4a" stroke-width="1.25"/>
<circle cx="354.3" cy="585.5" r="1.3" fill="none" stroke="#4a4a4a" stroke-width="1.25"/>
<circle cx="355.2" cy="666.2" r="1.3" fill="none" stroke="#4a4a4a" stroke-width="1.25"/>
<circle cx="354.8" cy="690.6" r="1.3" fill="none" stroke="#4a4a4a" stroke-width="1.25"/>
<rect x="359.7" y="677.9" width="4.9" height="22.4" fill="#ee6064"/>
<line x1="362.1" y1="677.9" x2="362.1" y2="674" stroke="#555555" stroke-width="1.1"/>
<line x1="360.6" y1="674" x2="363.6" y2="674" stroke="#555555" stroke-width="1.1"/>
<rect x="364.6" y="657.4" width="4.9" height="42.9" fill="#4d6bcb"/>
<line x1="367" y1="657.4" x2="367" y2="635.5" stroke="#555555" stroke-width="1.1"/>
<line x1="365.5" y1="635.5" x2="368.5" y2="635.5" stroke="#555555" stroke-width="1.1"/>
<circle cx="361.6" cy="671.1" r="1.3" fill="none" stroke="#4a4a4a" stroke-width="1.25"/>
<circle cx="362.5" cy="677.9" r="1.3" fill="none" stroke="#4a4a4a" stroke-width="1.25"/>
<circle cx="362.1" cy="677.9" r="1.3" fill="none" stroke="#4a4a4a" stroke-width="1.25"/>
<circle cx="366.5" cy="617.5" r="1.3" fill="none" stroke="#4a4a4a" stroke-width="1.25"/>
<circle cx="367.4" cy="661.3" r="1.3" fill="none" stroke="#4a4a4a" stroke-width="1.25"/>
<circle cx="367" cy="691.5" r="1.3" fill="none" stroke="#4a4a4a" stroke-width="1.25"/>
<rect x="371.9" y="651.6" width="4.9" height="48.7" fill="#ee6064"/>
<line x1="374.3" y1="651.6" x2="374.3" y2="627.2" stroke="#555555" stroke-width="1.1"/>
<line x1="372.8" y1="627.2" x2="375.8" y2="627.2" stroke="#555555" stroke-width="1.1"/>
<rect x="376.8" y="663.8" width="4.9" height="36.5" fill="#4d6bcb"/>
<line x1="379.2" y1="663.8" x2="379.2" y2="643.8" stroke="#555555" stroke-width="1.1"/>
<line x1="377.7" y1="643.8" x2="380.7" y2="643.8" stroke="#555555" stroke-width="1.1"/>
<circle cx="373.8" cy="585.5" r="1.3" fill="none" stroke="#4a4a4a" stroke-width="1.25"/>
<circle cx="374.7" cy="675" r="1.3" fill="none" stroke="#4a4a4a" stroke-width="1.25"/>
<circle cx="374.3" cy="676.9" r="1.3" fill="none" stroke="#4a4a4a" stroke-width="1.25"/>
<circle cx="378.7" cy="643.8" r="1.3" fill="none" stroke="#4a4a4a" stroke-width="1.25"/>
<circle cx="379.6" cy="646.7" r="1.3" fill="none" stroke="#4a4a4a" stroke-width="1.25"/>
<circle cx="379.2" cy="699.3" r="1.3" fill="none" stroke="#4a4a4a" stroke-width="1.25"/>
<rect x="384.1" y="699.8" width="4.9" height="0.5" fill="#ee6064"/>
<rect x="389" y="698.8" width="4.9" height="1.5" fill="#4d6bcb"/>
<circle cx="386" cy="699.3" r="1.3" fill="none" stroke="#4a4a4a" stroke-width="1.25"/>
<circle cx="390.9" cy="695.4" r="1.3" fill="none" stroke="#4a4a4a" stroke-width="1.25"/>
<circle cx="391.8" cy="697.9" r="1.3" fill="none" stroke="#4a4a4a" stroke-width="1.25"/>
<rect x="396.3" y="690.1" width="4.9" height="10.2" fill="#ee6064"/>
<line x1="398.8" y1="690.1" x2="398.8" y2="687.6" stroke="#555555" stroke-width="1.1"/>
<line x1="397.3" y1="687.6" x2="400.3" y2="687.6" stroke="#555555" stroke-width="1.1"/>
<rect x="401.2" y="686.2" width="4.9" height="14.1" fill="#4d6bcb"/>
<line x1="403.7" y1="686.2" x2="403.7" y2="678.4" stroke="#555555" stroke-width="1.1"/>
<line x1="402.2" y1="678.4" x2="405.2" y2="678.4" stroke="#555555" stroke-width="1.1"/>
<circle cx="398.3" cy="687.6" r="1.3" fill="none" stroke="#4a4a4a" stroke-width="1.25"/>
<circle cx="399.2" cy="688.6" r="1.3" fill="none" stroke="#4a4a4a" stroke-width="1.25"/>
<circle cx="398.8" cy="695.4" r="1.3" fill="none" stroke="#4a4a4a" stroke-width="1.25"/>
<circle cx="403.2" cy="675.9" r="1.3" fill="none" stroke="#4a4a4a" stroke-width="1.25"/>
<circle cx="404.1" cy="685.7" r="1.3" fill="none" stroke="#4a4a4a" stroke-width="1.25"/>
<circle cx="403.7" cy="695.4" r="1.3" fill="none" stroke="#4a4a4a" stroke-width="1.25"/>
<rect x="408.5" y="693" width="4.9" height="7.3" fill="#ee6064"/>
<line x1="411" y1="693" x2="411" y2="691" stroke="#555555" stroke-width="1.1"/>
<line x1="409.5" y1="691" x2="412.5" y2="691" stroke="#555555" stroke-width="1.1"/>
<rect x="413.4" y="694" width="4.9" height="6.3" fill="#4d6bcb"/>
<line x1="415.9" y1="694" x2="415.9" y2="692.5" stroke="#555555" stroke-width="1.1"/>
<line x1="414.4" y1="692.5" x2="417.4" y2="692.5" stroke="#555555" stroke-width="1.1"/>
<circle cx="410.5" cy="690.6" r="1.3" fill="none" stroke="#4a4a4a" stroke-width="1.25"/>
<circle cx="411.4" cy="693" r="1.3" fill="none" stroke="#4a4a4a" stroke-width="1.25"/>
<circle cx="411" cy="695.4" r="1.3" fill="none" stroke="#4a4a4a" stroke-width="1.25"/>
<circle cx="415.4" cy="691.5" r="1.3" fill="none" stroke="#4a4a4a" stroke-width="1.25"/>
<circle cx="416.3" cy="694.5" r="1.3" fill="none" stroke="#4a4a4a" stroke-width="1.25"/>
<circle cx="415.9" cy="697.9" r="1.3" fill="none" stroke="#4a4a4a" stroke-width="1.25"/>
<rect x="420.7" y="699.3" width="4.9" height="1" fill="#ee6064"/>
<rect x="425.6" y="698.8" width="4.9" height="1.5" fill="#4d6bcb"/>
<circle cx="422.7" cy="697.9" r="1.3" fill="none" stroke="#4a4a4a" stroke-width="1.25"/>
<circle cx="427.6" cy="696.9" r="1.3" fill="none" stroke="#4a4a4a" stroke-width="1.25"/>
<rect x="432.9" y="694.9" width="4.9" height="5.4" fill="#ee6064"/>
<line x1="435.4" y1="694.9" x2="435.4" y2="692" stroke="#555555" stroke-width="1.1"/>
<line x1="433.9" y1="692" x2="436.9" y2="692" stroke="#555555" stroke-width="1.1"/>
<rect x="437.8" y="691" width="4.9" height="9.3" fill="#4d6bcb"/>
<line x1="440.3" y1="691" x2="440.3" y2="688.1" stroke="#555555" stroke-width="1.1"/>
<line x1="438.8" y1="688.1" x2="441.8" y2="688.1" stroke="#555555" stroke-width="1.1"/>
<circle cx="434.9" cy="690.6" r="1.3" fill="none" stroke="#4a4a4a" stroke-width="1.25"/>
<circle cx="435.8" cy="694.5" r="1.3" fill="none" stroke="#4a4a4a" stroke-width="1.25"/>
<circle cx="435.4" cy="696.9" r="1.3" fill="none" stroke="#4a4a4a" stroke-width="1.25"/>
<circle cx="439.8" cy="687.2" r="1.3" fill="none" stroke="#4a4a4a" stroke-width="1.25"/>
<circle cx="440.7" cy="688.1" r="1.3" fill="none" stroke="#4a4a4a" stroke-width="1.25"/>
<circle cx="440.3" cy="696.4" r="1.3" fill="none" stroke="#4a4a4a" stroke-width="1.25"/>
<rect x="445.1" y="664.7" width="4.9" height="35.6" fill="#ee6064"/>
<line x1="447.6" y1="664.7" x2="447.6" y2="650.6" stroke="#555555" stroke-width="1.1"/>
<line x1="446.1" y1="650.6" x2="449.1" y2="650.6" stroke="#555555" stroke-width="1.1"/>
<rect x="450" y="684.7" width="4.9" height="15.6" fill="#4d6bcb"/>
<line x1="452.5" y1="684.7" x2="452.5" y2="672.5" stroke="#555555" stroke-width="1.1"/>
<line x1="451" y1="672.5" x2="454" y2="672.5" stroke="#555555" stroke-width="1.1"/>
<circle cx="447.1" cy="638.5" r="1.3" fill="none" stroke="#4a4a4a" stroke-width="1.25"/>
<circle cx="448" cy="668.6" r="1.3" fill="none" stroke="#4a4a4a" stroke-width="1.25"/>
<circle cx="447.6" cy="685.7" r="1.3" fill="none" stroke="#4a4a4a" stroke-width="1.25"/>
<circle cx="452" cy="658.9" r="1.3" fill="none" stroke="#4a4a4a" stroke-width="1.25"/>
<circle cx="452.9" cy="685.7" r="1.3" fill="none" stroke="#4a4a4a" stroke-width="1.25"/>
<circle cx="452.5" cy="695.4" r="1.3" fill="none" stroke="#4a4a4a" stroke-width="1.25"/>
<rect x="457.4" y="683.3" width="4.9" height="17" fill="#ee6064"/>
<line x1="459.8" y1="683.3" x2="459.8" y2="680.3" stroke="#555555" stroke-width="1.1"/>
<line x1="458.3" y1="680.3" x2="461.3" y2="680.3" stroke="#555555" stroke-width="1.1"/>
<rect x="462.2" y="689.1" width="4.9" height="11.2" fill="#4d6bcb"/>
<line x1="464.7" y1="689.1" x2="464.7" y2="685.7" stroke="#555555" stroke-width="1.1"/>
<line x1="463.2" y1="685.7" x2="466.2" y2="685.7" stroke="#555555" stroke-width="1.1"/>
<circle cx="459.3" cy="677.9" r="1.3" fill="none" stroke="#4a4a4a" stroke-width="1.25"/>
<circle cx="460.2" cy="684.2" r="1.3" fill="none" stroke="#4a4a4a" stroke-width="1.25"/>
<circle cx="459.8" cy="687.2" r="1.3" fill="none" stroke="#4a4a4a" stroke-width="1.25"/>
<circle cx="464.2" cy="683.7" r="1.3" fill="none" stroke="#4a4a4a" stroke-width="1.25"/>
<circle cx="465.1" cy="684.2" r="1.3" fill="none" stroke="#4a4a4a" stroke-width="1.25"/>
<circle cx="464.7" cy="698.8" r="1.3" fill="none" stroke="#4a4a4a" stroke-width="1.25"/>
<rect x="469.6" y="690.6" width="4.9" height="9.7" fill="#ee6064"/>
<line x1="472" y1="690.6" x2="472" y2="685.7" stroke="#555555" stroke-width="1.1"/>
<line x1="470.5" y1="685.7" x2="473.5" y2="685.7" stroke="#555555" stroke-width="1.1"/>
<rect x="474.5" y="688.1" width="4.9" height="12.2" fill="#4d6bcb"/>
<line x1="476.9" y1="688.1" x2="476.9" y2="678.9" stroke="#555555" stroke-width="1.1"/>
<line x1="475.4" y1="678.9" x2="478.4" y2="678.9" stroke="#555555" stroke-width="1.1"/>
<circle cx="471.5" cy="683.3" r="1.3" fill="none" stroke="#4a4a4a" stroke-width="1.25"/>
<circle cx="472.4" cy="688.1" r="1.3" fill="none" stroke="#4a4a4a" stroke-width="1.25"/>
<circle cx="472" cy="699.3" r="1.3" fill="none" stroke="#4a4a4a" stroke-width="1.25"/>
<circle cx="476.4" cy="671.1" r="1.3" fill="none" stroke="#4a4a4a" stroke-width="1.25"/>
<circle cx="477.3" cy="693" r="1.3" fill="none" stroke="#4a4a4a" stroke-width="1.25"/>
<circle cx="476.9" cy="699.3" r="1.3" fill="none" stroke="#4a4a4a" stroke-width="1.25"/>
<rect x="481.8" y="680.3" width="4.9" height="20" fill="#ee6064"/>
<line x1="484.2" y1="680.3" x2="484.2" y2="669.6" stroke="#555555" stroke-width="1.1"/>
<line x1="482.7" y1="669.6" x2="485.7" y2="669.6" stroke="#555555" stroke-width="1.1"/>
<rect x="486.7" y="694.9" width="4.9" height="5.4" fill="#4d6bcb"/>
<line x1="489.1" y1="694.9" x2="489.1" y2="689.1" stroke="#555555" stroke-width="1.1"/>
<line x1="487.6" y1="689.1" x2="490.6" y2="689.1" stroke="#555555" stroke-width="1.1"/>
<circle cx="483.7" cy="662.3" r="1.3" fill="none" stroke="#4a4a4a" stroke-width="1.25"/>
<circle cx="484.6" cy="680.8" r="1.3" fill="none" stroke="#4a4a4a" stroke-width="1.25"/>
<circle cx="484.2" cy="693" r="1.3" fill="none" stroke="#4a4a4a" stroke-width="1.25"/>
<circle cx="488.6" cy="683.3" r="1.3" fill="none" stroke="#4a4a4a" stroke-width="1.25"/>
<circle cx="489.5" cy="699.3" r="1.3" fill="none" stroke="#4a4a4a" stroke-width="1.25"/>
<circle cx="489.1" cy="699.3" r="1.3" fill="none" stroke="#4a4a4a" stroke-width="1.25"/>
<rect x="494" y="681.8" width="4.9" height="18.5" fill="#ee6064"/>
<line x1="496.4" y1="681.8" x2="496.4" y2="673" stroke="#555555" stroke-width="1.1"/>
<line x1="494.9" y1="673" x2="497.9" y2="673" stroke="#555555" stroke-width="1.1"/>
<rect x="498.9" y="683.3" width="4.9" height="17" fill="#4d6bcb"/>
<line x1="501.3" y1="683.3" x2="501.3" y2="677.4" stroke="#555555" stroke-width="1.1"/>
<line x1="499.8" y1="677.4" x2="502.8" y2="677.4" stroke="#555555" stroke-width="1.1"/>
<circle cx="495.9" cy="667.7" r="1.3" fill="none" stroke="#4a4a4a" stroke-width="1.25"/>
<circle cx="496.8" cy="675.9" r="1.3" fill="none" stroke="#4a4a4a" stroke-width="1.25"/>
<circle cx="496.4" cy="697.9" r="1.3" fill="none" stroke="#4a4a4a" stroke-width="1.25"/>
<circle cx="500.8" cy="673.5" r="1.3" fill="none" stroke="#4a4a4a" stroke-width="1.25"/>
<circle cx="501.7" cy="680.8" r="1.3" fill="none" stroke="#4a4a4a" stroke-width="1.25"/>
<circle cx="501.3" cy="685.7" r="1.3" fill="none" stroke="#4a4a4a" stroke-width="1.25"/>
<rect x="506.2" y="699.3" width="4.9" height="1" fill="#ee6064"/>
<rect x="511.1" y="697.4" width="4.9" height="2.9" fill="#4d6bcb"/>
<circle cx="508.1" cy="698.8" r="1.3" fill="none" stroke="#4a4a4a" stroke-width="1.25"/>
<circle cx="513" cy="693" r="1.3" fill="none" stroke="#4a4a4a" stroke-width="1.25"/>
<circle cx="513.9" cy="695.4" r="1.3" fill="none" stroke="#4a4a4a" stroke-width="1.25"/>
<rect x="518.4" y="699.3" width="4.9" height="1" fill="#ee6064"/>
<rect x="523.3" y="699.8" width="4.9" height="0.5" fill="#4d6bcb"/>
<circle cx="520.4" cy="695.4" r="1.3" fill="none" stroke="#4a4a4a" stroke-width="1.25"/>
<circle cx="525.3" cy="699.3" r="1.3" fill="none" stroke="#4a4a4a" stroke-width="1.25"/>
<rect x="530.6" y="699.8" width="4.9" height="0.5" fill="#ee6064"/>
<rect x="535.5" y="699.8" width="4.9" height="0.5" fill="#4d6bcb"/>
<circle cx="532.6" cy="699.3" r="1.3" fill="none" stroke="#4a4a4a" stroke-width="1.25"/>
<circle cx="537.5" cy="699.3" r="1.3" fill="none" stroke="#4a4a4a" stroke-width="1.25"/>
<rect x="542.8" y="699.3" width="4.9" height="1" fill="#ee6064"/>
<rect x="547.7" y="699.3" width="4.9" height="1" fill="#4d6bcb"/>
<circle cx="544.8" cy="697.4" r="1.3" fill="none" stroke="#4a4a4a" stroke-width="1.25"/>
<circle cx="549.7" cy="697.4" r="1.3" fill="none" stroke="#4a4a4a" stroke-width="1.25"/>
<rect x="555" y="698.8" width="4.9" height="1.5" fill="#ee6064"/>
<rect x="559.9" y="698.8" width="4.9" height="1.5" fill="#4d6bcb"/>
<circle cx="557" cy="695.4" r="1.3" fill="none" stroke="#4a4a4a" stroke-width="1.25"/>
<circle cx="561.9" cy="696.4" r="1.3" fill="none" stroke="#4a4a4a" stroke-width="1.25"/>
<rect x="567.2" y="680.3" width="4.9" height="20" fill="#ee6064"/>
<line x1="569.7" y1="680.3" x2="569.7" y2="673" stroke="#555555" stroke-width="1.1"/>
<line x1="568.2" y1="673" x2="571.2" y2="673" stroke="#555555" stroke-width="1.1"/>
<rect x="572.1" y="687.2" width="4.9" height="13.1" fill="#4d6bcb"/>
<line x1="574.6" y1="687.2" x2="574.6" y2="684.7" stroke="#555555" stroke-width="1.1"/>
<line x1="573.1" y1="684.7" x2="576.1" y2="684.7" stroke="#555555" stroke-width="1.1"/>
<circle cx="569.2" cy="664.3" r="1.3" fill="none" stroke="#4a4a4a" stroke-width="1.25"/>
<circle cx="570.1" cy="685.7" r="1.3" fill="none" stroke="#4a4a4a" stroke-width="1.25"/>
<circle cx="569.7" cy="688.1" r="1.3" fill="none" stroke="#4a4a4a" stroke-width="1.25"/>
<circle cx="574.1" cy="681.8" r="1.3" fill="none" stroke="#4a4a4a" stroke-width="1.25"/>
<circle cx="575" cy="684.7" r="1.3" fill="none" stroke="#4a4a4a" stroke-width="1.25"/>
<circle cx="574.6" cy="690.6" r="1.3" fill="none" stroke="#4a4a4a" stroke-width="1.25"/>
<rect x="579.5" y="697.4" width="4.9" height="2.9" fill="#ee6064"/>
<rect x="584.4" y="697.9" width="4.9" height="2.4" fill="#4d6bcb"/>
<circle cx="581.4" cy="695.4" r="1.3" fill="none" stroke="#4a4a4a" stroke-width="1.25"/>
<circle cx="586.3" cy="696.4" r="1.3" fill="none" stroke="#4a4a4a" stroke-width="1.25"/>
<rect x="591.7" y="698.8" width="4.9" height="1.5" fill="#ee6064"/>
<rect x="596.6" y="697.9" width="4.9" height="2.4" fill="#4d6bcb"/>
<circle cx="593.6" cy="697.9" r="1.3" fill="none" stroke="#4a4a4a" stroke-width="1.25"/>
<circle cx="598.5" cy="695.4" r="1.3" fill="none" stroke="#4a4a4a" stroke-width="1.25"/>
<rect x="603.9" y="695.4" width="4.9" height="4.9" fill="#ee6064"/>
<line x1="606.3" y1="695.4" x2="606.3" y2="692" stroke="#555555" stroke-width="1.1"/>
<line x1="604.8" y1="692" x2="607.8" y2="692" stroke="#555555" stroke-width="1.1"/>
<rect x="608.8" y="690.1" width="4.9" height="10.2" fill="#4d6bcb"/>
<circle cx="605.8" cy="685.7" r="1.3" fill="none" stroke="#4a4a4a" stroke-width="1.25"/>
<circle cx="606.7" cy="696.4" r="1.3" fill="none" stroke="#4a4a4a" stroke-width="1.25"/>
<circle cx="606.3" cy="699.3" r="1.3" fill="none" stroke="#4a4a4a" stroke-width="1.25"/>
<circle cx="610.7" cy="688.1" r="1.3" fill="none" stroke="#4a4a4a" stroke-width="1.25"/>
<circle cx="611.6" cy="688.1" r="1.3" fill="none" stroke="#4a4a4a" stroke-width="1.25"/>
<circle cx="611.2" cy="695.4" r="1.3" fill="none" stroke="#4a4a4a" stroke-width="1.25"/>
<rect x="616.1" y="695.4" width="4.9" height="4.9" fill="#ee6064"/>
<line x1="618.5" y1="695.4" x2="618.5" y2="694.5" stroke="#555555" stroke-width="1.1"/>
<line x1="617" y1="694.5" x2="620" y2="694.5" stroke="#555555" stroke-width="1.1"/>
<rect x="621" y="694.9" width="4.9" height="5.4" fill="#4d6bcb"/>
<circle cx="618" cy="694" r="1.3" fill="none" stroke="#4a4a4a" stroke-width="1.25"/>
<circle cx="622.9" cy="695.4" r="1.3" fill="none" stroke="#4a4a4a" stroke-width="1.25"/>
<rect x="628.3" y="691.5" width="4.9" height="8.8" fill="#ee6064"/>
<line x1="630.7" y1="691.5" x2="630.7" y2="689.6" stroke="#555555" stroke-width="1.1"/>
<line x1="629.2" y1="689.6" x2="632.2" y2="689.6" stroke="#555555" stroke-width="1.1"/>
<rect x="633.2" y="695.4" width="4.9" height="4.9" fill="#4d6bcb"/>
<line x1="635.6" y1="695.4" x2="635.6" y2="693" stroke="#555555" stroke-width="1.1"/>
<line x1="634.1" y1="693" x2="637.1" y2="693" stroke="#555555" stroke-width="1.1"/>
<circle cx="630.2" cy="688.1" r="1.3" fill="none" stroke="#4a4a4a" stroke-width="1.25"/>
<circle cx="631.1" cy="693" r="1.3" fill="none" stroke="#4a4a4a" stroke-width="1.25"/>
<circle cx="635.1" cy="693" r="1.3" fill="none" stroke="#4a4a4a" stroke-width="1.25"/>
<circle cx="636" cy="697.9" r="1.3" fill="none" stroke="#4a4a4a" stroke-width="1.25"/>
<rect x="640.5" y="699.8" width="4.9" height="0.5" fill="#ee6064"/>
<rect x="645.4" y="699.8" width="4.9" height="0.5" fill="#4d6bcb"/>
<circle cx="642.5" cy="699.3" r="1.3" fill="none" stroke="#4a4a4a" stroke-width="1.25"/>
<circle cx="647.4" cy="699.3" r="1.3" fill="none" stroke="#4a4a4a" stroke-width="1.25"/>
<rect x="652.7" y="690.6" width="4.9" height="9.7" fill="#ee6064"/>
<circle cx="654.7" cy="687.6" r="1.3" fill="none" stroke="#4a4a4a" stroke-width="1.25"/>
<circle cx="655.6" cy="689.6" r="1.3" fill="none" stroke="#4a4a4a" stroke-width="1.25"/>
<circle cx="655.2" cy="697.9" r="1.3" fill="none" stroke="#4a4a4a" stroke-width="1.25"/>
<circle cx="659.6" cy="699.3" r="1.3" fill="none" stroke="#4a4a4a" stroke-width="1.25"/>
<rect x="664.9" y="694.9" width="4.9" height="5.4" fill="#ee6064"/>
<circle cx="666.9" cy="691.5" r="1.3" fill="none" stroke="#4a4a4a" stroke-width="1.25"/>
<circle cx="667.8" cy="693.5" r="1.3" fill="none" stroke="#4a4a4a" stroke-width="1.25"/>
<circle cx="671.8" cy="699.3" r="1.3" fill="none" stroke="#4a4a4a" stroke-width="1.25"/>
<rect x="677.1" y="692" width="4.9" height="8.3" fill="#ee6064"/>
<circle cx="679.1" cy="688.1" r="1.3" fill="none" stroke="#4a4a4a" stroke-width="1.25"/>
<circle cx="680" cy="690.6" r="1.3" fill="none" stroke="#4a4a4a" stroke-width="1.25"/>
<circle cx="679.6" cy="693" r="1.3" fill="none" stroke="#4a4a4a" stroke-width="1.25"/>
<circle cx="684" cy="699.3" r="1.3" fill="none" stroke="#4a4a4a" stroke-width="1.25"/>
<rect x="689.3" y="697.9" width="4.9" height="2.4" fill="#ee6064"/>
<rect x="694.2" y="699.3" width="4.9" height="1" fill="#4d6bcb"/>
<circle cx="691.3" cy="695.4" r="1.3" fill="none" stroke="#4a4a4a" stroke-width="1.25"/>
<circle cx="692.2" cy="697.4" r="1.3" fill="none" stroke="#4a4a4a" stroke-width="1.25"/>
<circle cx="696.2" cy="698.8" r="1.3" fill="none" stroke="#4a4a4a" stroke-width="1.25"/>
<rect x="701.6" y="699.3" width="4.9" height="1" fill="#ee6064"/>
<circle cx="703.5" cy="696.9" r="1.3" fill="none" stroke="#4a4a4a" stroke-width="1.25"/>
<rect x="713.8" y="699.8" width="4.9" height="0.5" fill="#ee6064"/>
<rect x="718.7" y="699.8" width="4.9" height="0.5" fill="#4d6bcb"/>
<circle cx="715.7" cy="698.4" r="1.3" fill="none" stroke="#4a4a4a" stroke-width="1.25"/>
<rect x="726" y="699.3" width="4.9" height="1" fill="#ee6064"/>
<circle cx="727.9" cy="698.4" r="1.3" fill="none" stroke="#4a4a4a" stroke-width="1.25"/>
<rect x="738.2" y="699.8" width="4.9" height="0.5" fill="#ee6064"/>
<circle cx="740.1" cy="698.8" r="1.3" fill="none" stroke="#4a4a4a" stroke-width="1.25"/>
<rect x="750.4" y="699.3" width="4.9" height="1" fill="#ee6064"/>
<circle cx="752.3" cy="697.4" r="1.3" fill="none" stroke="#4a4a4a" stroke-width="1.25"/>
<circle cx="757.2" cy="699.3" r="1.3" fill="none" stroke="#4a4a4a" stroke-width="1.25"/>
<text x="657.6" y="683.2" font-size="8.6" font-weight="bold" text-anchor="middle" fill="#333" letter-spacing="-0.2">*</text>
<line x1="655.4" y1="682.1" x2="659.8" y2="682.1" stroke="#333" stroke-width="1.1"/>
<text x="669.8" y="687.3" font-size="8.6" font-weight="bold" text-anchor="middle" fill="#333" letter-spacing="-0.2">*</text>
<line x1="667.6" y1="686.2" x2="672" y2="686.2" stroke="#333" stroke-width="1.1"/>
<text x="682" y="685.5" font-size="8.6" font-weight="bold" text-anchor="middle" fill="#333" letter-spacing="-0.2">*</text>
<line x1="679.8" y1="684.4" x2="684.2" y2="684.4" stroke="#333" stroke-width="1.1"/>
<line x1="271" y1="521.2" x2="271" y2="587.5" stroke="#000" stroke-width="2.1"/>
<line x1="271" y1="601.5" x2="271" y2="701.3" stroke="#000" stroke-width="2.1"/>
<line x1="265.4" y1="582.3" x2="277.5" y2="592.6" stroke="#000" stroke-width="2.1"/>
<line x1="265.4" y1="596.5" x2="277.5" y2="607.3" stroke="#000" stroke-width="2.1"/>
<line x1="264.8" y1="586" x2="271" y2="586" stroke="#000" stroke-width="2"/>
<text x="262.4" y="590" text-anchor="end" font-size="11" letter-spacing="0.55" fill="#1a1a1a">2.00</text>
<line x1="264.8" y1="564.4" x2="271" y2="564.4" stroke="#000" stroke-width="2"/>
<text x="262.4" y="568.4" text-anchor="end" font-size="11" letter-spacing="0.55" fill="#1a1a1a">4.00</text>
<line x1="264.8" y1="542.8" x2="271" y2="542.8" stroke="#000" stroke-width="2"/>
<text x="262.4" y="546.8" text-anchor="end" font-size="11" letter-spacing="0.55" fill="#1a1a1a">6.00</text>
<line x1="264.8" y1="521.2" x2="271" y2="521.2" stroke="#000" stroke-width="2"/>
<text x="262.4" y="525.2" text-anchor="end" font-size="11" letter-spacing="0.55" fill="#1a1a1a">8.00</text>
<line x1="264.8" y1="700.3" x2="271" y2="700.3" stroke="#000" stroke-width="2"/>
<text x="262.4" y="704.3" text-anchor="end" font-size="11" letter-spacing="0.55" fill="#1a1a1a">0.00</text>
<line x1="264.8" y1="675.9" x2="271" y2="675.9" stroke="#000" stroke-width="2"/>
<text x="262.4" y="679.9" text-anchor="end" font-size="11" letter-spacing="0.55" fill="#1a1a1a">0.50</text>
<line x1="264.8" y1="651.6" x2="271" y2="651.6" stroke="#000" stroke-width="2"/>
<text x="262.4" y="655.6" text-anchor="end" font-size="11" letter-spacing="0.55" fill="#1a1a1a">1.00</text>
<line x1="264.8" y1="627.2" x2="271" y2="627.2" stroke="#000" stroke-width="2"/>
<text x="262.4" y="631.2" text-anchor="end" font-size="11" letter-spacing="0.55" fill="#1a1a1a">1.50</text>
<line x1="270" y1="700.3" x2="765.8" y2="700.3" stroke="#000" stroke-width="2.3"/>
<line x1="278.5" y1="700.3" x2="278.5" y2="706.5" stroke="#000" stroke-width="2"/>
<text transform="translate(282.5 717.1) rotate(-45)" text-anchor="end" font-size="10.8" fill="#111">VENT</text>
<line x1="290.7" y1="700.3" x2="290.7" y2="706.5" stroke="#000" stroke-width="2"/>
<text transform="translate(294.7 717.1) rotate(-45)" text-anchor="end" font-size="10.8" fill="#111">PP</text>
<line x1="302.9" y1="700.3" x2="302.9" y2="706.5" stroke="#000" stroke-width="2"/>
<text transform="translate(306.9 717.1) rotate(-45)" text-anchor="end" font-size="10.8" fill="#111">MGd</text>
<line x1="315.1" y1="700.3" x2="315.1" y2="706.5" stroke="#000" stroke-width="2"/>
<text transform="translate(319.1 717.1) rotate(-45)" text-anchor="end" font-size="10.8" fill="#111">MGv</text>
<line x1="327.3" y1="700.3" x2="327.3" y2="706.5" stroke="#000" stroke-width="2"/>
<text transform="translate(331.3 717.1) rotate(-45)" text-anchor="end" font-size="10.8" fill="#111">MGm</text>
<line x1="339.6" y1="700.3" x2="339.6" y2="706.5" stroke="#000" stroke-width="2"/>
<text transform="translate(343.6 717.1) rotate(-45)" text-anchor="end" font-size="10.8" fill="#111">LGd</text>
<line x1="351.8" y1="700.3" x2="351.8" y2="706.5" stroke="#000" stroke-width="2"/>
<text transform="translate(355.8 717.1) rotate(-45)" text-anchor="end" font-size="10.8" fill="#111">LP</text>
<line x1="364" y1="700.3" x2="364" y2="706.5" stroke="#000" stroke-width="2"/>
<text transform="translate(368 717.1) rotate(-45)" text-anchor="end" font-size="10.8" fill="#111">SGN</text>
<line x1="376.2" y1="700.3" x2="376.2" y2="706.5" stroke="#000" stroke-width="2"/>
<text transform="translate(380.2 717.1) rotate(-45)" text-anchor="end" font-size="10.8" fill="#111">PO</text>
<line x1="388.4" y1="700.3" x2="388.4" y2="706.5" stroke="#000" stroke-width="2"/>
<text transform="translate(392.4 717.1) rotate(-45)" text-anchor="end" font-size="10.8" fill="#111">POL</text>
<line x1="400.6" y1="700.3" x2="400.6" y2="706.5" stroke="#000" stroke-width="2"/>
<text transform="translate(404.6 717.1) rotate(-45)" text-anchor="end" font-size="10.8" fill="#111">Eth</text>
<line x1="412.8" y1="700.3" x2="412.8" y2="706.5" stroke="#000" stroke-width="2"/>
<text transform="translate(416.8 717.1) rotate(-45)" text-anchor="end" font-size="10.8" fill="#111">ATN</text>
<line x1="425" y1="700.3" x2="425" y2="706.5" stroke="#000" stroke-width="2"/>
<text transform="translate(429 717.1) rotate(-45)" text-anchor="end" font-size="10.8" fill="#111">MED</text>
<line x1="437.2" y1="700.3" x2="437.2" y2="706.5" stroke="#000" stroke-width="2"/>
<text transform="translate(441.2 717.1) rotate(-45)" text-anchor="end" font-size="10.8" fill="#111">ILM</text>
<line x1="449.4" y1="700.3" x2="449.4" y2="706.5" stroke="#000" stroke-width="2"/>
<text transform="translate(453.4 717.1) rotate(-45)" text-anchor="end" font-size="10.8" fill="#111">GENv</text>
<line x1="461.6" y1="700.3" x2="461.6" y2="706.5" stroke="#000" stroke-width="2"/>
<text transform="translate(465.6 717.1) rotate(-45)" text-anchor="end" font-size="10.8" fill="#111">RT</text>
<line x1="473.9" y1="700.3" x2="473.9" y2="706.5" stroke="#000" stroke-width="2"/>
<text transform="translate(477.9 717.1) rotate(-45)" text-anchor="end" font-size="10.8" fill="#111">CA1</text>
<line x1="486.1" y1="700.3" x2="486.1" y2="706.5" stroke="#000" stroke-width="2"/>
<text transform="translate(490.1 717.1) rotate(-45)" text-anchor="end" font-size="10.8" fill="#111">DG-mo</text>
<line x1="498.3" y1="700.3" x2="498.3" y2="706.5" stroke="#000" stroke-width="2"/>
<text transform="translate(502.3 717.1) rotate(-45)" text-anchor="end" font-size="10.8" fill="#111">ENT</text>
<line x1="510.5" y1="700.3" x2="510.5" y2="706.5" stroke="#000" stroke-width="2"/>
<text transform="translate(514.5 717.1) rotate(-45)" text-anchor="end" font-size="10.8" fill="#111">ProS</text>
<line x1="522.7" y1="700.3" x2="522.7" y2="706.5" stroke="#000" stroke-width="2"/>
<text transform="translate(526.7 717.1) rotate(-45)" text-anchor="end" font-size="10.8" fill="#111">CLA</text>
<line x1="534.9" y1="700.3" x2="534.9" y2="706.5" stroke="#000" stroke-width="2"/>
<text transform="translate(538.9 717.1) rotate(-45)" text-anchor="end" font-size="10.8" fill="#111">EP</text>
<line x1="547.1" y1="700.3" x2="547.1" y2="706.5" stroke="#000" stroke-width="2"/>
<text transform="translate(551.1 717.1) rotate(-45)" text-anchor="end" font-size="10.8" fill="#111">LA</text>
<line x1="559.3" y1="700.3" x2="559.3" y2="706.5" stroke="#000" stroke-width="2"/>
<text transform="translate(563.3 717.1) rotate(-45)" text-anchor="end" font-size="10.8" fill="#111">BLA</text>
<line x1="571.5" y1="700.3" x2="571.5" y2="706.5" stroke="#000" stroke-width="2"/>
<text transform="translate(575.5 717.1) rotate(-45)" text-anchor="end" font-size="10.8" fill="#111">CP</text>
<line x1="583.8" y1="700.3" x2="583.8" y2="706.5" stroke="#000" stroke-width="2"/>
<text transform="translate(587.8 717.1) rotate(-45)" text-anchor="end" font-size="10.8" fill="#111">sAMY</text>
<line x1="596" y1="700.3" x2="596" y2="706.5" stroke="#000" stroke-width="2"/>
<text transform="translate(600 717.1) rotate(-45)" text-anchor="end" font-size="10.8" fill="#111">PALv</text>
<line x1="608.2" y1="700.3" x2="608.2" y2="706.5" stroke="#000" stroke-width="2"/>
<text transform="translate(612.2 717.1) rotate(-45)" text-anchor="end" font-size="10.8" fill="#111">PALd</text>
<line x1="620.4" y1="700.3" x2="620.4" y2="706.5" stroke="#000" stroke-width="2"/>
<text transform="translate(624.4 717.1) rotate(-45)" text-anchor="end" font-size="10.8" fill="#111">PIR</text>
<line x1="632.6" y1="700.3" x2="632.6" y2="706.5" stroke="#000" stroke-width="2"/>
<text transform="translate(636.6 717.1) rotate(-45)" text-anchor="end" font-size="10.8" fill="#111">LZ</text>
<line x1="644.8" y1="700.3" x2="644.8" y2="706.5" stroke="#000" stroke-width="2"/>
<text transform="translate(648.8 717.1) rotate(-45)" text-anchor="end" font-size="10.8" fill="#111">NB</text>
<line x1="657" y1="700.3" x2="657" y2="706.5" stroke="#000" stroke-width="2"/>
<text transform="translate(661 717.1) rotate(-45)" text-anchor="end" font-size="10.8" fill="#111">ICc</text>
<line x1="669.2" y1="700.3" x2="669.2" y2="706.5" stroke="#000" stroke-width="2"/>
<text transform="translate(673.2 717.1) rotate(-45)" text-anchor="end" font-size="10.8" fill="#111">ICd</text>
<line x1="681.4" y1="700.3" x2="681.4" y2="706.5" stroke="#000" stroke-width="2"/>
<text transform="translate(685.4 717.1) rotate(-45)" text-anchor="end" font-size="10.8" fill="#111">ICe</text>
<line x1="693.6" y1="700.3" x2="693.6" y2="706.5" stroke="#000" stroke-width="2"/>
<text transform="translate(697.6 717.1) rotate(-45)" text-anchor="end" font-size="10.8" fill="#111">SCs</text>
<line x1="705.9" y1="700.3" x2="705.9" y2="706.5" stroke="#000" stroke-width="2"/>
<text transform="translate(709.9 717.1) rotate(-45)" text-anchor="end" font-size="10.8" fill="#111">SCm</text>
<line x1="718.1" y1="700.3" x2="718.1" y2="706.5" stroke="#000" stroke-width="2"/>
<text transform="translate(722.1 717.1) rotate(-45)" text-anchor="end" font-size="10.8" fill="#111">PRT</text>
<line x1="730.3" y1="700.3" x2="730.3" y2="706.5" stroke="#000" stroke-width="2"/>
<text transform="translate(734.3 717.1) rotate(-45)" text-anchor="end" font-size="10.8" fill="#111">MRN</text>
<line x1="742.5" y1="700.3" x2="742.5" y2="706.5" stroke="#000" stroke-width="2"/>
<text transform="translate(746.5 717.1) rotate(-45)" text-anchor="end" font-size="10.8" fill="#111">SNr</text>
<line x1="754.7" y1="700.3" x2="754.7" y2="706.5" stroke="#000" stroke-width="2"/>
<text transform="translate(758.7 717.1) rotate(-45)" text-anchor="end" font-size="10.8" fill="#111">P-mot</text>
<line x1="274" y1="743.6" x2="468.2" y2="743.6" stroke="#000" stroke-width="1.5"/>
<text x="370.8" y="756.8" text-anchor="middle" font-size="12.3" fill="#111">TH</text>
<line x1="517.2" y1="743.6" x2="565" y2="743.6" stroke="#000" stroke-width="1.5"/>
<text x="541.2" y="756.8" text-anchor="middle" font-size="12.3" fill="#111">CTXsp</text>
<line x1="591" y1="743.6" x2="614" y2="743.6" stroke="#000" stroke-width="1.5"/>
<text x="602.5" y="756.8" text-anchor="middle" font-size="12.3" fill="#111">PAL</text>
<line x1="626.7" y1="743.6" x2="639" y2="743.6" stroke="#000" stroke-width="1.5"/>
<text x="632.9" y="756.8" text-anchor="middle" font-size="12.3" fill="#111">HY</text>
<line x1="749.3" y1="743.6" x2="761.6" y2="743.6" stroke="#000" stroke-width="1.5"/>
<text x="755.2" y="756.8" text-anchor="middle" font-size="12.3" fill="#111">P</text>
<line x1="60.1" y1="864.2" x2="221.7" y2="864.2" stroke="#a3a3a3" stroke-width="1.05" stroke-dasharray="2.6 3.0"/>
<line x1="60.1" y1="831.7" x2="221.7" y2="831.7" stroke="#a3a3a3" stroke-width="1.05" stroke-dasharray="2.6 3.0"/>
<line x1="60.1" y1="946.1" x2="221.7" y2="946.1" stroke="#a3a3a3" stroke-width="1.05" stroke-dasharray="2.6 3.0"/>
<line x1="60.1" y1="913.7" x2="221.7" y2="913.7" stroke="#a3a3a3" stroke-width="1.05" stroke-dasharray="2.6 3.0"/>
<rect x="61.7" y="881.3" width="4.9" height="97.2" fill="#f8c34e"/>
<rect x="61.7" y="845.2" width="4.9" height="19" fill="#f8c34e"/>
<line x1="64.1" y1="845.2" x2="64.1" y2="838" stroke="#555555" stroke-width="1.1"/>
<line x1="62.6" y1="838" x2="65.6" y2="838" stroke="#555555" stroke-width="1.1"/>
<rect x="66.6" y="881.3" width="4.9" height="97.2" fill="#80c463"/>
<rect x="66.6" y="823.1" width="4.9" height="41.1" fill="#80c463"/>
<line x1="69" y1="823.1" x2="69" y2="816.4" stroke="#555555" stroke-width="1.1"/>
<line x1="67.5" y1="816.4" x2="70.5" y2="816.4" stroke="#555555" stroke-width="1.1"/>
<circle cx="63.6" cy="832.1" r="1.3" fill="none" stroke="#4a4a4a" stroke-width="1.25"/>
<circle cx="64.5" cy="855.3" r="1.3" fill="none" stroke="#4a4a4a" stroke-width="1.25"/>
<circle cx="64.1" cy="863.8" r="1.3" fill="none" stroke="#4a4a4a" stroke-width="1.25"/>
<circle cx="68.5" cy="815.5" r="1.3" fill="none" stroke="#4a4a4a" stroke-width="1.25"/>
<circle cx="69.5" cy="815.6" r="1.3" fill="none" stroke="#4a4a4a" stroke-width="1.25"/>
<circle cx="69" cy="839.3" r="1.3" fill="none" stroke="#4a4a4a" stroke-width="1.25"/>
<rect x="74.1" y="881.3" width="4.9" height="97.2" fill="#f8c34e"/>
<rect x="74.1" y="860.6" width="4.9" height="3.6" fill="#f8c34e"/>
<line x1="76.6" y1="860.6" x2="76.6" y2="850.9" stroke="#555555" stroke-width="1.1"/>
<line x1="75.1" y1="850.9" x2="78.1" y2="850.9" stroke="#555555" stroke-width="1.1"/>
<rect x="79" y="881.3" width="4.9" height="97.2" fill="#80c463"/>
<rect x="79" y="858.3" width="4.9" height="5.9" fill="#80c463"/>
<line x1="81.5" y1="858.3" x2="81.5" y2="850.3" stroke="#555555" stroke-width="1.1"/>
<line x1="80" y1="850.3" x2="83" y2="850.3" stroke="#555555" stroke-width="1.1"/>
<circle cx="76.1" cy="846.3" r="1.3" fill="none" stroke="#4a4a4a" stroke-width="1.25"/>
<circle cx="77" cy="857.9" r="1.3" fill="none" stroke="#4a4a4a" stroke-width="1.25"/>
<circle cx="76.6" cy="863.8" r="1.3" fill="none" stroke="#4a4a4a" stroke-width="1.25"/>
<circle cx="81" cy="842.4" r="1.3" fill="none" stroke="#4a4a4a" stroke-width="1.25"/>
<circle cx="81.9" cy="862.6" r="1.3" fill="none" stroke="#4a4a4a" stroke-width="1.25"/>
<circle cx="81.5" cy="863.8" r="1.3" fill="none" stroke="#4a4a4a" stroke-width="1.25"/>
<rect x="86.6" y="965.9" width="4.9" height="12.6" fill="#f8c34e"/>
<line x1="89" y1="965.9" x2="89" y2="962.6" stroke="#555555" stroke-width="1.1"/>
<line x1="87.5" y1="962.6" x2="90.5" y2="962.6" stroke="#555555" stroke-width="1.1"/>
<rect x="91.5" y="977.9" width="4.9" height="0.6" fill="#80c463"/>
<circle cx="88.5" cy="959.1" r="1.3" fill="none" stroke="#4a4a4a" stroke-width="1.25"/>
<circle cx="89.4" cy="964.9" r="1.3" fill="none" stroke="#4a4a4a" stroke-width="1.25"/>
<circle cx="89" cy="971.4" r="1.3" fill="none" stroke="#4a4a4a" stroke-width="1.25"/>
<circle cx="93.4" cy="975.3" r="1.3" fill="none" stroke="#4a4a4a" stroke-width="1.25"/>
<circle cx="94.3" cy="976.9" r="1.3" fill="none" stroke="#4a4a4a" stroke-width="1.25"/>
<rect x="99" y="965.5" width="4.9" height="13" fill="#f8c34e"/>
<line x1="101.5" y1="965.5" x2="101.5" y2="954.2" stroke="#555555" stroke-width="1.1"/>
<line x1="100" y1="954.2" x2="103" y2="954.2" stroke="#555555" stroke-width="1.1"/>
<circle cx="101" cy="942.9" r="1.3" fill="none" stroke="#4a4a4a" stroke-width="1.25"/>
<circle cx="101.9" cy="975.3" r="1.3" fill="none" stroke="#4a4a4a" stroke-width="1.25"/>
<circle cx="101.5" cy="977.9" r="1.3" fill="none" stroke="#4a4a4a" stroke-width="1.25"/>
<circle cx="105.9" cy="977.9" r="1.3" fill="none" stroke="#4a4a4a" stroke-width="1.25"/>
<rect x="111.5" y="977.5" width="4.9" height="1" fill="#f8c34e"/>
<rect x="116.4" y="977.9" width="4.9" height="0.6" fill="#80c463"/>
<circle cx="113.4" cy="976.6" r="1.3" fill="none" stroke="#4a4a4a" stroke-width="1.25"/>
<circle cx="118.3" cy="976.9" r="1.3" fill="none" stroke="#4a4a4a" stroke-width="1.25"/>
<rect x="123.9" y="973.6" width="4.9" height="4.9" fill="#f8c34e"/>
<line x1="126.3" y1="973.6" x2="126.3" y2="968.8" stroke="#555555" stroke-width="1.1"/>
<line x1="124.8" y1="968.8" x2="127.8" y2="968.8" stroke="#555555" stroke-width="1.1"/>
<circle cx="125.8" cy="963.3" r="1.3" fill="none" stroke="#4a4a4a" stroke-width="1.25"/>
<circle cx="126.7" cy="972.7" r="1.3" fill="none" stroke="#4a4a4a" stroke-width="1.25"/>
<circle cx="126.3" cy="977.9" r="1.3" fill="none" stroke="#4a4a4a" stroke-width="1.25"/>
<rect x="136.3" y="978.3" width="4.9" height="0.2" fill="#f8c34e"/>
<rect x="141.2" y="978.3" width="4.9" height="0.2" fill="#80c463"/>
<rect x="148.8" y="978.3" width="4.9" height="0.2" fill="#f8c34e"/>
<rect x="153.7" y="978.3" width="4.9" height="0.2" fill="#80c463"/>
<rect x="161.2" y="936.1" width="4.9" height="42.4" fill="#f8c34e"/>
<line x1="163.7" y1="936.1" x2="163.7" y2="916.6" stroke="#555555" stroke-width="1.1"/>
<line x1="162.2" y1="916.6" x2="165.2" y2="916.6" stroke="#555555" stroke-width="1.1"/>
<rect x="166.1" y="977.9" width="4.9" height="0.6" fill="#80c463"/>
<circle cx="163.2" cy="916.9" r="1.3" fill="none" stroke="#4a4a4a" stroke-width="1.25"/>
<circle cx="164.1" cy="918.6" r="1.3" fill="none" stroke="#4a4a4a" stroke-width="1.25"/>
<circle cx="163.7" cy="970.4" r="1.3" fill="none" stroke="#4a4a4a" stroke-width="1.25"/>
<circle cx="168.1" cy="976.9" r="1.3" fill="none" stroke="#4a4a4a" stroke-width="1.25"/>
<rect x="173.7" y="978.3" width="4.9" height="0.2" fill="#f8c34e"/>
<rect x="186.1" y="975.3" width="4.9" height="3.2" fill="#f8c34e"/>
<line x1="188.5" y1="975.3" x2="188.5" y2="970.4" stroke="#555555" stroke-width="1.1"/>
<line x1="187" y1="970.4" x2="190" y2="970.4" stroke="#555555" stroke-width="1.1"/>
<circle cx="188" cy="969.1" r="1.3" fill="none" stroke="#4a4a4a" stroke-width="1.25"/>
<circle cx="188.9" cy="975.3" r="1.3" fill="none" stroke="#4a4a4a" stroke-width="1.25"/>
<circle cx="188.5" cy="976.9" r="1.3" fill="none" stroke="#4a4a4a" stroke-width="1.25"/>
<rect x="198.5" y="974.6" width="4.9" height="3.9" fill="#f8c34e"/>
<rect x="203.4" y="977.9" width="4.9" height="0.6" fill="#80c463"/>
<circle cx="200.5" cy="973" r="1.3" fill="none" stroke="#4a4a4a" stroke-width="1.25"/>
<circle cx="201.4" cy="974.6" r="1.3" fill="none" stroke="#4a4a4a" stroke-width="1.25"/>
<circle cx="201" cy="975.3" r="1.3" fill="none" stroke="#4a4a4a" stroke-width="1.25"/>
<circle cx="205.4" cy="977.5" r="1.3" fill="none" stroke="#4a4a4a" stroke-width="1.25"/>
<rect x="211" y="963.6" width="4.9" height="14.9" fill="#f8c34e"/>
<line x1="213.4" y1="963.6" x2="213.4" y2="959.7" stroke="#555555" stroke-width="1.1"/>
<line x1="211.9" y1="959.7" x2="214.9" y2="959.7" stroke="#555555" stroke-width="1.1"/>
<rect x="215.9" y="967.8" width="4.9" height="10.7" fill="#80c463"/>
<line x1="218.3" y1="967.8" x2="218.3" y2="966.2" stroke="#555555" stroke-width="1.1"/>
<line x1="216.8" y1="966.2" x2="219.8" y2="966.2" stroke="#555555" stroke-width="1.1"/>
<circle cx="212.9" cy="959.7" r="1.3" fill="none" stroke="#4a4a4a" stroke-width="1.25"/>
<circle cx="213.8" cy="962.3" r="1.3" fill="none" stroke="#4a4a4a" stroke-width="1.25"/>
<circle cx="213.4" cy="966.2" r="1.3" fill="none" stroke="#4a4a4a" stroke-width="1.25"/>
<circle cx="217.8" cy="964.9" r="1.3" fill="none" stroke="#4a4a4a" stroke-width="1.25"/>
<circle cx="218.7" cy="966.2" r="1.3" fill="none" stroke="#4a4a4a" stroke-width="1.25"/>
<circle cx="218.3" cy="970.4" r="1.3" fill="none" stroke="#4a4a4a" stroke-width="1.25"/>
<text x="91.5" y="956.1" font-size="8.6" font-weight="bold" text-anchor="middle" fill="#333" letter-spacing="-0.2">*</text>
<line x1="89.3" y1="955" x2="93.7" y2="955" stroke="#333" stroke-width="1.1"/>
<text x="203.4" y="969" font-size="8.6" font-weight="bold" text-anchor="middle" fill="#333" letter-spacing="-0.2">**</text>
<line x1="199.8" y1="967.9" x2="207" y2="967.9" stroke="#333" stroke-width="1.1"/>
<line x1="58.6" y1="799.2" x2="58.6" y2="866.5" stroke="#000" stroke-width="2.1"/>
<line x1="58.6" y1="880.5" x2="58.6" y2="979.5" stroke="#000" stroke-width="2.1"/>
<line x1="53.2" y1="861.4" x2="64" y2="871.5" stroke="#000" stroke-width="2.1"/>
<line x1="53.2" y1="875" x2="64" y2="885.3" stroke="#000" stroke-width="2.1"/>
<line x1="52.4" y1="864.2" x2="58.6" y2="864.2" stroke="#000" stroke-width="2"/>
<text x="50" y="868.2" text-anchor="end" font-size="11" letter-spacing="0.55" fill="#1a1a1a">20.00</text>
<line x1="52.4" y1="831.7" x2="58.6" y2="831.7" stroke="#000" stroke-width="2"/>
<text x="50" y="835.7" text-anchor="end" font-size="11" letter-spacing="0.55" fill="#1a1a1a">60.00</text>
<line x1="52.4" y1="799.2" x2="58.6" y2="799.2" stroke="#000" stroke-width="2"/>
<text x="50" y="803.2" text-anchor="end" font-size="11" letter-spacing="0.55" fill="#1a1a1a">100.00</text>
<line x1="52.4" y1="978.5" x2="58.6" y2="978.5" stroke="#000" stroke-width="2"/>
<text x="50" y="982.5" text-anchor="end" font-size="11" letter-spacing="0.55" fill="#1a1a1a">0.00</text>
<line x1="52.4" y1="946.1" x2="58.6" y2="946.1" stroke="#000" stroke-width="2"/>
<text x="50" y="950.1" text-anchor="end" font-size="11" letter-spacing="0.55" fill="#1a1a1a">1.00</text>
<line x1="52.4" y1="913.7" x2="58.6" y2="913.7" stroke="#000" stroke-width="2"/>
<text x="50" y="917.7" text-anchor="end" font-size="11" letter-spacing="0.55" fill="#1a1a1a">2.00</text>
<line x1="57.6" y1="978.5" x2="221.7" y2="978.5" stroke="#000" stroke-width="2.3"/>
<line x1="66" y1="978.5" x2="66" y2="984.7" stroke="#000" stroke-width="2"/>
<text transform="translate(70 995.3) rotate(-45)" text-anchor="end" font-size="10.8" fill="#111">AUD</text>
<line x1="78.4" y1="978.5" x2="78.4" y2="984.7" stroke="#000" stroke-width="2"/>
<text transform="translate(82.4 995.3) rotate(-45)" text-anchor="end" font-size="10.8" fill="#111">SS</text>
<line x1="90.9" y1="978.5" x2="90.9" y2="984.7" stroke="#000" stroke-width="2"/>
<text transform="translate(94.9 995.3) rotate(-45)" text-anchor="end" font-size="10.8" fill="#111">VIS</text>
<line x1="103.3" y1="978.5" x2="103.3" y2="984.7" stroke="#000" stroke-width="2"/>
<text transform="translate(107.3 995.3) rotate(-45)" text-anchor="end" font-size="10.8" fill="#111">MO</text>
<line x1="115.8" y1="978.5" x2="115.8" y2="984.7" stroke="#000" stroke-width="2"/>
<text transform="translate(119.8 995.3) rotate(-45)" text-anchor="end" font-size="10.8" fill="#111">ACA</text>
<line x1="128.2" y1="978.5" x2="128.2" y2="984.7" stroke="#000" stroke-width="2"/>
<text transform="translate(132.2 995.3) rotate(-45)" text-anchor="end" font-size="10.8" fill="#111">AI</text>
<line x1="140.6" y1="978.5" x2="140.6" y2="984.7" stroke="#000" stroke-width="2"/>
<text transform="translate(144.6 995.3) rotate(-45)" text-anchor="end" font-size="10.8" fill="#111">PERI</text>
<line x1="153.1" y1="978.5" x2="153.1" y2="984.7" stroke="#000" stroke-width="2"/>
<text transform="translate(157.1 995.3) rotate(-45)" text-anchor="end" font-size="10.8" fill="#111">ECT</text>
<line x1="165.5" y1="978.5" x2="165.5" y2="984.7" stroke="#000" stroke-width="2"/>
<text transform="translate(169.5 995.3) rotate(-45)" text-anchor="end" font-size="10.8" fill="#111">VISC</text>
<line x1="178" y1="978.5" x2="178" y2="984.7" stroke="#000" stroke-width="2"/>
<text transform="translate(182 995.3) rotate(-45)" text-anchor="end" font-size="10.8" fill="#111">ORB</text>
<line x1="190.4" y1="978.5" x2="190.4" y2="984.7" stroke="#000" stroke-width="2"/>
<text transform="translate(194.4 995.3) rotate(-45)" text-anchor="end" font-size="10.8" fill="#111">RSP</text>
<line x1="202.8" y1="978.5" x2="202.8" y2="984.7" stroke="#000" stroke-width="2"/>
<text transform="translate(206.8 995.3) rotate(-45)" text-anchor="end" font-size="10.8" fill="#111">PTLp</text>
<line x1="215.3" y1="978.5" x2="215.3" y2="984.7" stroke="#000" stroke-width="2"/>
<text transform="translate(219.3 995.3) rotate(-45)" text-anchor="end" font-size="10.8" fill="#111">TEa</text>
<line x1="98.1" y1="1021.5" x2="109.6" y2="1021.5" stroke="#000" stroke-width="1.5"/>
<text x="103.4" y="1034.7" text-anchor="middle" font-size="12.3" fill="#111">Motor</text>
<line x1="197.5" y1="1021.5" x2="221.6" y2="1021.5" stroke="#000" stroke-width="1.5"/>
<text x="210" y="1034.7" text-anchor="middle" font-size="12.3" fill="#111">Association</text>
<line x1="272.5" y1="864.2" x2="765.8" y2="864.2" stroke="#a3a3a3" stroke-width="1.05" stroke-dasharray="2.6 3.0"/>
<line x1="272.5" y1="827.1" x2="765.8" y2="827.1" stroke="#a3a3a3" stroke-width="1.05" stroke-dasharray="2.6 3.0"/>
<line x1="272.5" y1="930" x2="765.8" y2="930" stroke="#a3a3a3" stroke-width="1.05" stroke-dasharray="2.6 3.0"/>
<rect x="274.2" y="975.1" width="4.9" height="3.4" fill="#f8c34e"/>
<rect x="279.1" y="976.1" width="4.9" height="2.4" fill="#80c463"/>
<circle cx="276.2" cy="974.1" r="1.3" fill="none" stroke="#4a4a4a" stroke-width="1.25"/>
<circle cx="277.1" cy="975.1" r="1.3" fill="none" stroke="#4a4a4a" stroke-width="1.25"/>
<circle cx="281.1" cy="975.6" r="1.3" fill="none" stroke="#4a4a4a" stroke-width="1.25"/>
<rect x="286.4" y="971.2" width="4.9" height="7.3" fill="#f8c34e"/>
<circle cx="288.4" cy="966.9" r="1.3" fill="none" stroke="#4a4a4a" stroke-width="1.25"/>
<circle cx="289.3" cy="970.3" r="1.3" fill="none" stroke="#4a4a4a" stroke-width="1.25"/>
<circle cx="288.9" cy="975.1" r="1.3" fill="none" stroke="#4a4a4a" stroke-width="1.25"/>
<rect x="298.6" y="970.3" width="4.9" height="8.2" fill="#f8c34e"/>
<line x1="301.1" y1="970.3" x2="301.1" y2="962.5" stroke="#555555" stroke-width="1.1"/>
<line x1="299.6" y1="962.5" x2="302.6" y2="962.5" stroke="#555555" stroke-width="1.1"/>
<circle cx="300.6" cy="956.2" r="1.3" fill="none" stroke="#4a4a4a" stroke-width="1.25"/>
<circle cx="301.5" cy="977" r="1.3" fill="none" stroke="#4a4a4a" stroke-width="1.25"/>
<circle cx="301.1" cy="977.5" r="1.3" fill="none" stroke="#4a4a4a" stroke-width="1.25"/>
<rect x="310.8" y="881.5" width="4.9" height="97" fill="#f8c34e"/>
<rect x="310.8" y="863.9" width="4.9" height="0.3" fill="#f8c34e"/>
<line x1="313.3" y1="863.9" x2="313.3" y2="858.5" stroke="#555555" stroke-width="1.1"/>
<line x1="311.8" y1="858.5" x2="314.8" y2="858.5" stroke="#555555" stroke-width="1.1"/>
<circle cx="312.8" cy="853.8" r="1.3" fill="none" stroke="#4a4a4a" stroke-width="1.25"/>
<circle cx="313.7" cy="951.3" r="1.3" fill="none" stroke="#4a4a4a" stroke-width="1.25"/>
<circle cx="313.3" cy="971.2" r="1.3" fill="none" stroke="#4a4a4a" stroke-width="1.25"/>
<rect x="323" y="976.1" width="4.9" height="2.4" fill="#f8c34e"/>
<circle cx="325" cy="973.6" r="1.3" fill="none" stroke="#4a4a4a" stroke-width="1.25"/>
<circle cx="325.9" cy="975.6" r="1.3" fill="none" stroke="#4a4a4a" stroke-width="1.25"/>
<rect x="335.3" y="977" width="4.9" height="1.5" fill="#f8c34e"/>
<circle cx="337.2" cy="973.6" r="1.3" fill="none" stroke="#4a4a4a" stroke-width="1.25"/>
<rect x="347.5" y="976.6" width="4.9" height="1.9" fill="#f8c34e"/>
<circle cx="349.4" cy="973.6" r="1.3" fill="none" stroke="#4a4a4a" stroke-width="1.25"/>
<rect x="359.7" y="977.5" width="4.9" height="1" fill="#f8c34e"/>
<circle cx="361.6" cy="976.6" r="1.3" fill="none" stroke="#4a4a4a" stroke-width="1.25"/>
<rect x="371.9" y="978" width="4.9" height="0.5" fill="#f8c34e"/>
<circle cx="373.8" cy="977" r="1.3" fill="none" stroke="#4a4a4a" stroke-width="1.25"/>
<rect x="384.1" y="978" width="4.9" height="0.5" fill="#f8c34e"/>
<circle cx="386" cy="977" r="1.3" fill="none" stroke="#4a4a4a" stroke-width="1.25"/>
<rect x="396.3" y="978.3" width="4.9" height="0.2" fill="#f8c34e"/>
<rect x="432.9" y="975.1" width="4.9" height="3.4" fill="#f8c34e"/>
<circle cx="434.9" cy="972.7" r="1.3" fill="none" stroke="#4a4a4a" stroke-width="1.25"/>
<circle cx="435.8" cy="974.6" r="1.3" fill="none" stroke="#4a4a4a" stroke-width="1.25"/>
<rect x="445.1" y="935.3" width="4.9" height="43.2" fill="#f8c34e"/>
<line x1="447.6" y1="935.3" x2="447.6" y2="895.1" stroke="#555555" stroke-width="1.1"/>
<line x1="446.1" y1="895.1" x2="449.1" y2="895.1" stroke="#555555" stroke-width="1.1"/>
<circle cx="447.1" cy="862.8" r="1.3" fill="none" stroke="#4a4a4a" stroke-width="1.25"/>
<circle cx="448" cy="972.2" r="1.3" fill="none" stroke="#4a4a4a" stroke-width="1.25"/>
<rect x="457.4" y="951.8" width="4.9" height="26.7" fill="#f8c34e"/>
<line x1="459.8" y1="951.8" x2="459.8" y2="934.4" stroke="#555555" stroke-width="1.1"/>
<line x1="458.3" y1="934.4" x2="461.3" y2="934.4" stroke="#555555" stroke-width="1.1"/>
<circle cx="459.3" cy="921.8" r="1.3" fill="none" stroke="#4a4a4a" stroke-width="1.25"/>
<circle cx="460.2" cy="951.8" r="1.3" fill="none" stroke="#4a4a4a" stroke-width="1.25"/>
<rect x="518.4" y="978.3" width="4.9" height="0.2" fill="#f8c34e"/>
<rect x="530.6" y="977" width="4.9" height="1.5" fill="#f8c34e"/>
<circle cx="532.6" cy="974.6" r="1.3" fill="none" stroke="#4a4a4a" stroke-width="1.25"/>
<circle cx="533.5" cy="977.5" r="1.3" fill="none" stroke="#4a4a4a" stroke-width="1.25"/>
<rect x="542.8" y="957.2" width="4.9" height="21.3" fill="#f8c34e"/>
<line x1="545.3" y1="957.2" x2="545.3" y2="940.7" stroke="#555555" stroke-width="1.1"/>
<line x1="543.8" y1="940.7" x2="546.8" y2="940.7" stroke="#555555" stroke-width="1.1"/>
<circle cx="544.8" cy="926.1" r="1.3" fill="none" stroke="#4a4a4a" stroke-width="1.25"/>
<circle cx="545.7" cy="964.4" r="1.3" fill="none" stroke="#4a4a4a" stroke-width="1.25"/>
<rect x="567.2" y="881.5" width="4.9" height="97" fill="#f8c34e"/>
<rect x="567.2" y="841" width="4.9" height="23.2" fill="#f8c34e"/>
<line x1="569.7" y1="841" x2="569.7" y2="821.7" stroke="#555555" stroke-width="1.1"/>
<line x1="568.2" y1="821.7" x2="571.2" y2="821.7" stroke="#555555" stroke-width="1.1"/>
<rect x="572.1" y="947" width="4.9" height="31.5" fill="#80c463"/>
<line x1="574.6" y1="947" x2="574.6" y2="917.4" stroke="#555555" stroke-width="1.1"/>
<line x1="573.1" y1="917.4" x2="576.1" y2="917.4" stroke="#555555" stroke-width="1.1"/>
<circle cx="569.2" cy="803.8" r="1.3" fill="none" stroke="#4a4a4a" stroke-width="1.25"/>
<circle cx="570.1" cy="853.5" r="1.3" fill="none" stroke="#4a4a4a" stroke-width="1.25"/>
<circle cx="569.7" cy="903.3" r="1.3" fill="none" stroke="#4a4a4a" stroke-width="1.25"/>
<circle cx="574.1" cy="888.8" r="1.3" fill="none" stroke="#4a4a4a" stroke-width="1.25"/>
<circle cx="575" cy="976.1" r="1.3" fill="none" stroke="#4a4a4a" stroke-width="1.25"/>
<rect x="579.5" y="977" width="4.9" height="1.5" fill="#f8c34e"/>
<rect x="584.4" y="977.5" width="4.9" height="1" fill="#80c463"/>
<circle cx="581.4" cy="972.2" r="1.3" fill="none" stroke="#4a4a4a" stroke-width="1.25"/>
<circle cx="582.3" cy="976.1" r="1.3" fill="none" stroke="#4a4a4a" stroke-width="1.25"/>
<rect x="603.9" y="916.4" width="4.9" height="62.1" fill="#f8c34e"/>
<line x1="606.3" y1="916.4" x2="606.3" y2="884.4" stroke="#555555" stroke-width="1.1"/>
<line x1="604.8" y1="884.4" x2="607.8" y2="884.4" stroke="#555555" stroke-width="1.1"/>
<circle cx="605.8" cy="863.3" r="1.3" fill="none" stroke="#4a4a4a" stroke-width="1.25"/>
<circle cx="606.7" cy="915.5" r="1.3" fill="none" stroke="#4a4a4a" stroke-width="1.25"/>
<circle cx="606.3" cy="973.6" r="1.3" fill="none" stroke="#4a4a4a" stroke-width="1.25"/>
<rect x="616.1" y="978" width="4.9" height="0.5" fill="#f8c34e"/>
<rect x="628.3" y="977" width="4.9" height="1.5" fill="#f8c34e"/>
<circle cx="630.2" cy="974.6" r="1.3" fill="none" stroke="#4a4a4a" stroke-width="1.25"/>
<circle cx="631.1" cy="975.6" r="1.3" fill="none" stroke="#4a4a4a" stroke-width="1.25"/>
<rect x="640.5" y="977" width="4.9" height="1.5" fill="#f8c34e"/>
<circle cx="642.5" cy="968.8" r="1.3" fill="none" stroke="#4a4a4a" stroke-width="1.25"/>
<circle cx="643.4" cy="977" r="1.3" fill="none" stroke="#4a4a4a" stroke-width="1.25"/>
<rect x="652.7" y="975.6" width="4.9" height="2.9" fill="#f8c34e"/>
<line x1="655.2" y1="975.6" x2="655.2" y2="972.2" stroke="#555555" stroke-width="1.1"/>
<line x1="653.7" y1="972.2" x2="656.7" y2="972.2" stroke="#555555" stroke-width="1.1"/>
<circle cx="654.7" cy="964" r="1.3" fill="none" stroke="#4a4a4a" stroke-width="1.25"/>
<circle cx="655.6" cy="976.1" r="1.3" fill="none" stroke="#4a4a4a" stroke-width="1.25"/>
<rect x="664.9" y="921.3" width="4.9" height="57.2" fill="#f8c34e"/>
<line x1="667.4" y1="921.3" x2="667.4" y2="881.5" stroke="#555555" stroke-width="1.1"/>
<line x1="667.4" y1="864.2" x2="667.4" y2="863.8" stroke="#555555" stroke-width="1.1"/>
<line x1="665.9" y1="863.8" x2="668.9" y2="863.8" stroke="#555555" stroke-width="1.1"/>
<circle cx="666.9" cy="861.2" r="1.3" fill="none" stroke="#4a4a4a" stroke-width="1.25"/>
<circle cx="667.8" cy="968.8" r="1.3" fill="none" stroke="#4a4a4a" stroke-width="1.25"/>
<circle cx="667.4" cy="976.1" r="1.3" fill="none" stroke="#4a4a4a" stroke-width="1.25"/>
<rect x="677.1" y="886.8" width="4.9" height="91.7" fill="#f8c34e"/>
<line x1="679.6" y1="886.8" x2="679.6" y2="881.5" stroke="#555555" stroke-width="1.1"/>
<line x1="679.6" y1="864.2" x2="679.6" y2="863.8" stroke="#555555" stroke-width="1.1"/>
<line x1="678.1" y1="863.8" x2="681.1" y2="863.8" stroke="#555555" stroke-width="1.1"/>
<circle cx="679.1" cy="856.3" r="1.3" fill="none" stroke="#4a4a4a" stroke-width="1.25"/>
<circle cx="680" cy="951.8" r="1.3" fill="none" stroke="#4a4a4a" stroke-width="1.25"/>
<circle cx="679.6" cy="973.6" r="1.3" fill="none" stroke="#4a4a4a" stroke-width="1.25"/>
<rect x="689.3" y="881.5" width="4.9" height="97" fill="#f8c34e"/>
<rect x="689.3" y="862" width="4.9" height="2.2" fill="#f8c34e"/>
<line x1="691.8" y1="862" x2="691.8" y2="856.3" stroke="#555555" stroke-width="1.1"/>
<line x1="690.3" y1="856.3" x2="693.3" y2="856.3" stroke="#555555" stroke-width="1.1"/>
<circle cx="691.3" cy="850.5" r="1.3" fill="none" stroke="#4a4a4a" stroke-width="1.25"/>
<circle cx="692.2" cy="917.9" r="1.3" fill="none" stroke="#4a4a4a" stroke-width="1.25"/>
<circle cx="691.8" cy="949.4" r="1.3" fill="none" stroke="#4a4a4a" stroke-width="1.25"/>
<rect x="701.6" y="961" width="4.9" height="17.5" fill="#f8c34e"/>
<line x1="704" y1="961" x2="704" y2="949.9" stroke="#555555" stroke-width="1.1"/>
<line x1="702.5" y1="949.9" x2="705.5" y2="949.9" stroke="#555555" stroke-width="1.1"/>
<circle cx="703.5" cy="942.1" r="1.3" fill="none" stroke="#4a4a4a" stroke-width="1.25"/>
<circle cx="704.4" cy="969.8" r="1.3" fill="none" stroke="#4a4a4a" stroke-width="1.25"/>
<circle cx="704" cy="976.1" r="1.3" fill="none" stroke="#4a4a4a" stroke-width="1.25"/>
<rect x="713.8" y="978" width="4.9" height="0.5" fill="#f8c34e"/>
<circle cx="715.7" cy="977" r="1.3" fill="none" stroke="#4a4a4a" stroke-width="1.25"/>
<rect x="726" y="971.2" width="4.9" height="7.3" fill="#f8c34e"/>
<line x1="728.4" y1="971.2" x2="728.4" y2="966.4" stroke="#555555" stroke-width="1.1"/>
<line x1="726.9" y1="966.4" x2="729.9" y2="966.4" stroke="#555555" stroke-width="1.1"/>
<circle cx="727.9" cy="964" r="1.3" fill="none" stroke="#4a4a4a" stroke-width="1.25"/>
<circle cx="728.8" cy="971.2" r="1.3" fill="none" stroke="#4a4a4a" stroke-width="1.25"/>
<circle cx="728.4" cy="976.1" r="1.3" fill="none" stroke="#4a4a4a" stroke-width="1.25"/>
<rect x="738.2" y="882.5" width="4.9" height="96" fill="#f8c34e"/>
<line x1="740.6" y1="882.5" x2="740.6" y2="881.5" stroke="#555555" stroke-width="1.1"/>
<line x1="740.6" y1="864.2" x2="740.6" y2="863.1" stroke="#555555" stroke-width="1.1"/>
<line x1="739.1" y1="863.1" x2="742.1" y2="863.1" stroke="#555555" stroke-width="1.1"/>
<circle cx="740.1" cy="858.2" r="1.3" fill="none" stroke="#4a4a4a" stroke-width="1.25"/>
<circle cx="741" cy="920.3" r="1.3" fill="none" stroke="#4a4a4a" stroke-width="1.25"/>
<circle cx="740.6" cy="971.2" r="1.3" fill="none" stroke="#4a4a4a" stroke-width="1.25"/>
<rect x="750.4" y="976.1" width="4.9" height="2.4" fill="#f8c34e"/>
<circle cx="752.3" cy="973.6" r="1.3" fill="none" stroke="#4a4a4a" stroke-width="1.25"/>
<circle cx="753.2" cy="976.1" r="1.3" fill="none" stroke="#4a4a4a" stroke-width="1.25"/>
<text x="291.3" y="963.3" font-size="8.6" font-weight="bold" text-anchor="middle" fill="#333" letter-spacing="-0.2">**</text>
<line x1="287.7" y1="962.2" x2="294.9" y2="962.2" stroke="#333" stroke-width="1.1"/>
<text x="645.4" y="964.3" font-size="8.6" font-weight="bold" text-anchor="middle" fill="#333" letter-spacing="-0.2">**</text>
<line x1="641.8" y1="963.2" x2="649" y2="963.2" stroke="#333" stroke-width="1.1"/>
<text x="657.6" y="961.6" font-size="8.6" font-weight="bold" text-anchor="middle" fill="#333" letter-spacing="-0.2">*</text>
<line x1="655.4" y1="960.5" x2="659.8" y2="960.5" stroke="#333" stroke-width="1.1"/>
<text x="669.8" y="858.1" font-size="8.6" font-weight="bold" text-anchor="middle" fill="#333" letter-spacing="-0.2">*</text>
<line x1="667.6" y1="857" x2="672" y2="857" stroke="#333" stroke-width="1.1"/>
<text x="682" y="855.1" font-size="8.6" font-weight="bold" text-anchor="middle" fill="#333" letter-spacing="-0.2">*</text>
<line x1="679.8" y1="854" x2="684.2" y2="854" stroke="#333" stroke-width="1.1"/>
<text x="694.2" y="847.4" font-size="8.6" font-weight="bold" text-anchor="middle" fill="#333" letter-spacing="-0.2">**</text>
<line x1="690.6" y1="846.3" x2="697.8" y2="846.3" stroke="#333" stroke-width="1.1"/>
<text x="706.5" y="940.1" font-size="8.6" font-weight="bold" text-anchor="middle" fill="#333" letter-spacing="-0.2">**</text>
<line x1="702.9" y1="939" x2="710.1" y2="939" stroke="#333" stroke-width="1.1"/>
<text x="730.9" y="958.5" font-size="8.6" font-weight="bold" text-anchor="middle" fill="#333" letter-spacing="-0.2">**</text>
<line x1="727.3" y1="957.4" x2="734.5" y2="957.4" stroke="#333" stroke-width="1.1"/>
<text x="743.1" y="855.1" font-size="8.6" font-weight="bold" text-anchor="middle" fill="#333" letter-spacing="-0.2">**</text>
<line x1="739.5" y1="854" x2="746.7" y2="854" stroke="#333" stroke-width="1.1"/>
<text x="755.3" y="970" font-size="8.6" font-weight="bold" text-anchor="middle" fill="#333" letter-spacing="-0.2">**</text>
<line x1="751.7" y1="968.9" x2="758.9" y2="968.9" stroke="#333" stroke-width="1.1"/>
<line x1="271" y1="799.2" x2="271" y2="866.5" stroke="#000" stroke-width="2.1"/>
<line x1="271" y1="880.5" x2="271" y2="979.5" stroke="#000" stroke-width="2.1"/>
<line x1="265.4" y1="861.4" x2="277.5" y2="871.5" stroke="#000" stroke-width="2.1"/>
<line x1="265.4" y1="875" x2="277.5" y2="885.8" stroke="#000" stroke-width="2.1"/>
<line x1="264.8" y1="864.2" x2="271" y2="864.2" stroke="#000" stroke-width="2"/>
<text x="262.4" y="868.2" text-anchor="end" font-size="11" letter-spacing="0.55" fill="#1a1a1a">2.00</text>
<line x1="264.8" y1="827.1" x2="271" y2="827.1" stroke="#000" stroke-width="2"/>
<text x="262.4" y="831.1" text-anchor="end" font-size="11" letter-spacing="0.55" fill="#1a1a1a">18.00</text>
<line x1="264.8" y1="799.2" x2="271" y2="799.2" stroke="#000" stroke-width="2"/>
<text x="262.4" y="803.2" text-anchor="end" font-size="11" letter-spacing="0.55" fill="#1a1a1a">30.00</text>
<line x1="264.8" y1="978.5" x2="271" y2="978.5" stroke="#000" stroke-width="2"/>
<text x="262.4" y="982.5" text-anchor="end" font-size="11" letter-spacing="0.55" fill="#1a1a1a">0.00</text>
<line x1="264.8" y1="954.2" x2="271" y2="954.2" stroke="#000" stroke-width="2"/>
<text x="262.4" y="958.2" text-anchor="end" font-size="11" letter-spacing="0.55" fill="#1a1a1a">0.50</text>
<line x1="264.8" y1="930" x2="271" y2="930" stroke="#000" stroke-width="2"/>
<text x="262.4" y="934" text-anchor="end" font-size="11" letter-spacing="0.55" fill="#1a1a1a">1.00</text>
<line x1="264.8" y1="905.8" x2="271" y2="905.8" stroke="#000" stroke-width="2"/>
<text x="262.4" y="909.8" text-anchor="end" font-size="11" letter-spacing="0.55" fill="#1a1a1a">1.50</text>
<line x1="270" y1="978.5" x2="765.8" y2="978.5" stroke="#000" stroke-width="2.3"/>
<line x1="278.5" y1="978.5" x2="278.5" y2="984.7" stroke="#000" stroke-width="2"/>
<text transform="translate(282.5 995.3) rotate(-45)" text-anchor="end" font-size="10.8" fill="#111">VENT</text>
<line x1="290.7" y1="978.5" x2="290.7" y2="984.7" stroke="#000" stroke-width="2"/>
<text transform="translate(294.7 995.3) rotate(-45)" text-anchor="end" font-size="10.8" fill="#111">PP</text>
<line x1="302.9" y1="978.5" x2="302.9" y2="984.7" stroke="#000" stroke-width="2"/>
<text transform="translate(306.9 995.3) rotate(-45)" text-anchor="end" font-size="10.8" fill="#111">MGd</text>
<line x1="315.1" y1="978.5" x2="315.1" y2="984.7" stroke="#000" stroke-width="2"/>
<text transform="translate(319.1 995.3) rotate(-45)" text-anchor="end" font-size="10.8" fill="#111">MGv</text>
<line x1="327.3" y1="978.5" x2="327.3" y2="984.7" stroke="#000" stroke-width="2"/>
<text transform="translate(331.3 995.3) rotate(-45)" text-anchor="end" font-size="10.8" fill="#111">MGm</text>
<line x1="339.6" y1="978.5" x2="339.6" y2="984.7" stroke="#000" stroke-width="2"/>
<text transform="translate(343.6 995.3) rotate(-45)" text-anchor="end" font-size="10.8" fill="#111">LGd</text>
<line x1="351.8" y1="978.5" x2="351.8" y2="984.7" stroke="#000" stroke-width="2"/>
<text transform="translate(355.8 995.3) rotate(-45)" text-anchor="end" font-size="10.8" fill="#111">LP</text>
<line x1="364" y1="978.5" x2="364" y2="984.7" stroke="#000" stroke-width="2"/>
<text transform="translate(368 995.3) rotate(-45)" text-anchor="end" font-size="10.8" fill="#111">SGN</text>
<line x1="376.2" y1="978.5" x2="376.2" y2="984.7" stroke="#000" stroke-width="2"/>
<text transform="translate(380.2 995.3) rotate(-45)" text-anchor="end" font-size="10.8" fill="#111">PO</text>
<line x1="388.4" y1="978.5" x2="388.4" y2="984.7" stroke="#000" stroke-width="2"/>
<text transform="translate(392.4 995.3) rotate(-45)" text-anchor="end" font-size="10.8" fill="#111">POL</text>
<line x1="400.6" y1="978.5" x2="400.6" y2="984.7" stroke="#000" stroke-width="2"/>
<text transform="translate(404.6 995.3) rotate(-45)" text-anchor="end" font-size="10.8" fill="#111">Eth</text>
<line x1="412.8" y1="978.5" x2="412.8" y2="984.7" stroke="#000" stroke-width="2"/>
<text transform="translate(416.8 995.3) rotate(-45)" text-anchor="end" font-size="10.8" fill="#111">ATN</text>
<line x1="425" y1="978.5" x2="425" y2="984.7" stroke="#000" stroke-width="2"/>
<text transform="translate(429 995.3) rotate(-45)" text-anchor="end" font-size="10.8" fill="#111">MED</text>
<line x1="437.2" y1="978.5" x2="437.2" y2="984.7" stroke="#000" stroke-width="2"/>
<text transform="translate(441.2 995.3) rotate(-45)" text-anchor="end" font-size="10.8" fill="#111">ILM</text>
<line x1="449.4" y1="978.5" x2="449.4" y2="984.7" stroke="#000" stroke-width="2"/>
<text transform="translate(453.4 995.3) rotate(-45)" text-anchor="end" font-size="10.8" fill="#111">GENv</text>
<line x1="461.6" y1="978.5" x2="461.6" y2="984.7" stroke="#000" stroke-width="2"/>
<text transform="translate(465.6 995.3) rotate(-45)" text-anchor="end" font-size="10.8" fill="#111">RT</text>
<line x1="473.9" y1="978.5" x2="473.9" y2="984.7" stroke="#000" stroke-width="2"/>
<text transform="translate(477.9 995.3) rotate(-45)" text-anchor="end" font-size="10.8" fill="#111">CA1</text>
<line x1="486.1" y1="978.5" x2="486.1" y2="984.7" stroke="#000" stroke-width="2"/>
<text transform="translate(490.1 995.3) rotate(-45)" text-anchor="end" font-size="10.8" fill="#111">DG-mo</text>
<line x1="498.3" y1="978.5" x2="498.3" y2="984.7" stroke="#000" stroke-width="2"/>
<text transform="translate(502.3 995.3) rotate(-45)" text-anchor="end" font-size="10.8" fill="#111">ENT</text>
<line x1="510.5" y1="978.5" x2="510.5" y2="984.7" stroke="#000" stroke-width="2"/>
<text transform="translate(514.5 995.3) rotate(-45)" text-anchor="end" font-size="10.8" fill="#111">ProS</text>
<line x1="522.7" y1="978.5" x2="522.7" y2="984.7" stroke="#000" stroke-width="2"/>
<text transform="translate(526.7 995.3) rotate(-45)" text-anchor="end" font-size="10.8" fill="#111">CLA</text>
<line x1="534.9" y1="978.5" x2="534.9" y2="984.7" stroke="#000" stroke-width="2"/>
<text transform="translate(538.9 995.3) rotate(-45)" text-anchor="end" font-size="10.8" fill="#111">EP</text>
<line x1="547.1" y1="978.5" x2="547.1" y2="984.7" stroke="#000" stroke-width="2"/>
<text transform="translate(551.1 995.3) rotate(-45)" text-anchor="end" font-size="10.8" fill="#111">LA</text>
<line x1="559.3" y1="978.5" x2="559.3" y2="984.7" stroke="#000" stroke-width="2"/>
<text transform="translate(563.3 995.3) rotate(-45)" text-anchor="end" font-size="10.8" fill="#111">BLA</text>
<line x1="571.5" y1="978.5" x2="571.5" y2="984.7" stroke="#000" stroke-width="2"/>
<text transform="translate(575.5 995.3) rotate(-45)" text-anchor="end" font-size="10.8" fill="#111">CP</text>
<line x1="583.8" y1="978.5" x2="583.8" y2="984.7" stroke="#000" stroke-width="2"/>
<text transform="translate(587.8 995.3) rotate(-45)" text-anchor="end" font-size="10.8" fill="#111">sAMY</text>
<line x1="596" y1="978.5" x2="596" y2="984.7" stroke="#000" stroke-width="2"/>
<text transform="translate(600 995.3) rotate(-45)" text-anchor="end" font-size="10.8" fill="#111">PALv</text>
<line x1="608.2" y1="978.5" x2="608.2" y2="984.7" stroke="#000" stroke-width="2"/>
<text transform="translate(612.2 995.3) rotate(-45)" text-anchor="end" font-size="10.8" fill="#111">PALd</text>
<line x1="620.4" y1="978.5" x2="620.4" y2="984.7" stroke="#000" stroke-width="2"/>
<text transform="translate(624.4 995.3) rotate(-45)" text-anchor="end" font-size="10.8" fill="#111">PIR</text>
<line x1="632.6" y1="978.5" x2="632.6" y2="984.7" stroke="#000" stroke-width="2"/>
<text transform="translate(636.6 995.3) rotate(-45)" text-anchor="end" font-size="10.8" fill="#111">LZ</text>
<line x1="644.8" y1="978.5" x2="644.8" y2="984.7" stroke="#000" stroke-width="2"/>
<text transform="translate(648.8 995.3) rotate(-45)" text-anchor="end" font-size="10.8" fill="#111">NB</text>
<line x1="657" y1="978.5" x2="657" y2="984.7" stroke="#000" stroke-width="2"/>
<text transform="translate(661 995.3) rotate(-45)" text-anchor="end" font-size="10.8" fill="#111">ICc</text>
<line x1="669.2" y1="978.5" x2="669.2" y2="984.7" stroke="#000" stroke-width="2"/>
<text transform="translate(673.2 995.3) rotate(-45)" text-anchor="end" font-size="10.8" fill="#111">ICd</text>
<line x1="681.4" y1="978.5" x2="681.4" y2="984.7" stroke="#000" stroke-width="2"/>
<text transform="translate(685.4 995.3) rotate(-45)" text-anchor="end" font-size="10.8" fill="#111">ICe</text>
<line x1="693.6" y1="978.5" x2="693.6" y2="984.7" stroke="#000" stroke-width="2"/>
<text transform="translate(697.6 995.3) rotate(-45)" text-anchor="end" font-size="10.8" fill="#111">SCs</text>
<line x1="705.9" y1="978.5" x2="705.9" y2="984.7" stroke="#000" stroke-width="2"/>
<text transform="translate(709.9 995.3) rotate(-45)" text-anchor="end" font-size="10.8" fill="#111">SCm</text>
<line x1="718.1" y1="978.5" x2="718.1" y2="984.7" stroke="#000" stroke-width="2"/>
<text transform="translate(722.1 995.3) rotate(-45)" text-anchor="end" font-size="10.8" fill="#111">PRT</text>
<line x1="730.3" y1="978.5" x2="730.3" y2="984.7" stroke="#000" stroke-width="2"/>
<text transform="translate(734.3 995.3) rotate(-45)" text-anchor="end" font-size="10.8" fill="#111">MRN</text>
<line x1="742.5" y1="978.5" x2="742.5" y2="984.7" stroke="#000" stroke-width="2"/>
<text transform="translate(746.5 995.3) rotate(-45)" text-anchor="end" font-size="10.8" fill="#111">SNr</text>
<line x1="754.7" y1="978.5" x2="754.7" y2="984.7" stroke="#000" stroke-width="2"/>
<text transform="translate(758.7 995.3) rotate(-45)" text-anchor="end" font-size="10.8" fill="#111">P-mot</text>
<line x1="468.2" y1="1021.7" x2="517.2" y2="1021.7" stroke="#000" stroke-width="1.5"/>
<text x="492.9" y="1034.9" text-anchor="middle" font-size="12.3" fill="#111">HPF</text>
<line x1="565" y1="1021.7" x2="591" y2="1021.7" stroke="#000" stroke-width="1.5"/>
<text x="578.2" y="1034.9" text-anchor="middle" font-size="12.3" fill="#111">STR</text>
<line x1="614.9" y1="1021.7" x2="626.7" y2="1021.7" stroke="#000" stroke-width="1.5"/>
<text x="620.3" y="1034.9" text-anchor="middle" font-size="12.3" fill="#111">OLF</text>
<line x1="639" y1="1021.7" x2="748.2" y2="1021.7" stroke="#000" stroke-width="1.5"/>
<text x="694.5" y="1034.9" text-anchor="middle" font-size="12.3" fill="#111">MB</text>
<text x="44.8" y="511.6" font-size="12.2" fill="#222" textLength="77.2" lengthAdjust="spacingAndGlyphs">Proportion(%)</text>
<text x="258.6" y="510.8" font-size="12.2" fill="#222" textLength="77.2" lengthAdjust="spacingAndGlyphs">Proportion(%)</text>
<text x="44.8" y="789.7" font-size="12.2" fill="#222" textLength="77.2" lengthAdjust="spacingAndGlyphs">Proportion(%)</text>
<text x="258.6" y="790.4" font-size="12.2" fill="#222" textLength="77.2" lengthAdjust="spacingAndGlyphs">Proportion(%)</text>
<rect x="608" y="512.3" width="12" height="8.1" fill="#ee6064"/>
<text x="624.2" y="519.8" font-size="9.8" fill="#222" textLength="78.9" lengthAdjust="spacingAndGlyphs">Inputs to excitatory</text>
<rect x="608" y="530.4" width="12" height="8" fill="#4d6bcb"/>
<text x="624.2" y="537.5" font-size="9.8" fill="#222" textLength="76.1" lengthAdjust="spacingAndGlyphs">Inputs to inhibitory</text>
<rect x="608.4" y="791" width="11.6" height="8.6" fill="#f8c34e"/>
<text x="624.2" y="798.6" font-size="9.8" fill="#222" textLength="111.4" lengthAdjust="spacingAndGlyphs">Projections from excitatory</text>
<rect x="608.4" y="808.3" width="11.6" height="8.4" fill="#80c463"/>
<text x="624.2" y="815.9" font-size="9.8" fill="#222" textLength="108.7" lengthAdjust="spacingAndGlyphs">Projections from inhibitory</text>
<text x="2.6" y="15.4" font-size="17.5" font-weight="bold" fill="#000">A</text>
<text x="2.8" y="247.6" font-size="17.5" font-weight="bold" fill="#000">B</text>
<text x="2.2" y="368.6" font-size="17.5" font-weight="bold" fill="#000">C</text>
<text x="456.2" y="369" font-size="17.5" font-weight="bold" fill="#000">D</text>
<text x="2.6" y="509.7" font-size="17.5" font-weight="bold" fill="#000">E</text>
<text x="222.4" y="509.2" font-size="17.5" font-weight="bold" fill="#000">F</text>
<text x="2" y="790" font-size="17.5" font-weight="bold" fill="#000">G</text>
<text x="222.4" y="789" font-size="17.5" font-weight="bold" fill="#000">H</text>
</svg>
</body></html>
